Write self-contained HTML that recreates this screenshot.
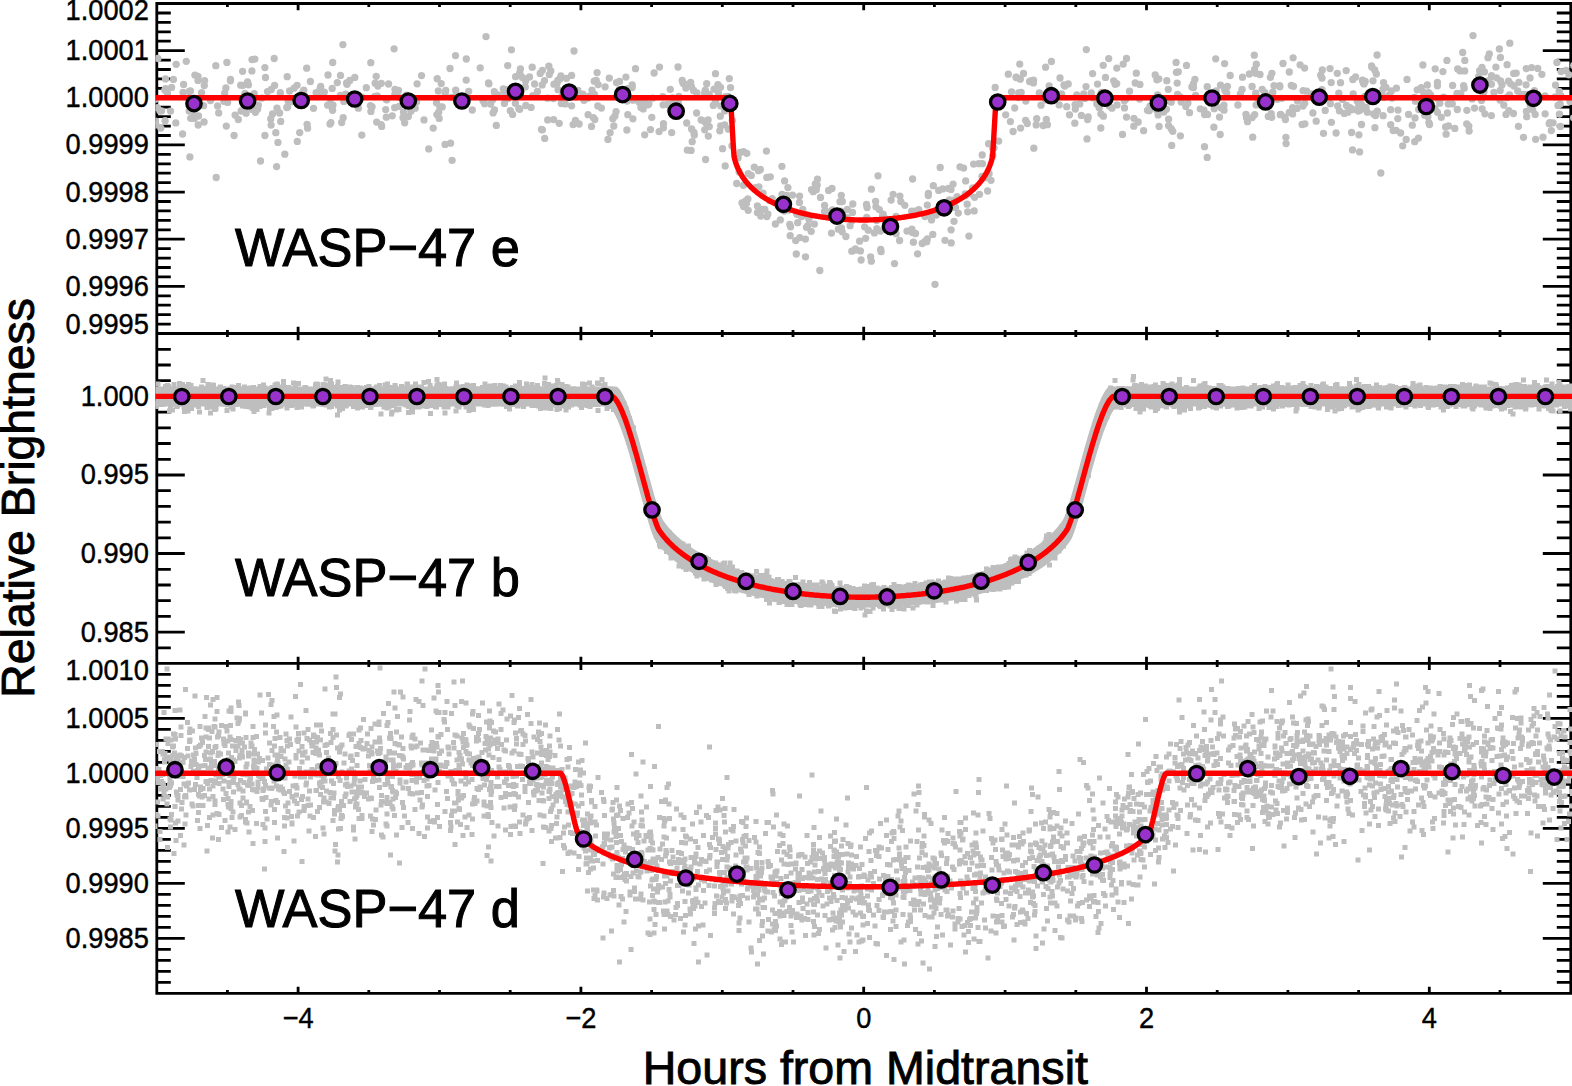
<!DOCTYPE html>
<html lang="en"><head><meta charset="utf-8"><title>WASP-47 transits</title>
<style>html,body{margin:0;padding:0;background:#fff}svg{display:block}</style></head>
<body>
<svg width="1572" height="1086" viewBox="0 0 1572 1086">
<rect width="1572" height="1086" fill="#fff"/>
<defs>
<clipPath id="c1"><rect x="155.4" y="2.2" width="1417.8" height="331.3"/></clipPath>
<clipPath id="c2"><rect x="155.4" y="333.5" width="1417.8" height="329.9"/></clipPath>
<clipPath id="c3"><rect x="155.4" y="663.4" width="1417.8" height="331.4"/></clipPath>
</defs>
<path d="M156.8 3.5H1570.8V993.4H156.8ZM156.8 333.5H1570.8M156.8 663.4H1570.8M227.4 3.5v3.5M227.4 330.0v7.0M227.4 659.9v7.0M227.4 989.9v3.5M298.1 3.5v6.7M298.1 326.8v13.4M298.1 656.7v13.4M298.1 986.7v6.7M368.8 3.5v3.5M368.8 330.0v7.0M368.8 659.9v7.0M368.8 989.9v3.5M439.5 3.5v3.5M439.5 330.0v7.0M439.5 659.9v7.0M439.5 989.9v3.5M510.2 3.5v3.5M510.2 330.0v7.0M510.2 659.9v7.0M510.2 989.9v3.5M580.9 3.5v6.7M580.9 326.8v13.4M580.9 656.7v13.4M580.9 986.7v6.7M651.6 3.5v3.5M651.6 330.0v7.0M651.6 659.9v7.0M651.6 989.9v3.5M722.3 3.5v3.5M722.3 330.0v7.0M722.3 659.9v7.0M722.3 989.9v3.5M793.0 3.5v3.5M793.0 330.0v7.0M793.0 659.9v7.0M793.0 989.9v3.5M863.7 3.5v6.7M863.7 326.8v13.4M863.7 656.7v13.4M863.7 986.7v6.7M934.4 3.5v3.5M934.4 330.0v7.0M934.4 659.9v7.0M934.4 989.9v3.5M1005.1 3.5v3.5M1005.1 330.0v7.0M1005.1 659.9v7.0M1005.1 989.9v3.5M1075.8 3.5v3.5M1075.8 330.0v7.0M1075.8 659.9v7.0M1075.8 989.9v3.5M1146.5 3.5v6.7M1146.5 326.8v13.4M1146.5 656.7v13.4M1146.5 986.7v6.7M1217.2 3.5v3.5M1217.2 330.0v7.0M1217.2 659.9v7.0M1217.2 989.9v3.5M1287.9 3.5v3.5M1287.9 330.0v7.0M1287.9 659.9v7.0M1287.9 989.9v3.5M1358.6 3.5v3.5M1358.6 330.0v7.0M1358.6 659.9v7.0M1358.6 989.9v3.5M1429.3 3.5v6.7M1429.3 326.8v13.4M1429.3 656.7v13.4M1429.3 986.7v6.7M1500.0 3.5v3.5M1500.0 330.0v7.0M1500.0 659.9v7.0M1500.0 989.9v3.5M156.8 13.0h14.0M1570.8 13.0h-14.0M156.8 22.4h14.0M1570.8 22.4h-14.0M156.8 31.8h14.0M1570.8 31.8h-14.0M156.8 41.2h14.0M1570.8 41.2h-14.0M156.8 50.7h28.0M1570.8 50.7h-28.0M156.8 60.1h14.0M1570.8 60.1h-14.0M156.8 69.5h14.0M1570.8 69.5h-14.0M156.8 78.9h14.0M1570.8 78.9h-14.0M156.8 88.4h14.0M1570.8 88.4h-14.0M156.8 97.8h28.0M1570.8 97.8h-28.0M156.8 107.2h14.0M1570.8 107.2h-14.0M156.8 116.7h14.0M1570.8 116.7h-14.0M156.8 126.1h14.0M1570.8 126.1h-14.0M156.8 135.5h14.0M1570.8 135.5h-14.0M156.8 144.9h28.0M1570.8 144.9h-28.0M156.8 154.4h14.0M1570.8 154.4h-14.0M156.8 163.8h14.0M1570.8 163.8h-14.0M156.8 173.2h14.0M1570.8 173.2h-14.0M156.8 182.6h14.0M1570.8 182.6h-14.0M156.8 192.1h28.0M1570.8 192.1h-28.0M156.8 201.5h14.0M1570.8 201.5h-14.0M156.8 210.9h14.0M1570.8 210.9h-14.0M156.8 220.4h14.0M1570.8 220.4h-14.0M156.8 229.8h14.0M1570.8 229.8h-14.0M156.8 239.2h28.0M1570.8 239.2h-28.0M156.8 248.6h14.0M1570.8 248.6h-14.0M156.8 258.1h14.0M1570.8 258.1h-14.0M156.8 267.5h14.0M1570.8 267.5h-14.0M156.8 276.9h14.0M1570.8 276.9h-14.0M156.8 286.3h28.0M1570.8 286.3h-28.0M156.8 295.8h14.0M1570.8 295.8h-14.0M156.8 305.2h14.0M1570.8 305.2h-14.0M156.8 314.6h14.0M1570.8 314.6h-14.0M156.8 324.1h14.0M1570.8 324.1h-14.0M156.8 349.3h14.0M1570.8 349.3h-14.0M156.8 365.0h14.0M1570.8 365.0h-14.0M156.8 380.7h14.0M1570.8 380.7h-14.0M156.8 396.4h28.0M1570.8 396.4h-28.0M156.8 412.1h14.0M1570.8 412.1h-14.0M156.8 427.8h14.0M1570.8 427.8h-14.0M156.8 443.5h14.0M1570.8 443.5h-14.0M156.8 459.3h14.0M1570.8 459.3h-14.0M156.8 475.0h28.0M1570.8 475.0h-28.0M156.8 490.7h14.0M1570.8 490.7h-14.0M156.8 506.4h14.0M1570.8 506.4h-14.0M156.8 522.1h14.0M1570.8 522.1h-14.0M156.8 537.8h14.0M1570.8 537.8h-14.0M156.8 553.5h28.0M1570.8 553.5h-28.0M156.8 569.3h14.0M1570.8 569.3h-14.0M156.8 585.0h14.0M1570.8 585.0h-14.0M156.8 600.7h14.0M1570.8 600.7h-14.0M156.8 616.4h14.0M1570.8 616.4h-14.0M156.8 632.1h28.0M1570.8 632.1h-28.0M156.8 647.8h14.0M1570.8 647.8h-14.0M156.8 674.3h14.0M1570.8 674.3h-14.0M156.8 685.3h14.0M1570.8 685.3h-14.0M156.8 696.3h14.0M1570.8 696.3h-14.0M156.8 707.3h14.0M1570.8 707.3h-14.0M156.8 718.3h28.0M1570.8 718.3h-28.0M156.8 729.3h14.0M1570.8 729.3h-14.0M156.8 740.3h14.0M1570.8 740.3h-14.0M156.8 751.3h14.0M1570.8 751.3h-14.0M156.8 762.3h14.0M1570.8 762.3h-14.0M156.8 773.3h28.0M1570.8 773.3h-28.0M156.8 784.3h14.0M1570.8 784.3h-14.0M156.8 795.3h14.0M1570.8 795.3h-14.0M156.8 806.3h14.0M1570.8 806.3h-14.0M156.8 817.3h14.0M1570.8 817.3h-14.0M156.8 828.3h28.0M1570.8 828.3h-28.0M156.8 839.3h14.0M1570.8 839.3h-14.0M156.8 850.3h14.0M1570.8 850.3h-14.0M156.8 861.3h14.0M1570.8 861.3h-14.0M156.8 872.3h14.0M1570.8 872.3h-14.0M156.8 883.3h28.0M1570.8 883.3h-28.0M156.8 894.3h14.0M1570.8 894.3h-14.0M156.8 905.3h14.0M1570.8 905.3h-14.0M156.8 916.3h14.0M1570.8 916.3h-14.0M156.8 927.3h14.0M1570.8 927.3h-14.0M156.8 938.3h28.0M1570.8 938.3h-28.0M156.8 949.3h14.0M1570.8 949.3h-14.0M156.8 960.3h14.0M1570.8 960.3h-14.0M156.8 971.3h14.0M1570.8 971.3h-14.0M156.8 982.3h14.0M1570.8 982.3h-14.0" fill="none" stroke="#000" stroke-width="2.8" stroke-linecap="butt" stroke-linejoin="miter"/>
<g fill="#bebebe">
<g clip-path="url(#c1)">
<circle cx="1207.2" cy="157.4" r="3.65"/><circle cx="1224.0" cy="110.2" r="3.65"/><circle cx="814.4" cy="224.1" r="3.65"/><circle cx="301.1" cy="94.8" r="3.65"/><circle cx="1526.7" cy="116.7" r="3.65"/><circle cx="609.3" cy="78.1" r="3.65"/><circle cx="438.3" cy="90.9" r="3.65"/><circle cx="1371.8" cy="67.1" r="3.65"/><circle cx="882.5" cy="216.0" r="3.65"/><circle cx="408.3" cy="116.6" r="3.65"/><circle cx="1219.5" cy="117.1" r="3.65"/><circle cx="1279.8" cy="86.8" r="3.65"/><circle cx="940.2" cy="167.5" r="3.65"/><circle cx="1320.7" cy="75.2" r="3.65"/><circle cx="1021.2" cy="92.4" r="3.65"/><circle cx="769.6" cy="200.4" r="3.65"/><circle cx="594.5" cy="94.3" r="3.65"/><circle cx="1168.3" cy="89.3" r="3.65"/><circle cx="1434.9" cy="108.5" r="3.65"/><circle cx="428.7" cy="148.9" r="3.65"/><circle cx="1020.3" cy="79.2" r="3.65"/><circle cx="241.1" cy="111.0" r="3.65"/><circle cx="936.3" cy="215.0" r="3.65"/><circle cx="313.5" cy="108.3" r="3.65"/><circle cx="1226.7" cy="93.1" r="3.65"/><circle cx="1508.8" cy="110.6" r="3.65"/><circle cx="1495.9" cy="67.1" r="3.65"/><circle cx="1177.2" cy="83.1" r="3.65"/><circle cx="1191.9" cy="87.0" r="3.65"/><circle cx="1143.6" cy="130.7" r="3.65"/><circle cx="933.3" cy="185.7" r="3.65"/><circle cx="567.1" cy="96.0" r="3.65"/><circle cx="757.4" cy="205.9" r="3.65"/><circle cx="1435.2" cy="68.8" r="3.65"/><circle cx="1566.0" cy="70.5" r="3.65"/><circle cx="1362.5" cy="80.2" r="3.65"/><circle cx="1103.2" cy="65.3" r="3.65"/><circle cx="796.9" cy="214.3" r="3.65"/><circle cx="1074.8" cy="123.2" r="3.65"/><circle cx="1381.9" cy="92.8" r="3.65"/><circle cx="1491.4" cy="84.2" r="3.65"/><circle cx="1526.1" cy="84.8" r="3.65"/><circle cx="176.2" cy="64.3" r="3.65"/><circle cx="1048.5" cy="93.0" r="3.65"/><circle cx="488.9" cy="83.8" r="3.65"/><circle cx="190.4" cy="90.9" r="3.65"/><circle cx="225.9" cy="87.9" r="3.65"/><circle cx="1330.0" cy="68.6" r="3.65"/><circle cx="760.4" cy="169.4" r="3.65"/><circle cx="287.7" cy="106.8" r="3.65"/><circle cx="1496.6" cy="77.8" r="3.65"/><circle cx="842.2" cy="231.8" r="3.65"/><circle cx="1176.4" cy="72.3" r="3.65"/><circle cx="951.0" cy="189.4" r="3.65"/><circle cx="927.3" cy="205.1" r="3.65"/><circle cx="955.5" cy="207.4" r="3.65"/><circle cx="515.6" cy="76.7" r="3.65"/><circle cx="654.1" cy="73.0" r="3.65"/><circle cx="399.2" cy="97.4" r="3.65"/><circle cx="1225.4" cy="88.9" r="3.65"/><circle cx="841.4" cy="227.8" r="3.65"/><circle cx="861.1" cy="260.0" r="3.65"/><circle cx="659.1" cy="131.6" r="3.65"/><circle cx="1523.5" cy="137.3" r="3.65"/><circle cx="1500.4" cy="57.4" r="3.65"/><circle cx="775.4" cy="224.0" r="3.65"/><circle cx="246.0" cy="99.8" r="3.65"/><circle cx="1484.9" cy="113.8" r="3.65"/><circle cx="1139.9" cy="84.4" r="3.65"/><circle cx="718.5" cy="93.3" r="3.65"/><circle cx="1421.2" cy="87.6" r="3.65"/><circle cx="217.6" cy="105.9" r="3.65"/><circle cx="593.3" cy="117.6" r="3.65"/><circle cx="871.4" cy="189.2" r="3.65"/><circle cx="985.0" cy="177.8" r="3.65"/><circle cx="529.5" cy="77.0" r="3.65"/><circle cx="234.1" cy="135.5" r="3.65"/><circle cx="190.7" cy="118.3" r="3.65"/><circle cx="216.2" cy="177.5" r="3.65"/><circle cx="1283.0" cy="63.5" r="3.65"/><circle cx="984.3" cy="177.6" r="3.65"/><circle cx="1150.0" cy="106.2" r="3.65"/><circle cx="758.9" cy="186.8" r="3.65"/><circle cx="275.8" cy="132.7" r="3.65"/><circle cx="1377.1" cy="55.0" r="3.65"/><circle cx="784.7" cy="200.0" r="3.65"/><circle cx="1445.6" cy="127.0" r="3.65"/><circle cx="1103.4" cy="116.2" r="3.65"/><circle cx="1039.3" cy="92.9" r="3.65"/><circle cx="1247.5" cy="121.7" r="3.65"/><circle cx="817.2" cy="185.1" r="3.65"/><circle cx="573.1" cy="124.6" r="3.65"/><circle cx="307.1" cy="124.3" r="3.65"/><circle cx="376.7" cy="122.1" r="3.65"/><circle cx="403.5" cy="112.3" r="3.65"/><circle cx="1086.0" cy="86.6" r="3.65"/><circle cx="632.9" cy="118.8" r="3.65"/><circle cx="1068.2" cy="83.9" r="3.65"/><circle cx="1125.7" cy="99.2" r="3.65"/><circle cx="824.5" cy="211.4" r="3.65"/><circle cx="724.8" cy="124.9" r="3.65"/><circle cx="715.7" cy="99.7" r="3.65"/><circle cx="1518.9" cy="82.3" r="3.65"/><circle cx="790.2" cy="235.7" r="3.65"/><circle cx="1513.4" cy="113.5" r="3.65"/><circle cx="1396.1" cy="130.3" r="3.65"/><circle cx="904.8" cy="205.3" r="3.65"/><circle cx="1530.0" cy="78.0" r="3.65"/><circle cx="218.7" cy="112.9" r="3.65"/><circle cx="358.4" cy="108.2" r="3.65"/><circle cx="517.5" cy="91.7" r="3.65"/><circle cx="1156.9" cy="79.8" r="3.65"/><circle cx="1553.1" cy="122.8" r="3.65"/><circle cx="831.5" cy="233.1" r="3.65"/><circle cx="1284.9" cy="117.1" r="3.65"/><circle cx="1376.3" cy="74.0" r="3.65"/><circle cx="381.1" cy="124.6" r="3.65"/><circle cx="828.6" cy="190.4" r="3.65"/><circle cx="410.9" cy="111.3" r="3.65"/><circle cx="1429.5" cy="124.6" r="3.65"/><circle cx="1443.6" cy="97.1" r="3.65"/><circle cx="506.7" cy="97.5" r="3.65"/><circle cx="1507.1" cy="64.7" r="3.65"/><circle cx="1400.6" cy="133.0" r="3.65"/><circle cx="786.9" cy="195.3" r="3.65"/><circle cx="1086.3" cy="49.6" r="3.65"/><circle cx="896.1" cy="233.7" r="3.65"/><circle cx="1254.7" cy="114.6" r="3.65"/><circle cx="911.9" cy="229.2" r="3.65"/><circle cx="1509.5" cy="94.8" r="3.65"/><circle cx="540.2" cy="73.4" r="3.65"/><circle cx="332.7" cy="62.5" r="3.65"/><circle cx="332.2" cy="88.4" r="3.65"/><circle cx="1506.8" cy="97.7" r="3.65"/><circle cx="974.2" cy="210.9" r="3.65"/><circle cx="1157.7" cy="94.8" r="3.65"/><circle cx="1010.4" cy="121.6" r="3.65"/><circle cx="1025.8" cy="101.1" r="3.65"/><circle cx="1020.6" cy="128.1" r="3.65"/><circle cx="937.6" cy="209.3" r="3.65"/><circle cx="954.4" cy="200.2" r="3.65"/><circle cx="1367.3" cy="112.2" r="3.65"/><circle cx="740.0" cy="152.5" r="3.65"/><circle cx="875.6" cy="201.3" r="3.65"/><circle cx="1375.5" cy="115.5" r="3.65"/><circle cx="1446.1" cy="134.2" r="3.65"/><circle cx="1531.6" cy="67.6" r="3.65"/><circle cx="271.1" cy="125.1" r="3.65"/><circle cx="815.3" cy="184.0" r="3.65"/><circle cx="1092.6" cy="73.6" r="3.65"/><circle cx="1398.0" cy="110.1" r="3.65"/><circle cx="1352.5" cy="149.9" r="3.65"/><circle cx="496.3" cy="125.4" r="3.65"/><circle cx="1502.0" cy="84.7" r="3.65"/><circle cx="708.1" cy="120.0" r="3.65"/><circle cx="894.5" cy="263.6" r="3.65"/><circle cx="1047.4" cy="124.7" r="3.65"/><circle cx="875.9" cy="206.8" r="3.65"/><circle cx="1270.4" cy="77.3" r="3.65"/><circle cx="1101.1" cy="93.5" r="3.65"/><circle cx="1069.5" cy="114.8" r="3.65"/><circle cx="1242.5" cy="77.2" r="3.65"/><circle cx="445.2" cy="94.0" r="3.65"/><circle cx="576.1" cy="96.9" r="3.65"/><circle cx="588.0" cy="98.0" r="3.65"/><circle cx="806.5" cy="227.3" r="3.65"/><circle cx="165.5" cy="78.9" r="3.65"/><circle cx="979.5" cy="194.3" r="3.65"/><circle cx="415.2" cy="108.2" r="3.65"/><circle cx="331.9" cy="107.2" r="3.65"/><circle cx="1383.1" cy="88.8" r="3.65"/><circle cx="194.3" cy="118.5" r="3.65"/><circle cx="784.6" cy="180.9" r="3.65"/><circle cx="372.1" cy="106.8" r="3.65"/><circle cx="672.4" cy="98.0" r="3.65"/><circle cx="1014.8" cy="108.0" r="3.65"/><circle cx="729.3" cy="78.6" r="3.65"/><circle cx="299.7" cy="132.6" r="3.65"/><circle cx="547.7" cy="119.9" r="3.65"/><circle cx="324.3" cy="92.1" r="3.65"/><circle cx="280.7" cy="121.4" r="3.65"/><circle cx="227.6" cy="102.4" r="3.65"/><circle cx="251.9" cy="70.9" r="3.65"/><circle cx="242.9" cy="85.3" r="3.65"/><circle cx="330.3" cy="98.8" r="3.65"/><circle cx="1530.2" cy="105.2" r="3.65"/><circle cx="242.6" cy="71.3" r="3.65"/><circle cx="1157.6" cy="95.5" r="3.65"/><circle cx="953.1" cy="184.1" r="3.65"/><circle cx="439.9" cy="106.9" r="3.65"/><circle cx="676.9" cy="115.9" r="3.65"/><circle cx="1297.5" cy="101.1" r="3.65"/><circle cx="319.7" cy="93.4" r="3.65"/><circle cx="1418.7" cy="109.5" r="3.65"/><circle cx="915.5" cy="233.5" r="3.65"/><circle cx="399.2" cy="106.4" r="3.65"/><circle cx="644.1" cy="101.9" r="3.65"/><circle cx="542.4" cy="70.3" r="3.65"/><circle cx="743.6" cy="206.5" r="3.65"/><circle cx="738.1" cy="158.1" r="3.65"/><circle cx="1168.6" cy="125.6" r="3.65"/><circle cx="436.9" cy="114.6" r="3.65"/><circle cx="1136.3" cy="73.2" r="3.65"/><circle cx="518.8" cy="108.5" r="3.65"/><circle cx="157.4" cy="107.7" r="3.65"/><circle cx="807.8" cy="225.6" r="3.65"/><circle cx="394.8" cy="94.7" r="3.65"/><circle cx="566.5" cy="78.3" r="3.65"/><circle cx="663.1" cy="104.8" r="3.65"/><circle cx="1560.8" cy="95.6" r="3.65"/><circle cx="1214.2" cy="108.7" r="3.65"/><circle cx="1337.7" cy="106.0" r="3.65"/><circle cx="506.8" cy="90.0" r="3.65"/><circle cx="876.8" cy="228.7" r="3.65"/><circle cx="969.5" cy="193.9" r="3.65"/><circle cx="868.3" cy="230.2" r="3.65"/><circle cx="1237.9" cy="105.0" r="3.65"/><circle cx="766.8" cy="216.6" r="3.65"/><circle cx="306.7" cy="68.2" r="3.65"/><circle cx="1100.6" cy="96.7" r="3.65"/><circle cx="1302.9" cy="106.0" r="3.65"/><circle cx="167.5" cy="93.5" r="3.65"/><circle cx="276.6" cy="166.6" r="3.65"/><circle cx="1178.3" cy="71.8" r="3.65"/><circle cx="1289.3" cy="72.0" r="3.65"/><circle cx="691.1" cy="150.4" r="3.65"/><circle cx="601.4" cy="108.1" r="3.65"/><circle cx="951.5" cy="206.1" r="3.65"/><circle cx="557.8" cy="80.5" r="3.65"/><circle cx="450.6" cy="143.2" r="3.65"/><circle cx="879.3" cy="209.6" r="3.65"/><circle cx="1407.0" cy="79.4" r="3.65"/><circle cx="1165.1" cy="101.2" r="3.65"/><circle cx="392.2" cy="115.8" r="3.65"/><circle cx="648.9" cy="103.8" r="3.65"/><circle cx="1271.7" cy="117.3" r="3.65"/><circle cx="1427.3" cy="85.0" r="3.65"/><circle cx="244.9" cy="93.5" r="3.65"/><circle cx="507.7" cy="98.7" r="3.65"/><circle cx="1484.0" cy="91.4" r="3.65"/><circle cx="988.6" cy="143.7" r="3.65"/><circle cx="198.0" cy="80.4" r="3.65"/><circle cx="1177.6" cy="94.4" r="3.65"/><circle cx="310.4" cy="81.5" r="3.65"/><circle cx="1491.6" cy="75.7" r="3.65"/><circle cx="361.8" cy="135.1" r="3.65"/><circle cx="1221.0" cy="107.8" r="3.65"/><circle cx="349.8" cy="80.4" r="3.65"/><circle cx="684.1" cy="84.0" r="3.65"/><circle cx="189.9" cy="156.9" r="3.65"/><circle cx="1418.5" cy="138.1" r="3.65"/><circle cx="1224.9" cy="90.6" r="3.65"/><circle cx="667.5" cy="104.5" r="3.65"/><circle cx="256.4" cy="105.9" r="3.65"/><circle cx="161.6" cy="110.8" r="3.65"/><circle cx="343.2" cy="117.7" r="3.65"/><circle cx="1316.1" cy="96.3" r="3.65"/><circle cx="333.0" cy="105.1" r="3.65"/><circle cx="644.7" cy="134.8" r="3.65"/><circle cx="772.2" cy="198.6" r="3.65"/><circle cx="549.3" cy="74.6" r="3.65"/><circle cx="210.5" cy="100.6" r="3.65"/><circle cx="736.7" cy="183.5" r="3.65"/><circle cx="255.4" cy="112.3" r="3.65"/><circle cx="693.6" cy="90.5" r="3.65"/><circle cx="198.0" cy="76.3" r="3.65"/><circle cx="513.8" cy="87.5" r="3.65"/><circle cx="811.2" cy="231.3" r="3.65"/><circle cx="1180.2" cy="96.8" r="3.65"/><circle cx="880.7" cy="249.5" r="3.65"/><circle cx="337.3" cy="82.6" r="3.65"/><circle cx="1043.2" cy="125.5" r="3.65"/><circle cx="505.2" cy="98.8" r="3.65"/><circle cx="754.3" cy="167.2" r="3.65"/><circle cx="992.8" cy="155.6" r="3.65"/><circle cx="238.3" cy="119.5" r="3.65"/><circle cx="562.1" cy="96.8" r="3.65"/><circle cx="770.3" cy="176.8" r="3.65"/><circle cx="1031.1" cy="81.0" r="3.65"/><circle cx="1105.5" cy="77.4" r="3.65"/><circle cx="627.1" cy="101.0" r="3.65"/><circle cx="1358.9" cy="134.8" r="3.65"/><circle cx="1510.7" cy="83.8" r="3.65"/><circle cx="838.4" cy="229.2" r="3.65"/><circle cx="1350.0" cy="107.6" r="3.65"/><circle cx="1464.8" cy="60.4" r="3.65"/><circle cx="1545.1" cy="96.0" r="3.65"/><circle cx="1340.5" cy="82.7" r="3.65"/><circle cx="1293.1" cy="57.8" r="3.65"/><circle cx="1545.1" cy="113.8" r="3.65"/><circle cx="757.4" cy="212.6" r="3.65"/><circle cx="799.4" cy="202.4" r="3.65"/><circle cx="532.6" cy="95.8" r="3.65"/><circle cx="1264.9" cy="92.6" r="3.65"/><circle cx="763.1" cy="193.1" r="3.65"/><circle cx="297.1" cy="85.3" r="3.65"/><circle cx="1359.6" cy="151.9" r="3.65"/><circle cx="1246.0" cy="114.3" r="3.65"/><circle cx="1227.4" cy="86.3" r="3.65"/><circle cx="1292.6" cy="107.6" r="3.65"/><circle cx="874.4" cy="232.9" r="3.65"/><circle cx="859.6" cy="241.2" r="3.65"/><circle cx="1166.4" cy="109.3" r="3.65"/><circle cx="691.4" cy="86.6" r="3.65"/><circle cx="847.2" cy="217.7" r="3.65"/><circle cx="330.4" cy="104.3" r="3.65"/><circle cx="534.6" cy="84.0" r="3.65"/><circle cx="783.1" cy="199.2" r="3.65"/><circle cx="505.8" cy="97.6" r="3.65"/><circle cx="663.4" cy="127.8" r="3.65"/><circle cx="687.3" cy="150.1" r="3.65"/><circle cx="1558.0" cy="105.4" r="3.65"/><circle cx="416.5" cy="102.1" r="3.65"/><circle cx="486.0" cy="36.6" r="3.65"/><circle cx="1573.7" cy="65.5" r="3.65"/><circle cx="705.6" cy="159.5" r="3.65"/><circle cx="1532.7" cy="109.8" r="3.65"/><circle cx="1320.2" cy="93.6" r="3.65"/><circle cx="935.0" cy="284.3" r="3.65"/><circle cx="1330.4" cy="103.7" r="3.65"/><circle cx="1204.6" cy="114.6" r="3.65"/><circle cx="960.0" cy="166.8" r="3.65"/><circle cx="694.3" cy="135.0" r="3.65"/><circle cx="1437.4" cy="85.8" r="3.65"/><circle cx="1437.4" cy="82.3" r="3.65"/><circle cx="913.4" cy="242.2" r="3.65"/><circle cx="1122.5" cy="134.4" r="3.65"/><circle cx="1303.1" cy="90.7" r="3.65"/><circle cx="743.4" cy="185.3" r="3.65"/><circle cx="1252.1" cy="86.5" r="3.65"/><circle cx="224.7" cy="98.4" r="3.65"/><circle cx="651.8" cy="117.3" r="3.65"/><circle cx="226.3" cy="126.1" r="3.65"/><circle cx="173.4" cy="79.4" r="3.65"/><circle cx="1551.3" cy="130.6" r="3.65"/><circle cx="948.0" cy="209.1" r="3.65"/><circle cx="1428.9" cy="122.6" r="3.65"/><circle cx="1438.3" cy="98.9" r="3.65"/><circle cx="625.9" cy="77.1" r="3.65"/><circle cx="1138.2" cy="122.0" r="3.65"/><circle cx="1220.2" cy="134.5" r="3.65"/><circle cx="1185.8" cy="106.6" r="3.65"/><circle cx="480.2" cy="67.8" r="3.65"/><circle cx="1537.8" cy="68.4" r="3.65"/><circle cx="1216.2" cy="91.0" r="3.65"/><circle cx="745.5" cy="201.1" r="3.65"/><circle cx="1516.2" cy="73.1" r="3.65"/><circle cx="544.5" cy="80.6" r="3.65"/><circle cx="855.4" cy="249.0" r="3.65"/><circle cx="792.5" cy="195.1" r="3.65"/><circle cx="881.1" cy="251.7" r="3.65"/><circle cx="1555.2" cy="96.9" r="3.65"/><circle cx="878.0" cy="175.8" r="3.65"/><circle cx="215.8" cy="65.7" r="3.65"/><circle cx="724.7" cy="110.9" r="3.65"/><circle cx="932.8" cy="234.4" r="3.65"/><circle cx="344.1" cy="98.3" r="3.65"/><circle cx="575.4" cy="120.4" r="3.65"/><circle cx="1025.6" cy="120.3" r="3.65"/><circle cx="789.8" cy="224.3" r="3.65"/><circle cx="958.3" cy="213.1" r="3.65"/><circle cx="1100.9" cy="113.8" r="3.65"/><circle cx="931.5" cy="219.9" r="3.65"/><circle cx="633.1" cy="100.2" r="3.65"/><circle cx="764.8" cy="209.4" r="3.65"/><circle cx="548.8" cy="66.2" r="3.65"/><circle cx="492.6" cy="99.8" r="3.65"/><circle cx="612.8" cy="118.7" r="3.65"/><circle cx="743.5" cy="151.7" r="3.65"/><circle cx="264.9" cy="67.6" r="3.65"/><circle cx="982.4" cy="163.7" r="3.65"/><circle cx="1207.2" cy="86.7" r="3.65"/><circle cx="850.1" cy="225.7" r="3.65"/><circle cx="1527.5" cy="94.3" r="3.65"/><circle cx="203.6" cy="105.7" r="3.65"/><circle cx="332.6" cy="110.3" r="3.65"/><circle cx="260.5" cy="161.0" r="3.65"/><circle cx="1171.7" cy="145.4" r="3.65"/><circle cx="346.6" cy="82.9" r="3.65"/><circle cx="388.6" cy="84.0" r="3.65"/><circle cx="610.1" cy="132.7" r="3.65"/><circle cx="627.8" cy="114.7" r="3.65"/><circle cx="247.6" cy="82.0" r="3.65"/><circle cx="995.2" cy="87.5" r="3.65"/><circle cx="1331.2" cy="82.6" r="3.65"/><circle cx="1100.8" cy="128.0" r="3.65"/><circle cx="240.7" cy="85.2" r="3.65"/><circle cx="852.8" cy="204.0" r="3.65"/><circle cx="1200.3" cy="108.8" r="3.65"/><circle cx="682.2" cy="80.4" r="3.65"/><circle cx="766.4" cy="151.1" r="3.65"/><circle cx="867.2" cy="218.8" r="3.65"/><circle cx="704.0" cy="121.1" r="3.65"/><circle cx="994.1" cy="147.8" r="3.65"/><circle cx="852.5" cy="212.4" r="3.65"/><circle cx="982.0" cy="176.3" r="3.65"/><circle cx="1362.5" cy="107.2" r="3.65"/><circle cx="1312.9" cy="113.0" r="3.65"/><circle cx="643.2" cy="108.9" r="3.65"/><circle cx="1408.6" cy="114.4" r="3.65"/><circle cx="751.3" cy="175.4" r="3.65"/><circle cx="1457.3" cy="109.5" r="3.65"/><circle cx="525.6" cy="80.9" r="3.65"/><circle cx="1101.7" cy="92.3" r="3.65"/><circle cx="663.5" cy="123.7" r="3.65"/><circle cx="498.1" cy="94.8" r="3.65"/><circle cx="413.9" cy="100.1" r="3.65"/><circle cx="899.9" cy="196.1" r="3.65"/><circle cx="1203.9" cy="110.1" r="3.65"/><circle cx="616.1" cy="111.6" r="3.65"/><circle cx="842.3" cy="201.5" r="3.65"/><circle cx="155.4" cy="121.1" r="3.65"/><circle cx="510.3" cy="110.7" r="3.65"/><circle cx="1206.8" cy="98.4" r="3.65"/><circle cx="1293.5" cy="86.3" r="3.65"/><circle cx="436.5" cy="102.8" r="3.65"/><circle cx="437.2" cy="78.7" r="3.65"/><circle cx="1088.2" cy="117.0" r="3.65"/><circle cx="356.1" cy="100.0" r="3.65"/><circle cx="826.3" cy="211.4" r="3.65"/><circle cx="1555.5" cy="85.1" r="3.65"/><circle cx="252.0" cy="59.6" r="3.65"/><circle cx="1046.3" cy="119.4" r="3.65"/><circle cx="1417.2" cy="89.8" r="3.65"/><circle cx="340.4" cy="95.3" r="3.65"/><circle cx="1454.8" cy="128.4" r="3.65"/><circle cx="719.8" cy="130.8" r="3.65"/><circle cx="507.7" cy="65.6" r="3.65"/><circle cx="896.1" cy="216.4" r="3.65"/><circle cx="802.8" cy="209.5" r="3.65"/><circle cx="914.2" cy="214.5" r="3.65"/><circle cx="1147.5" cy="110.3" r="3.65"/><circle cx="670.4" cy="110.5" r="3.65"/><circle cx="320.2" cy="88.3" r="3.65"/><circle cx="265.5" cy="77.5" r="3.65"/><circle cx="512.6" cy="114.4" r="3.65"/><circle cx="1280.3" cy="114.7" r="3.65"/><circle cx="1536.1" cy="98.2" r="3.65"/><circle cx="287.2" cy="76.7" r="3.65"/><circle cx="1060.0" cy="78.0" r="3.65"/><circle cx="1322.0" cy="89.7" r="3.65"/><circle cx="1255.7" cy="73.3" r="3.65"/><circle cx="1075.1" cy="104.6" r="3.65"/><circle cx="709.2" cy="94.4" r="3.65"/><circle cx="1242.1" cy="89.4" r="3.65"/><circle cx="1560.2" cy="104.0" r="3.65"/><circle cx="559.8" cy="78.9" r="3.65"/><circle cx="784.2" cy="211.1" r="3.65"/><circle cx="1351.6" cy="132.5" r="3.65"/><circle cx="404.7" cy="122.8" r="3.65"/><circle cx="350.1" cy="99.5" r="3.65"/><circle cx="965.4" cy="195.8" r="3.65"/><circle cx="808.9" cy="219.2" r="3.65"/><circle cx="1193.4" cy="83.6" r="3.65"/><circle cx="1076.0" cy="105.1" r="3.65"/><circle cx="594.2" cy="81.2" r="3.65"/><circle cx="945.0" cy="240.3" r="3.65"/><circle cx="722.6" cy="148.7" r="3.65"/><circle cx="451.6" cy="97.4" r="3.65"/><circle cx="1452.6" cy="85.5" r="3.65"/><circle cx="254.8" cy="59.1" r="3.65"/><circle cx="1322.3" cy="69.9" r="3.65"/><circle cx="1277.3" cy="99.3" r="3.65"/><circle cx="841.0" cy="211.1" r="3.65"/><circle cx="597.8" cy="105.9" r="3.65"/><circle cx="1402.7" cy="145.8" r="3.65"/><circle cx="1439.8" cy="103.2" r="3.65"/><circle cx="341.7" cy="122.5" r="3.65"/><circle cx="553.6" cy="119.6" r="3.65"/><circle cx="438.7" cy="112.2" r="3.65"/><circle cx="1448.5" cy="125.9" r="3.65"/><circle cx="616.5" cy="82.6" r="3.65"/><circle cx="947.7" cy="201.8" r="3.65"/><circle cx="562.1" cy="97.5" r="3.65"/><circle cx="1506.0" cy="114.4" r="3.65"/><circle cx="968.9" cy="236.1" r="3.65"/><circle cx="1428.6" cy="92.6" r="3.65"/><circle cx="1059.2" cy="104.9" r="3.65"/><circle cx="1274.0" cy="85.6" r="3.65"/><circle cx="1352.8" cy="79.5" r="3.65"/><circle cx="1230.2" cy="75.5" r="3.65"/><circle cx="1097.5" cy="84.1" r="3.65"/><circle cx="639.2" cy="102.2" r="3.65"/><circle cx="1133.9" cy="118.3" r="3.65"/><circle cx="852.1" cy="220.6" r="3.65"/><circle cx="201.6" cy="92.6" r="3.65"/><circle cx="670.3" cy="89.3" r="3.65"/><circle cx="1423.6" cy="92.5" r="3.65"/><circle cx="1215.7" cy="58.8" r="3.65"/><circle cx="851.8" cy="251.2" r="3.65"/><circle cx="731.9" cy="145.8" r="3.65"/><circle cx="635.5" cy="68.7" r="3.65"/><circle cx="1129.5" cy="91.2" r="3.65"/><circle cx="746.8" cy="153.3" r="3.65"/><circle cx="1181.2" cy="102.1" r="3.65"/><circle cx="1265.9" cy="104.0" r="3.65"/><circle cx="860.4" cy="250.9" r="3.65"/><circle cx="1385.9" cy="87.3" r="3.65"/><circle cx="847.4" cy="209.5" r="3.65"/><circle cx="1172.8" cy="131.3" r="3.65"/><circle cx="1460.7" cy="93.3" r="3.65"/><circle cx="1559.2" cy="91.3" r="3.65"/><circle cx="928.4" cy="193.3" r="3.65"/><circle cx="929.2" cy="214.1" r="3.65"/><circle cx="157.9" cy="58.5" r="3.65"/><circle cx="1484.4" cy="71.9" r="3.65"/><circle cx="1156.9" cy="110.1" r="3.65"/><circle cx="1508.5" cy="81.2" r="3.65"/><circle cx="1447.4" cy="113.0" r="3.65"/><circle cx="704.7" cy="129.8" r="3.65"/><circle cx="1361.5" cy="124.5" r="3.65"/><circle cx="1285.4" cy="119.6" r="3.65"/><circle cx="1215.5" cy="106.0" r="3.65"/><circle cx="1393.2" cy="130.5" r="3.65"/><circle cx="596.2" cy="80.3" r="3.65"/><circle cx="900.8" cy="201.6" r="3.65"/><circle cx="1491.4" cy="115.6" r="3.65"/><circle cx="801.6" cy="216.7" r="3.65"/><circle cx="1126.5" cy="117.1" r="3.65"/><circle cx="588.1" cy="114.7" r="3.65"/><circle cx="424.0" cy="119.9" r="3.65"/><circle cx="683.0" cy="82.9" r="3.65"/><circle cx="345.8" cy="95.1" r="3.65"/><circle cx="1537.7" cy="94.7" r="3.65"/><circle cx="484.6" cy="103.8" r="3.65"/><circle cx="998.7" cy="141.1" r="3.65"/><circle cx="884.2" cy="219.0" r="3.65"/><circle cx="1302.1" cy="124.5" r="3.65"/><circle cx="204.1" cy="122.0" r="3.65"/><circle cx="171.6" cy="87.4" r="3.65"/><circle cx="866.7" cy="217.4" r="3.65"/><circle cx="864.6" cy="226.8" r="3.65"/><circle cx="1392.0" cy="98.1" r="3.65"/><circle cx="973.6" cy="164.1" r="3.65"/><circle cx="504.4" cy="103.4" r="3.65"/><circle cx="254.2" cy="93.7" r="3.65"/><circle cx="519.8" cy="72.7" r="3.65"/><circle cx="532.2" cy="67.2" r="3.65"/><circle cx="632.2" cy="87.5" r="3.65"/><circle cx="1466.9" cy="110.3" r="3.65"/><circle cx="1297.1" cy="108.4" r="3.65"/><circle cx="918.7" cy="209.6" r="3.65"/><circle cx="1560.4" cy="126.4" r="3.65"/><circle cx="224.7" cy="93.1" r="3.65"/><circle cx="1135.2" cy="83.0" r="3.65"/><circle cx="547.6" cy="98.2" r="3.65"/><circle cx="442.2" cy="106.9" r="3.65"/><circle cx="915.2" cy="211.1" r="3.65"/><circle cx="705.3" cy="90.2" r="3.65"/><circle cx="303.8" cy="90.2" r="3.65"/><circle cx="1474.5" cy="108.1" r="3.65"/><circle cx="626.9" cy="130.0" r="3.65"/><circle cx="619.2" cy="89.6" r="3.65"/><circle cx="267.5" cy="91.6" r="3.65"/><circle cx="289.6" cy="91.0" r="3.65"/><circle cx="805.4" cy="239.1" r="3.65"/><circle cx="374.8" cy="96.5" r="3.65"/><circle cx="1109.3" cy="106.1" r="3.65"/><circle cx="1262.2" cy="89.3" r="3.65"/><circle cx="887.0" cy="224.4" r="3.65"/><circle cx="725.6" cy="96.6" r="3.65"/><circle cx="550.8" cy="70.9" r="3.65"/><circle cx="1325.2" cy="110.4" r="3.65"/><circle cx="1346.5" cy="105.5" r="3.65"/><circle cx="246.1" cy="113.2" r="3.65"/><circle cx="565.3" cy="103.9" r="3.65"/><circle cx="788.7" cy="210.1" r="3.65"/><circle cx="1412.3" cy="125.2" r="3.65"/><circle cx="1204.5" cy="146.7" r="3.65"/><circle cx="230.5" cy="79.5" r="3.65"/><circle cx="1029.6" cy="81.5" r="3.65"/><circle cx="155.9" cy="124.9" r="3.65"/><circle cx="870.6" cy="256.8" r="3.65"/><circle cx="1187.9" cy="102.9" r="3.65"/><circle cx="1033.5" cy="80.2" r="3.65"/><circle cx="1523.3" cy="94.3" r="3.65"/><circle cx="370.8" cy="62.7" r="3.65"/><circle cx="1189.5" cy="112.7" r="3.65"/><circle cx="223.9" cy="101.3" r="3.65"/><circle cx="1076.8" cy="94.8" r="3.65"/><circle cx="715.5" cy="73.7" r="3.65"/><circle cx="1323.5" cy="133.3" r="3.65"/><circle cx="277.0" cy="108.2" r="3.65"/><circle cx="1220.5" cy="85.2" r="3.65"/><circle cx="678.4" cy="103.0" r="3.65"/><circle cx="574.0" cy="51.0" r="3.65"/><circle cx="1195.6" cy="95.3" r="3.65"/><circle cx="1149.4" cy="110.3" r="3.65"/><circle cx="1268.3" cy="116.4" r="3.65"/><circle cx="948.5" cy="188.4" r="3.65"/><circle cx="1049.2" cy="85.9" r="3.65"/><circle cx="370.4" cy="105.6" r="3.65"/><circle cx="1075.3" cy="109.1" r="3.65"/><circle cx="452.1" cy="160.3" r="3.65"/><circle cx="886.6" cy="219.2" r="3.65"/><circle cx="304.1" cy="95.1" r="3.65"/><circle cx="1481.5" cy="100.4" r="3.65"/><circle cx="632.2" cy="84.9" r="3.65"/><circle cx="1479.7" cy="70.7" r="3.65"/><circle cx="279.6" cy="113.0" r="3.65"/><circle cx="1083.8" cy="93.9" r="3.65"/><circle cx="883.1" cy="214.2" r="3.65"/><circle cx="876.7" cy="220.5" r="3.65"/><circle cx="584.0" cy="100.3" r="3.65"/><circle cx="690.6" cy="82.4" r="3.65"/><circle cx="1518.4" cy="126.3" r="3.65"/><circle cx="493.1" cy="112.9" r="3.65"/><circle cx="1573.6" cy="117.8" r="3.65"/><circle cx="1280.7" cy="114.3" r="3.65"/><circle cx="542.4" cy="129.8" r="3.65"/><circle cx="619.5" cy="81.4" r="3.65"/><circle cx="1391.3" cy="91.0" r="3.65"/><circle cx="652.9" cy="98.1" r="3.65"/><circle cx="1041.0" cy="105.2" r="3.65"/><circle cx="361.8" cy="97.2" r="3.65"/><circle cx="350.1" cy="101.3" r="3.65"/><circle cx="720.7" cy="125.8" r="3.65"/><circle cx="328.0" cy="75.0" r="3.65"/><circle cx="706.3" cy="123.4" r="3.65"/><circle cx="582.9" cy="94.2" r="3.65"/><circle cx="541.5" cy="129.5" r="3.65"/><circle cx="1311.5" cy="93.8" r="3.65"/><circle cx="198.2" cy="125.0" r="3.65"/><circle cx="1116.8" cy="68.1" r="3.65"/><circle cx="1517.7" cy="91.0" r="3.65"/><circle cx="708.3" cy="136.1" r="3.65"/><circle cx="1036.7" cy="118.7" r="3.65"/><circle cx="1115.2" cy="84.3" r="3.65"/><circle cx="456.4" cy="95.3" r="3.65"/><circle cx="1091.3" cy="92.9" r="3.65"/><circle cx="1457.7" cy="69.0" r="3.65"/><circle cx="252.2" cy="109.4" r="3.65"/><circle cx="286.8" cy="107.5" r="3.65"/><circle cx="1271.2" cy="113.7" r="3.65"/><circle cx="1342.5" cy="99.4" r="3.65"/><circle cx="441.2" cy="83.6" r="3.65"/><circle cx="519.7" cy="109.3" r="3.65"/><circle cx="1117.0" cy="104.9" r="3.65"/><circle cx="330.0" cy="124.1" r="3.65"/><circle cx="1383.1" cy="115.7" r="3.65"/><circle cx="1526.4" cy="111.3" r="3.65"/><circle cx="766.8" cy="177.4" r="3.65"/><circle cx="706.7" cy="83.7" r="3.65"/><circle cx="1561.0" cy="71.6" r="3.65"/><circle cx="554.0" cy="84.2" r="3.65"/><circle cx="288.3" cy="101.4" r="3.65"/><circle cx="511.4" cy="49.8" r="3.65"/><circle cx="1415.0" cy="118.0" r="3.65"/><circle cx="226.9" cy="62.4" r="3.65"/><circle cx="720.5" cy="87.3" r="3.65"/><circle cx="949.4" cy="199.9" r="3.65"/><circle cx="204.3" cy="85.5" r="3.65"/><circle cx="1304.6" cy="68.1" r="3.65"/><circle cx="346.3" cy="98.9" r="3.65"/><circle cx="274.2" cy="58.5" r="3.65"/><circle cx="780.3" cy="219.9" r="3.65"/><circle cx="262.0" cy="98.1" r="3.65"/><circle cx="1338.8" cy="93.2" r="3.65"/><circle cx="1240.4" cy="93.9" r="3.65"/><circle cx="1468.8" cy="126.1" r="3.65"/><circle cx="386.4" cy="99.5" r="3.65"/><circle cx="720.3" cy="116.2" r="3.65"/><circle cx="942.7" cy="188.9" r="3.65"/><circle cx="504.4" cy="91.5" r="3.65"/><circle cx="867.1" cy="207.5" r="3.65"/><circle cx="542.2" cy="84.9" r="3.65"/><circle cx="1005.7" cy="114.8" r="3.65"/><circle cx="1096.8" cy="103.9" r="3.65"/><circle cx="832.4" cy="209.8" r="3.65"/><circle cx="605.1" cy="86.8" r="3.65"/><circle cx="1271.9" cy="73.3" r="3.65"/><circle cx="1374.7" cy="70.0" r="3.65"/><circle cx="1390.7" cy="124.7" r="3.65"/><circle cx="598.1" cy="84.6" r="3.65"/><circle cx="1478.7" cy="76.3" r="3.65"/><circle cx="170.5" cy="111.1" r="3.65"/><circle cx="1442.9" cy="71.6" r="3.65"/><circle cx="951.1" cy="229.8" r="3.65"/><circle cx="386.7" cy="99.8" r="3.65"/><circle cx="544.7" cy="138.4" r="3.65"/><circle cx="732.3" cy="120.5" r="3.65"/><circle cx="398.5" cy="90.4" r="3.65"/><circle cx="370.9" cy="111.4" r="3.65"/><circle cx="1415.5" cy="101.2" r="3.65"/><circle cx="1500.2" cy="90.4" r="3.65"/><circle cx="520.4" cy="68.8" r="3.65"/><circle cx="194.9" cy="75.1" r="3.65"/><circle cx="320.7" cy="86.5" r="3.65"/><circle cx="742.0" cy="202.9" r="3.65"/><circle cx="1045.6" cy="67.2" r="3.65"/><circle cx="1359.8" cy="110.2" r="3.65"/><circle cx="989.1" cy="173.7" r="3.65"/><circle cx="1359.8" cy="101.4" r="3.65"/><circle cx="1424.7" cy="115.2" r="3.65"/><circle cx="1473.0" cy="35.6" r="3.65"/><circle cx="515.4" cy="103.3" r="3.65"/><circle cx="1534.4" cy="90.6" r="3.65"/><circle cx="748.2" cy="210.3" r="3.65"/><circle cx="746.4" cy="203.6" r="3.65"/><circle cx="531.1" cy="107.4" r="3.65"/><circle cx="1390.7" cy="109.7" r="3.65"/><circle cx="662.8" cy="96.7" r="3.65"/><circle cx="790.6" cy="226.8" r="3.65"/><circle cx="292.1" cy="101.6" r="3.65"/><circle cx="866.5" cy="204.4" r="3.65"/><circle cx="1460.2" cy="70.9" r="3.65"/><circle cx="1358.7" cy="105.7" r="3.65"/><circle cx="1364.0" cy="83.9" r="3.65"/><circle cx="1541.9" cy="74.3" r="3.65"/><circle cx="1414.5" cy="97.3" r="3.65"/><circle cx="248.5" cy="84.8" r="3.65"/><circle cx="686.7" cy="123.0" r="3.65"/><circle cx="1422.9" cy="65.0" r="3.65"/><circle cx="494.3" cy="91.7" r="3.65"/><circle cx="1535.2" cy="114.4" r="3.65"/><circle cx="1159.1" cy="126.4" r="3.65"/><circle cx="1446.9" cy="60.4" r="3.65"/><circle cx="1254.6" cy="69.5" r="3.65"/><circle cx="1193.5" cy="87.6" r="3.65"/><circle cx="648.0" cy="104.8" r="3.65"/><circle cx="758.4" cy="170.7" r="3.65"/><circle cx="1171.2" cy="102.2" r="3.65"/><circle cx="1535.6" cy="139.3" r="3.65"/><circle cx="704.6" cy="93.1" r="3.65"/><circle cx="1374.9" cy="127.7" r="3.65"/><circle cx="525.3" cy="86.9" r="3.65"/><circle cx="934.0" cy="212.9" r="3.65"/><circle cx="1364.7" cy="96.4" r="3.65"/><circle cx="472.3" cy="110.0" r="3.65"/><circle cx="1171.2" cy="128.7" r="3.65"/><circle cx="650.5" cy="129.6" r="3.65"/><circle cx="1373.7" cy="113.9" r="3.65"/><circle cx="1176.1" cy="62.4" r="3.65"/><circle cx="927.3" cy="239.0" r="3.65"/><circle cx="194.3" cy="115.0" r="3.65"/><circle cx="1207.5" cy="114.4" r="3.65"/><circle cx="257.7" cy="109.1" r="3.65"/><circle cx="1568.9" cy="74.8" r="3.65"/><circle cx="159.9" cy="110.8" r="3.65"/><circle cx="1272.8" cy="92.2" r="3.65"/><circle cx="164.8" cy="90.1" r="3.65"/><circle cx="813.3" cy="191.7" r="3.65"/><circle cx="917.6" cy="253.8" r="3.65"/><circle cx="1493.9" cy="92.4" r="3.65"/><circle cx="175.8" cy="122.9" r="3.65"/><circle cx="572.3" cy="89.0" r="3.65"/><circle cx="1526.3" cy="68.6" r="3.65"/><circle cx="439.2" cy="118.4" r="3.65"/><circle cx="1427.9" cy="116.8" r="3.65"/><circle cx="1149.1" cy="110.7" r="3.65"/><circle cx="385.7" cy="109.6" r="3.65"/><circle cx="1430.5" cy="95.0" r="3.65"/><circle cx="725.2" cy="165.9" r="3.65"/><circle cx="982.2" cy="154.9" r="3.65"/><circle cx="1158.8" cy="78.8" r="3.65"/><circle cx="1111.9" cy="108.2" r="3.65"/><circle cx="817.5" cy="179.1" r="3.65"/><circle cx="1257.4" cy="97.9" r="3.65"/><circle cx="739.1" cy="171.9" r="3.65"/><circle cx="1355.6" cy="76.9" r="3.65"/><circle cx="1336.1" cy="133.0" r="3.65"/><circle cx="725.1" cy="97.8" r="3.65"/><circle cx="1469.1" cy="131.0" r="3.65"/><circle cx="591.5" cy="126.4" r="3.65"/><circle cx="759.4" cy="209.4" r="3.65"/><circle cx="1279.7" cy="85.7" r="3.65"/><circle cx="1346.2" cy="70.6" r="3.65"/><circle cx="840.0" cy="201.7" r="3.65"/><circle cx="445.8" cy="90.5" r="3.65"/><circle cx="1008.3" cy="74.2" r="3.65"/><circle cx="714.1" cy="89.2" r="3.65"/><circle cx="1084.9" cy="98.4" r="3.65"/><circle cx="713.3" cy="105.4" r="3.65"/><circle cx="556.9" cy="83.4" r="3.65"/><circle cx="880.5" cy="231.0" r="3.65"/><circle cx="347.0" cy="84.3" r="3.65"/><circle cx="1186.5" cy="65.4" r="3.65"/><circle cx="376.2" cy="76.3" r="3.65"/><circle cx="505.4" cy="89.6" r="3.65"/><circle cx="204.6" cy="80.6" r="3.65"/><circle cx="1108.7" cy="58.6" r="3.65"/><circle cx="1194.9" cy="79.5" r="3.65"/><circle cx="783.4" cy="195.2" r="3.65"/><circle cx="395.0" cy="89.3" r="3.65"/><circle cx="330.9" cy="122.6" r="3.65"/><circle cx="490.6" cy="104.0" r="3.65"/><circle cx="1087.0" cy="138.9" r="3.65"/><circle cx="640.9" cy="107.4" r="3.65"/><circle cx="1389.4" cy="94.9" r="3.65"/><circle cx="926.7" cy="241.7" r="3.65"/><circle cx="1286.1" cy="143.6" r="3.65"/><circle cx="1489.3" cy="53.9" r="3.65"/><circle cx="1300.1" cy="64.8" r="3.65"/><circle cx="1365.5" cy="108.7" r="3.65"/><circle cx="782.0" cy="194.4" r="3.65"/><circle cx="1023.5" cy="73.5" r="3.65"/><circle cx="525.8" cy="105.5" r="3.65"/><circle cx="1113.7" cy="80.8" r="3.65"/><circle cx="692.2" cy="141.7" r="3.65"/><circle cx="1322.0" cy="78.1" r="3.65"/><circle cx="1306.6" cy="91.2" r="3.65"/><circle cx="1339.4" cy="110.8" r="3.65"/><circle cx="894.0" cy="219.9" r="3.65"/><circle cx="1226.3" cy="87.7" r="3.65"/><circle cx="1317.4" cy="96.5" r="3.65"/><circle cx="747.9" cy="198.9" r="3.65"/><circle cx="1106.8" cy="100.5" r="3.65"/><circle cx="1291.3" cy="85.5" r="3.65"/><circle cx="1224.6" cy="87.7" r="3.65"/><circle cx="1503.8" cy="105.1" r="3.65"/><circle cx="1383.5" cy="82.6" r="3.65"/><circle cx="1396.4" cy="88.2" r="3.65"/><circle cx="1092.8" cy="97.8" r="3.65"/><circle cx="987.6" cy="191.0" r="3.65"/><circle cx="1466.7" cy="123.8" r="3.65"/><circle cx="343.8" cy="101.4" r="3.65"/><circle cx="406.3" cy="95.1" r="3.65"/><circle cx="701.2" cy="119.9" r="3.65"/><circle cx="264.9" cy="135.5" r="3.65"/><circle cx="938.7" cy="190.4" r="3.65"/><circle cx="366.3" cy="87.7" r="3.65"/><circle cx="1292.6" cy="113.9" r="3.65"/><circle cx="302.2" cy="92.8" r="3.65"/><circle cx="455.5" cy="55.6" r="3.65"/><circle cx="421.5" cy="75.6" r="3.65"/><circle cx="1223.9" cy="105.2" r="3.65"/><circle cx="709.3" cy="126.6" r="3.65"/><circle cx="1464.2" cy="88.2" r="3.65"/><circle cx="678.0" cy="67.0" r="3.65"/><circle cx="824.6" cy="205.4" r="3.65"/><circle cx="1570.0" cy="101.5" r="3.65"/><circle cx="1064.8" cy="86.1" r="3.65"/><circle cx="294.1" cy="88.2" r="3.65"/><circle cx="1066.7" cy="106.7" r="3.65"/><circle cx="1081.4" cy="115.4" r="3.65"/><circle cx="455.7" cy="90.2" r="3.65"/><circle cx="1500.0" cy="100.1" r="3.65"/><circle cx="571.6" cy="105.8" r="3.65"/><circle cx="1397.8" cy="118.6" r="3.65"/><circle cx="1124.3" cy="100.8" r="3.65"/><circle cx="907.0" cy="231.1" r="3.65"/><circle cx="954.0" cy="221.3" r="3.65"/><circle cx="1331.4" cy="122.3" r="3.65"/><circle cx="468.7" cy="91.3" r="3.65"/><circle cx="1543.0" cy="137.2" r="3.65"/><circle cx="1448.3" cy="104.0" r="3.65"/><circle cx="951.2" cy="242.9" r="3.65"/><circle cx="659.5" cy="67.1" r="3.65"/><circle cx="1036.2" cy="124.9" r="3.65"/><circle cx="488.5" cy="83.0" r="3.65"/><circle cx="672.3" cy="103.9" r="3.65"/><circle cx="1018.5" cy="97.5" r="3.65"/><circle cx="577.9" cy="90.4" r="3.65"/><circle cx="284.8" cy="154.2" r="3.65"/><circle cx="967.7" cy="211.8" r="3.65"/><circle cx="1255.7" cy="93.2" r="3.65"/><circle cx="277.9" cy="142.4" r="3.65"/><circle cx="1549.8" cy="122.6" r="3.65"/><circle cx="571.6" cy="75.4" r="3.65"/><circle cx="912.6" cy="179.0" r="3.65"/><circle cx="594.8" cy="119.5" r="3.65"/><circle cx="183.6" cy="84.4" r="3.65"/><circle cx="967.2" cy="204.2" r="3.65"/><circle cx="1304.9" cy="123.8" r="3.65"/><circle cx="1163.8" cy="112.1" r="3.65"/><circle cx="672.4" cy="105.7" r="3.65"/><circle cx="728.4" cy="129.2" r="3.65"/><circle cx="816.3" cy="189.7" r="3.65"/><circle cx="796.3" cy="254.0" r="3.65"/><circle cx="1358.2" cy="111.1" r="3.65"/><circle cx="597.1" cy="72.6" r="3.65"/><circle cx="433.2" cy="128.1" r="3.65"/><circle cx="1087.6" cy="119.5" r="3.65"/><circle cx="522.4" cy="77.4" r="3.65"/><circle cx="1482.1" cy="108.8" r="3.65"/><circle cx="957.1" cy="196.7" r="3.65"/><circle cx="797.7" cy="222.7" r="3.65"/><circle cx="1482.7" cy="82.4" r="3.65"/><circle cx="1488.0" cy="57.7" r="3.65"/><circle cx="678.9" cy="96.4" r="3.65"/><circle cx="1353.2" cy="93.9" r="3.65"/><circle cx="450.0" cy="68.5" r="3.65"/><circle cx="1099.2" cy="107.8" r="3.65"/><circle cx="561.3" cy="103.5" r="3.65"/><circle cx="160.8" cy="128.1" r="3.65"/><circle cx="307.6" cy="128.2" r="3.65"/><circle cx="483.0" cy="100.8" r="3.65"/><circle cx="381.3" cy="83.3" r="3.65"/><circle cx="503.3" cy="88.8" r="3.65"/><circle cx="781.9" cy="166.3" r="3.65"/><circle cx="1168.6" cy="119.2" r="3.65"/><circle cx="340.5" cy="75.4" r="3.65"/><circle cx="767.9" cy="214.1" r="3.65"/><circle cx="377.3" cy="95.9" r="3.65"/><circle cx="912.4" cy="232.5" r="3.65"/><circle cx="922.2" cy="243.5" r="3.65"/><circle cx="1337.3" cy="73.3" r="3.65"/><circle cx="1430.8" cy="101.9" r="3.65"/><circle cx="1477.7" cy="86.8" r="3.65"/><circle cx="1016.6" cy="77.5" r="3.65"/><circle cx="671.7" cy="132.6" r="3.65"/><circle cx="589.3" cy="96.2" r="3.65"/><circle cx="1045.6" cy="99.9" r="3.65"/><circle cx="394.7" cy="107.7" r="3.65"/><circle cx="1256.3" cy="64.2" r="3.65"/><circle cx="1380.8" cy="173.0" r="3.65"/><circle cx="1513.7" cy="73.4" r="3.65"/><circle cx="377.9" cy="86.1" r="3.65"/><circle cx="1019.7" cy="64.1" r="3.65"/><circle cx="613.8" cy="126.0" r="3.65"/><circle cx="1126.5" cy="58.5" r="3.65"/><circle cx="520.7" cy="92.8" r="3.65"/><circle cx="811.5" cy="189.6" r="3.65"/><circle cx="1482.0" cy="67.4" r="3.65"/><circle cx="1013.1" cy="131.5" r="3.65"/><circle cx="1488.8" cy="80.7" r="3.65"/><circle cx="685.9" cy="88.1" r="3.65"/><circle cx="1158.1" cy="114.9" r="3.65"/><circle cx="1361.6" cy="104.6" r="3.65"/><circle cx="1316.2" cy="121.2" r="3.65"/><circle cx="537.5" cy="91.5" r="3.65"/><circle cx="974.6" cy="197.3" r="3.65"/><circle cx="978.7" cy="163.7" r="3.65"/><circle cx="696.9" cy="92.9" r="3.65"/><circle cx="1224.6" cy="63.6" r="3.65"/><circle cx="553.4" cy="98.5" r="3.65"/><circle cx="1371.1" cy="97.6" r="3.65"/><circle cx="403.0" cy="117.7" r="3.65"/><circle cx="327.7" cy="105.2" r="3.65"/><circle cx="316.1" cy="92.7" r="3.65"/><circle cx="155.3" cy="99.3" r="3.65"/><circle cx="354.8" cy="77.4" r="3.65"/><circle cx="1464.7" cy="70.9" r="3.65"/><circle cx="1166.8" cy="80.7" r="3.65"/><circle cx="1033.4" cy="82.9" r="3.65"/><circle cx="1254.3" cy="55.2" r="3.65"/><circle cx="1180.4" cy="135.8" r="3.65"/><circle cx="795.7" cy="240.6" r="3.65"/><circle cx="1285.9" cy="137.3" r="3.65"/><circle cx="1108.4" cy="96.4" r="3.65"/><circle cx="559.2" cy="123.3" r="3.65"/><circle cx="1249.4" cy="74.0" r="3.65"/><circle cx="417.1" cy="83.8" r="3.65"/><circle cx="1371.6" cy="65.8" r="3.65"/><circle cx="928.3" cy="195.5" r="3.65"/><circle cx="1256.1" cy="104.9" r="3.65"/><circle cx="1051.4" cy="61.5" r="3.65"/><circle cx="579.1" cy="124.0" r="3.65"/><circle cx="466.2" cy="80.1" r="3.65"/><circle cx="193.3" cy="111.0" r="3.65"/><circle cx="1437.5" cy="112.3" r="3.65"/><circle cx="924.7" cy="241.7" r="3.65"/><circle cx="845.9" cy="236.5" r="3.65"/><circle cx="1509.8" cy="43.2" r="3.65"/><circle cx="1304.7" cy="103.2" r="3.65"/><circle cx="483.9" cy="99.6" r="3.65"/><circle cx="342.9" cy="44.6" r="3.65"/><circle cx="1139.6" cy="99.0" r="3.65"/><circle cx="911.7" cy="211.2" r="3.65"/><circle cx="627.6" cy="88.7" r="3.65"/><circle cx="1483.1" cy="93.9" r="3.65"/><circle cx="963.6" cy="168.1" r="3.65"/><circle cx="1162.9" cy="100.0" r="3.65"/><circle cx="235.1" cy="115.1" r="3.65"/><circle cx="717.9" cy="84.6" r="3.65"/><circle cx="1373.0" cy="80.8" r="3.65"/><circle cx="1252.7" cy="137.2" r="3.65"/><circle cx="1016.0" cy="77.2" r="3.65"/><circle cx="1500.6" cy="81.0" r="3.65"/><circle cx="165.6" cy="88.6" r="3.65"/><circle cx="1061.6" cy="93.8" r="3.65"/><circle cx="1366.1" cy="107.3" r="3.65"/><circle cx="198.5" cy="116.0" r="3.65"/><circle cx="466.3" cy="59.0" r="3.65"/><circle cx="381.7" cy="126.4" r="3.65"/><circle cx="1123.2" cy="64.1" r="3.65"/><circle cx="1155.2" cy="75.0" r="3.65"/><circle cx="186.3" cy="61.3" r="3.65"/><circle cx="558.1" cy="89.7" r="3.65"/><circle cx="394.1" cy="48.8" r="3.65"/><circle cx="272.5" cy="113.9" r="3.65"/><circle cx="1556.9" cy="62.4" r="3.65"/><circle cx="1246.5" cy="117.8" r="3.65"/><circle cx="1079.7" cy="103.9" r="3.65"/><circle cx="280.3" cy="92.7" r="3.65"/><circle cx="1352.6" cy="109.5" r="3.65"/><circle cx="375.2" cy="83.2" r="3.65"/><circle cx="445.1" cy="144.4" r="3.65"/><circle cx="592.0" cy="90.1" r="3.65"/><circle cx="1357.2" cy="100.9" r="3.65"/><circle cx="1252.2" cy="117.6" r="3.65"/><circle cx="297.3" cy="141.4" r="3.65"/><circle cx="1033.8" cy="148.2" r="3.65"/><circle cx="1324.1" cy="95.7" r="3.65"/><circle cx="533.6" cy="95.6" r="3.65"/><circle cx="991.0" cy="180.3" r="3.65"/><circle cx="992.7" cy="148.1" r="3.65"/><circle cx="972.7" cy="188.0" r="3.65"/><circle cx="787.9" cy="187.6" r="3.65"/><circle cx="715.2" cy="102.5" r="3.65"/><circle cx="1289.3" cy="112.3" r="3.65"/><circle cx="893.1" cy="194.3" r="3.65"/><circle cx="1347.9" cy="112.2" r="3.65"/><circle cx="258.3" cy="105.2" r="3.65"/><circle cx="1463.6" cy="85.6" r="3.65"/><circle cx="230.4" cy="80.8" r="3.65"/><circle cx="1027.3" cy="123.5" r="3.65"/><circle cx="799.6" cy="196.1" r="3.65"/><circle cx="1213.9" cy="127.2" r="3.65"/><circle cx="891.1" cy="200.1" r="3.65"/><circle cx="1514.0" cy="85.9" r="3.65"/><circle cx="1045.9" cy="94.9" r="3.65"/><circle cx="607.9" cy="139.4" r="3.65"/><circle cx="274.6" cy="85.4" r="3.65"/><circle cx="225.9" cy="100.4" r="3.65"/><circle cx="730.5" cy="87.6" r="3.65"/><circle cx="1491.5" cy="76.6" r="3.65"/><circle cx="1344.3" cy="113.4" r="3.65"/><circle cx="1499.4" cy="49.0" r="3.65"/><circle cx="1414.7" cy="141.7" r="3.65"/><circle cx="806.9" cy="215.3" r="3.65"/><circle cx="1018.7" cy="92.9" r="3.65"/><circle cx="386.3" cy="117.2" r="3.65"/><circle cx="165.1" cy="120.7" r="3.65"/><circle cx="1549.2" cy="123.7" r="3.65"/><circle cx="560.9" cy="75.9" r="3.65"/><circle cx="820.5" cy="197.4" r="3.65"/><circle cx="728.1" cy="96.3" r="3.65"/><circle cx="1011.5" cy="91.8" r="3.65"/><circle cx="615.0" cy="116.0" r="3.65"/><circle cx="748.3" cy="173.6" r="3.65"/><circle cx="1124.5" cy="107.9" r="3.65"/><circle cx="183.0" cy="92.5" r="3.65"/><circle cx="494.5" cy="109.9" r="3.65"/><circle cx="1104.2" cy="93.7" r="3.65"/><circle cx="189.1" cy="111.1" r="3.65"/><circle cx="1133.8" cy="126.2" r="3.65"/><circle cx="1384.0" cy="97.5" r="3.65"/><circle cx="1281.7" cy="98.3" r="3.65"/><circle cx="1406.2" cy="139.5" r="3.65"/><circle cx="1462.7" cy="52.5" r="3.65"/><circle cx="871.3" cy="261.2" r="3.65"/><circle cx="760.8" cy="216.1" r="3.65"/><circle cx="899.6" cy="240.5" r="3.65"/><circle cx="855.0" cy="250.2" r="3.65"/><circle cx="965.7" cy="180.9" r="3.65"/><circle cx="1521.2" cy="96.6" r="3.65"/><circle cx="805.5" cy="256.8" r="3.65"/><circle cx="696.6" cy="113.0" r="3.65"/><circle cx="1363.2" cy="82.8" r="3.65"/><circle cx="562.1" cy="96.1" r="3.65"/><circle cx="1472.1" cy="98.9" r="3.65"/><circle cx="1064.0" cy="84.9" r="3.65"/><circle cx="1441.3" cy="117.3" r="3.65"/><circle cx="885.7" cy="223.1" r="3.65"/><circle cx="1559.4" cy="114.1" r="3.65"/><circle cx="865.6" cy="238.3" r="3.65"/><circle cx="1116.7" cy="83.6" r="3.65"/><circle cx="1365.2" cy="81.4" r="3.65"/><circle cx="271.3" cy="89.5" r="3.65"/><circle cx="819.8" cy="270.5" r="3.65"/><circle cx="755.5" cy="187.7" r="3.65"/><circle cx="693.9" cy="132.5" r="3.65"/><circle cx="720.6" cy="105.8" r="3.65"/><circle cx="799.8" cy="237.6" r="3.65"/><circle cx="925.0" cy="216.6" r="3.65"/><circle cx="1479.6" cy="87.1" r="3.65"/><circle cx="1377.3" cy="111.2" r="3.65"/><circle cx="965.2" cy="193.9" r="3.65"/><circle cx="1260.0" cy="74.5" r="3.65"/><circle cx="691.6" cy="128.9" r="3.65"/><circle cx="270.7" cy="119.0" r="3.65"/><circle cx="345.6" cy="94.2" r="3.65"/><circle cx="189.3" cy="91.5" r="3.65"/><circle cx="1452.3" cy="103.8" r="3.65"/><circle cx="182.6" cy="134.0" r="3.65"/><circle cx="763.1" cy="209.4" r="3.65"/><circle cx="832.0" cy="188.5" r="3.65"/><circle cx="1457.0" cy="93.3" r="3.65"/><circle cx="841.3" cy="195.3" r="3.65"/>
</g>
<g clip-path="url(#c2)"><path d="M153.8 386.4L154.8 386.4L155.8 386.4L156.8 386.4L157.8 386.4L158.8 386.4L159.8 386.4L160.8 386.4L161.8 386.4L162.8 386.4L163.8 386.4L164.8 386.4L165.8 386.4L166.8 386.4L167.8 386.4L168.8 386.4L169.8 386.4L170.8 386.4L171.8 386.4L172.8 386.4L173.8 386.4L174.8 386.4L175.8 386.4L176.8 386.4L177.8 386.4L178.8 386.4L179.8 386.4L180.8 386.4L181.8 386.4L182.8 386.4L183.8 386.4L184.8 386.4L185.8 386.4L186.8 386.4L187.8 386.4L188.8 386.4L189.8 386.4L190.8 386.4L191.8 386.4L192.8 386.4L193.8 386.4L194.8 386.4L195.8 386.4L196.8 386.4L197.8 386.4L198.8 386.4L199.8 386.4L200.8 386.4L201.8 386.4L202.8 386.4L203.8 386.4L204.8 386.4L205.8 386.4L206.8 386.4L207.8 386.4L208.8 386.4L209.8 386.4L210.8 386.4L211.8 386.4L212.8 386.4L213.8 386.4L214.8 386.4L215.8 386.4L216.8 386.4L217.8 386.4L218.8 386.4L219.8 386.4L220.8 386.4L221.8 386.4L222.8 386.4L223.8 386.4L224.8 386.4L225.8 386.4L226.8 386.4L227.8 386.4L228.8 386.4L229.8 386.4L230.8 386.4L231.8 386.4L232.8 386.4L233.8 386.4L234.8 386.4L235.8 386.4L236.8 386.4L237.8 386.4L238.8 386.4L239.8 386.4L240.8 386.4L241.8 386.4L242.8 386.4L243.8 386.4L244.8 386.4L245.8 386.4L246.8 386.4L247.8 386.4L248.8 386.4L249.8 386.4L250.8 386.4L251.8 386.4L252.8 386.4L253.8 386.4L254.8 386.4L255.8 386.4L256.8 386.4L257.8 386.4L258.8 386.4L259.8 386.4L260.8 386.4L261.8 386.4L262.8 386.4L263.8 386.4L264.8 386.4L265.8 386.4L266.8 386.4L267.8 386.4L268.8 386.4L269.8 386.4L270.8 386.4L271.8 386.4L272.8 386.4L273.8 386.4L274.8 386.4L275.8 386.4L276.8 386.4L277.8 386.4L278.8 386.4L279.8 386.4L280.8 386.4L281.8 386.4L282.8 386.4L283.8 386.4L284.8 386.4L285.8 386.4L286.8 386.4L287.8 386.4L288.8 386.4L289.8 386.4L290.8 386.4L291.8 386.4L292.8 386.4L293.8 386.4L294.8 386.4L295.8 386.4L296.8 386.4L297.8 386.4L298.8 386.4L299.8 386.4L300.8 386.4L301.8 386.4L302.8 386.4L303.8 386.4L304.8 386.4L305.8 386.4L306.8 386.4L307.8 386.4L308.8 386.4L309.8 386.4L310.8 386.4L311.8 386.4L312.8 386.4L313.8 386.4L314.8 386.4L315.8 386.4L316.8 386.4L317.8 386.4L318.8 386.4L319.8 386.4L320.8 386.4L321.8 386.4L322.8 386.4L323.8 386.4L324.8 386.4L325.8 386.4L326.8 386.4L327.8 386.4L328.8 386.4L329.8 386.4L330.8 386.4L331.8 386.4L332.8 386.4L333.8 386.4L334.8 386.4L335.8 386.4L336.8 386.4L337.8 386.4L338.8 386.4L339.8 386.4L340.8 386.4L341.8 386.4L342.8 386.4L343.8 386.4L344.8 386.4L345.8 386.4L346.8 386.4L347.8 386.4L348.8 386.4L349.8 386.4L350.8 386.4L351.8 386.4L352.8 386.4L353.8 386.4L354.8 386.4L355.8 386.4L356.8 386.4L357.8 386.4L358.8 386.4L359.8 386.4L360.8 386.4L361.8 386.4L362.8 386.4L363.8 386.4L364.8 386.4L365.8 386.4L366.8 386.4L367.8 386.4L368.8 386.4L369.8 386.4L370.8 386.4L371.8 386.4L372.8 386.4L373.8 386.4L374.8 386.4L375.8 386.4L376.8 386.4L377.8 386.4L378.8 386.4L379.8 386.4L380.8 386.4L381.8 386.4L382.8 386.4L383.8 386.4L384.8 386.4L385.8 386.4L386.8 386.4L387.8 386.4L388.8 386.4L389.8 386.4L390.8 386.4L391.8 386.4L392.8 386.4L393.8 386.4L394.8 386.4L395.8 386.4L396.8 386.4L397.8 386.4L398.8 386.4L399.8 386.4L400.8 386.4L401.8 386.4L402.8 386.4L403.8 386.4L404.8 386.4L405.8 386.4L406.8 386.4L407.8 386.4L408.8 386.4L409.8 386.4L410.8 386.4L411.8 386.4L412.8 386.4L413.8 386.4L414.8 386.4L415.8 386.4L416.8 386.4L417.8 386.4L418.8 386.4L419.8 386.4L420.8 386.4L421.8 386.4L422.8 386.4L423.8 386.4L424.8 386.4L425.8 386.4L426.8 386.4L427.8 386.4L428.8 386.4L429.8 386.4L430.8 386.4L431.8 386.4L432.8 386.4L433.8 386.4L434.8 386.4L435.8 386.4L436.8 386.4L437.8 386.4L438.8 386.4L439.8 386.4L440.8 386.4L441.8 386.4L442.8 386.4L443.8 386.4L444.8 386.4L445.8 386.4L446.8 386.4L447.8 386.4L448.8 386.4L449.8 386.4L450.8 386.4L451.8 386.4L452.8 386.4L453.8 386.4L454.8 386.4L455.8 386.4L456.8 386.4L457.8 386.4L458.8 386.4L459.8 386.4L460.8 386.4L461.8 386.4L462.8 386.4L463.8 386.4L464.8 386.4L465.8 386.4L466.8 386.4L467.8 386.4L468.8 386.4L469.8 386.4L470.8 386.4L471.8 386.4L472.8 386.4L473.8 386.4L474.8 386.4L475.8 386.4L476.8 386.4L477.8 386.4L478.8 386.4L479.8 386.4L480.8 386.4L481.8 386.4L482.8 386.4L483.8 386.4L484.8 386.4L485.8 386.4L486.8 386.4L487.8 386.4L488.8 386.4L489.8 386.4L490.8 386.4L491.8 386.4L492.8 386.4L493.8 386.4L494.8 386.4L495.8 386.4L496.8 386.4L497.8 386.4L498.8 386.4L499.8 386.4L500.8 386.4L501.8 386.4L502.8 386.4L503.8 386.4L504.8 386.4L505.8 386.4L506.8 386.4L507.8 386.4L508.8 386.4L509.8 386.4L510.8 386.4L511.8 386.4L512.8 386.4L513.8 386.4L514.8 386.4L515.8 386.4L516.8 386.4L517.8 386.4L518.8 386.4L519.8 386.4L520.8 386.4L521.8 386.4L522.8 386.4L523.8 386.4L524.8 386.4L525.8 386.4L526.8 386.4L527.8 386.4L528.8 386.4L529.8 386.4L530.8 386.4L531.8 386.4L532.8 386.4L533.8 386.4L534.8 386.4L535.8 386.4L536.8 386.4L537.8 386.4L538.8 386.4L539.8 386.4L540.8 386.4L541.8 386.4L542.8 386.4L543.8 386.4L544.8 386.4L545.8 386.4L546.8 386.4L547.8 386.4L548.8 386.4L549.8 386.4L550.8 386.4L551.8 386.4L552.8 386.4L553.8 386.4L554.8 386.4L555.8 386.4L556.8 386.4L557.8 386.4L558.8 386.4L559.8 386.4L560.8 386.4L561.8 386.4L562.8 386.4L563.8 386.4L564.8 386.4L565.8 386.4L566.8 386.4L567.8 386.4L568.8 386.4L569.8 386.4L570.8 386.4L571.8 386.4L572.8 386.4L573.8 386.4L574.8 386.4L575.8 386.4L576.8 386.4L577.8 386.4L578.8 386.4L579.8 386.4L580.8 386.4L581.8 386.4L582.8 386.4L583.8 386.4L584.8 386.4L585.8 386.4L586.8 386.4L587.8 386.4L588.8 386.4L589.8 386.4L590.8 386.4L591.8 386.4L592.8 386.4L593.8 386.4L594.8 386.4L595.8 386.4L596.8 386.4L597.8 386.4L598.8 386.4L599.8 386.4L600.8 386.4L601.8 386.4L602.8 386.4L603.8 386.4L604.8 386.4L605.8 386.4L606.8 386.4L607.8 386.4L608.8 386.4L609.8 386.4L610.8 386.4L611.8 386.4L612.8 386.4L613.8 386.4L614.8 386.4L615.8 386.4L616.8 386.7L617.8 387.5L618.8 388.3L619.8 389.7L620.8 391.1L621.8 392.7L622.8 394.5L623.8 396.5L624.8 398.7L625.8 400.7L626.8 403.2L627.8 405.8L628.8 408.2L629.8 411.0L630.8 413.9L631.8 416.8L632.8 419.7L633.8 422.9L634.8 426.1L635.8 429.2L636.8 432.6L637.8 436.0L638.8 439.5L639.8 442.8L640.8 446.4L641.8 450.0L642.8 453.4L643.8 457.1L644.8 460.9L645.8 464.4L646.8 468.1L647.8 471.9L648.8 475.5L649.8 479.1L650.8 482.8L651.8 486.5L652.8 489.8L653.8 493.4L654.8 497.0L655.8 500.3L656.8 503.5L657.8 506.7L658.8 509.8L659.8 512.5L660.8 515.3L661.8 517.8L662.8 519.7L663.8 521.2L664.8 522.6L665.8 524.0L666.8 525.3L667.8 526.5L668.8 527.7L669.8 528.8L670.8 530.0L671.8 531.0L672.8 532.1L673.8 533.1L674.8 534.1L675.8 535.0L676.8 536.0L677.8 536.9L678.8 537.8L679.8 538.6L680.8 539.5L681.8 540.3L682.8 541.1L683.8 541.9L684.8 542.7L685.8 543.5L686.8 544.2L687.8 544.9L688.8 545.7L689.8 546.4L690.8 547.0L691.8 547.7L692.8 548.4L693.8 549.0L694.8 549.7L695.8 550.3L696.8 550.9L697.8 551.5L698.8 552.1L699.8 552.7L700.8 553.3L701.8 553.9L702.8 554.4L703.8 555.0L704.8 555.5L705.8 556.0L706.8 556.5L707.8 557.1L708.8 557.6L709.8 558.1L710.8 558.6L711.8 559.0L712.8 559.5L713.8 560.0L714.8 560.4L715.8 560.9L716.8 561.3L717.8 561.8L718.8 562.2L719.8 562.6L720.8 563.1L721.8 563.5L722.8 563.9L723.8 564.3L724.8 564.7L725.8 565.1L726.8 565.5L727.8 565.8L728.8 566.2L729.8 566.6L730.8 567.0L731.8 567.3L732.8 567.7L733.8 568.0L734.8 568.4L735.8 568.7L736.8 569.0L737.8 569.4L738.8 569.7L739.8 570.0L740.8 570.3L741.8 570.7L742.8 571.0L743.8 571.3L744.8 571.6L745.8 571.9L746.8 572.2L747.8 572.4L748.8 572.7L749.8 573.0L750.8 573.3L751.8 573.6L752.8 573.8L753.8 574.1L754.8 574.4L755.8 574.6L756.8 574.9L757.8 575.1L758.8 575.4L759.8 575.6L760.8 575.9L761.8 576.1L762.8 576.3L763.8 576.6L764.8 576.8L765.8 577.0L766.8 577.2L767.8 577.4L768.8 577.7L769.8 577.9L770.8 578.1L771.8 578.3L772.8 578.5L773.8 578.7L774.8 578.9L775.8 579.1L776.8 579.3L777.8 579.5L778.8 579.7L779.8 579.8L780.8 580.0L781.8 580.2L782.8 580.4L783.8 580.5L784.8 580.7L785.8 580.9L786.8 581.0L787.8 581.2L788.8 581.4L789.8 581.5L790.8 581.7L791.8 581.8L792.8 582.0L793.8 582.1L794.8 582.3L795.8 582.4L796.8 582.6L797.8 582.7L798.8 582.8L799.8 583.0L800.8 583.1L801.8 583.2L802.8 583.3L803.8 583.5L804.8 583.6L805.8 583.7L806.8 583.8L807.8 583.9L808.8 584.1L809.8 584.2L810.8 584.3L811.8 584.4L812.8 584.5L813.8 584.6L814.8 584.7L815.8 584.8L816.8 584.9L817.8 585.0L818.8 585.1L819.8 585.2L820.8 585.2L821.8 585.3L822.8 585.4L823.8 585.5L824.8 585.6L825.8 585.7L826.8 585.7L827.8 585.8L828.8 585.9L829.8 585.9L830.8 586.0L831.8 586.1L832.8 586.1L833.8 586.2L834.8 586.3L835.8 586.3L836.8 586.4L837.8 586.4L838.8 586.5L839.8 586.5L840.8 586.6L841.8 586.6L842.8 586.7L843.8 586.7L844.8 586.8L845.8 586.8L846.8 586.8L847.8 586.9L848.8 586.9L849.8 586.9L850.8 587.0L851.8 587.0L852.8 587.0L853.8 587.0L854.8 587.1L855.8 587.1L856.8 587.1L857.8 587.1L858.8 587.1L859.8 587.2L860.8 587.2L861.8 587.2L862.8 587.2L863.8 587.2L864.8 587.2L865.8 587.2L866.8 587.1L867.8 587.1L868.8 587.1L869.8 587.1L870.8 587.1L871.8 587.0L872.8 587.0L873.8 587.0L874.8 587.0L875.8 586.9L876.8 586.9L877.8 586.9L878.8 586.8L879.8 586.8L880.8 586.8L881.8 586.7L882.8 586.7L883.8 586.6L884.8 586.6L885.8 586.5L886.8 586.5L887.8 586.4L888.8 586.4L889.8 586.3L890.8 586.3L891.8 586.2L892.8 586.2L893.8 586.1L894.8 586.0L895.8 586.0L896.8 585.9L897.8 585.8L898.8 585.7L899.8 585.7L900.8 585.6L901.8 585.5L902.8 585.4L903.8 585.3L904.8 585.3L905.8 585.2L906.8 585.1L907.8 585.0L908.8 584.9L909.8 584.8L910.8 584.7L911.8 584.6L912.8 584.5L913.8 584.4L914.8 584.3L915.8 584.2L916.8 584.1L917.8 584.0L918.8 583.8L919.8 583.7L920.8 583.6L921.8 583.5L922.8 583.4L923.8 583.2L924.8 583.1L925.8 583.0L926.8 582.9L927.8 582.7L928.8 582.6L929.8 582.4L930.8 582.3L931.8 582.2L932.8 582.0L933.8 581.9L934.8 581.7L935.8 581.6L936.8 581.4L937.8 581.2L938.8 581.1L939.8 580.9L940.8 580.7L941.8 580.6L942.8 580.4L943.8 580.2L944.8 580.1L945.8 579.9L946.8 579.7L947.8 579.5L948.8 579.3L949.8 579.1L950.8 578.9L951.8 578.7L952.8 578.5L953.8 578.3L954.8 578.1L955.8 577.9L956.8 577.7L957.8 577.5L958.8 577.3L959.8 577.1L960.8 576.8L961.8 576.6L962.8 576.4L963.8 576.1L964.8 575.9L965.8 575.7L966.8 575.4L967.8 575.2L968.8 574.9L969.8 574.7L970.8 574.4L971.8 574.1L972.8 573.9L973.8 573.6L974.8 573.3L975.8 573.1L976.8 572.8L977.8 572.5L978.8 572.2L979.8 571.9L980.8 571.6L981.8 571.3L982.8 571.0L983.8 570.7L984.8 570.4L985.8 570.1L986.8 569.8L987.8 569.4L988.8 569.1L989.8 568.8L990.8 568.4L991.8 568.1L992.8 567.7L993.8 567.4L994.8 567.0L995.8 566.7L996.8 566.3L997.8 565.9L998.8 565.5L999.8 565.2L1000.8 564.8L1001.8 564.4L1002.8 564.0L1003.8 563.6L1004.8 563.1L1005.8 562.7L1006.8 562.3L1007.8 561.9L1008.8 561.4L1009.8 561.0L1010.8 560.5L1011.8 560.1L1012.8 559.6L1013.8 559.1L1014.8 558.7L1015.8 558.2L1016.8 557.7L1017.8 557.2L1018.8 556.7L1019.8 556.1L1020.8 555.6L1021.8 555.1L1022.8 554.5L1023.8 554.0L1024.8 553.4L1025.8 552.8L1026.8 552.2L1027.8 551.6L1028.8 551.0L1029.8 550.4L1030.8 549.8L1031.8 549.2L1032.8 548.5L1033.8 547.9L1034.8 547.2L1035.8 546.5L1036.8 545.8L1037.8 545.1L1038.8 544.4L1039.8 543.6L1040.8 542.9L1041.8 542.1L1042.8 541.3L1043.8 540.5L1044.8 539.7L1045.8 538.8L1046.8 537.9L1047.8 537.1L1048.8 536.2L1049.8 535.2L1050.8 534.3L1051.8 533.3L1052.8 532.3L1053.8 531.2L1054.8 530.2L1055.8 529.1L1056.8 527.9L1057.8 526.7L1058.8 525.5L1059.8 524.3L1060.8 522.9L1061.8 521.5L1062.8 520.0L1063.8 518.2L1064.8 515.7L1065.8 513.2L1066.8 510.4L1067.8 507.3L1068.8 504.2L1069.8 501.0L1070.8 497.5L1071.8 494.0L1072.8 490.7L1073.8 487.1L1074.8 483.4L1075.8 479.9L1076.8 476.3L1077.8 472.5L1078.8 468.9L1079.8 465.3L1080.8 461.5L1081.8 457.8L1082.8 454.3L1083.8 450.7L1084.8 447.0L1085.8 443.6L1086.8 440.2L1087.8 436.6L1088.8 433.2L1089.8 430.0L1090.8 426.7L1091.8 423.4L1092.8 420.5L1093.8 417.4L1094.8 414.4L1095.8 411.6L1096.8 408.9L1097.8 406.2L1098.8 403.5L1099.8 401.4L1100.8 399.0L1101.8 396.8L1102.8 394.9L1103.8 393.1L1104.8 391.4L1105.8 389.8L1106.8 388.7L1107.8 387.6L1108.8 386.7L1109.8 386.4L1110.8 386.4L1111.8 386.4L1112.8 386.4L1113.8 386.4L1114.8 386.4L1115.8 386.4L1116.8 386.4L1117.8 386.4L1118.8 386.4L1119.8 386.4L1120.8 386.4L1121.8 386.4L1122.8 386.4L1123.8 386.4L1124.8 386.4L1125.8 386.4L1126.8 386.4L1127.8 386.4L1128.8 386.4L1129.8 386.4L1130.8 386.4L1131.8 386.4L1132.8 386.4L1133.8 386.4L1134.8 386.4L1135.8 386.4L1136.8 386.4L1137.8 386.4L1138.8 386.4L1139.8 386.4L1140.8 386.4L1141.8 386.4L1142.8 386.4L1143.8 386.4L1144.8 386.4L1145.8 386.4L1146.8 386.4L1147.8 386.4L1148.8 386.4L1149.8 386.4L1150.8 386.4L1151.8 386.4L1152.8 386.4L1153.8 386.4L1154.8 386.4L1155.8 386.4L1156.8 386.4L1157.8 386.4L1158.8 386.4L1159.8 386.4L1160.8 386.4L1161.8 386.4L1162.8 386.4L1163.8 386.4L1164.8 386.4L1165.8 386.4L1166.8 386.4L1167.8 386.4L1168.8 386.4L1169.8 386.4L1170.8 386.4L1171.8 386.4L1172.8 386.4L1173.8 386.4L1174.8 386.4L1175.8 386.4L1176.8 386.4L1177.8 386.4L1178.8 386.4L1179.8 386.4L1180.8 386.4L1181.8 386.4L1182.8 386.4L1183.8 386.4L1184.8 386.4L1185.8 386.4L1186.8 386.4L1187.8 386.4L1188.8 386.4L1189.8 386.4L1190.8 386.4L1191.8 386.4L1192.8 386.4L1193.8 386.4L1194.8 386.4L1195.8 386.4L1196.8 386.4L1197.8 386.4L1198.8 386.4L1199.8 386.4L1200.8 386.4L1201.8 386.4L1202.8 386.4L1203.8 386.4L1204.8 386.4L1205.8 386.4L1206.8 386.4L1207.8 386.4L1208.8 386.4L1209.8 386.4L1210.8 386.4L1211.8 386.4L1212.8 386.4L1213.8 386.4L1214.8 386.4L1215.8 386.4L1216.8 386.4L1217.8 386.4L1218.8 386.4L1219.8 386.4L1220.8 386.4L1221.8 386.4L1222.8 386.4L1223.8 386.4L1224.8 386.4L1225.8 386.4L1226.8 386.4L1227.8 386.4L1228.8 386.4L1229.8 386.4L1230.8 386.4L1231.8 386.4L1232.8 386.4L1233.8 386.4L1234.8 386.4L1235.8 386.4L1236.8 386.4L1237.8 386.4L1238.8 386.4L1239.8 386.4L1240.8 386.4L1241.8 386.4L1242.8 386.4L1243.8 386.4L1244.8 386.4L1245.8 386.4L1246.8 386.4L1247.8 386.4L1248.8 386.4L1249.8 386.4L1250.8 386.4L1251.8 386.4L1252.8 386.4L1253.8 386.4L1254.8 386.4L1255.8 386.4L1256.8 386.4L1257.8 386.4L1258.8 386.4L1259.8 386.4L1260.8 386.4L1261.8 386.4L1262.8 386.4L1263.8 386.4L1264.8 386.4L1265.8 386.4L1266.8 386.4L1267.8 386.4L1268.8 386.4L1269.8 386.4L1270.8 386.4L1271.8 386.4L1272.8 386.4L1273.8 386.4L1274.8 386.4L1275.8 386.4L1276.8 386.4L1277.8 386.4L1278.8 386.4L1279.8 386.4L1280.8 386.4L1281.8 386.4L1282.8 386.4L1283.8 386.4L1284.8 386.4L1285.8 386.4L1286.8 386.4L1287.8 386.4L1288.8 386.4L1289.8 386.4L1290.8 386.4L1291.8 386.4L1292.8 386.4L1293.8 386.4L1294.8 386.4L1295.8 386.4L1296.8 386.4L1297.8 386.4L1298.8 386.4L1299.8 386.4L1300.8 386.4L1301.8 386.4L1302.8 386.4L1303.8 386.4L1304.8 386.4L1305.8 386.4L1306.8 386.4L1307.8 386.4L1308.8 386.4L1309.8 386.4L1310.8 386.4L1311.8 386.4L1312.8 386.4L1313.8 386.4L1314.8 386.4L1315.8 386.4L1316.8 386.4L1317.8 386.4L1318.8 386.4L1319.8 386.4L1320.8 386.4L1321.8 386.4L1322.8 386.4L1323.8 386.4L1324.8 386.4L1325.8 386.4L1326.8 386.4L1327.8 386.4L1328.8 386.4L1329.8 386.4L1330.8 386.4L1331.8 386.4L1332.8 386.4L1333.8 386.4L1334.8 386.4L1335.8 386.4L1336.8 386.4L1337.8 386.4L1338.8 386.4L1339.8 386.4L1340.8 386.4L1341.8 386.4L1342.8 386.4L1343.8 386.4L1344.8 386.4L1345.8 386.4L1346.8 386.4L1347.8 386.4L1348.8 386.4L1349.8 386.4L1350.8 386.4L1351.8 386.4L1352.8 386.4L1353.8 386.4L1354.8 386.4L1355.8 386.4L1356.8 386.4L1357.8 386.4L1358.8 386.4L1359.8 386.4L1360.8 386.4L1361.8 386.4L1362.8 386.4L1363.8 386.4L1364.8 386.4L1365.8 386.4L1366.8 386.4L1367.8 386.4L1368.8 386.4L1369.8 386.4L1370.8 386.4L1371.8 386.4L1372.8 386.4L1373.8 386.4L1374.8 386.4L1375.8 386.4L1376.8 386.4L1377.8 386.4L1378.8 386.4L1379.8 386.4L1380.8 386.4L1381.8 386.4L1382.8 386.4L1383.8 386.4L1384.8 386.4L1385.8 386.4L1386.8 386.4L1387.8 386.4L1388.8 386.4L1389.8 386.4L1390.8 386.4L1391.8 386.4L1392.8 386.4L1393.8 386.4L1394.8 386.4L1395.8 386.4L1396.8 386.4L1397.8 386.4L1398.8 386.4L1399.8 386.4L1400.8 386.4L1401.8 386.4L1402.8 386.4L1403.8 386.4L1404.8 386.4L1405.8 386.4L1406.8 386.4L1407.8 386.4L1408.8 386.4L1409.8 386.4L1410.8 386.4L1411.8 386.4L1412.8 386.4L1413.8 386.4L1414.8 386.4L1415.8 386.4L1416.8 386.4L1417.8 386.4L1418.8 386.4L1419.8 386.4L1420.8 386.4L1421.8 386.4L1422.8 386.4L1423.8 386.4L1424.8 386.4L1425.8 386.4L1426.8 386.4L1427.8 386.4L1428.8 386.4L1429.8 386.4L1430.8 386.4L1431.8 386.4L1432.8 386.4L1433.8 386.4L1434.8 386.4L1435.8 386.4L1436.8 386.4L1437.8 386.4L1438.8 386.4L1439.8 386.4L1440.8 386.4L1441.8 386.4L1442.8 386.4L1443.8 386.4L1444.8 386.4L1445.8 386.4L1446.8 386.4L1447.8 386.4L1448.8 386.4L1449.8 386.4L1450.8 386.4L1451.8 386.4L1452.8 386.4L1453.8 386.4L1454.8 386.4L1455.8 386.4L1456.8 386.4L1457.8 386.4L1458.8 386.4L1459.8 386.4L1460.8 386.4L1461.8 386.4L1462.8 386.4L1463.8 386.4L1464.8 386.4L1465.8 386.4L1466.8 386.4L1467.8 386.4L1468.8 386.4L1469.8 386.4L1470.8 386.4L1471.8 386.4L1472.8 386.4L1473.8 386.4L1474.8 386.4L1475.8 386.4L1476.8 386.4L1477.8 386.4L1478.8 386.4L1479.8 386.4L1480.8 386.4L1481.8 386.4L1482.8 386.4L1483.8 386.4L1484.8 386.4L1485.8 386.4L1486.8 386.4L1487.8 386.4L1488.8 386.4L1489.8 386.4L1490.8 386.4L1491.8 386.4L1492.8 386.4L1493.8 386.4L1494.8 386.4L1495.8 386.4L1496.8 386.4L1497.8 386.4L1498.8 386.4L1499.8 386.4L1500.8 386.4L1501.8 386.4L1502.8 386.4L1503.8 386.4L1504.8 386.4L1505.8 386.4L1506.8 386.4L1507.8 386.4L1508.8 386.4L1509.8 386.4L1510.8 386.4L1511.8 386.4L1512.8 386.4L1513.8 386.4L1514.8 386.4L1515.8 386.4L1516.8 386.4L1517.8 386.4L1518.8 386.4L1519.8 386.4L1520.8 386.4L1521.8 386.4L1522.8 386.4L1523.8 386.4L1524.8 386.4L1525.8 386.4L1526.8 386.4L1527.8 386.4L1528.8 386.4L1529.8 386.4L1530.8 386.4L1531.8 386.4L1532.8 386.4L1533.8 386.4L1534.8 386.4L1535.8 386.4L1536.8 386.4L1537.8 386.4L1538.8 386.4L1539.8 386.4L1540.8 386.4L1541.8 386.4L1542.8 386.4L1543.8 386.4L1544.8 386.4L1545.8 386.4L1546.8 386.4L1547.8 386.4L1548.8 386.4L1549.8 386.4L1550.8 386.4L1551.8 386.4L1552.8 386.4L1553.8 386.4L1554.8 386.4L1555.8 386.4L1556.8 386.4L1557.8 386.4L1558.8 386.4L1559.8 386.4L1560.8 386.4L1561.8 386.4L1562.8 386.4L1563.8 386.4L1564.8 386.4L1565.8 386.4L1566.8 386.4L1567.8 386.4L1568.8 386.4L1569.8 386.4L1570.8 386.4L1571.8 386.4L1572.8 386.4L1573.8 386.4L1573.8 406.4L1572.8 406.4L1571.8 406.4L1570.8 406.4L1569.8 406.4L1568.8 406.4L1567.8 406.4L1566.8 406.4L1565.8 406.4L1564.8 406.4L1563.8 406.4L1562.8 406.4L1561.8 406.4L1560.8 406.4L1559.8 406.4L1558.8 406.4L1557.8 406.4L1556.8 406.4L1555.8 406.4L1554.8 406.4L1553.8 406.4L1552.8 406.4L1551.8 406.4L1550.8 406.4L1549.8 406.4L1548.8 406.4L1547.8 406.4L1546.8 406.4L1545.8 406.4L1544.8 406.4L1543.8 406.4L1542.8 406.4L1541.8 406.4L1540.8 406.4L1539.8 406.4L1538.8 406.4L1537.8 406.4L1536.8 406.4L1535.8 406.4L1534.8 406.4L1533.8 406.4L1532.8 406.4L1531.8 406.4L1530.8 406.4L1529.8 406.4L1528.8 406.4L1527.8 406.4L1526.8 406.4L1525.8 406.4L1524.8 406.4L1523.8 406.4L1522.8 406.4L1521.8 406.4L1520.8 406.4L1519.8 406.4L1518.8 406.4L1517.8 406.4L1516.8 406.4L1515.8 406.4L1514.8 406.4L1513.8 406.4L1512.8 406.4L1511.8 406.4L1510.8 406.4L1509.8 406.4L1508.8 406.4L1507.8 406.4L1506.8 406.4L1505.8 406.4L1504.8 406.4L1503.8 406.4L1502.8 406.4L1501.8 406.4L1500.8 406.4L1499.8 406.4L1498.8 406.4L1497.8 406.4L1496.8 406.4L1495.8 406.4L1494.8 406.4L1493.8 406.4L1492.8 406.4L1491.8 406.4L1490.8 406.4L1489.8 406.4L1488.8 406.4L1487.8 406.4L1486.8 406.4L1485.8 406.4L1484.8 406.4L1483.8 406.4L1482.8 406.4L1481.8 406.4L1480.8 406.4L1479.8 406.4L1478.8 406.4L1477.8 406.4L1476.8 406.4L1475.8 406.4L1474.8 406.4L1473.8 406.4L1472.8 406.4L1471.8 406.4L1470.8 406.4L1469.8 406.4L1468.8 406.4L1467.8 406.4L1466.8 406.4L1465.8 406.4L1464.8 406.4L1463.8 406.4L1462.8 406.4L1461.8 406.4L1460.8 406.4L1459.8 406.4L1458.8 406.4L1457.8 406.4L1456.8 406.4L1455.8 406.4L1454.8 406.4L1453.8 406.4L1452.8 406.4L1451.8 406.4L1450.8 406.4L1449.8 406.4L1448.8 406.4L1447.8 406.4L1446.8 406.4L1445.8 406.4L1444.8 406.4L1443.8 406.4L1442.8 406.4L1441.8 406.4L1440.8 406.4L1439.8 406.4L1438.8 406.4L1437.8 406.4L1436.8 406.4L1435.8 406.4L1434.8 406.4L1433.8 406.4L1432.8 406.4L1431.8 406.4L1430.8 406.4L1429.8 406.4L1428.8 406.4L1427.8 406.4L1426.8 406.4L1425.8 406.4L1424.8 406.4L1423.8 406.4L1422.8 406.4L1421.8 406.4L1420.8 406.4L1419.8 406.4L1418.8 406.4L1417.8 406.4L1416.8 406.4L1415.8 406.4L1414.8 406.4L1413.8 406.4L1412.8 406.4L1411.8 406.4L1410.8 406.4L1409.8 406.4L1408.8 406.4L1407.8 406.4L1406.8 406.4L1405.8 406.4L1404.8 406.4L1403.8 406.4L1402.8 406.4L1401.8 406.4L1400.8 406.4L1399.8 406.4L1398.8 406.4L1397.8 406.4L1396.8 406.4L1395.8 406.4L1394.8 406.4L1393.8 406.4L1392.8 406.4L1391.8 406.4L1390.8 406.4L1389.8 406.4L1388.8 406.4L1387.8 406.4L1386.8 406.4L1385.8 406.4L1384.8 406.4L1383.8 406.4L1382.8 406.4L1381.8 406.4L1380.8 406.4L1379.8 406.4L1378.8 406.4L1377.8 406.4L1376.8 406.4L1375.8 406.4L1374.8 406.4L1373.8 406.4L1372.8 406.4L1371.8 406.4L1370.8 406.4L1369.8 406.4L1368.8 406.4L1367.8 406.4L1366.8 406.4L1365.8 406.4L1364.8 406.4L1363.8 406.4L1362.8 406.4L1361.8 406.4L1360.8 406.4L1359.8 406.4L1358.8 406.4L1357.8 406.4L1356.8 406.4L1355.8 406.4L1354.8 406.4L1353.8 406.4L1352.8 406.4L1351.8 406.4L1350.8 406.4L1349.8 406.4L1348.8 406.4L1347.8 406.4L1346.8 406.4L1345.8 406.4L1344.8 406.4L1343.8 406.4L1342.8 406.4L1341.8 406.4L1340.8 406.4L1339.8 406.4L1338.8 406.4L1337.8 406.4L1336.8 406.4L1335.8 406.4L1334.8 406.4L1333.8 406.4L1332.8 406.4L1331.8 406.4L1330.8 406.4L1329.8 406.4L1328.8 406.4L1327.8 406.4L1326.8 406.4L1325.8 406.4L1324.8 406.4L1323.8 406.4L1322.8 406.4L1321.8 406.4L1320.8 406.4L1319.8 406.4L1318.8 406.4L1317.8 406.4L1316.8 406.4L1315.8 406.4L1314.8 406.4L1313.8 406.4L1312.8 406.4L1311.8 406.4L1310.8 406.4L1309.8 406.4L1308.8 406.4L1307.8 406.4L1306.8 406.4L1305.8 406.4L1304.8 406.4L1303.8 406.4L1302.8 406.4L1301.8 406.4L1300.8 406.4L1299.8 406.4L1298.8 406.4L1297.8 406.4L1296.8 406.4L1295.8 406.4L1294.8 406.4L1293.8 406.4L1292.8 406.4L1291.8 406.4L1290.8 406.4L1289.8 406.4L1288.8 406.4L1287.8 406.4L1286.8 406.4L1285.8 406.4L1284.8 406.4L1283.8 406.4L1282.8 406.4L1281.8 406.4L1280.8 406.4L1279.8 406.4L1278.8 406.4L1277.8 406.4L1276.8 406.4L1275.8 406.4L1274.8 406.4L1273.8 406.4L1272.8 406.4L1271.8 406.4L1270.8 406.4L1269.8 406.4L1268.8 406.4L1267.8 406.4L1266.8 406.4L1265.8 406.4L1264.8 406.4L1263.8 406.4L1262.8 406.4L1261.8 406.4L1260.8 406.4L1259.8 406.4L1258.8 406.4L1257.8 406.4L1256.8 406.4L1255.8 406.4L1254.8 406.4L1253.8 406.4L1252.8 406.4L1251.8 406.4L1250.8 406.4L1249.8 406.4L1248.8 406.4L1247.8 406.4L1246.8 406.4L1245.8 406.4L1244.8 406.4L1243.8 406.4L1242.8 406.4L1241.8 406.4L1240.8 406.4L1239.8 406.4L1238.8 406.4L1237.8 406.4L1236.8 406.4L1235.8 406.4L1234.8 406.4L1233.8 406.4L1232.8 406.4L1231.8 406.4L1230.8 406.4L1229.8 406.4L1228.8 406.4L1227.8 406.4L1226.8 406.4L1225.8 406.4L1224.8 406.4L1223.8 406.4L1222.8 406.4L1221.8 406.4L1220.8 406.4L1219.8 406.4L1218.8 406.4L1217.8 406.4L1216.8 406.4L1215.8 406.4L1214.8 406.4L1213.8 406.4L1212.8 406.4L1211.8 406.4L1210.8 406.4L1209.8 406.4L1208.8 406.4L1207.8 406.4L1206.8 406.4L1205.8 406.4L1204.8 406.4L1203.8 406.4L1202.8 406.4L1201.8 406.4L1200.8 406.4L1199.8 406.4L1198.8 406.4L1197.8 406.4L1196.8 406.4L1195.8 406.4L1194.8 406.4L1193.8 406.4L1192.8 406.4L1191.8 406.4L1190.8 406.4L1189.8 406.4L1188.8 406.4L1187.8 406.4L1186.8 406.4L1185.8 406.4L1184.8 406.4L1183.8 406.4L1182.8 406.4L1181.8 406.4L1180.8 406.4L1179.8 406.4L1178.8 406.4L1177.8 406.4L1176.8 406.4L1175.8 406.4L1174.8 406.4L1173.8 406.4L1172.8 406.4L1171.8 406.4L1170.8 406.4L1169.8 406.4L1168.8 406.4L1167.8 406.4L1166.8 406.4L1165.8 406.4L1164.8 406.4L1163.8 406.4L1162.8 406.4L1161.8 406.4L1160.8 406.4L1159.8 406.4L1158.8 406.4L1157.8 406.4L1156.8 406.4L1155.8 406.4L1154.8 406.4L1153.8 406.4L1152.8 406.4L1151.8 406.4L1150.8 406.4L1149.8 406.4L1148.8 406.4L1147.8 406.4L1146.8 406.4L1145.8 406.4L1144.8 406.4L1143.8 406.4L1142.8 406.4L1141.8 406.4L1140.8 406.4L1139.8 406.4L1138.8 406.4L1137.8 406.4L1136.8 406.4L1135.8 406.4L1134.8 406.4L1133.8 406.4L1132.8 406.4L1131.8 406.4L1130.8 406.4L1129.8 406.4L1128.8 406.4L1127.8 406.4L1126.8 406.4L1125.8 406.4L1124.8 406.4L1123.8 406.4L1122.8 406.4L1121.8 406.4L1120.8 406.4L1119.8 406.4L1118.8 406.4L1117.8 406.4L1116.8 406.7L1115.8 407.6L1114.8 408.7L1113.8 409.8L1112.8 411.4L1111.8 413.1L1110.8 414.9L1109.8 416.8L1108.8 419.0L1107.8 421.4L1106.8 423.5L1105.8 426.2L1104.8 428.9L1103.8 431.6L1102.8 434.4L1101.8 437.4L1100.8 440.5L1099.8 443.4L1098.8 446.7L1097.8 450.0L1096.8 453.2L1095.8 456.6L1094.8 460.2L1093.8 463.6L1092.8 467.0L1091.8 470.7L1090.8 474.3L1089.8 477.8L1088.8 481.5L1087.8 485.3L1086.8 488.9L1085.8 492.5L1084.8 496.3L1083.8 499.9L1082.8 503.4L1081.8 507.1L1080.8 510.7L1079.8 514.0L1078.8 517.5L1077.8 521.0L1076.8 524.2L1075.8 527.3L1074.8 530.4L1073.8 533.2L1072.8 535.7L1071.8 538.2L1070.8 540.0L1069.8 541.5L1068.8 542.9L1067.8 544.3L1066.8 545.5L1065.8 546.7L1064.8 547.9L1063.8 549.1L1062.8 550.2L1061.8 551.2L1060.8 552.3L1059.8 553.3L1058.8 554.3L1057.8 555.2L1056.8 556.2L1055.8 557.1L1054.8 557.9L1053.8 558.8L1052.8 559.7L1051.8 560.5L1050.8 561.3L1049.8 562.1L1048.8 562.9L1047.8 563.6L1046.8 564.4L1045.8 565.1L1044.8 565.8L1043.8 566.5L1042.8 567.2L1041.8 567.9L1040.8 568.5L1039.8 569.2L1038.8 569.8L1037.8 570.4L1036.8 571.0L1035.8 571.6L1034.8 572.2L1033.8 572.8L1032.8 573.4L1031.8 574.0L1030.8 574.5L1029.8 575.1L1028.8 575.6L1027.8 576.1L1026.8 576.7L1025.8 577.2L1024.8 577.7L1023.8 578.2L1022.8 578.7L1021.8 579.1L1020.8 579.6L1019.8 580.1L1018.8 580.5L1017.8 581.0L1016.8 581.4L1015.8 581.9L1014.8 582.3L1013.8 582.7L1012.8 583.1L1011.8 583.6L1010.8 584.0L1009.8 584.4L1008.8 584.8L1007.8 585.2L1006.8 585.5L1005.8 585.9L1004.8 586.3L1003.8 586.7L1002.8 587.0L1001.8 587.4L1000.8 587.7L999.8 588.1L998.8 588.4L997.8 588.8L996.8 589.1L995.8 589.4L994.8 589.8L993.8 590.1L992.8 590.4L991.8 590.7L990.8 591.0L989.8 591.3L988.8 591.6L987.8 591.9L986.8 592.2L985.8 592.5L984.8 592.8L983.8 593.1L982.8 593.3L981.8 593.6L980.8 593.9L979.8 594.1L978.8 594.4L977.8 594.7L976.8 594.9L975.8 595.2L974.8 595.4L973.8 595.7L972.8 595.9L971.8 596.1L970.8 596.4L969.8 596.6L968.8 596.8L967.8 597.1L966.8 597.3L965.8 597.5L964.8 597.7L963.8 597.9L962.8 598.1L961.8 598.3L960.8 598.5L959.8 598.7L958.8 598.9L957.8 599.1L956.8 599.3L955.8 599.5L954.8 599.7L953.8 599.9L952.8 600.1L951.8 600.2L950.8 600.4L949.8 600.6L948.8 600.7L947.8 600.9L946.8 601.1L945.8 601.2L944.8 601.4L943.8 601.6L942.8 601.7L941.8 601.9L940.8 602.0L939.8 602.2L938.8 602.3L937.8 602.4L936.8 602.6L935.8 602.7L934.8 602.9L933.8 603.0L932.8 603.1L931.8 603.2L930.8 603.4L929.8 603.5L928.8 603.6L927.8 603.7L926.8 603.8L925.8 604.0L924.8 604.1L923.8 604.2L922.8 604.3L921.8 604.4L920.8 604.5L919.8 604.6L918.8 604.7L917.8 604.8L916.8 604.9L915.8 605.0L914.8 605.1L913.8 605.2L912.8 605.3L911.8 605.3L910.8 605.4L909.8 605.5L908.8 605.6L907.8 605.7L906.8 605.7L905.8 605.8L904.8 605.9L903.8 606.0L902.8 606.0L901.8 606.1L900.8 606.2L899.8 606.2L898.8 606.3L897.8 606.3L896.8 606.4L895.8 606.4L894.8 606.5L893.8 606.5L892.8 606.6L891.8 606.6L890.8 606.7L889.8 606.7L888.8 606.8L887.8 606.8L886.8 606.8L885.8 606.9L884.8 606.9L883.8 606.9L882.8 607.0L881.8 607.0L880.8 607.0L879.8 607.0L878.8 607.1L877.8 607.1L876.8 607.1L875.8 607.1L874.8 607.1L873.8 607.2L872.8 607.2L871.8 607.2L870.8 607.2L869.8 607.2L868.8 607.2L867.8 607.2L866.8 607.2L865.8 607.2L864.8 607.2L863.8 607.2L862.8 607.2L861.8 607.2L860.8 607.2L859.8 607.2L858.8 607.2L857.8 607.2L856.8 607.2L855.8 607.2L854.8 607.2L853.8 607.2L852.8 607.2L851.8 607.2L850.8 607.1L849.8 607.1L848.8 607.1L847.8 607.1L846.8 607.1L845.8 607.0L844.8 607.0L843.8 607.0L842.8 607.0L841.8 606.9L840.8 606.9L839.8 606.9L838.8 606.8L837.8 606.8L836.8 606.8L835.8 606.7L834.8 606.7L833.8 606.6L832.8 606.6L831.8 606.5L830.8 606.5L829.8 606.4L828.8 606.4L827.8 606.3L826.8 606.3L825.8 606.2L824.8 606.1L823.8 606.1L822.8 606.0L821.8 605.9L820.8 605.9L819.8 605.8L818.8 605.7L817.8 605.7L816.8 605.6L815.8 605.5L814.8 605.4L813.8 605.3L812.8 605.2L811.8 605.2L810.8 605.1L809.8 605.0L808.8 604.9L807.8 604.8L806.8 604.7L805.8 604.6L804.8 604.5L803.8 604.4L802.8 604.3L801.8 604.2L800.8 604.1L799.8 603.9L798.8 603.8L797.8 603.7L796.8 603.6L795.8 603.5L794.8 603.3L793.8 603.2L792.8 603.1L791.8 603.0L790.8 602.8L789.8 602.7L788.8 602.6L787.8 602.4L786.8 602.3L785.8 602.1L784.8 602.0L783.8 601.8L782.8 601.7L781.8 601.5L780.8 601.4L779.8 601.2L778.8 601.0L777.8 600.9L776.8 600.7L775.8 600.5L774.8 600.4L773.8 600.2L772.8 600.0L771.8 599.8L770.8 599.7L769.8 599.5L768.8 599.3L767.8 599.1L766.8 598.9L765.8 598.7L764.8 598.5L763.8 598.3L762.8 598.1L761.8 597.9L760.8 597.7L759.8 597.4L758.8 597.2L757.8 597.0L756.8 596.8L755.8 596.6L754.8 596.3L753.8 596.1L752.8 595.9L751.8 595.6L750.8 595.4L749.8 595.1L748.8 594.9L747.8 594.6L746.8 594.4L745.8 594.1L744.8 593.8L743.8 593.6L742.8 593.3L741.8 593.0L740.8 592.7L739.8 592.4L738.8 592.2L737.8 591.9L736.8 591.6L735.8 591.3L734.8 591.0L733.8 590.7L732.8 590.3L731.8 590.0L730.8 589.7L729.8 589.4L728.8 589.0L727.8 588.7L726.8 588.4L725.8 588.0L724.8 587.7L723.8 587.3L722.8 587.0L721.8 586.6L720.8 586.2L719.8 585.8L718.8 585.5L717.8 585.1L716.8 584.7L715.8 584.3L714.8 583.9L713.8 583.5L712.8 583.1L711.8 582.6L710.8 582.2L709.8 581.8L708.8 581.3L707.8 580.9L706.8 580.4L705.8 580.0L704.8 579.5L703.8 579.0L702.8 578.6L701.8 578.1L700.8 577.6L699.8 577.1L698.8 576.5L697.8 576.0L696.8 575.5L695.8 575.0L694.8 574.4L693.8 573.9L692.8 573.3L691.8 572.7L690.8 572.1L689.8 571.5L688.8 570.9L687.8 570.3L686.8 569.7L685.8 569.0L684.8 568.4L683.8 567.7L682.8 567.0L681.8 566.4L680.8 565.7L679.8 564.9L678.8 564.2L677.8 563.5L676.8 562.7L675.8 561.9L674.8 561.1L673.8 560.3L672.8 559.5L671.8 558.6L670.8 557.8L669.8 556.9L668.8 556.0L667.8 555.0L666.8 554.1L665.8 553.1L664.8 552.1L663.8 551.0L662.8 550.0L661.8 548.8L660.8 547.7L659.8 546.5L658.8 545.3L657.8 544.0L656.8 542.6L655.8 541.2L654.8 539.7L653.8 537.8L652.8 535.3L651.8 532.5L650.8 529.8L649.8 526.7L648.8 523.5L647.8 520.3L646.8 517.0L645.8 513.4L644.8 509.8L643.8 506.5L642.8 502.8L641.8 499.1L640.8 495.5L639.8 491.9L638.8 488.1L637.8 484.4L636.8 480.9L635.8 477.1L634.8 473.4L633.8 470.0L632.8 466.4L631.8 462.8L630.8 459.5L629.8 456.0L628.8 452.6L627.8 449.2L626.8 446.1L625.8 442.9L624.8 439.7L623.8 436.8L622.8 433.9L621.8 431.0L620.8 428.2L619.8 425.8L618.8 423.2L617.8 420.7L616.8 418.7L615.8 416.5L614.8 414.5L613.8 412.7L612.8 411.1L611.8 409.7L610.8 408.3L609.8 407.5L608.8 406.7L607.8 406.4L606.8 406.4L605.8 406.4L604.8 406.4L603.8 406.4L602.8 406.4L601.8 406.4L600.8 406.4L599.8 406.4L598.8 406.4L597.8 406.4L596.8 406.4L595.8 406.4L594.8 406.4L593.8 406.4L592.8 406.4L591.8 406.4L590.8 406.4L589.8 406.4L588.8 406.4L587.8 406.4L586.8 406.4L585.8 406.4L584.8 406.4L583.8 406.4L582.8 406.4L581.8 406.4L580.8 406.4L579.8 406.4L578.8 406.4L577.8 406.4L576.8 406.4L575.8 406.4L574.8 406.4L573.8 406.4L572.8 406.4L571.8 406.4L570.8 406.4L569.8 406.4L568.8 406.4L567.8 406.4L566.8 406.4L565.8 406.4L564.8 406.4L563.8 406.4L562.8 406.4L561.8 406.4L560.8 406.4L559.8 406.4L558.8 406.4L557.8 406.4L556.8 406.4L555.8 406.4L554.8 406.4L553.8 406.4L552.8 406.4L551.8 406.4L550.8 406.4L549.8 406.4L548.8 406.4L547.8 406.4L546.8 406.4L545.8 406.4L544.8 406.4L543.8 406.4L542.8 406.4L541.8 406.4L540.8 406.4L539.8 406.4L538.8 406.4L537.8 406.4L536.8 406.4L535.8 406.4L534.8 406.4L533.8 406.4L532.8 406.4L531.8 406.4L530.8 406.4L529.8 406.4L528.8 406.4L527.8 406.4L526.8 406.4L525.8 406.4L524.8 406.4L523.8 406.4L522.8 406.4L521.8 406.4L520.8 406.4L519.8 406.4L518.8 406.4L517.8 406.4L516.8 406.4L515.8 406.4L514.8 406.4L513.8 406.4L512.8 406.4L511.8 406.4L510.8 406.4L509.8 406.4L508.8 406.4L507.8 406.4L506.8 406.4L505.8 406.4L504.8 406.4L503.8 406.4L502.8 406.4L501.8 406.4L500.8 406.4L499.8 406.4L498.8 406.4L497.8 406.4L496.8 406.4L495.8 406.4L494.8 406.4L493.8 406.4L492.8 406.4L491.8 406.4L490.8 406.4L489.8 406.4L488.8 406.4L487.8 406.4L486.8 406.4L485.8 406.4L484.8 406.4L483.8 406.4L482.8 406.4L481.8 406.4L480.8 406.4L479.8 406.4L478.8 406.4L477.8 406.4L476.8 406.4L475.8 406.4L474.8 406.4L473.8 406.4L472.8 406.4L471.8 406.4L470.8 406.4L469.8 406.4L468.8 406.4L467.8 406.4L466.8 406.4L465.8 406.4L464.8 406.4L463.8 406.4L462.8 406.4L461.8 406.4L460.8 406.4L459.8 406.4L458.8 406.4L457.8 406.4L456.8 406.4L455.8 406.4L454.8 406.4L453.8 406.4L452.8 406.4L451.8 406.4L450.8 406.4L449.8 406.4L448.8 406.4L447.8 406.4L446.8 406.4L445.8 406.4L444.8 406.4L443.8 406.4L442.8 406.4L441.8 406.4L440.8 406.4L439.8 406.4L438.8 406.4L437.8 406.4L436.8 406.4L435.8 406.4L434.8 406.4L433.8 406.4L432.8 406.4L431.8 406.4L430.8 406.4L429.8 406.4L428.8 406.4L427.8 406.4L426.8 406.4L425.8 406.4L424.8 406.4L423.8 406.4L422.8 406.4L421.8 406.4L420.8 406.4L419.8 406.4L418.8 406.4L417.8 406.4L416.8 406.4L415.8 406.4L414.8 406.4L413.8 406.4L412.8 406.4L411.8 406.4L410.8 406.4L409.8 406.4L408.8 406.4L407.8 406.4L406.8 406.4L405.8 406.4L404.8 406.4L403.8 406.4L402.8 406.4L401.8 406.4L400.8 406.4L399.8 406.4L398.8 406.4L397.8 406.4L396.8 406.4L395.8 406.4L394.8 406.4L393.8 406.4L392.8 406.4L391.8 406.4L390.8 406.4L389.8 406.4L388.8 406.4L387.8 406.4L386.8 406.4L385.8 406.4L384.8 406.4L383.8 406.4L382.8 406.4L381.8 406.4L380.8 406.4L379.8 406.4L378.8 406.4L377.8 406.4L376.8 406.4L375.8 406.4L374.8 406.4L373.8 406.4L372.8 406.4L371.8 406.4L370.8 406.4L369.8 406.4L368.8 406.4L367.8 406.4L366.8 406.4L365.8 406.4L364.8 406.4L363.8 406.4L362.8 406.4L361.8 406.4L360.8 406.4L359.8 406.4L358.8 406.4L357.8 406.4L356.8 406.4L355.8 406.4L354.8 406.4L353.8 406.4L352.8 406.4L351.8 406.4L350.8 406.4L349.8 406.4L348.8 406.4L347.8 406.4L346.8 406.4L345.8 406.4L344.8 406.4L343.8 406.4L342.8 406.4L341.8 406.4L340.8 406.4L339.8 406.4L338.8 406.4L337.8 406.4L336.8 406.4L335.8 406.4L334.8 406.4L333.8 406.4L332.8 406.4L331.8 406.4L330.8 406.4L329.8 406.4L328.8 406.4L327.8 406.4L326.8 406.4L325.8 406.4L324.8 406.4L323.8 406.4L322.8 406.4L321.8 406.4L320.8 406.4L319.8 406.4L318.8 406.4L317.8 406.4L316.8 406.4L315.8 406.4L314.8 406.4L313.8 406.4L312.8 406.4L311.8 406.4L310.8 406.4L309.8 406.4L308.8 406.4L307.8 406.4L306.8 406.4L305.8 406.4L304.8 406.4L303.8 406.4L302.8 406.4L301.8 406.4L300.8 406.4L299.8 406.4L298.8 406.4L297.8 406.4L296.8 406.4L295.8 406.4L294.8 406.4L293.8 406.4L292.8 406.4L291.8 406.4L290.8 406.4L289.8 406.4L288.8 406.4L287.8 406.4L286.8 406.4L285.8 406.4L284.8 406.4L283.8 406.4L282.8 406.4L281.8 406.4L280.8 406.4L279.8 406.4L278.8 406.4L277.8 406.4L276.8 406.4L275.8 406.4L274.8 406.4L273.8 406.4L272.8 406.4L271.8 406.4L270.8 406.4L269.8 406.4L268.8 406.4L267.8 406.4L266.8 406.4L265.8 406.4L264.8 406.4L263.8 406.4L262.8 406.4L261.8 406.4L260.8 406.4L259.8 406.4L258.8 406.4L257.8 406.4L256.8 406.4L255.8 406.4L254.8 406.4L253.8 406.4L252.8 406.4L251.8 406.4L250.8 406.4L249.8 406.4L248.8 406.4L247.8 406.4L246.8 406.4L245.8 406.4L244.8 406.4L243.8 406.4L242.8 406.4L241.8 406.4L240.8 406.4L239.8 406.4L238.8 406.4L237.8 406.4L236.8 406.4L235.8 406.4L234.8 406.4L233.8 406.4L232.8 406.4L231.8 406.4L230.8 406.4L229.8 406.4L228.8 406.4L227.8 406.4L226.8 406.4L225.8 406.4L224.8 406.4L223.8 406.4L222.8 406.4L221.8 406.4L220.8 406.4L219.8 406.4L218.8 406.4L217.8 406.4L216.8 406.4L215.8 406.4L214.8 406.4L213.8 406.4L212.8 406.4L211.8 406.4L210.8 406.4L209.8 406.4L208.8 406.4L207.8 406.4L206.8 406.4L205.8 406.4L204.8 406.4L203.8 406.4L202.8 406.4L201.8 406.4L200.8 406.4L199.8 406.4L198.8 406.4L197.8 406.4L196.8 406.4L195.8 406.4L194.8 406.4L193.8 406.4L192.8 406.4L191.8 406.4L190.8 406.4L189.8 406.4L188.8 406.4L187.8 406.4L186.8 406.4L185.8 406.4L184.8 406.4L183.8 406.4L182.8 406.4L181.8 406.4L180.8 406.4L179.8 406.4L178.8 406.4L177.8 406.4L176.8 406.4L175.8 406.4L174.8 406.4L173.8 406.4L172.8 406.4L171.8 406.4L170.8 406.4L169.8 406.4L168.8 406.4L167.8 406.4L166.8 406.4L165.8 406.4L164.8 406.4L163.8 406.4L162.8 406.4L161.8 406.4L160.8 406.4L159.8 406.4L158.8 406.4L157.8 406.4L156.8 406.4L155.8 406.4L154.8 406.4L153.8 406.4Z"/><path d="M1218.5 383h5v5h-5zM922 598h5v5h-5zM972.5 592h5v5h-5zM555.5 380.5h5v5h-5zM695 570h5v5h-5zM837 587h5v5h-5zM1371.5 387h5v5h-5zM959.5 596.5h5v5h-5zM1450 384.5h5v5h-5zM877 602h5v5h-5zM246.5 386.5h5v5h-5zM1359.5 401h5v5h-5zM929 598h5v5h-5zM327 404.5h5v5h-5zM1053 549h5v5h-5zM389 402.5h5v5h-5zM864 587h5v5h-5zM1156.5 403h5v5h-5zM1410 385.5h5v5h-5zM901.5 606.5h5v5h-5zM254.5 401.5h5v5h-5zM1046 539.5h5v5h-5zM178 401h5v5h-5zM1002 585h5v5h-5zM1002 564.5h5v5h-5zM1323.5 384.5h5v5h-5zM228.5 387h5v5h-5zM916 585h5v5h-5zM277.5 384.5h5v5h-5zM764 576.5h5v5h-5zM793 575h5v5h-5zM176 387h5v5h-5zM212 407h5v5h-5zM1499.5 404h5v5h-5zM580 381.5h5v5h-5zM658 544h5v5h-5zM1470.5 406.5h5v5h-5zM515.5 403.5h5v5h-5zM717.5 565h5v5h-5zM507 401h5v5h-5zM646.5 490.5h5v5h-5zM1100.5 421.5h5v5h-5zM677 541h5v5h-5zM1216.5 383h5v5h-5zM1345.5 401.5h5v5h-5zM549 401h5v5h-5zM302.5 385h5v5h-5zM807 602.5h5v5h-5zM320 401h5v5h-5zM1487.5 406h5v5h-5zM1292.5 385h5v5h-5zM1397 386h5v5h-5zM1330 404h5v5h-5zM767 600h5v5h-5zM1113 404.5h5v5h-5zM904 585.5h5v5h-5zM1256.5 406h5v5h-5zM923.5 580.5h5v5h-5zM1470.5 386.5h5v5h-5zM637 454h5v5h-5zM385 381.5h5v5h-5zM1157 387h5v5h-5zM658 536.5h5v5h-5zM820.5 581h5v5h-5zM946 575.5h5v5h-5zM1376.5 402.5h5v5h-5zM844 602h5v5h-5zM1139 382h5v5h-5zM623.5 406h5v5h-5zM257.5 404h5v5h-5zM722 580.5h5v5h-5zM540 387h5v5h-5zM1550 386h5v5h-5zM1240.5 401.5h5v5h-5zM1225.5 387h5v5h-5zM777 596h5v5h-5zM1498.5 402.5h5v5h-5zM797.5 598.5h5v5h-5zM710.5 577.5h5v5h-5zM633 456.5h5v5h-5zM1451.5 384h5v5h-5zM1290 402h5v5h-5zM1026.5 551h5v5h-5zM236 383h5v5h-5zM1387.5 383.5h5v5h-5zM787 602h5v5h-5zM1107 407h5v5h-5zM1546 406h5v5h-5zM555 378h5v5h-5zM1385.5 387h5v5h-5zM909 584.5h5v5h-5zM422.5 403h5v5h-5zM687.5 549.5h5v5h-5zM1406 402h5v5h-5zM1199.5 401h5v5h-5zM1096.5 430h5v5h-5zM711 561.5h5v5h-5zM844.5 585.5h5v5h-5zM1129 402h5v5h-5zM680 544h5v5h-5zM1326.5 402h5v5h-5zM335.5 379.5h5v5h-5zM337 407.5h5v5h-5zM1410 402h5v5h-5zM725.5 567.5h5v5h-5zM777 580h5v5h-5zM951.5 576.5h5v5h-5zM406 404h5v5h-5zM471 383h5v5h-5zM803 602h5v5h-5zM1164 404.5h5v5h-5zM408 385.5h5v5h-5zM1009.5 560h5v5h-5zM1132 383.5h5v5h-5zM1493.5 401.5h5v5h-5zM229.5 384.5h5v5h-5zM1518.5 404.5h5v5h-5zM764.5 568.5h5v5h-5zM988 567.5h5v5h-5zM311 403h5v5h-5zM1286.5 402.5h5v5h-5zM728 585.5h5v5h-5zM1059.5 524h5v5h-5zM893.5 603h5v5h-5zM458.5 384.5h5v5h-5zM185 385.5h5v5h-5zM186.5 404h5v5h-5zM571 386.5h5v5h-5zM1184 385h5v5h-5zM1504.5 387h5v5h-5zM767 600.5h5v5h-5zM684 547.5h5v5h-5zM928 598.5h5v5h-5zM1499 386.5h5v5h-5zM1547.5 403.5h5v5h-5zM1311 386.5h5v5h-5zM786.5 598h5v5h-5zM1363 401.5h5v5h-5zM250.5 387h5v5h-5zM274.5 381.5h5v5h-5zM819.5 579.5h5v5h-5zM673 538h5v5h-5zM296 381h5v5h-5zM1110 402h5v5h-5zM1467 382.5h5v5h-5zM1143.5 387h5v5h-5zM997 567.5h5v5h-5zM413 381.5h5v5h-5zM1221.5 401.5h5v5h-5zM396 400.5h5v5h-5zM403.5 402.5h5v5h-5zM536 403.5h5v5h-5zM788.5 599h5v5h-5zM251.5 409h5v5h-5zM672 538h5v5h-5zM784.5 597h5v5h-5zM544 384.5h5v5h-5zM891.5 604h5v5h-5zM1257.5 385h5v5h-5zM407.5 402.5h5v5h-5zM1439 386h5v5h-5zM1140.5 386.5h5v5h-5zM1212 401.5h5v5h-5zM488 383.5h5v5h-5zM1140 387h5v5h-5zM1500 402.5h5v5h-5zM498 383h5v5h-5zM1073 510.5h5v5h-5zM1201 382.5h5v5h-5zM641 466h5v5h-5zM1489.5 381.5h5v5h-5zM1374 386.5h5v5h-5zM1517 401h5v5h-5zM1261.5 385h5v5h-5zM1090 432h5v5h-5zM1029 549h5v5h-5zM284.5 405.5h5v5h-5zM1497.5 386h5v5h-5zM1425 385.5h5v5h-5zM1346 386.5h5v5h-5zM434 404.5h5v5h-5zM863 587.5h5v5h-5zM154.5 401.5h5v5h-5zM1064 519.5h5v5h-5zM757.5 591.5h5v5h-5zM896.5 606h5v5h-5zM847.5 605h5v5h-5zM1004 564h5v5h-5zM849.5 587.5h5v5h-5zM1357 387h5v5h-5zM772 580h5v5h-5zM845 587h5v5h-5zM1519 384h5v5h-5zM1106 409.5h5v5h-5zM1568 385.5h5v5h-5zM716 579h5v5h-5zM1061 543.5h5v5h-5zM434.5 382.5h5v5h-5zM410 409.5h5v5h-5zM304 387h5v5h-5zM486.5 386.5h5v5h-5zM180 382h5v5h-5zM536.5 401h5v5h-5zM989 586.5h5v5h-5zM1197.5 383.5h5v5h-5zM1400.5 402.5h5v5h-5zM1066 531h5v5h-5zM639.5 465.5h5v5h-5zM1473 385.5h5v5h-5zM1094 437h5v5h-5zM773 597h5v5h-5zM1177 409.5h5v5h-5zM1025.5 569h5v5h-5zM1470.5 403.5h5v5h-5zM1514.5 386h5v5h-5zM1204 385h5v5h-5zM185 384h5v5h-5zM240 401.5h5v5h-5zM878 602.5h5v5h-5zM177 381h5v5h-5zM556.5 403.5h5v5h-5zM789 596.5h5v5h-5zM1321.5 401h5v5h-5zM969 591h5v5h-5zM1530 386.5h5v5h-5zM1507 386.5h5v5h-5zM686.5 564.5h5v5h-5zM1524.5 401h5v5h-5zM1160 400.5h5v5h-5zM864.5 587h5v5h-5zM343.5 403.5h5v5h-5zM1139.5 384.5h5v5h-5zM1561.5 384.5h5v5h-5zM632 439h5v5h-5zM918 582.5h5v5h-5zM846 585h5v5h-5zM234 402h5v5h-5zM819.5 604h5v5h-5zM1026 553h5v5h-5zM421.5 380h5v5h-5zM1249 387h5v5h-5zM233 385h5v5h-5zM942.5 579.5h5v5h-5zM1423.5 385h5v5h-5zM828 581h5v5h-5zM234 401h5v5h-5zM758 573h5v5h-5zM328 386h5v5h-5zM1542.5 386.5h5v5h-5zM631.5 452.5h5v5h-5zM1150 400.5h5v5h-5zM482.5 385h5v5h-5zM1143 383.5h5v5h-5zM1515 401.5h5v5h-5zM543.5 405.5h5v5h-5zM413 384.5h5v5h-5zM899.5 584.5h5v5h-5zM513 383.5h5v5h-5zM1131 374h5v5h-5zM1524.5 402h5v5h-5zM1549 404h5v5h-5zM203 386.5h5v5h-5zM714.5 563.5h5v5h-5zM937 582.5h5v5h-5zM531 385h5v5h-5zM178 401h5v5h-5zM1157 403h5v5h-5zM897 584.5h5v5h-5zM1493.5 382h5v5h-5zM1040 559.5h5v5h-5zM1561.5 401h5v5h-5zM367.5 387h5v5h-5zM1116.5 386h5v5h-5zM688.5 550.5h5v5h-5zM171.5 382h5v5h-5zM314 385.5h5v5h-5zM1159 386h5v5h-5zM1136.5 386.5h5v5h-5zM652 508.5h5v5h-5zM176.5 387h5v5h-5zM289 403h5v5h-5zM1456 385.5h5v5h-5zM1327.5 386h5v5h-5zM1297 386.5h5v5h-5zM1163 401.5h5v5h-5zM1549.5 381.5h5v5h-5zM1543.5 403.5h5v5h-5zM1214.5 401h5v5h-5zM1510.5 411.5h5v5h-5zM314 381.5h5v5h-5zM349 385h5v5h-5zM1046.5 532h5v5h-5zM239.5 387h5v5h-5zM436.5 382h5v5h-5zM1005 580h5v5h-5zM173 401h5v5h-5zM1139 385.5h5v5h-5zM1423 387h5v5h-5zM363 403h5v5h-5zM548.5 384.5h5v5h-5zM1022 571h5v5h-5zM1557.5 401h5v5h-5zM862.5 586.5h5v5h-5zM247.5 404.5h5v5h-5zM979 572h5v5h-5zM1342 403h5v5h-5zM925 584h5v5h-5zM431.5 387h5v5h-5zM614 390.5h5v5h-5zM1466.5 387h5v5h-5zM516.5 401h5v5h-5zM709 577.5h5v5h-5zM416.5 404.5h5v5h-5zM791.5 582.5h5v5h-5zM523 386.5h5v5h-5zM1022.5 570h5v5h-5zM946 595h5v5h-5zM908.5 599.5h5v5h-5zM364 401h5v5h-5zM630.5 433.5h5v5h-5zM1348.5 386h5v5h-5zM592 402h5v5h-5zM1261.5 386.5h5v5h-5zM1071.5 499h5v5h-5zM755 591h5v5h-5zM592.5 387h5v5h-5zM1291.5 385.5h5v5h-5zM991.5 585h5v5h-5zM895 584.5h5v5h-5zM943.5 599.5h5v5h-5zM389.5 385h5v5h-5zM1532 380h5v5h-5zM186 382h5v5h-5zM1340 402h5v5h-5zM1048 554.5h5v5h-5zM1053.5 532.5h5v5h-5zM823.5 600.5h5v5h-5zM404.5 385h5v5h-5zM1517.5 404h5v5h-5zM325 383.5h5v5h-5zM639 478.5h5v5h-5zM475 386.5h5v5h-5zM859 587h5v5h-5zM1166 383h5v5h-5zM177 386h5v5h-5zM1108 404.5h5v5h-5zM384 401.5h5v5h-5zM1535 383h5v5h-5zM660 525.5h5v5h-5zM973.5 593.5h5v5h-5zM241 403.5h5v5h-5zM1126 404h5v5h-5zM286.5 386h5v5h-5zM1219.5 385.5h5v5h-5zM595.5 408h5v5h-5zM801.5 598h5v5h-5zM828.5 602h5v5h-5zM351 404h5v5h-5zM1153 382.5h5v5h-5zM984 566.5h5v5h-5zM841 601.5h5v5h-5zM1006 584.5h5v5h-5zM483.5 386.5h5v5h-5zM1375.5 403.5h5v5h-5zM586 400.5h5v5h-5zM583.5 400.5h5v5h-5zM556.5 402h5v5h-5zM913 599.5h5v5h-5zM1153.5 387h5v5h-5zM782 596h5v5h-5zM361.5 386.5h5v5h-5zM1316 385.5h5v5h-5zM1255 401h5v5h-5zM1089.5 449.5h5v5h-5zM404.5 382h5v5h-5zM727 568.5h5v5h-5zM693.5 571h5v5h-5zM437.5 402h5v5h-5zM311 401.5h5v5h-5zM276 404h5v5h-5zM181.5 387h5v5h-5zM182.5 405h5v5h-5zM987.5 568.5h5v5h-5zM269.5 403h5v5h-5zM538 386.5h5v5h-5zM1222 401h5v5h-5zM233.5 401h5v5h-5zM323.5 376.5h5v5h-5zM912.5 581h5v5h-5zM800.5 579.5h5v5h-5zM1015 578.5h5v5h-5zM850.5 586h5v5h-5zM1334.5 386h5v5h-5zM1294 403.5h5v5h-5zM1097 412h5v5h-5zM840.5 603.5h5v5h-5zM285 400.5h5v5h-5zM229 404.5h5v5h-5zM1460 382h5v5h-5zM1514.5 401.5h5v5h-5zM1220.5 401.5h5v5h-5zM411 385.5h5v5h-5zM1233.5 401.5h5v5h-5zM1023.5 555h5v5h-5zM927 583h5v5h-5zM446 401.5h5v5h-5zM405.5 384h5v5h-5zM1410.5 381h5v5h-5zM1320.5 385.5h5v5h-5zM1345 386.5h5v5h-5zM1390 384h5v5h-5zM624.5 413h5v5h-5zM344 402.5h5v5h-5zM412.5 401h5v5h-5zM1316.5 405.5h5v5h-5zM1542 403.5h5v5h-5zM1175 386.5h5v5h-5zM645.5 502h5v5h-5zM858 602h5v5h-5zM1534.5 384h5v5h-5zM386.5 404h5v5h-5zM1487.5 380.5h5v5h-5zM368.5 386.5h5v5h-5zM1049 538h5v5h-5zM364 385h5v5h-5zM701.5 576.5h5v5h-5zM492 401.5h5v5h-5zM747 589h5v5h-5zM343 403h5v5h-5zM725 566h5v5h-5zM1527.5 384.5h5v5h-5zM577.5 402.5h5v5h-5zM995 565.5h5v5h-5zM1161.5 382.5h5v5h-5zM703.5 576h5v5h-5zM1368 386.5h5v5h-5zM253.5 402.5h5v5h-5zM271.5 404h5v5h-5zM1426 405h5v5h-5zM153 402h5v5h-5zM624.5 431.5h5v5h-5zM166 384h5v5h-5zM1413.5 401.5h5v5h-5zM1531 384.5h5v5h-5zM797 598.5h5v5h-5zM641.5 466.5h5v5h-5zM602 384h5v5h-5zM1441 387h5v5h-5zM1176 403h5v5h-5zM1191 378h5v5h-5zM1445 404h5v5h-5zM441.5 404h5v5h-5zM1550.5 408.5h5v5h-5zM618 414.5h5v5h-5zM255.5 400.5h5v5h-5zM569 402.5h5v5h-5zM235 387h5v5h-5zM1532 402h5v5h-5zM1360.5 385.5h5v5h-5zM910.5 605.5h5v5h-5zM1197.5 384h5v5h-5zM769.5 594h5v5h-5zM877 603h5v5h-5zM939.5 596h5v5h-5zM1332.5 400.5h5v5h-5zM1325 407h5v5h-5zM1388.5 405.5h5v5h-5zM1228 401.5h5v5h-5zM209.5 386h5v5h-5zM686 543.5h5v5h-5zM450.5 401h5v5h-5zM517 380h5v5h-5zM1164 403h5v5h-5zM449.5 386.5h5v5h-5zM411 384.5h5v5h-5zM672 538h5v5h-5zM1452 401.5h5v5h-5zM1005.5 563h5v5h-5zM852.5 606h5v5h-5zM163 385h5v5h-5zM504.5 401.5h5v5h-5zM1329 404.5h5v5h-5zM510.5 402h5v5h-5zM504 404h5v5h-5zM579 405h5v5h-5zM1013.5 557h5v5h-5zM772 596.5h5v5h-5zM1361 385h5v5h-5zM1418 386h5v5h-5zM262.5 385.5h5v5h-5zM1440 387h5v5h-5zM549.5 401.5h5v5h-5zM262 385.5h5v5h-5zM354.5 385h5v5h-5zM724 566.5h5v5h-5zM1332.5 403h5v5h-5zM408 402.5h5v5h-5zM1562.5 385.5h5v5h-5zM944.5 595h5v5h-5zM314.5 385h5v5h-5zM625 416.5h5v5h-5zM902 586h5v5h-5zM361.5 387h5v5h-5zM782 596.5h5v5h-5zM211.5 401h5v5h-5zM990.5 584h5v5h-5zM1121.5 387h5v5h-5zM644.5 498.5h5v5h-5zM305.5 387h5v5h-5zM406 410h5v5h-5zM1337 387h5v5h-5zM272.5 404h5v5h-5zM1170 402.5h5v5h-5zM1393 385h5v5h-5zM1218 403.5h5v5h-5zM677 558h5v5h-5zM666.5 546.5h5v5h-5zM319.5 401h5v5h-5zM1002.5 579.5h5v5h-5zM501.5 401.5h5v5h-5zM185.5 408.5h5v5h-5zM433.5 404.5h5v5h-5zM1441 407.5h5v5h-5zM1341 403.5h5v5h-5zM1084 472.5h5v5h-5zM1455.5 386.5h5v5h-5zM660.5 544.5h5v5h-5zM1045 555h5v5h-5zM355 385h5v5h-5zM864 608.5h5v5h-5zM969 575h5v5h-5zM813 584h5v5h-5zM490.5 401h5v5h-5zM962.5 576.5h5v5h-5zM1139.5 403.5h5v5h-5zM247.5 385.5h5v5h-5zM691 566h5v5h-5zM776.5 600h5v5h-5zM383.5 401.5h5v5h-5zM221 401.5h5v5h-5zM766 577h5v5h-5zM990.5 565h5v5h-5zM385 401h5v5h-5zM1148.5 404.5h5v5h-5zM169 387.5h5v5h-5zM665.5 546h5v5h-5zM1301.5 384h5v5h-5zM1505 385.5h5v5h-5zM330.5 385h5v5h-5zM217.5 385.5h5v5h-5zM715 563h5v5h-5zM1152.5 386h5v5h-5zM1351.5 401h5v5h-5zM339 406h5v5h-5zM831 587.5h5v5h-5zM1044 556.5h5v5h-5zM914.5 602.5h5v5h-5zM1355.5 407.5h5v5h-5zM863.5 586.5h5v5h-5zM288 386.5h5v5h-5zM1011 579h5v5h-5zM1364.5 384.5h5v5h-5zM956.5 596h5v5h-5zM1012.5 554.5h5v5h-5zM713.5 582h5v5h-5zM630 448h5v5h-5zM1377.5 386h5v5h-5zM355.5 401h5v5h-5zM1447 402.5h5v5h-5zM761 573h5v5h-5zM482 402.5h5v5h-5zM639 463.5h5v5h-5zM900.5 585.5h5v5h-5zM557 386.5h5v5h-5zM844 584h5v5h-5zM1109.5 387.5h5v5h-5zM764 572.5h5v5h-5zM453.5 408.5h5v5h-5zM1509 384h5v5h-5zM1240.5 385.5h5v5h-5zM1153.5 402h5v5h-5zM257.5 384h5v5h-5zM882 601.5h5v5h-5zM515 403.5h5v5h-5zM189 406h5v5h-5zM634 442h5v5h-5zM403 385.5h5v5h-5zM273.5 405h5v5h-5zM1225 403h5v5h-5zM1267.5 386.5h5v5h-5zM340 406h5v5h-5zM322.5 386h5v5h-5zM780.5 599h5v5h-5zM632 438.5h5v5h-5zM827.5 602.5h5v5h-5zM389.5 386h5v5h-5zM842.5 586.5h5v5h-5zM795.5 582h5v5h-5zM1381.5 401h5v5h-5zM1442.5 384.5h5v5h-5zM475.5 401h5v5h-5zM1508 409h5v5h-5zM1112.5 403h5v5h-5zM1308.5 404h5v5h-5zM485.5 403h5v5h-5zM484 401h5v5h-5zM1393 387h5v5h-5zM1384 404.5h5v5h-5zM590.5 386h5v5h-5zM966 576.5h5v5h-5zM472.5 387h5v5h-5zM777 599.5h5v5h-5zM943 581h5v5h-5zM463.5 404.5h5v5h-5zM187.5 385.5h5v5h-5zM1418 401.5h5v5h-5zM931 597h5v5h-5zM339 385h5v5h-5zM1080.5 483h5v5h-5zM1274 382.5h5v5h-5zM787.5 582h5v5h-5zM1154.5 401.5h5v5h-5zM966 592h5v5h-5zM1208.5 403h5v5h-5zM650.5 523h5v5h-5zM1305.5 387h5v5h-5zM1227 387h5v5h-5zM972.5 590.5h5v5h-5zM1484 405h5v5h-5zM299 404.5h5v5h-5zM214 400.5h5v5h-5zM1498 404h5v5h-5zM683.5 567h5v5h-5zM447 387.5h5v5h-5zM795.5 599h5v5h-5zM646.5 492h5v5h-5zM867.5 609h5v5h-5zM1508 385h5v5h-5zM861.5 601.5h5v5h-5zM513 387h5v5h-5zM677 556h5v5h-5zM1356.5 382h5v5h-5zM1462.5 403.5h5v5h-5zM483.5 385.5h5v5h-5zM1367.5 387h5v5h-5zM500.5 386h5v5h-5zM1178 402.5h5v5h-5zM1143.5 402.5h5v5h-5zM517 385h5v5h-5zM836.5 586h5v5h-5zM647.5 508h5v5h-5zM734.5 568.5h5v5h-5zM806 584.5h5v5h-5zM1383.5 386.5h5v5h-5zM536.5 387h5v5h-5zM729.5 584.5h5v5h-5zM870.5 605.5h5v5h-5zM853.5 603h5v5h-5zM735.5 571h5v5h-5zM1083 474.5h5v5h-5zM457 386.5h5v5h-5zM1244 401h5v5h-5zM433 404h5v5h-5zM1463.5 401h5v5h-5zM842.5 605.5h5v5h-5zM1105 408h5v5h-5zM1000.5 565.5h5v5h-5zM566 404.5h5v5h-5zM1147 403h5v5h-5zM995 582h5v5h-5zM809.5 583.5h5v5h-5zM1466.5 402h5v5h-5zM1225 404h5v5h-5zM1137 404.5h5v5h-5zM541.5 386.5h5v5h-5zM616 393.5h5v5h-5zM595.5 402h5v5h-5zM1569.5 384.5h5v5h-5zM1527 385.5h5v5h-5zM1117 401h5v5h-5zM484 384h5v5h-5zM908.5 585.5h5v5h-5zM1016 579h5v5h-5zM1444.5 385.5h5v5h-5zM611 407h5v5h-5zM745 589h5v5h-5zM1136 403.5h5v5h-5zM789.5 602h5v5h-5zM1568 406.5h5v5h-5zM529.5 385h5v5h-5zM485.5 403h5v5h-5zM1292.5 386h5v5h-5zM249.5 386h5v5h-5zM532.5 403h5v5h-5zM753 590h5v5h-5zM1436.5 401h5v5h-5zM948 576h5v5h-5zM188.5 383h5v5h-5zM1146.5 384.5h5v5h-5zM1493.5 402.5h5v5h-5zM824.5 583.5h5v5h-5zM1568 404h5v5h-5zM1096 430h5v5h-5zM608 386.5h5v5h-5zM1287 385.5h5v5h-5zM482.5 402h5v5h-5zM429 403h5v5h-5zM782.5 582h5v5h-5zM1027 548h5v5h-5zM665.5 549h5v5h-5zM1328.5 401.5h5v5h-5zM502 384.5h5v5h-5zM445.5 404.5h5v5h-5zM520 386.5h5v5h-5zM953.5 579h5v5h-5zM585.5 401h5v5h-5zM559.5 401h5v5h-5zM1160.5 381h5v5h-5zM604.5 401h5v5h-5zM787.5 579h5v5h-5zM663 529.5h5v5h-5zM677 556h5v5h-5zM587.5 404h5v5h-5zM466.5 403.5h5v5h-5zM1072.5 497.5h5v5h-5zM293 383h5v5h-5zM235 385.5h5v5h-5zM1569 386h5v5h-5zM1457.5 401.5h5v5h-5zM1443.5 400.5h5v5h-5zM749.5 573.5h5v5h-5zM1205 386.5h5v5h-5zM1508 386h5v5h-5zM199.5 401h5v5h-5zM332.5 386.5h5v5h-5zM545 386.5h5v5h-5zM1063.5 537h5v5h-5zM408 403.5h5v5h-5zM789 601.5h5v5h-5zM192 400.5h5v5h-5zM182 409h5v5h-5zM754.5 593.5h5v5h-5zM185.5 385.5h5v5h-5zM869.5 587h5v5h-5zM317 386.5h5v5h-5zM1456.5 402h5v5h-5zM1084 455.5h5v5h-5zM374 384.5h5v5h-5zM1047 562.5h5v5h-5zM1484 402h5v5h-5zM1385.5 404h5v5h-5zM671 552.5h5v5h-5zM1557.5 383h5v5h-5zM839.5 586.5h5v5h-5zM776.5 580.5h5v5h-5zM269.5 403h5v5h-5zM932.5 580.5h5v5h-5zM497 387h5v5h-5zM304.5 387h5v5h-5zM870 585h5v5h-5zM1536.5 406.5h5v5h-5zM870 587h5v5h-5zM323.5 402.5h5v5h-5zM510 385h5v5h-5zM424 387h5v5h-5zM445.5 402.5h5v5h-5zM347 384.5h5v5h-5zM1305 402h5v5h-5zM616 410h5v5h-5zM858.5 605.5h5v5h-5zM1307 401h5v5h-5zM550.5 402h5v5h-5zM984 588h5v5h-5zM990.5 570h5v5h-5zM1431 402.5h5v5h-5zM755 576h5v5h-5zM1151 387h5v5h-5zM462 385.5h5v5h-5zM277 387h5v5h-5zM1279.5 385h5v5h-5zM327.5 384.5h5v5h-5zM281 383h5v5h-5zM1453.5 404h5v5h-5zM854.5 601.5h5v5h-5zM1149.5 402h5v5h-5zM1202 404h5v5h-5zM1089 454h5v5h-5zM559.5 384h5v5h-5zM1040 544h5v5h-5zM244.5 402.5h5v5h-5zM495.5 386h5v5h-5zM538 404.5h5v5h-5zM559.5 382h5v5h-5zM735 569.5h5v5h-5zM210.5 382.5h5v5h-5zM690 565h5v5h-5zM1328 403h5v5h-5zM1325 402h5v5h-5zM807.5 600h5v5h-5zM1366.5 401h5v5h-5zM1158 401h5v5h-5zM1202.5 381h5v5h-5zM170 407.5h5v5h-5zM392 402.5h5v5h-5zM948.5 595.5h5v5h-5zM242 401.5h5v5h-5zM1254.5 387h5v5h-5zM776.5 594.5h5v5h-5zM565.5 403h5v5h-5zM726.5 567.5h5v5h-5zM455 385.5h5v5h-5zM1095 414h5v5h-5zM275 382.5h5v5h-5zM713 560.5h5v5h-5zM1285.5 382.5h5v5h-5zM441 401.5h5v5h-5zM893.5 586h5v5h-5zM1333 383h5v5h-5zM1249.5 385h5v5h-5zM1534.5 402h5v5h-5zM1334.5 402h5v5h-5zM468.5 386.5h5v5h-5zM832 608.5h5v5h-5zM829 601.5h5v5h-5zM439.5 401.5h5v5h-5zM461 384h5v5h-5zM764 597h5v5h-5zM1155.5 404.5h5v5h-5zM610 401.5h5v5h-5zM1204 402.5h5v5h-5zM415 387h5v5h-5zM966.5 593h5v5h-5zM1479.5 401.5h5v5h-5zM358 385.5h5v5h-5zM1523.5 405.5h5v5h-5zM428 401h5v5h-5zM1413.5 383.5h5v5h-5zM1161 383.5h5v5h-5zM889.5 607h5v5h-5zM291.5 402h5v5h-5zM339.5 385.5h5v5h-5zM1050.5 535.5h5v5h-5zM531 385.5h5v5h-5zM1220.5 384.5h5v5h-5zM1512.5 404.5h5v5h-5zM1482 384.5h5v5h-5zM563.5 384h5v5h-5zM812.5 600h5v5h-5zM1369.5 386.5h5v5h-5zM516 385h5v5h-5zM1133.5 406h5v5h-5zM1403.5 404.5h5v5h-5zM1302.5 400.5h5v5h-5zM1415.5 384h5v5h-5zM348 386h5v5h-5zM1036.5 545.5h5v5h-5zM1105.5 393h5v5h-5zM730.5 584.5h5v5h-5zM975 574.5h5v5h-5zM550 387h5v5h-5zM1494 384h5v5h-5zM513 387h5v5h-5zM779.5 579h5v5h-5zM389.5 409.5h5v5h-5zM1566.5 384h5v5h-5zM723 584h5v5h-5zM154 404h5v5h-5zM335 384h5v5h-5zM1375 386.5h5v5h-5zM1536.5 385h5v5h-5zM646 504h5v5h-5zM286 385h5v5h-5zM581 383h5v5h-5zM1147.5 385.5h5v5h-5zM1177 405h5v5h-5zM401 386.5h5v5h-5zM918.5 584h5v5h-5zM891.5 603.5h5v5h-5zM1308 386.5h5v5h-5zM903.5 602.5h5v5h-5zM755 574.5h5v5h-5zM1407 401.5h5v5h-5zM1339 387h5v5h-5zM294.5 401.5h5v5h-5zM763.5 577.5h5v5h-5zM945 580h5v5h-5zM654 534h5v5h-5zM1497 386.5h5v5h-5zM702.5 555h5v5h-5zM179.5 385h5v5h-5zM1079 487.5h5v5h-5zM919.5 598.5h5v5h-5zM961.5 575.5h5v5h-5zM526 386.5h5v5h-5zM1234.5 405.5h5v5h-5zM213.5 406.5h5v5h-5zM539 405h5v5h-5zM1274.5 383h5v5h-5zM199 384.5h5v5h-5zM1277.5 400.5h5v5h-5zM1012.5 559h5v5h-5zM1354 377h5v5h-5zM692 552h5v5h-5zM1052.5 555.5h5v5h-5zM582.5 386.5h5v5h-5zM814.5 582.5h5v5h-5zM1248 401.5h5v5h-5zM746.5 592h5v5h-5zM1568.5 404.5h5v5h-5zM1545 401h5v5h-5zM820 600h5v5h-5zM459.5 386.5h5v5h-5zM1127 402.5h5v5h-5zM945 580h5v5h-5zM485.5 403h5v5h-5zM680.5 541.5h5v5h-5zM356.5 402.5h5v5h-5zM862 583.5h5v5h-5zM601.5 385h5v5h-5zM864.5 588h5v5h-5zM606 404h5v5h-5zM1096 414.5h5v5h-5zM484.5 386h5v5h-5zM243.5 404h5v5h-5zM1305 401h5v5h-5zM598 387h5v5h-5zM847 587.5h5v5h-5zM212.5 401h5v5h-5zM631 425.5h5v5h-5zM1108 385.5h5v5h-5zM1038.5 546h5v5h-5zM880 587h5v5h-5zM1345 387h5v5h-5zM1332 400.5h5v5h-5zM242 384.5h5v5h-5zM922.5 584h5v5h-5zM313.5 386h5v5h-5zM932 582h5v5h-5zM297.5 402.5h5v5h-5zM1540.5 401h5v5h-5zM639.5 461.5h5v5h-5zM183.5 384h5v5h-5zM951 579.5h5v5h-5zM1117.5 387h5v5h-5zM412 402.5h5v5h-5zM759.5 573.5h5v5h-5zM211 383h5v5h-5zM294.5 405h5v5h-5zM1260 385h5v5h-5zM456.5 404.5h5v5h-5zM393 385h5v5h-5zM1162 403.5h5v5h-5zM1275.5 401.5h5v5h-5zM601 383h5v5h-5zM638.5 478.5h5v5h-5zM588 401.5h5v5h-5zM905.5 585h5v5h-5zM1092 423.5h5v5h-5zM1006.5 561h5v5h-5zM1519 384h5v5h-5zM844.5 603.5h5v5h-5zM1260 404.5h5v5h-5zM209.5 385.5h5v5h-5zM1135 401h5v5h-5zM434 385.5h5v5h-5zM954 598.5h5v5h-5zM1523 406.5h5v5h-5zM211 401h5v5h-5zM434.5 377h5v5h-5zM561 401.5h5v5h-5zM502.5 385h5v5h-5zM1272.5 384h5v5h-5zM1443 386.5h5v5h-5zM811 582.5h5v5h-5zM587 380.5h5v5h-5zM866.5 584h5v5h-5zM539 401h5v5h-5zM1043.5 537.5h5v5h-5zM1090.5 448h5v5h-5zM358 403h5v5h-5zM1145 385h5v5h-5zM1509.5 385.5h5v5h-5zM1347 381h5v5h-5zM310 402h5v5h-5zM582 387h5v5h-5zM1552.5 387h5v5h-5zM1104.5 412.5h5v5h-5zM867.5 587h5v5h-5zM925 599.5h5v5h-5zM585 403h5v5h-5zM1464 383h5v5h-5zM1168 385h5v5h-5zM329 381.5h5v5h-5zM1351 401h5v5h-5zM888 587h5v5h-5zM776 577h5v5h-5zM507.5 401h5v5h-5zM342.5 384h5v5h-5zM254.5 407h5v5h-5zM1421.5 386.5h5v5h-5zM506.5 401h5v5h-5zM932 581.5h5v5h-5zM1312.5 404.5h5v5h-5zM1334 385.5h5v5h-5zM303.5 385.5h5v5h-5zM876.5 586.5h5v5h-5zM488 401.5h5v5h-5zM1444.5 403h5v5h-5zM409 406.5h5v5h-5zM1339.5 402.5h5v5h-5zM1114.5 403.5h5v5h-5zM1300.5 381h5v5h-5zM694.5 573.5h5v5h-5zM434 386.5h5v5h-5zM286.5 386.5h5v5h-5zM237 386.5h5v5h-5zM816.5 604h5v5h-5zM269.5 385h5v5h-5zM321 385h5v5h-5zM681 564.5h5v5h-5zM1346.5 387h5v5h-5zM930 598h5v5h-5zM1315 384.5h5v5h-5zM1182 407.5h5v5h-5zM990.5 587h5v5h-5zM1563.5 401.5h5v5h-5zM685 562h5v5h-5zM873 587h5v5h-5zM1035 562h5v5h-5zM1402.5 386.5h5v5h-5zM1008 577.5h5v5h-5zM794 597h5v5h-5zM595 380.5h5v5h-5zM976 588.5h5v5h-5zM1265.5 385.5h5v5h-5zM1562 404h5v5h-5zM378.5 411.5h5v5h-5zM1294.5 405.5h5v5h-5zM1225.5 401h5v5h-5zM261.5 403h5v5h-5zM807.5 599h5v5h-5zM342 402h5v5h-5zM1518.5 401.5h5v5h-5zM716 578h5v5h-5zM1042.5 540.5h5v5h-5zM1183 402.5h5v5h-5zM674.5 554.5h5v5h-5zM1332.5 408.5h5v5h-5zM343.5 401h5v5h-5zM961.5 576.5h5v5h-5zM439.5 385h5v5h-5zM1101 418h5v5h-5zM679 563h5v5h-5zM747.5 589h5v5h-5zM1172.5 383.5h5v5h-5zM163 384h5v5h-5zM208 404.5h5v5h-5zM1481.5 385.5h5v5h-5zM1312 401h5v5h-5zM889 585h5v5h-5zM221 386h5v5h-5zM516.5 385.5h5v5h-5zM1338.5 387h5v5h-5zM740.5 573h5v5h-5zM1000 564.5h5v5h-5zM656 538h5v5h-5zM1242.5 404.5h5v5h-5zM731 569.5h5v5h-5zM1502 386.5h5v5h-5zM898 601.5h5v5h-5zM534 386h5v5h-5zM905.5 603h5v5h-5zM609 401.5h5v5h-5zM329 404h5v5h-5zM807 584h5v5h-5zM828 600.5h5v5h-5zM894.5 602.5h5v5h-5zM1302 402h5v5h-5zM507 406.5h5v5h-5zM1507 386h5v5h-5zM1260.5 400.5h5v5h-5zM464.5 387h5v5h-5zM1153 408h5v5h-5zM1501 402.5h5v5h-5zM1150.5 401h5v5h-5zM1396 402h5v5h-5zM405 381.5h5v5h-5zM1499.5 403.5h5v5h-5zM950.5 579.5h5v5h-5zM642 491h5v5h-5zM173 401.5h5v5h-5zM1179 403.5h5v5h-5zM542 381h5v5h-5zM888.5 603h5v5h-5zM1462 401h5v5h-5zM1078.5 490h5v5h-5zM726.5 588.5h5v5h-5zM955 594h5v5h-5zM1270 386h5v5h-5zM1399 386.5h5v5h-5zM1360 405h5v5h-5zM1077.5 498.5h5v5h-5zM426 379h5v5h-5zM1429 400.5h5v5h-5zM377 383h5v5h-5zM905.5 583.5h5v5h-5zM1513.5 404h5v5h-5zM1384.5 401.5h5v5h-5zM1252 387h5v5h-5zM627 416h5v5h-5zM986 571h5v5h-5zM396.5 407h5v5h-5zM1025.5 568.5h5v5h-5zM617 412.5h5v5h-5zM1131 386h5v5h-5zM1435.5 402h5v5h-5zM727.5 568h5v5h-5zM503.5 384.5h5v5h-5zM640 465h5v5h-5zM1204 402.5h5v5h-5zM1375 401.5h5v5h-5zM958 597h5v5h-5zM196 404h5v5h-5zM891.5 582h5v5h-5zM686 545h5v5h-5zM896.5 584h5v5h-5zM267 405.5h5v5h-5zM1461 385h5v5h-5zM1061 525h5v5h-5zM1529.5 386h5v5h-5zM1025.5 554.5h5v5h-5zM907 586h5v5h-5zM1138 403h5v5h-5zM942.5 596h5v5h-5zM758 577.5h5v5h-5zM1369.5 402.5h5v5h-5zM958.5 593.5h5v5h-5zM504 386h5v5h-5zM1236 386h5v5h-5zM1478.5 384.5h5v5h-5zM531 386h5v5h-5zM1258 401h5v5h-5zM1472 403.5h5v5h-5zM1014 555.5h5v5h-5zM974 574.5h5v5h-5zM966.5 591h5v5h-5zM192 402.5h5v5h-5zM958.5 592.5h5v5h-5zM777.5 595h5v5h-5zM247.5 402h5v5h-5zM1098 410.5h5v5h-5zM202.5 386h5v5h-5zM979 587h5v5h-5zM390.5 386.5h5v5h-5zM417.5 384.5h5v5h-5zM739 570h5v5h-5zM563.5 407.5h5v5h-5zM1544.5 384h5v5h-5zM797.5 602h5v5h-5zM208.5 400.5h5v5h-5zM489 385h5v5h-5zM910.5 584h5v5h-5zM976.5 588h5v5h-5zM466.5 383.5h5v5h-5zM576 387h5v5h-5zM852 605.5h5v5h-5zM727 565h5v5h-5zM1501.5 401.5h5v5h-5zM725 567h5v5h-5zM490 386.5h5v5h-5zM470 402h5v5h-5zM1425.5 404h5v5h-5zM1362 384h5v5h-5zM939 597.5h5v5h-5zM1268 385h5v5h-5zM808.5 602.5h5v5h-5zM1151 386.5h5v5h-5zM849 587.5h5v5h-5zM1171.5 404h5v5h-5zM1516.5 382.5h5v5h-5zM1252 383h5v5h-5zM1118.5 405h5v5h-5zM213.5 402.5h5v5h-5zM860.5 604h5v5h-5zM1455 387h5v5h-5zM1553 402.5h5v5h-5zM387 385h5v5h-5zM317.5 401h5v5h-5zM1239.5 405h5v5h-5zM442.5 410.5h5v5h-5zM880 601.5h5v5h-5zM1314 384h5v5h-5zM1393.5 386.5h5v5h-5zM553.5 385h5v5h-5zM208 410.5h5v5h-5zM1029.5 567h5v5h-5zM1367.5 386.5h5v5h-5zM582 382h5v5h-5zM1151.5 384h5v5h-5zM428 401h5v5h-5zM958 576.5h5v5h-5zM538 406h5v5h-5zM755.5 590.5h5v5h-5zM1083 459.5h5v5h-5zM1169.5 386h5v5h-5zM1302.5 386.5h5v5h-5zM807 580h5v5h-5zM1356.5 386.5h5v5h-5zM168.5 401h5v5h-5zM1393.5 387h5v5h-5zM154 401.5h5v5h-5zM1385.5 385h5v5h-5zM1522 384h5v5h-5zM320.5 402h5v5h-5zM549.5 402h5v5h-5zM1376 405.5h5v5h-5zM1564.5 403.5h5v5h-5zM366.5 384h5v5h-5zM668.5 555.5h5v5h-5zM1006 563.5h5v5h-5zM880 587h5v5h-5zM1270 403h5v5h-5zM272.5 382.5h5v5h-5zM1079.5 487h5v5h-5zM1101.5 420h5v5h-5zM1374 382.5h5v5h-5zM906 582.5h5v5h-5zM1022 570.5h5v5h-5zM453.5 384.5h5v5h-5zM1074 489.5h5v5h-5zM1538 401.5h5v5h-5zM1027.5 568h5v5h-5zM427 403h5v5h-5zM386 386.5h5v5h-5zM546 382h5v5h-5zM816 601.5h5v5h-5zM205.5 382h5v5h-5zM239 401.5h5v5h-5zM428 385.5h5v5h-5zM230.5 406.5h5v5h-5zM648 492h5v5h-5zM1114.5 402h5v5h-5zM695.5 569h5v5h-5zM1112.5 378h5v5h-5zM179 386h5v5h-5zM167 408.5h5v5h-5zM1542.5 384.5h5v5h-5zM966 592h5v5h-5zM278.5 403.5h5v5h-5zM1437.5 384h5v5h-5zM953.5 576.5h5v5h-5zM549 383.5h5v5h-5zM1015 577h5v5h-5zM1204.5 387h5v5h-5zM291 380.5h5v5h-5zM464.5 382.5h5v5h-5zM165 386.5h5v5h-5zM1538.5 403h5v5h-5zM1290 385.5h5v5h-5zM1028 553.5h5v5h-5zM1199 383.5h5v5h-5zM269 404h5v5h-5zM217.5 385.5h5v5h-5zM259 402h5v5h-5zM416 384.5h5v5h-5zM1340 387h5v5h-5zM528.5 384.5h5v5h-5zM929.5 581h5v5h-5zM604.5 406h5v5h-5zM871.5 587.5h5v5h-5zM405.5 387h5v5h-5zM1083.5 471.5h5v5h-5zM621.5 401h5v5h-5zM1526 401.5h5v5h-5zM962.5 597h5v5h-5zM614.5 407h5v5h-5zM916 598.5h5v5h-5zM256.5 402.5h5v5h-5zM1294.5 386.5h5v5h-5zM372.5 402h5v5h-5zM865.5 602.5h5v5h-5zM732 570.5h5v5h-5zM1155 406h5v5h-5zM1502 405.5h5v5h-5zM1156 385h5v5h-5zM240 403.5h5v5h-5zM589.5 384.5h5v5h-5zM1367.5 402.5h5v5h-5zM909.5 585.5h5v5h-5zM950.5 594.5h5v5h-5zM184.5 402.5h5v5h-5zM1086 462h5v5h-5zM1494 403h5v5h-5zM323 401h5v5h-5zM676.5 563.5h5v5h-5zM1060 540.5h5v5h-5zM1292 386h5v5h-5zM666.5 530h5v5h-5zM492.5 383h5v5h-5zM680 544h5v5h-5zM1514 382h5v5h-5zM562 403.5h5v5h-5zM1428.5 387h5v5h-5zM896 604h5v5h-5zM933.5 598h5v5h-5zM1195 400.5h5v5h-5zM485.5 401h5v5h-5zM1317 403.5h5v5h-5zM633 460h5v5h-5zM1367.5 385.5h5v5h-5zM1136.5 383.5h5v5h-5zM1346.5 387h5v5h-5zM1546 402h5v5h-5zM996 564.5h5v5h-5zM501 384.5h5v5h-5zM1544 377.5h5v5h-5zM784.5 600.5h5v5h-5zM1412.5 403.5h5v5h-5zM1150.5 402h5v5h-5zM327 402.5h5v5h-5zM881.5 585h5v5h-5zM1141.5 402h5v5h-5zM1339 386.5h5v5h-5zM966 575h5v5h-5zM1009 556.5h5v5h-5zM904 584h5v5h-5zM868 602.5h5v5h-5zM741.5 586.5h5v5h-5zM339.5 386.5h5v5h-5zM894 584h5v5h-5zM177.5 401.5h5v5h-5zM1363 402.5h5v5h-5zM712 561h5v5h-5zM1084.5 469.5h5v5h-5zM1405 402h5v5h-5zM881.5 587.5h5v5h-5zM1129.5 401.5h5v5h-5zM1447.5 400.5h5v5h-5zM756.5 591.5h5v5h-5zM1191 387h5v5h-5zM790.5 597h5v5h-5zM1334.5 382.5h5v5h-5zM646 487h5v5h-5zM565.5 384.5h5v5h-5zM997.5 586.5h5v5h-5zM1185 403.5h5v5h-5zM253 403.5h5v5h-5zM943 597.5h5v5h-5zM379 400.5h5v5h-5zM1432.5 386h5v5h-5zM1267 402.5h5v5h-5zM667 550h5v5h-5zM1125 386.5h5v5h-5zM1383.5 387h5v5h-5zM846.5 586.5h5v5h-5zM524 385h5v5h-5zM1440 402.5h5v5h-5zM658.5 539h5v5h-5zM745.5 572.5h5v5h-5zM1478.5 402.5h5v5h-5zM685.5 563.5h5v5h-5zM879.5 587.5h5v5h-5zM1078.5 491h5v5h-5zM1108 404.5h5v5h-5zM858.5 586.5h5v5h-5zM1291 387.5h5v5h-5zM1545 400.5h5v5h-5zM1377.5 385h5v5h-5zM733.5 588.5h5v5h-5zM1272 387h5v5h-5zM604.5 402h5v5h-5zM1320 382.5h5v5h-5zM289.5 386.5h5v5h-5zM1168 387h5v5h-5zM997 586h5v5h-5zM1132.5 383h5v5h-5zM1094 437h5v5h-5zM1128.5 401h5v5h-5zM922.5 584.5h5v5h-5zM1193 401h5v5h-5zM192 386.5h5v5h-5zM281 379h5v5h-5zM706 558.5h5v5h-5zM308.5 400.5h5v5h-5zM1267 386.5h5v5h-5zM560 403.5h5v5h-5zM869.5 602.5h5v5h-5zM1263 401.5h5v5h-5zM1086 473h5v5h-5zM676.5 556h5v5h-5zM830 600.5h5v5h-5zM503.5 400.5h5v5h-5zM638 459.5h5v5h-5zM862.5 612.5h5v5h-5zM418.5 402.5h5v5h-5zM916 598.5h5v5h-5zM1023.5 572.5h5v5h-5zM633.5 437.5h5v5h-5zM774 596h5v5h-5zM784.5 602h5v5h-5zM1402.5 385.5h5v5h-5zM1024.5 550.5h5v5h-5zM591 387h5v5h-5zM321 382h5v5h-5zM881.5 602.5h5v5h-5zM1206.5 385.5h5v5h-5zM218 384.5h5v5h-5zM887.5 603.5h5v5h-5zM847 585.5h5v5h-5zM1104.5 414h5v5h-5zM1248.5 403.5h5v5h-5zM1511.5 382.5h5v5h-5zM428 411h5v5h-5zM765.5 595h5v5h-5zM1364 404h5v5h-5zM1002.5 580h5v5h-5zM596 381h5v5h-5zM910 584h5v5h-5zM841.5 587.5h5v5h-5zM1146.5 385.5h5v5h-5zM286.5 402.5h5v5h-5zM1266.5 402.5h5v5h-5zM730 564.5h5v5h-5zM766.5 574.5h5v5h-5zM1490 403.5h5v5h-5zM657 542.5h5v5h-5zM994 586.5h5v5h-5zM890.5 601.5h5v5h-5zM1169.5 381.5h5v5h-5zM323 401h5v5h-5zM722.5 582h5v5h-5zM1161 400.5h5v5h-5zM1373 386h5v5h-5zM1497.5 402.5h5v5h-5zM1354 383.5h5v5h-5zM1315 403h5v5h-5zM502.5 385h5v5h-5zM909.5 600h5v5h-5zM1281 401h5v5h-5zM1096.5 411.5h5v5h-5zM382 402.5h5v5h-5zM719.5 579.5h5v5h-5zM1040 561h5v5h-5zM498 387h5v5h-5zM347.5 387h5v5h-5zM815 600h5v5h-5zM271 386.5h5v5h-5zM993.5 566h5v5h-5zM1038 562h5v5h-5zM278 401h5v5h-5zM625.5 436h5v5h-5zM443 386h5v5h-5zM521.5 386h5v5h-5zM1271 406.5h5v5h-5zM482 400.5h5v5h-5zM1171 386.5h5v5h-5zM1529 402.5h5v5h-5zM1230 402.5h5v5h-5zM556 387h5v5h-5zM805.5 584.5h5v5h-5zM726.5 567.5h5v5h-5zM360 404.5h5v5h-5zM904.5 601h5v5h-5zM1417.5 401h5v5h-5zM1483.5 405.5h5v5h-5zM626.5 440h5v5h-5zM471 407h5v5h-5zM250 406h5v5h-5zM1266.5 386.5h5v5h-5zM1145.5 402h5v5h-5zM660 542h5v5h-5zM889.5 606.5h5v5h-5zM1012 576.5h5v5h-5zM506 403h5v5h-5zM874.5 585.5h5v5h-5zM1175.5 382.5h5v5h-5zM241.5 387h5v5h-5zM209 401.5h5v5h-5zM1252.5 387h5v5h-5zM878 604h5v5h-5zM706 557h5v5h-5zM1293.5 408.5h5v5h-5zM225 402.5h5v5h-5zM581.5 402.5h5v5h-5zM204.5 405h5v5h-5zM419 385h5v5h-5zM1203.5 386h5v5h-5zM419.5 403.5h5v5h-5zM1219 387h5v5h-5zM269 386.5h5v5h-5zM389 411.5h5v5h-5zM1275 381h5v5h-5zM895.5 601h5v5h-5zM751 576h5v5h-5zM829.5 583h5v5h-5zM1266.5 405h5v5h-5zM181.5 404.5h5v5h-5zM527.5 384.5h5v5h-5zM642.5 492h5v5h-5zM796.5 599.5h5v5h-5zM305 401.5h5v5h-5zM310.5 403.5h5v5h-5zM542.5 375.5h5v5h-5zM586.5 402h5v5h-5zM969.5 591h5v5h-5zM1177 377h5v5h-5zM261 382.5h5v5h-5zM942.5 596.5h5v5h-5zM1455 386h5v5h-5zM1257.5 403h5v5h-5zM1321 381.5h5v5h-5zM1177 382h5v5h-5zM324 401h5v5h-5zM1542 386h5v5h-5zM1098 408h5v5h-5zM1060 543.5h5v5h-5zM1187 387h5v5h-5zM916 600h5v5h-5zM588 402.5h5v5h-5zM1570 386.5h5v5h-5zM1012.5 575.5h5v5h-5zM774.5 594.5h5v5h-5zM1230 401.5h5v5h-5zM743 573.5h5v5h-5zM869.5 586.5h5v5h-5zM1417.5 382.5h5v5h-5zM238.5 387h5v5h-5zM927 579.5h5v5h-5zM798.5 603h5v5h-5zM189 402h5v5h-5zM652 508.5h5v5h-5zM645 501.5h5v5h-5zM975.5 572h5v5h-5zM1434.5 385.5h5v5h-5zM693 570h5v5h-5zM1408 402h5v5h-5zM946 579.5h5v5h-5zM595.5 400.5h5v5h-5zM1002 579.5h5v5h-5zM699 570h5v5h-5zM1305 385.5h5v5h-5zM1124 402.5h5v5h-5zM881 606.5h5v5h-5zM585.5 401.5h5v5h-5zM769 593.5h5v5h-5zM269.5 406h5v5h-5zM313 382.5h5v5h-5zM362.5 387h5v5h-5zM158.5 402h5v5h-5zM624.5 411h5v5h-5zM842 603h5v5h-5zM1557.5 408.5h5v5h-5zM295.5 401h5v5h-5zM1137.5 409.5h5v5h-5zM627 421.5h5v5h-5zM1282 400.5h5v5h-5zM958 578h5v5h-5zM1196.5 385.5h5v5h-5zM1141 406.5h5v5h-5zM313.5 384h5v5h-5zM940 596h5v5h-5zM1510 401h5v5h-5zM560 384.5h5v5h-5zM766 594h5v5h-5zM781.5 595.5h5v5h-5zM635 450h5v5h-5zM343 387h5v5h-5zM605 386.5h5v5h-5zM1137 386h5v5h-5zM948 595h5v5h-5zM1103.5 415.5h5v5h-5zM328 378h5v5h-5zM1387 385.5h5v5h-5zM428.5 402h5v5h-5zM409.5 405.5h5v5h-5zM970.5 589.5h5v5h-5zM875.5 601.5h5v5h-5zM1112.5 387h5v5h-5zM1044 533.5h5v5h-5zM1447.5 385h5v5h-5zM1006.5 582h5v5h-5zM1499 406.5h5v5h-5zM521 404h5v5h-5zM920 582h5v5h-5zM928 598h5v5h-5zM786.5 579h5v5h-5zM1383 385.5h5v5h-5zM935 582.5h5v5h-5zM1320.5 386.5h5v5h-5zM1402 385h5v5h-5zM1284.5 402h5v5h-5zM174.5 404h5v5h-5zM1115.5 401.5h5v5h-5zM1432.5 386h5v5h-5zM466.5 408h5v5h-5zM381.5 404.5h5v5h-5zM1308.5 383h5v5h-5zM599.5 377h5v5h-5zM924.5 599.5h5v5h-5zM686 564.5h5v5h-5zM1408 401h5v5h-5zM853.5 601.5h5v5h-5zM1282.5 386h5v5h-5zM1226.5 403.5h5v5h-5zM1026.5 571h5v5h-5zM618.5 398h5v5h-5zM727.5 569h5v5h-5zM929 597h5v5h-5zM360 387h5v5h-5zM835 602.5h5v5h-5zM1073.5 493.5h5v5h-5zM1127 403h5v5h-5zM1396 403h5v5h-5zM392.5 383h5v5h-5zM842.5 587h5v5h-5zM255.5 403h5v5h-5zM1184.5 386.5h5v5h-5zM1412.5 401h5v5h-5zM1337 401.5h5v5h-5zM554.5 407h5v5h-5zM869 582.5h5v5h-5zM1056.5 548.5h5v5h-5zM1162 401h5v5h-5zM871 582h5v5h-5zM1347.5 385h5v5h-5zM315.5 382h5v5h-5zM394 407.5h5v5h-5zM698.5 556.5h5v5h-5zM653.5 511.5h5v5h-5zM1056 546h5v5h-5zM1451 385h5v5h-5zM1061 538.5h5v5h-5zM1280 403.5h5v5h-5zM1407 401h5v5h-5zM249 403h5v5h-5zM626.5 418h5v5h-5zM513.5 386.5h5v5h-5zM1070.5 503.5h5v5h-5zM981.5 587.5h5v5h-5zM224.5 408h5v5h-5zM793 599h5v5h-5zM1512.5 386.5h5v5h-5zM1225.5 401h5v5h-5zM155.5 381.5h5v5h-5zM839 585.5h5v5h-5zM1264 386.5h5v5h-5zM1232 401.5h5v5h-5zM553.5 383h5v5h-5zM1438.5 404.5h5v5h-5zM1555 384h5v5h-5zM1168.5 386.5h5v5h-5zM161 401.5h5v5h-5zM423.5 401h5v5h-5zM704 556h5v5h-5zM1080 485h5v5h-5zM622 408.5h5v5h-5zM904 600.5h5v5h-5zM850.5 586.5h5v5h-5zM1231 387h5v5h-5zM1065.5 532.5h5v5h-5zM1125 387h5v5h-5zM390.5 403h5v5h-5zM1510 401.5h5v5h-5zM454 380.5h5v5h-5zM701.5 576h5v5h-5zM502 401h5v5h-5zM347.5 386h5v5h-5zM454.5 403h5v5h-5zM1152.5 403h5v5h-5zM1366 384h5v5h-5zM1071 498h5v5h-5zM501 383.5h5v5h-5zM1473.5 383.5h5v5h-5zM730.5 568.5h5v5h-5zM337.5 406h5v5h-5zM555 402h5v5h-5zM618 397h5v5h-5zM1061 523.5h5v5h-5zM368.5 404.5h5v5h-5zM548 400.5h5v5h-5zM586 401.5h5v5h-5zM1205.5 401.5h5v5h-5zM295.5 402.5h5v5h-5zM1460.5 403.5h5v5h-5zM384.5 405.5h5v5h-5zM1148 386.5h5v5h-5zM829.5 602h5v5h-5zM1509 383h5v5h-5zM552 402.5h5v5h-5zM213.5 404h5v5h-5zM482.5 381.5h5v5h-5zM1245.5 387h5v5h-5zM1428 385.5h5v5h-5zM826 603.5h5v5h-5zM1429 386.5h5v5h-5zM1220.5 387h5v5h-5zM784 582h5v5h-5zM644.5 483.5h5v5h-5zM1267.5 401h5v5h-5zM1086.5 445h5v5h-5zM1164 385h5v5h-5zM837.5 580.5h5v5h-5zM1389 386h5v5h-5zM750.5 590h5v5h-5zM1262 386.5h5v5h-5zM678.5 543.5h5v5h-5zM1400 401h5v5h-5zM1347.5 386h5v5h-5zM389 401.5h5v5h-5zM652 526.5h5v5h-5zM548 403h5v5h-5zM190 401h5v5h-5zM1064.5 536h5v5h-5zM1297.5 383h5v5h-5zM163 386.5h5v5h-5zM557 406h5v5h-5zM1197 385.5h5v5h-5zM1303 385h5v5h-5zM437.5 386.5h5v5h-5zM804 583h5v5h-5zM1339 406h5v5h-5zM424.5 404h5v5h-5zM936 578.5h5v5h-5zM723 583.5h5v5h-5zM1443.5 402.5h5v5h-5zM362.5 403h5v5h-5zM165 383h5v5h-5zM1225.5 386h5v5h-5zM602.5 382h5v5h-5zM634.5 447.5h5v5h-5zM973 589.5h5v5h-5zM1274.5 404h5v5h-5zM468 385.5h5v5h-5zM382.5 403.5h5v5h-5zM165 385h5v5h-5zM722 560.5h5v5h-5zM1182.5 386.5h5v5h-5zM1100.5 422h5v5h-5zM192.5 386.5h5v5h-5zM204.5 387h5v5h-5zM1455.5 384.5h5v5h-5zM732 588h5v5h-5zM589 400.5h5v5h-5zM324 382.5h5v5h-5zM1357.5 401.5h5v5h-5zM1448 384h5v5h-5zM175 403h5v5h-5zM1483 403h5v5h-5zM245.5 401h5v5h-5zM838 606.5h5v5h-5zM772.5 594h5v5h-5zM1091.5 446h5v5h-5zM1245.5 403h5v5h-5zM1195 387h5v5h-5zM443 402.5h5v5h-5zM1533.5 400.5h5v5h-5zM1198.5 386h5v5h-5zM352 402.5h5v5h-5zM548.5 406h5v5h-5zM650 517h5v5h-5zM846 585.5h5v5h-5zM1450 385.5h5v5h-5zM530.5 386.5h5v5h-5zM1146 401.5h5v5h-5zM1059.5 525.5h5v5h-5zM1188 406h5v5h-5zM833 609h5v5h-5zM732 584h5v5h-5zM361 402h5v5h-5zM1210.5 386h5v5h-5zM955.5 578h5v5h-5zM910 583h5v5h-5zM657.5 521h5v5h-5zM1408 387h5v5h-5zM1271 383.5h5v5h-5zM516.5 402h5v5h-5zM1210.5 404.5h5v5h-5zM727.5 560.5h5v5h-5zM529.5 403h5v5h-5zM529.5 382h5v5h-5zM368 405h5v5h-5zM878 603h5v5h-5zM1338 402h5v5h-5zM1539.5 386.5h5v5h-5zM1370.5 402.5h5v5h-5zM1349.5 404.5h5v5h-5zM355 405.5h5v5h-5zM1350.5 401.5h5v5h-5zM1125.5 401h5v5h-5zM427.5 383h5v5h-5zM1554 387.5h5v5h-5zM251 385h5v5h-5zM754 569h5v5h-5zM266.5 410.5h5v5h-5zM618 395.5h5v5h-5zM509.5 401h5v5h-5zM665 531h5v5h-5zM608 403.5h5v5h-5zM628.5 442h5v5h-5zM1348.5 384.5h5v5h-5zM1532 401h5v5h-5zM335 403.5h5v5h-5zM1418 403h5v5h-5zM1262.5 384h5v5h-5zM850 601.5h5v5h-5zM827 580h5v5h-5zM1376.5 385.5h5v5h-5zM434 387h5v5h-5zM678.5 559.5h5v5h-5zM820.5 586h5v5h-5zM822.5 600.5h5v5h-5zM1134.5 385h5v5h-5zM1497.5 403.5h5v5h-5zM1549.5 400.5h5v5h-5zM1197 405h5v5h-5zM311.5 400.5h5v5h-5zM1334.5 382h5v5h-5zM1049 538h5v5h-5zM930.5 603h5v5h-5zM784.5 596.5h5v5h-5zM1007 561.5h5v5h-5zM302 387.5h5v5h-5zM1130.5 377.5h5v5h-5zM1162 386.5h5v5h-5zM480 385h5v5h-5zM1300.5 402h5v5h-5zM1032 549h5v5h-5zM1548.5 408h5v5h-5zM818.5 599.5h5v5h-5zM1294.5 401.5h5v5h-5zM1332.5 402h5v5h-5zM749 574.5h5v5h-5zM1288 401h5v5h-5zM1009.5 580.5h5v5h-5zM1367.5 403h5v5h-5zM923.5 598h5v5h-5zM368 401.5h5v5h-5zM208 404.5h5v5h-5zM725 586h5v5h-5zM1492.5 403h5v5h-5zM874 588h5v5h-5zM1180.5 402.5h5v5h-5zM581.5 384h5v5h-5zM250 405h5v5h-5zM259.5 387h5v5h-5zM712.5 577.5h5v5h-5zM382.5 382.5h5v5h-5zM346 400.5h5v5h-5zM963.5 592h5v5h-5zM215.5 401h5v5h-5zM248 386h5v5h-5zM890.5 601h5v5h-5zM210 386h5v5h-5zM1469.5 405h5v5h-5zM377.5 401.5h5v5h-5zM399 384h5v5h-5zM168 404h5v5h-5zM726.5 584h5v5h-5zM535 383h5v5h-5zM775 577h5v5h-5zM1361.5 402h5v5h-5zM768 578h5v5h-5zM382.5 402h5v5h-5zM1420.5 401h5v5h-5zM1174.5 386.5h5v5h-5zM166 385h5v5h-5zM1434.5 387h5v5h-5zM1124.5 401h5v5h-5zM524 381.5h5v5h-5zM1354 404h5v5h-5zM1294 404h5v5h-5zM720.5 561.5h5v5h-5zM1046 539h5v5h-5zM438.5 383h5v5h-5zM335 412.5h5v5h-5zM1204.5 401h5v5h-5zM1130.5 401h5v5h-5zM764 594.5h5v5h-5zM442 381.5h5v5h-5zM1366.5 404h5v5h-5zM1176 403.5h5v5h-5zM388 403h5v5h-5zM270 401.5h5v5h-5zM542 401.5h5v5h-5zM236.5 401.5h5v5h-5zM1017.5 558.5h5v5h-5zM661 526.5h5v5h-5zM1256 386.5h5v5h-5zM1297 387h5v5h-5zM722.5 583h5v5h-5zM974 597.5h5v5h-5zM991 586h5v5h-5zM783.5 581h5v5h-5zM313 386.5h5v5h-5zM577.5 387h5v5h-5zM310 401.5h5v5h-5zM949.5 577h5v5h-5zM1196 405.5h5v5h-5zM200.5 378h5v5h-5zM197 409.5h5v5h-5zM865 602.5h5v5h-5zM798 600.5h5v5h-5zM412.5 404.5h5v5h-5zM521.5 401.5h5v5h-5zM1150.5 385h5v5h-5zM1505.5 403h5v5h-5zM1554 402.5h5v5h-5zM1358 386h5v5h-5zM1569 383.5h5v5h-5zM442 404.5h5v5h-5zM1141.5 402.5h5v5h-5zM1008 557.5h5v5h-5zM929.5 579.5h5v5h-5zM1249.5 400.5h5v5h-5zM536 401h5v5h-5zM1521 377.5h5v5h-5zM294.5 387h5v5h-5zM1335.5 406.5h5v5h-5zM1556.5 380h5v5h-5zM975.5 588h5v5h-5zM1133.5 402h5v5h-5zM1466.5 384h5v5h-5zM1357 406h5v5h-5zM664 549h5v5h-5zM962 577h5v5h-5zM714.5 581h5v5h-5zM1510.5 402.5h5v5h-5zM1214 405.5h5v5h-5zM671.5 537.5h5v5h-5zM1195.5 401.5h5v5h-5zM1569 402h5v5h-5zM403.5 386.5h5v5h-5zM1120 386h5v5h-5z"/></g>
<g clip-path="url(#c3)"><path d="M613.5 875h5v5h-5zM1254 778h5v5h-5zM228.5 799h5v5h-5zM1482 733.5h5v5h-5zM588.5 820.5h5v5h-5zM1535 727.5h5v5h-5zM322.5 778.5h5v5h-5zM1095.5 930h5v5h-5zM550.5 765.5h5v5h-5zM716 836.5h5v5h-5zM1560.5 794h5v5h-5zM1143 717h5v5h-5zM1238 729h5v5h-5zM1124 843.5h5v5h-5zM992.5 837.5h5v5h-5zM990.5 840.5h5v5h-5zM475 735.5h5v5h-5zM729 881.5h5v5h-5zM903.5 844.5h5v5h-5zM1479 746h5v5h-5zM839 843.5h5v5h-5zM973.5 842h5v5h-5zM1298 761h5v5h-5zM1452 797h5v5h-5zM1052.5 928h5v5h-5zM410.5 762.5h5v5h-5zM1283.5 741h5v5h-5zM342.5 751.5h5v5h-5zM959.5 924h5v5h-5zM600.5 935.5h5v5h-5zM693 926.5h5v5h-5zM1319.5 703.5h5v5h-5zM912 907.5h5v5h-5zM1158 764.5h5v5h-5zM566 822.5h5v5h-5zM745.5 884h5v5h-5zM1298 693.5h5v5h-5zM676 857h5v5h-5zM1485 704h5v5h-5zM1187 777h5v5h-5zM397 753h5v5h-5zM246.5 783h5v5h-5zM1150.5 801.5h5v5h-5zM724.5 864.5h5v5h-5zM1540.5 764.5h5v5h-5zM722 819.5h5v5h-5zM1425.5 740.5h5v5h-5zM720.5 886h5v5h-5zM1245.5 719h5v5h-5zM1177.5 746h5v5h-5zM955.5 919.5h5v5h-5zM650.5 876.5h5v5h-5zM282 823.5h5v5h-5zM907.5 912.5h5v5h-5zM1122 864.5h5v5h-5zM851.5 888.5h5v5h-5zM385.5 781h5v5h-5zM1012.5 904h5v5h-5zM1320 738.5h5v5h-5zM341.5 760.5h5v5h-5zM313.5 788h5v5h-5zM317 805h5v5h-5zM1451 715h5v5h-5zM1084 855.5h5v5h-5zM166 767h5v5h-5zM409.5 734.5h5v5h-5zM825 889h5v5h-5zM312 772h5v5h-5zM492.5 737.5h5v5h-5zM1371 736.5h5v5h-5zM1311.5 794.5h5v5h-5zM1553.5 788.5h5v5h-5zM601.5 799h5v5h-5zM496.5 701.5h5v5h-5zM1058 935h5v5h-5zM1189.5 781h5v5h-5zM1078.5 856h5v5h-5zM1391.5 793h5v5h-5zM1353 732h5v5h-5zM1006.5 903.5h5v5h-5zM1258.5 734.5h5v5h-5zM278.5 746h5v5h-5zM1208.5 738h5v5h-5zM1272.5 769h5v5h-5zM664 835.5h5v5h-5zM193 782h5v5h-5zM720 796h5v5h-5zM1525 811h5v5h-5zM588 784h5v5h-5zM237.5 753h5v5h-5zM1420.5 762h5v5h-5zM239 803h5v5h-5zM822 855h5v5h-5zM1264.5 803.5h5v5h-5zM318 722.5h5v5h-5zM787 889h5v5h-5zM1150.5 789.5h5v5h-5zM1421 832h5v5h-5zM968 923h5v5h-5zM980 863h5v5h-5zM918.5 891.5h5v5h-5zM1483.5 822h5v5h-5zM399.5 825h5v5h-5zM546.5 796h5v5h-5zM1204 744h5v5h-5zM1014.5 922h5v5h-5zM413.5 697h5v5h-5zM1461.5 822h5v5h-5zM1122 796.5h5v5h-5zM377 735.5h5v5h-5zM905 923h5v5h-5zM1153 812.5h5v5h-5zM511.5 823.5h5v5h-5zM1359.5 828h5v5h-5zM1550.5 806h5v5h-5zM359.5 816h5v5h-5zM479.5 750h5v5h-5zM315 764h5v5h-5zM784 894.5h5v5h-5zM964.5 874.5h5v5h-5zM918.5 877.5h5v5h-5zM1050 893.5h5v5h-5zM1250 846h5v5h-5zM1258 789.5h5v5h-5zM1416 802.5h5v5h-5zM158 773h5v5h-5zM1275.5 731h5v5h-5zM524.5 816.5h5v5h-5zM254 734h5v5h-5zM304 780.5h5v5h-5zM310.5 741h5v5h-5zM488.5 780h5v5h-5zM640 823.5h5v5h-5zM629 752h5v5h-5zM338 826h5v5h-5zM1303 772h5v5h-5zM769 929.5h5v5h-5zM547.5 787h5v5h-5zM474 755.5h5v5h-5zM694 810h5v5h-5zM781.5 913h5v5h-5zM366.5 748h5v5h-5zM1118 816h5v5h-5zM354.5 801.5h5v5h-5zM871 912.5h5v5h-5zM841.5 879.5h5v5h-5zM1304 733h5v5h-5zM1560 750.5h5v5h-5zM320.5 825.5h5v5h-5zM155.5 780h5v5h-5zM587 788h5v5h-5zM1291 743h5v5h-5zM316.5 763h5v5h-5zM1030 889.5h5v5h-5zM1130.5 809h5v5h-5zM1393 741h5v5h-5zM239.5 748h5v5h-5zM1528 741.5h5v5h-5zM1021 839h5v5h-5zM1114 846h5v5h-5zM1200 764h5v5h-5zM230.5 778.5h5v5h-5zM669.5 871h5v5h-5zM290.5 783.5h5v5h-5zM1071.5 865.5h5v5h-5zM1567 773.5h5v5h-5zM781.5 898.5h5v5h-5zM755.5 900.5h5v5h-5zM293 694h5v5h-5zM324 750h5v5h-5zM263 722.5h5v5h-5zM195 818h5v5h-5zM587.5 839h5v5h-5zM1420 704.5h5v5h-5zM857 900h5v5h-5zM1046.5 807h5v5h-5zM388.5 757.5h5v5h-5zM891 829h5v5h-5zM837 860h5v5h-5zM739 849.5h5v5h-5zM701 888h5v5h-5zM1245 747h5v5h-5zM557 809h5v5h-5zM796 880.5h5v5h-5zM1431.5 711.5h5v5h-5zM588.5 858.5h5v5h-5zM1327.5 823.5h5v5h-5zM723 897h5v5h-5zM1216.5 731.5h5v5h-5zM392.5 741h5v5h-5zM293.5 755.5h5v5h-5zM1114.5 851h5v5h-5zM1328.5 816.5h5v5h-5zM192 756.5h5v5h-5zM1303.5 777.5h5v5h-5zM867 935h5v5h-5zM765 889.5h5v5h-5zM717 870h5v5h-5zM880 893h5v5h-5zM934 861h5v5h-5zM920 841h5v5h-5zM445.5 773.5h5v5h-5zM796.5 900h5v5h-5zM1181 751.5h5v5h-5zM755 961.5h5v5h-5zM557 711.5h5v5h-5zM256 773h5v5h-5zM1186.5 756.5h5v5h-5zM1255.5 772h5v5h-5zM152.5 824h5v5h-5zM1096.5 925.5h5v5h-5zM1386 808.5h5v5h-5zM1529.5 778.5h5v5h-5zM1159.5 806h5v5h-5zM1081.5 879h5v5h-5zM973.5 830.5h5v5h-5zM723 882.5h5v5h-5zM1040.5 862h5v5h-5zM832.5 925h5v5h-5zM1490.5 745.5h5v5h-5zM1425 764h5v5h-5zM1150.5 832.5h5v5h-5zM1403 789h5v5h-5zM347.5 731.5h5v5h-5zM924 864.5h5v5h-5zM595 897.5h5v5h-5zM634 835.5h5v5h-5zM682.5 864h5v5h-5zM1224.5 824h5v5h-5zM1545.5 765h5v5h-5zM1072.5 858.5h5v5h-5zM591.5 896h5v5h-5zM752 891.5h5v5h-5zM204 757h5v5h-5zM1524 757h5v5h-5zM1173.5 773.5h5v5h-5zM1142 844.5h5v5h-5zM644 804.5h5v5h-5zM426.5 783h5v5h-5zM1294.5 795.5h5v5h-5zM656 900h5v5h-5zM681.5 815h5v5h-5zM1485.5 742h5v5h-5zM1303.5 717.5h5v5h-5zM1147.5 834.5h5v5h-5zM988.5 928.5h5v5h-5zM200 740h5v5h-5zM937.5 896h5v5h-5zM193.5 751h5v5h-5zM507 764.5h5v5h-5zM1215.5 847h5v5h-5zM361 717h5v5h-5zM1153 837.5h5v5h-5zM364.5 741h5v5h-5zM836.5 864.5h5v5h-5zM499.5 770h5v5h-5zM431.5 748.5h5v5h-5zM1462.5 748h5v5h-5zM1302 755h5v5h-5zM183 687h5v5h-5zM555 727h5v5h-5zM229 755h5v5h-5zM719.5 894.5h5v5h-5zM393.5 769h5v5h-5zM1500 740.5h5v5h-5zM1246 817h5v5h-5zM1362.5 785.5h5v5h-5zM932.5 861.5h5v5h-5zM1088 840.5h5v5h-5zM811 901.5h5v5h-5zM1094.5 857h5v5h-5zM686 890.5h5v5h-5zM1451 744.5h5v5h-5zM614 854h5v5h-5zM435 802h5v5h-5zM1388 769.5h5v5h-5zM1562 764.5h5v5h-5zM1134 833.5h5v5h-5zM1090.5 807.5h5v5h-5zM648 883.5h5v5h-5zM331.5 790.5h5v5h-5zM1417 708h5v5h-5zM268.5 802.5h5v5h-5zM168 824.5h5v5h-5zM664 850.5h5v5h-5zM593 833.5h5v5h-5zM831 892h5v5h-5zM994 919.5h5v5h-5zM669.5 848h5v5h-5zM1098.5 921h5v5h-5zM655.5 886h5v5h-5zM1015 857.5h5v5h-5zM203.5 749.5h5v5h-5zM1360.5 723.5h5v5h-5zM972 872.5h5v5h-5zM1456 804h5v5h-5zM1293 752.5h5v5h-5zM1428 793h5v5h-5zM581 770.5h5v5h-5zM938.5 912h5v5h-5zM285 743.5h5v5h-5zM1334 740h5v5h-5zM1260 796.5h5v5h-5zM1561 758.5h5v5h-5zM190 758.5h5v5h-5zM932.5 944h5v5h-5zM1368 799h5v5h-5zM1300 768h5v5h-5zM846 905.5h5v5h-5zM779 942h5v5h-5zM1307.5 757h5v5h-5zM1482 767.5h5v5h-5zM1191 723h5v5h-5zM1526.5 741.5h5v5h-5zM1068.5 873h5v5h-5zM957 829h5v5h-5zM649 868h5v5h-5zM814 851.5h5v5h-5zM1208 787.5h5v5h-5zM928.5 821h5v5h-5zM1154.5 768h5v5h-5zM1156.5 808h5v5h-5zM1543 761.5h5v5h-5zM1561 767.5h5v5h-5zM456.5 763h5v5h-5zM1399 854.5h5v5h-5zM419.5 678.5h5v5h-5zM1319.5 723h5v5h-5zM1374.5 789.5h5v5h-5zM810.5 885h5v5h-5zM691 906h5v5h-5zM318 737.5h5v5h-5zM1386 784h5v5h-5zM178 787h5v5h-5zM567 745h5v5h-5zM1417.5 759.5h5v5h-5zM1541 782.5h5v5h-5zM1078 835.5h5v5h-5zM1224.5 787h5v5h-5zM1174 742h5v5h-5zM583 848.5h5v5h-5zM649 847h5v5h-5zM1401.5 773.5h5v5h-5zM1480.5 786.5h5v5h-5zM1260 797h5v5h-5zM449.5 777.5h5v5h-5zM555 791h5v5h-5zM1206 791.5h5v5h-5zM1274.5 755h5v5h-5zM1011 858.5h5v5h-5zM539 760.5h5v5h-5zM202.5 763h5v5h-5zM930.5 855.5h5v5h-5zM1370 746.5h5v5h-5zM1517 727.5h5v5h-5zM1483.5 749.5h5v5h-5zM390 788h5v5h-5zM216.5 774.5h5v5h-5zM719 850h5v5h-5zM996.5 867.5h5v5h-5zM922 814.5h5v5h-5zM162 757h5v5h-5zM1239 792.5h5v5h-5zM683 913h5v5h-5zM1280 788.5h5v5h-5zM853 949h5v5h-5zM653.5 877h5v5h-5zM883 877.5h5v5h-5zM1432.5 794.5h5v5h-5zM614 813h5v5h-5zM261 786.5h5v5h-5zM831.5 862h5v5h-5zM684.5 867h5v5h-5zM1482 739.5h5v5h-5zM1527.5 758.5h5v5h-5zM549.5 781h5v5h-5zM538.5 775h5v5h-5zM1043.5 872.5h5v5h-5zM220.5 764.5h5v5h-5zM260.5 796.5h5v5h-5zM353 804.5h5v5h-5zM938 885h5v5h-5zM1065 917.5h5v5h-5zM837.5 955.5h5v5h-5zM260 758h5v5h-5zM1331 787h5v5h-5zM671.5 917.5h5v5h-5zM370 779h5v5h-5zM1503.5 777h5v5h-5zM1394 771.5h5v5h-5zM631.5 819.5h5v5h-5zM1496 810.5h5v5h-5zM1260 810h5v5h-5zM1118 821h5v5h-5zM1229.5 773h5v5h-5zM463 781.5h5v5h-5zM1187.5 771h5v5h-5zM570 831h5v5h-5zM333.5 761h5v5h-5zM1148.5 805h5v5h-5zM1011.5 858h5v5h-5zM609.5 807.5h5v5h-5zM154 742h5v5h-5zM691.5 941h5v5h-5zM585 824h5v5h-5zM1189 797h5v5h-5zM503 791h5v5h-5zM1158.5 776.5h5v5h-5zM369 750h5v5h-5zM1261.5 793.5h5v5h-5zM607.5 845h5v5h-5zM1556.5 784.5h5v5h-5zM1168 826.5h5v5h-5zM514 741.5h5v5h-5zM1302 817h5v5h-5zM260.5 822h5v5h-5zM1056 864.5h5v5h-5zM487.5 742.5h5v5h-5zM1370 804h5v5h-5zM1048 852.5h5v5h-5zM259.5 776h5v5h-5zM1552 734.5h5v5h-5zM661 908.5h5v5h-5zM760 933.5h5v5h-5zM821 880.5h5v5h-5zM811.5 932.5h5v5h-5zM556.5 737.5h5v5h-5zM547.5 733.5h5v5h-5zM1138 790.5h5v5h-5zM682 866h5v5h-5zM285 767h5v5h-5zM269.5 785.5h5v5h-5zM662.5 817.5h5v5h-5zM1501 743.5h5v5h-5zM228.5 802h5v5h-5zM772 893.5h5v5h-5zM1405 790h5v5h-5zM1131 823.5h5v5h-5zM1235.5 762.5h5v5h-5zM840 919.5h5v5h-5zM297 766h5v5h-5zM539 752h5v5h-5zM165 794.5h5v5h-5zM1101 878h5v5h-5zM300 752.5h5v5h-5zM454.5 757.5h5v5h-5zM890.5 918.5h5v5h-5zM624 845.5h5v5h-5zM1287.5 737h5v5h-5zM780.5 995h5v5h-5zM1059.5 833.5h5v5h-5zM1292.5 835h5v5h-5zM611.5 829.5h5v5h-5zM788 888.5h5v5h-5zM717.5 874.5h5v5h-5zM663 853.5h5v5h-5zM1018 909.5h5v5h-5zM1300.5 748.5h5v5h-5zM478 761h5v5h-5zM618 867h5v5h-5zM884 817.5h5v5h-5zM428.5 744h5v5h-5zM884 953h5v5h-5zM1153 848h5v5h-5zM1472.5 803.5h5v5h-5zM820.5 903.5h5v5h-5zM778.5 876h5v5h-5zM294 792.5h5v5h-5zM173.5 838h5v5h-5zM175 763.5h5v5h-5zM1395.5 769.5h5v5h-5zM526 800h5v5h-5zM1063 854h5v5h-5zM979.5 857.5h5v5h-5zM545.5 757h5v5h-5zM1037.5 853.5h5v5h-5zM311 732.5h5v5h-5zM1401 728h5v5h-5zM1252 791h5v5h-5zM1277.5 785h5v5h-5zM657 900h5v5h-5zM465 751h5v5h-5zM722.5 849h5v5h-5zM1168 741.5h5v5h-5zM1555.5 721h5v5h-5zM444 760h5v5h-5zM1163.5 812.5h5v5h-5zM853 912.5h5v5h-5zM221.5 741h5v5h-5zM678 916h5v5h-5zM1031 901h5v5h-5zM1339.5 771.5h5v5h-5zM1159 800h5v5h-5zM255.5 784.5h5v5h-5zM1420.5 759.5h5v5h-5zM846 860.5h5v5h-5zM999 836.5h5v5h-5zM1357.5 767h5v5h-5zM1264 708.5h5v5h-5zM282 815h5v5h-5zM1305 723h5v5h-5zM401 805h5v5h-5zM227.5 773h5v5h-5zM437 824h5v5h-5zM287 736.5h5v5h-5zM1210.5 785h5v5h-5zM1416.5 758h5v5h-5zM375.5 750h5v5h-5zM1052 859h5v5h-5zM1560 756h5v5h-5zM518 763.5h5v5h-5zM715 859.5h5v5h-5zM812.5 862.5h5v5h-5zM1195.5 818h5v5h-5zM540.5 861h5v5h-5zM610.5 800h5v5h-5zM425 825.5h5v5h-5zM960.5 836.5h5v5h-5zM157.5 837h5v5h-5zM692 855h5v5h-5zM876.5 854h5v5h-5zM989 836h5v5h-5zM1110 860h5v5h-5zM945 839h5v5h-5zM274 772.5h5v5h-5zM192.5 693.5h5v5h-5zM1487.5 777.5h5v5h-5zM1435.5 752.5h5v5h-5zM691 875.5h5v5h-5zM1352 751h5v5h-5zM627 846h5v5h-5zM366 796.5h5v5h-5zM1336.5 741h5v5h-5zM1566 819h5v5h-5zM812 869.5h5v5h-5zM474 735h5v5h-5zM1127.5 809h5v5h-5zM463 743h5v5h-5zM544 753h5v5h-5zM1071 886h5v5h-5zM579 792.5h5v5h-5zM1522 793.5h5v5h-5zM1480.5 686.5h5v5h-5zM730.5 828.5h5v5h-5zM1348 720h5v5h-5zM1320 763.5h5v5h-5zM1274.5 801h5v5h-5zM1208 820.5h5v5h-5zM926.5 867.5h5v5h-5zM1257.5 719.5h5v5h-5zM576 759.5h5v5h-5zM1212.5 697h5v5h-5zM731 911.5h5v5h-5zM214.5 811h5v5h-5zM762 886.5h5v5h-5zM1115.5 899.5h5v5h-5zM965 920h5v5h-5zM625.5 801.5h5v5h-5zM1039.5 838.5h5v5h-5zM1228.5 763h5v5h-5zM203.5 779h5v5h-5zM840.5 837h5v5h-5zM1041 862.5h5v5h-5zM1395.5 730h5v5h-5zM221 797h5v5h-5zM281 748.5h5v5h-5zM1359 742h5v5h-5zM665.5 898.5h5v5h-5zM865.5 877.5h5v5h-5zM838 924.5h5v5h-5zM766 861.5h5v5h-5zM637 862h5v5h-5zM1389.5 766h5v5h-5zM168.5 761h5v5h-5zM400 800h5v5h-5zM1210 744.5h5v5h-5zM382.5 782h5v5h-5zM284 769h5v5h-5zM662.5 799h5v5h-5zM607 845.5h5v5h-5zM1273.5 807.5h5v5h-5zM581 831.5h5v5h-5zM782.5 883.5h5v5h-5zM550.5 802.5h5v5h-5zM1016 844.5h5v5h-5zM1452.5 751.5h5v5h-5zM756.5 887.5h5v5h-5zM845 795.5h5v5h-5zM985 889.5h5v5h-5zM1542 807h5v5h-5zM1055 884.5h5v5h-5zM1430 819.5h5v5h-5zM1144 792h5v5h-5zM547.5 749.5h5v5h-5zM680 888.5h5v5h-5zM335 859.5h5v5h-5zM549 806.5h5v5h-5zM963 949.5h5v5h-5zM481.5 799.5h5v5h-5zM1332.5 763h5v5h-5zM1289.5 773.5h5v5h-5zM470 816.5h5v5h-5zM448.5 769h5v5h-5zM1348 747h5v5h-5zM891.5 957h5v5h-5zM590.5 847h5v5h-5zM470 801.5h5v5h-5zM714 893.5h5v5h-5zM1296 805.5h5v5h-5zM302 804.5h5v5h-5zM630 806h5v5h-5zM623 858.5h5v5h-5zM668 914h5v5h-5zM1136.5 817h5v5h-5zM1383.5 740.5h5v5h-5zM1405 788.5h5v5h-5zM576 803.5h5v5h-5zM935.5 900h5v5h-5zM198 763.5h5v5h-5zM1225 800h5v5h-5zM588.5 839.5h5v5h-5zM1535 833.5h5v5h-5zM1029 849.5h5v5h-5zM828 844h5v5h-5zM1403.5 734.5h5v5h-5zM582 817.5h5v5h-5zM1119.5 813.5h5v5h-5zM876.5 844.5h5v5h-5zM901.5 857.5h5v5h-5zM474.5 798.5h5v5h-5zM1145.5 780h5v5h-5zM933.5 906h5v5h-5zM235.5 782h5v5h-5zM1107.5 875h5v5h-5zM614 874.5h5v5h-5zM215.5 753h5v5h-5zM457.5 753h5v5h-5zM1426 757.5h5v5h-5zM184 783h5v5h-5zM1312 760h5v5h-5zM916 827.5h5v5h-5zM1372 795h5v5h-5zM514 773.5h5v5h-5zM301.5 730.5h5v5h-5zM212.5 716.5h5v5h-5zM212.5 724.5h5v5h-5zM388.5 736h5v5h-5zM1081.5 840.5h5v5h-5zM1098 850.5h5v5h-5zM1552.5 724h5v5h-5zM1394 726.5h5v5h-5zM1245.5 756.5h5v5h-5zM958.5 830.5h5v5h-5zM1244 758h5v5h-5zM168 780.5h5v5h-5zM445 727h5v5h-5zM1100 872h5v5h-5zM1349 775.5h5v5h-5zM638.5 823h5v5h-5zM822.5 913h5v5h-5zM1244 748.5h5v5h-5zM584.5 825.5h5v5h-5zM471.5 757h5v5h-5zM731.5 894.5h5v5h-5zM1230.5 743h5v5h-5zM446.5 751.5h5v5h-5zM257.5 774h5v5h-5zM1282 770.5h5v5h-5zM919 938.5h5v5h-5zM784.5 852h5v5h-5zM1164 814h5v5h-5zM232.5 759h5v5h-5zM1558.5 781.5h5v5h-5zM244 799.5h5v5h-5zM1013 869h5v5h-5zM600.5 861.5h5v5h-5zM926 874.5h5v5h-5zM1415.5 739.5h5v5h-5zM352 796.5h5v5h-5zM435.5 780h5v5h-5zM1525 788h5v5h-5zM1311 750h5v5h-5zM985.5 955.5h5v5h-5zM915.5 802h5v5h-5zM737.5 893.5h5v5h-5zM957.5 916.5h5v5h-5zM168.5 817.5h5v5h-5zM972.5 909.5h5v5h-5zM1265 763.5h5v5h-5zM736 897h5v5h-5zM541 784.5h5v5h-5zM673 912h5v5h-5zM898.5 818.5h5v5h-5zM813 856.5h5v5h-5zM298 682h5v5h-5zM1009 885.5h5v5h-5zM707 842h5v5h-5zM583 740.5h5v5h-5zM416.5 699h5v5h-5zM354.5 763h5v5h-5zM1386.5 796h5v5h-5zM319.5 773h5v5h-5zM989 855h5v5h-5zM463.5 749h5v5h-5zM1471 787.5h5v5h-5zM1451.5 767h5v5h-5zM849.5 895.5h5v5h-5zM1033.5 866.5h5v5h-5zM461 745h5v5h-5zM173 736.5h5v5h-5zM563 799h5v5h-5zM244.5 820.5h5v5h-5zM1279 745.5h5v5h-5zM1481.5 763.5h5v5h-5zM207 786.5h5v5h-5zM825.5 862.5h5v5h-5zM1127 784.5h5v5h-5zM1040 879.5h5v5h-5zM1365 742h5v5h-5zM1322.5 815.5h5v5h-5zM1262 738h5v5h-5zM1486.5 795h5v5h-5zM922.5 913h5v5h-5zM1047.5 814.5h5v5h-5zM1520 738h5v5h-5zM518 728.5h5v5h-5zM401 756.5h5v5h-5zM1189 778.5h5v5h-5zM1292 815h5v5h-5zM632 885.5h5v5h-5zM895.5 813.5h5v5h-5zM633 896.5h5v5h-5zM220 771.5h5v5h-5zM214.5 695h5v5h-5zM189.5 801.5h5v5h-5zM1518.5 720.5h5v5h-5zM1050 851.5h5v5h-5zM1510.5 773.5h5v5h-5zM196 803h5v5h-5zM1113.5 890.5h5v5h-5zM329 778.5h5v5h-5zM1067.5 871.5h5v5h-5zM839 873h5v5h-5zM1287 781.5h5v5h-5zM926.5 817.5h5v5h-5zM1196.5 778h5v5h-5zM915.5 941.5h5v5h-5zM1510 715h5v5h-5zM1239 780h5v5h-5zM1038.5 846.5h5v5h-5zM453.5 768h5v5h-5zM354.5 752h5v5h-5zM636.5 833h5v5h-5zM204 695h5v5h-5zM393 795h5v5h-5zM1170 800h5v5h-5zM679 840h5v5h-5zM1307 742h5v5h-5zM160.5 781h5v5h-5zM775 849h5v5h-5zM823.5 945.5h5v5h-5zM356.5 741h5v5h-5zM744.5 855.5h5v5h-5zM1265.5 811h5v5h-5zM757 844.5h5v5h-5zM1425.5 756h5v5h-5zM461 731h5v5h-5zM753.5 839.5h5v5h-5zM1430.5 826h5v5h-5zM1299.5 758h5v5h-5zM1048 844h5v5h-5zM1395 762.5h5v5h-5zM1481.5 762h5v5h-5zM579.5 843h5v5h-5zM257.5 692.5h5v5h-5zM821.5 867.5h5v5h-5zM712 911h5v5h-5zM1057.5 831h5v5h-5zM203.5 734.5h5v5h-5zM481.5 802.5h5v5h-5zM222.5 818h5v5h-5zM1275.5 784h5v5h-5zM395 714h5v5h-5zM430 742.5h5v5h-5zM772.5 911h5v5h-5zM181.5 842.5h5v5h-5zM618 808h5v5h-5zM260.5 788h5v5h-5zM739 819h5v5h-5zM197.5 724h5v5h-5zM338.5 816h5v5h-5zM611 816.5h5v5h-5zM558 772.5h5v5h-5zM1477 726h5v5h-5zM1137.5 874.5h5v5h-5zM869 828.5h5v5h-5zM993.5 930.5h5v5h-5zM1368 776.5h5v5h-5zM589 798h5v5h-5zM1074 872.5h5v5h-5zM480 700.5h5v5h-5zM789.5 929.5h5v5h-5zM1218 756h5v5h-5zM224.5 728.5h5v5h-5zM817 848.5h5v5h-5zM1465 738h5v5h-5zM1257 764h5v5h-5zM1033 821.5h5v5h-5zM1055 839h5v5h-5zM307 769.5h5v5h-5zM962.5 854h5v5h-5zM1012 905.5h5v5h-5zM1106 818h5v5h-5zM890 895.5h5v5h-5zM397 763h5v5h-5zM733.5 838.5h5v5h-5zM1463 741.5h5v5h-5zM596 846.5h5v5h-5zM906 919.5h5v5h-5zM522.5 733h5v5h-5zM1384.5 708h5v5h-5zM1255.5 790h5v5h-5zM666.5 801.5h5v5h-5zM488.5 792h5v5h-5zM330.5 711.5h5v5h-5zM1164 835h5v5h-5zM893.5 857h5v5h-5zM999 901h5v5h-5zM178.5 724.5h5v5h-5zM1422 785h5v5h-5zM1527 780h5v5h-5zM275 835.5h5v5h-5zM1346.5 811h5v5h-5zM657.5 846.5h5v5h-5zM610.5 853.5h5v5h-5zM359.5 813h5v5h-5zM228.5 705.5h5v5h-5zM568.5 800.5h5v5h-5zM1045 876h5v5h-5zM544 748h5v5h-5zM956.5 906h5v5h-5zM1172.5 760.5h5v5h-5zM457 756h5v5h-5zM320 785h5v5h-5zM328 731h5v5h-5zM903 885h5v5h-5zM1065 888.5h5v5h-5zM1330.5 684.5h5v5h-5zM377.5 739.5h5v5h-5zM611.5 854h5v5h-5zM1120 825.5h5v5h-5zM897 855.5h5v5h-5zM549.5 794h5v5h-5zM359 790.5h5v5h-5zM408.5 763.5h5v5h-5zM1375 745.5h5v5h-5zM945 874h5v5h-5zM523 821.5h5v5h-5zM236 699.5h5v5h-5zM1211.5 763h5v5h-5zM959.5 859.5h5v5h-5zM500.5 707.5h5v5h-5zM1235 820h5v5h-5zM1254.5 778h5v5h-5zM1541.5 705h5v5h-5zM1125.5 794.5h5v5h-5zM932 865.5h5v5h-5zM219 723h5v5h-5zM433.5 708.5h5v5h-5zM1290 757.5h5v5h-5zM1052.5 900.5h5v5h-5zM433 744h5v5h-5zM1044 906h5v5h-5zM1536 804h5v5h-5zM758 873.5h5v5h-5zM167.5 756.5h5v5h-5zM414.5 743.5h5v5h-5zM157 771h5v5h-5zM1031 877.5h5v5h-5zM1059 858h5v5h-5zM1068 898.5h5v5h-5zM179 753.5h5v5h-5zM1100 877.5h5v5h-5zM1331.5 758.5h5v5h-5zM1392.5 810.5h5v5h-5zM297 769.5h5v5h-5zM572.5 801.5h5v5h-5zM456.5 806h5v5h-5zM903.5 855h5v5h-5zM695 869h5v5h-5zM1512.5 689.5h5v5h-5zM1364.5 775h5v5h-5zM423 747.5h5v5h-5zM1437 764.5h5v5h-5zM1124.5 805h5v5h-5zM274.5 712.5h5v5h-5zM1545.5 731.5h5v5h-5zM260.5 776h5v5h-5zM1045 863.5h5v5h-5zM504.5 716.5h5v5h-5zM899.5 866h5v5h-5zM300 794h5v5h-5zM508 713.5h5v5h-5zM1126 921h5v5h-5zM746.5 919.5h5v5h-5zM1078 859.5h5v5h-5zM409.5 778h5v5h-5zM839.5 895h5v5h-5zM1366 739h5v5h-5zM1024 911h5v5h-5zM386 701h5v5h-5zM1092 899h5v5h-5zM869 874.5h5v5h-5zM1529.5 740h5v5h-5zM1090 871.5h5v5h-5zM1324 781h5v5h-5zM178.5 733h5v5h-5zM1192 773h5v5h-5zM630.5 870.5h5v5h-5zM1561.5 728h5v5h-5zM476 737.5h5v5h-5zM1360.5 729h5v5h-5zM967 867h5v5h-5zM444 789h5v5h-5zM908.5 901h5v5h-5zM221.5 778.5h5v5h-5zM1153.5 793h5v5h-5zM237.5 786.5h5v5h-5zM496.5 784h5v5h-5zM400.5 785.5h5v5h-5zM272 762.5h5v5h-5zM309 740h5v5h-5zM264.5 816.5h5v5h-5zM337 695h5v5h-5zM729.5 894h5v5h-5zM1341.5 839h5v5h-5zM1183 757.5h5v5h-5zM1503.5 790.5h5v5h-5zM574 784h5v5h-5zM1410.5 760h5v5h-5zM929.5 914.5h5v5h-5zM345 784h5v5h-5zM451 781h5v5h-5zM511 784h5v5h-5zM1547 692.5h5v5h-5zM417 775h5v5h-5zM1330.5 789.5h5v5h-5zM1101 891h5v5h-5zM565.5 851h5v5h-5zM995.5 882.5h5v5h-5zM1361 769h5v5h-5zM236.5 786.5h5v5h-5zM631 831.5h5v5h-5zM562.5 775.5h5v5h-5zM252.5 769.5h5v5h-5zM1130 789h5v5h-5zM968 916h5v5h-5zM723 906h5v5h-5zM240.5 795.5h5v5h-5zM1373 756h5v5h-5zM1309 756.5h5v5h-5zM262.5 825.5h5v5h-5zM250.5 724h5v5h-5zM780.5 841h5v5h-5zM1281 733.5h5v5h-5zM241.5 771.5h5v5h-5zM676 850h5v5h-5zM456.5 750h5v5h-5zM216.5 781h5v5h-5zM733.5 879h5v5h-5zM1331.5 707h5v5h-5zM1399.5 802h5v5h-5zM826.5 917.5h5v5h-5zM732 895h5v5h-5zM520 764h5v5h-5zM511 782h5v5h-5zM1088.5 860.5h5v5h-5zM1088.5 896h5v5h-5zM1263.5 736.5h5v5h-5zM1464 752h5v5h-5zM1452.5 746.5h5v5h-5zM1203.5 781.5h5v5h-5zM713 826h5v5h-5zM169.5 760h5v5h-5zM537.5 739h5v5h-5zM376.5 722h5v5h-5zM252.5 765h5v5h-5zM466 779.5h5v5h-5zM722 870h5v5h-5zM641.5 863.5h5v5h-5zM188.5 764h5v5h-5zM1134 882.5h5v5h-5zM572 813h5v5h-5zM213 780h5v5h-5zM1310.5 829.5h5v5h-5zM906.5 868h5v5h-5zM410 791.5h5v5h-5zM953.5 789h5v5h-5zM1128 808h5v5h-5zM196.5 744h5v5h-5zM859 938.5h5v5h-5zM1520 779h5v5h-5zM1039.5 877.5h5v5h-5zM1293.5 773h5v5h-5zM473.5 769h5v5h-5zM764.5 820h5v5h-5zM1050 870h5v5h-5zM1077.5 757h5v5h-5zM426.5 748h5v5h-5zM464.5 825h5v5h-5zM231.5 774.5h5v5h-5zM728.5 881.5h5v5h-5zM1160 836.5h5v5h-5zM931.5 880h5v5h-5zM618.5 894h5v5h-5zM515 764h5v5h-5zM888 895h5v5h-5zM163.5 786.5h5v5h-5zM539.5 748.5h5v5h-5zM1060 859h5v5h-5zM939.5 871.5h5v5h-5zM1369.5 775h5v5h-5zM686.5 882.5h5v5h-5zM655.5 855h5v5h-5zM696 923.5h5v5h-5zM591 887.5h5v5h-5zM527.5 781h5v5h-5zM911.5 791.5h5v5h-5zM1512.5 796h5v5h-5zM359.5 790h5v5h-5zM352.5 836.5h5v5h-5zM1020 871h5v5h-5zM945.5 831h5v5h-5zM170.5 753h5v5h-5zM660 841.5h5v5h-5zM962.5 923h5v5h-5zM781.5 861.5h5v5h-5zM1107.5 871.5h5v5h-5zM1129.5 850.5h5v5h-5zM386.5 749.5h5v5h-5zM1031.5 864h5v5h-5zM155 776h5v5h-5zM324.5 742h5v5h-5zM960.5 885.5h5v5h-5zM251.5 760.5h5v5h-5zM1363 794.5h5v5h-5zM535 737h5v5h-5zM1566 778.5h5v5h-5zM860 896h5v5h-5zM272 807h5v5h-5zM608.5 854.5h5v5h-5zM777.5 899.5h5v5h-5zM206 744h5v5h-5zM319 779.5h5v5h-5zM307.5 813.5h5v5h-5zM588 866.5h5v5h-5zM1511 793.5h5v5h-5zM346.5 768.5h5v5h-5zM446 745.5h5v5h-5zM640 864h5v5h-5zM1300.5 791h5v5h-5zM171 743.5h5v5h-5zM918 907.5h5v5h-5zM858 910.5h5v5h-5zM772.5 869.5h5v5h-5zM1135.5 882.5h5v5h-5zM895 877.5h5v5h-5zM1447.5 735.5h5v5h-5zM168 754.5h5v5h-5zM1039 820.5h5v5h-5zM766 917h5v5h-5zM1038.5 866h5v5h-5zM237.5 814.5h5v5h-5zM1502 752.5h5v5h-5zM483.5 760h5v5h-5zM328.5 795.5h5v5h-5zM1366 744h5v5h-5zM1365 753h5v5h-5zM1372.5 761h5v5h-5zM266.5 785.5h5v5h-5zM770 907.5h5v5h-5zM1142 804.5h5v5h-5zM1345 791.5h5v5h-5zM654.5 863.5h5v5h-5zM759 870h5v5h-5zM627.5 859.5h5v5h-5zM451.5 679.5h5v5h-5zM1071 871h5v5h-5zM388.5 750.5h5v5h-5zM1094.5 862.5h5v5h-5zM1416 746h5v5h-5zM666.5 887h5v5h-5zM1494 774.5h5v5h-5zM1472.5 785.5h5v5h-5zM1387 801h5v5h-5zM868.5 858h5v5h-5zM368.5 726h5v5h-5zM1018.5 872.5h5v5h-5zM1328.5 666.5h5v5h-5zM1108 869.5h5v5h-5zM486 738.5h5v5h-5zM827 895.5h5v5h-5zM486 844.5h5v5h-5zM222.5 759.5h5v5h-5zM926.5 861.5h5v5h-5zM217 771.5h5v5h-5zM1235 726h5v5h-5zM216.5 812h5v5h-5zM1226 824h5v5h-5zM720.5 882.5h5v5h-5zM460.5 739.5h5v5h-5zM1038 852.5h5v5h-5zM1416 759h5v5h-5zM296.5 748.5h5v5h-5zM488.5 805h5v5h-5zM233.5 738h5v5h-5zM309.5 767h5v5h-5zM1547 746.5h5v5h-5zM785.5 862h5v5h-5zM442.5 710h5v5h-5zM1557.5 772h5v5h-5zM1354.5 741.5h5v5h-5zM994 896.5h5v5h-5zM157 770h5v5h-5zM876.5 908h5v5h-5zM246 809.5h5v5h-5zM1096 823h5v5h-5zM1030 792h5v5h-5zM1361 792.5h5v5h-5zM407 717.5h5v5h-5zM1288 751h5v5h-5zM163.5 755h5v5h-5zM1091 827h5v5h-5zM544.5 780h5v5h-5zM174 753.5h5v5h-5zM335.5 805.5h5v5h-5zM1403 772.5h5v5h-5zM1048.5 879.5h5v5h-5zM778.5 884.5h5v5h-5zM210.5 794h5v5h-5zM1139.5 802h5v5h-5zM1278 820.5h5v5h-5zM1337.5 749h5v5h-5zM920 875.5h5v5h-5zM1138.5 850.5h5v5h-5zM508 832h5v5h-5zM456 797.5h5v5h-5zM1428.5 723.5h5v5h-5zM1322 707h5v5h-5zM744.5 867.5h5v5h-5zM970.5 848.5h5v5h-5zM947.5 878.5h5v5h-5zM1332 694h5v5h-5zM627 858h5v5h-5zM226 750.5h5v5h-5zM916.5 790h5v5h-5zM1541 753.5h5v5h-5zM390.5 757.5h5v5h-5zM1326.5 749h5v5h-5zM1164 815h5v5h-5zM179 806.5h5v5h-5zM1152 881.5h5v5h-5zM255.5 779.5h5v5h-5zM629 800h5v5h-5zM513.5 783h5v5h-5zM873 848h5v5h-5zM162.5 751h5v5h-5zM448 820h5v5h-5zM1212 771h5v5h-5zM526 759h5v5h-5zM740 893h5v5h-5zM866.5 849h5v5h-5zM809.5 855h5v5h-5zM153 812h5v5h-5zM160.5 751.5h5v5h-5zM1405 797h5v5h-5zM753.5 819h5v5h-5zM723 898h5v5h-5zM344.5 781.5h5v5h-5zM1515 716h5v5h-5zM226.5 784h5v5h-5zM860 913.5h5v5h-5zM801 887h5v5h-5zM448.5 824.5h5v5h-5zM833 838.5h5v5h-5zM183.5 794.5h5v5h-5zM180.5 774h5v5h-5zM1187.5 814.5h5v5h-5zM918 886.5h5v5h-5zM1327.5 818h5v5h-5zM849 852.5h5v5h-5zM1320 777h5v5h-5zM1117.5 866.5h5v5h-5zM565 792h5v5h-5zM1295 730h5v5h-5zM1102.5 826.5h5v5h-5zM545.5 765h5v5h-5zM1499 786h5v5h-5zM532.5 774h5v5h-5zM876.5 897h5v5h-5zM429 756.5h5v5h-5zM332 811.5h5v5h-5zM1310.5 741.5h5v5h-5zM1285 772h5v5h-5zM1363 793h5v5h-5zM275 752.5h5v5h-5zM891 900.5h5v5h-5zM686 877.5h5v5h-5zM1321 773h5v5h-5zM1148 778.5h5v5h-5zM1443 781.5h5v5h-5zM609 892h5v5h-5zM509.5 750.5h5v5h-5zM1293.5 769h5v5h-5zM262 779h5v5h-5zM200.5 786h5v5h-5zM1475.5 770h5v5h-5zM626.5 810.5h5v5h-5zM466.5 722.5h5v5h-5zM614.5 867h5v5h-5zM754.5 906.5h5v5h-5zM459.5 794h5v5h-5zM1441 820.5h5v5h-5zM1301.5 690.5h5v5h-5zM1464 788.5h5v5h-5zM592.5 893h5v5h-5zM715.5 804.5h5v5h-5zM1059.5 935.5h5v5h-5zM1372.5 743.5h5v5h-5zM1175.5 825h5v5h-5zM1529.5 723.5h5v5h-5zM677.5 860h5v5h-5zM1259 742.5h5v5h-5zM974 871.5h5v5h-5zM1256.5 744h5v5h-5zM1412.5 756h5v5h-5zM339.5 769.5h5v5h-5zM697 804.5h5v5h-5zM1249.5 712h5v5h-5zM356.5 816h5v5h-5zM1091.5 839h5v5h-5zM1466.5 759.5h5v5h-5zM1445.5 750h5v5h-5zM431 818h5v5h-5zM1487 783h5v5h-5zM993.5 859h5v5h-5zM1138 851h5v5h-5zM1148 852h5v5h-5zM220 772h5v5h-5zM254.5 789h5v5h-5zM1481.5 785h5v5h-5zM1126.5 785h5v5h-5zM919.5 844.5h5v5h-5zM1144.5 769h5v5h-5zM1484 787.5h5v5h-5zM581.5 830.5h5v5h-5zM841.5 949h5v5h-5zM226.5 780h5v5h-5zM1117 860.5h5v5h-5zM547 789h5v5h-5zM1279.5 748.5h5v5h-5zM755 882h5v5h-5zM512.5 803.5h5v5h-5zM517 706h5v5h-5zM639.5 851h5v5h-5zM362 794h5v5h-5zM731.5 874.5h5v5h-5zM1142 830.5h5v5h-5zM376.5 777.5h5v5h-5zM822 857.5h5v5h-5zM1181 775h5v5h-5zM1251 764h5v5h-5zM585 811.5h5v5h-5zM1304.5 776.5h5v5h-5zM1113 819.5h5v5h-5zM1077.5 849h5v5h-5zM780 910.5h5v5h-5zM272.5 736h5v5h-5zM1250.5 790h5v5h-5zM1298.5 807h5v5h-5zM787.5 887h5v5h-5zM1234.5 772.5h5v5h-5zM1226 760.5h5v5h-5zM1121.5 821.5h5v5h-5zM1384 807.5h5v5h-5zM1029 785.5h5v5h-5zM1305.5 738h5v5h-5zM793.5 860.5h5v5h-5zM1338.5 774.5h5v5h-5zM407.5 709h5v5h-5zM1223.5 787.5h5v5h-5zM845.5 869.5h5v5h-5zM760 919h5v5h-5zM1389 788.5h5v5h-5zM520.5 742h5v5h-5zM1421.5 764.5h5v5h-5zM905.5 855h5v5h-5zM594 887.5h5v5h-5zM461 793h5v5h-5zM1403 734.5h5v5h-5zM610 856.5h5v5h-5zM707 744.5h5v5h-5zM1282.5 788h5v5h-5zM384.5 823.5h5v5h-5zM901.5 895h5v5h-5zM1468.5 721h5v5h-5zM1329.5 731h5v5h-5zM616.5 902.5h5v5h-5zM1187 740h5v5h-5zM487 708.5h5v5h-5zM1547 817.5h5v5h-5zM203 757h5v5h-5zM795.5 871h5v5h-5zM1158.5 812.5h5v5h-5zM330.5 818h5v5h-5zM999.5 879h5v5h-5zM1499 722.5h5v5h-5zM1028 890.5h5v5h-5zM1373 739.5h5v5h-5zM1190.5 775h5v5h-5zM1370 775.5h5v5h-5zM1436.5 691h5v5h-5zM724.5 875h5v5h-5zM1426.5 764.5h5v5h-5zM438 762.5h5v5h-5zM1541 776.5h5v5h-5zM692.5 860.5h5v5h-5zM815 912.5h5v5h-5zM1131.5 857.5h5v5h-5zM1424 758.5h5v5h-5zM602 813h5v5h-5zM695.5 900h5v5h-5zM614.5 785h5v5h-5zM212 778.5h5v5h-5zM923 890h5v5h-5zM1060 869h5v5h-5zM195 768h5v5h-5zM369.5 751.5h5v5h-5zM1001 924h5v5h-5zM1449 797.5h5v5h-5zM284.5 738h5v5h-5zM1274 750.5h5v5h-5zM958.5 858h5v5h-5zM1555.5 729h5v5h-5zM688.5 855h5v5h-5zM958 878.5h5v5h-5zM1088.5 853.5h5v5h-5zM193.5 762h5v5h-5zM793.5 861h5v5h-5zM670 871h5v5h-5zM1490.5 827h5v5h-5zM335.5 852.5h5v5h-5zM1289.5 750h5v5h-5zM1377 713h5v5h-5zM237.5 738.5h5v5h-5zM477 727h5v5h-5zM845 900h5v5h-5zM1079 846h5v5h-5zM608.5 837.5h5v5h-5zM1080.5 873h5v5h-5zM172.5 763.5h5v5h-5zM1057 872.5h5v5h-5zM533 788h5v5h-5zM1551 790h5v5h-5zM1275.5 735.5h5v5h-5zM1515.5 735.5h5v5h-5zM484.5 853h5v5h-5zM706 815h5v5h-5zM1455 774.5h5v5h-5zM1328.5 763.5h5v5h-5zM531.5 734.5h5v5h-5zM1273 798.5h5v5h-5zM525.5 816h5v5h-5zM1488.5 737.5h5v5h-5zM202.5 714h5v5h-5zM611 888h5v5h-5zM346.5 733h5v5h-5zM894 880h5v5h-5zM942 877h5v5h-5zM171.5 851h5v5h-5zM1244 733.5h5v5h-5zM1304 783h5v5h-5zM1171.5 805h5v5h-5zM303.5 769.5h5v5h-5zM720.5 844h5v5h-5zM1054.5 823.5h5v5h-5zM1504.5 769h5v5h-5zM908 919h5v5h-5zM839 912.5h5v5h-5zM1402.5 786h5v5h-5zM1458 788.5h5v5h-5zM773.5 873.5h5v5h-5zM357.5 778.5h5v5h-5zM663 881h5v5h-5zM310.5 750h5v5h-5zM900.5 894.5h5v5h-5zM839 860.5h5v5h-5zM326.5 801h5v5h-5zM1220 811.5h5v5h-5zM571.5 785h5v5h-5zM802.5 875h5v5h-5zM537 732h5v5h-5zM891.5 830h5v5h-5zM1030 855h5v5h-5zM1007 852h5v5h-5zM273.5 798h5v5h-5zM296 736.5h5v5h-5zM822.5 862.5h5v5h-5zM952.5 921.5h5v5h-5zM674.5 866h5v5h-5zM320.5 764h5v5h-5zM949 885.5h5v5h-5zM1048 844h5v5h-5zM793 866.5h5v5h-5zM1363.5 810.5h5v5h-5zM969.5 842.5h5v5h-5zM1336 739h5v5h-5zM921 901.5h5v5h-5zM634 868.5h5v5h-5zM1025.5 916h5v5h-5zM884 833h5v5h-5zM507.5 783h5v5h-5zM516 715h5v5h-5zM1534 772.5h5v5h-5zM272 743.5h5v5h-5zM932 856.5h5v5h-5zM617 959.5h5v5h-5zM1513.5 811h5v5h-5zM1310.5 741.5h5v5h-5zM1040 873h5v5h-5zM1519.5 742h5v5h-5zM818.5 808.5h5v5h-5zM1294.5 733h5v5h-5zM452 781.5h5v5h-5zM243.5 764.5h5v5h-5zM228.5 737h5v5h-5zM782.5 897.5h5v5h-5zM925 868h5v5h-5zM973 915.5h5v5h-5zM819 876.5h5v5h-5zM1379.5 754h5v5h-5zM629 855.5h5v5h-5zM420.5 703h5v5h-5zM897.5 824.5h5v5h-5zM461.5 737h5v5h-5zM274 729.5h5v5h-5zM391.5 689.5h5v5h-5zM562 845.5h5v5h-5zM1522 656h5v5h-5zM425 794h5v5h-5zM1358.5 789h5v5h-5zM1321.5 776.5h5v5h-5zM338.5 771h5v5h-5zM1205 758.5h5v5h-5zM823 884h5v5h-5zM754.5 875h5v5h-5zM1391 728.5h5v5h-5zM398 689.5h5v5h-5zM1191.5 781h5v5h-5zM321.5 831.5h5v5h-5zM1533 752h5v5h-5zM470.5 709h5v5h-5zM1047.5 824.5h5v5h-5zM1005 868.5h5v5h-5zM486 746.5h5v5h-5zM368 813.5h5v5h-5zM1272.5 743.5h5v5h-5zM1344.5 744.5h5v5h-5zM267 740.5h5v5h-5zM682.5 899h5v5h-5zM173 820.5h5v5h-5zM975.5 925h5v5h-5zM1281 775.5h5v5h-5zM1350 812.5h5v5h-5zM384.5 723h5v5h-5zM677 871h5v5h-5zM198 784.5h5v5h-5zM1362 801h5v5h-5zM1043.5 884h5v5h-5zM460 761.5h5v5h-5zM755.5 850h5v5h-5zM725.5 845.5h5v5h-5zM1323.5 736h5v5h-5zM662 818.5h5v5h-5zM197.5 724h5v5h-5zM225.5 829.5h5v5h-5zM1527 790.5h5v5h-5zM639.5 856h5v5h-5zM1079.5 867h5v5h-5zM835.5 942.5h5v5h-5zM736.5 920.5h5v5h-5zM1288.5 774h5v5h-5zM262 866.5h5v5h-5zM221.5 739.5h5v5h-5zM889.5 830.5h5v5h-5zM1558.5 733.5h5v5h-5zM916.5 899h5v5h-5zM471.5 798h5v5h-5zM768 863h5v5h-5zM712.5 901h5v5h-5zM566.5 802.5h5v5h-5zM339 799h5v5h-5zM433.5 756.5h5v5h-5zM651.5 930.5h5v5h-5zM1429 738.5h5v5h-5zM1205 779.5h5v5h-5zM652.5 922h5v5h-5zM1257 793h5v5h-5zM1043 819.5h5v5h-5zM1315.5 757.5h5v5h-5zM538.5 783h5v5h-5zM816 869h5v5h-5zM1156.5 827.5h5v5h-5zM944.5 889h5v5h-5zM321.5 795.5h5v5h-5zM923 852.5h5v5h-5zM993 847h5v5h-5zM240 740.5h5v5h-5zM332.5 769h5v5h-5zM262.5 839h5v5h-5zM1256.5 738.5h5v5h-5zM538.5 744.5h5v5h-5zM740.5 820h5v5h-5zM1514.5 798.5h5v5h-5zM618 833h5v5h-5zM1462.5 736.5h5v5h-5zM289.5 794h5v5h-5zM1185 802.5h5v5h-5zM882 909.5h5v5h-5zM965.5 878h5v5h-5zM1263 783.5h5v5h-5zM250.5 735h5v5h-5zM163.5 736.5h5v5h-5zM843 895.5h5v5h-5zM442 719.5h5v5h-5zM1337.5 775.5h5v5h-5zM642 859h5v5h-5zM167 782h5v5h-5zM190.5 803.5h5v5h-5zM1305.5 784h5v5h-5zM1066.5 874.5h5v5h-5zM330.5 727h5v5h-5zM943.5 907.5h5v5h-5zM1002.5 821.5h5v5h-5zM1427 791h5v5h-5zM1526 727.5h5v5h-5zM1540.5 820.5h5v5h-5zM921.5 843h5v5h-5zM175.5 756h5v5h-5zM1120.5 803h5v5h-5zM474.5 736h5v5h-5zM226 757h5v5h-5zM205 823h5v5h-5zM671.5 826.5h5v5h-5zM1500 767h5v5h-5zM1297 752h5v5h-5zM822.5 881.5h5v5h-5zM1319 766.5h5v5h-5zM257 756h5v5h-5zM308 769.5h5v5h-5zM1549.5 768h5v5h-5zM1215 736h5v5h-5zM1526.5 760h5v5h-5zM476 731h5v5h-5zM1099 864h5v5h-5zM397 762.5h5v5h-5zM660 884.5h5v5h-5zM616 855h5v5h-5zM177 759.5h5v5h-5zM840 903h5v5h-5zM1337.5 766.5h5v5h-5zM394.5 763.5h5v5h-5zM1486.5 770h5v5h-5zM1526.5 785.5h5v5h-5zM468.5 760.5h5v5h-5zM478 785h5v5h-5zM799.5 867h5v5h-5zM387.5 800h5v5h-5zM1231.5 788h5v5h-5zM247 778.5h5v5h-5zM1372.5 814h5v5h-5zM980.5 828.5h5v5h-5zM907.5 888h5v5h-5zM1562.5 778.5h5v5h-5zM171 731.5h5v5h-5zM1065 874.5h5v5h-5zM1458.5 805h5v5h-5zM1058 878h5v5h-5zM931.5 897.5h5v5h-5zM1317 734.5h5v5h-5zM471 726h5v5h-5zM1073 917.5h5v5h-5zM564.5 757h5v5h-5zM684 834.5h5v5h-5zM1504 813.5h5v5h-5zM462.5 737h5v5h-5zM1489.5 758h5v5h-5zM541 798.5h5v5h-5zM358 725.5h5v5h-5zM414 775.5h5v5h-5zM983 874.5h5v5h-5zM701.5 858.5h5v5h-5zM1073.5 874.5h5v5h-5zM1048 900.5h5v5h-5zM543 722.5h5v5h-5zM932.5 887.5h5v5h-5zM1013.5 842.5h5v5h-5zM656 724h5v5h-5zM1051.5 854.5h5v5h-5zM504 776.5h5v5h-5zM980.5 890.5h5v5h-5zM681.5 875h5v5h-5zM1259.5 771.5h5v5h-5zM893.5 907.5h5v5h-5zM1307.5 733.5h5v5h-5zM1032 879h5v5h-5zM874.5 848.5h5v5h-5zM1387.5 821h5v5h-5zM1357.5 768.5h5v5h-5zM667 816h5v5h-5zM716 899.5h5v5h-5zM287 789h5v5h-5zM1069.5 865h5v5h-5zM859.5 862h5v5h-5zM1082 834h5v5h-5zM1117 831.5h5v5h-5zM1018 920h5v5h-5zM836 852h5v5h-5zM1160 787.5h5v5h-5zM539.5 790.5h5v5h-5zM740.5 840.5h5v5h-5zM488 800h5v5h-5zM760 897.5h5v5h-5zM179.5 800h5v5h-5zM1527 777h5v5h-5zM1113 799.5h5v5h-5zM506 763h5v5h-5zM292.5 773.5h5v5h-5zM828 880.5h5v5h-5zM879 845.5h5v5h-5zM512 807h5v5h-5zM1352 770.5h5v5h-5zM379 793h5v5h-5zM1314 851.5h5v5h-5zM525 712h5v5h-5zM1366 775.5h5v5h-5zM249.5 743.5h5v5h-5zM1218.5 777h5v5h-5zM1147 832.5h5v5h-5zM1491.5 781h5v5h-5zM410 760h5v5h-5zM1326.5 732.5h5v5h-5zM372.5 721.5h5v5h-5zM251.5 768h5v5h-5zM759.5 923h5v5h-5zM623 849.5h5v5h-5zM750.5 883.5h5v5h-5zM1548.5 772.5h5v5h-5zM210.5 697h5v5h-5zM1148.5 792h5v5h-5zM1114.5 818h5v5h-5zM973 889h5v5h-5zM437 769h5v5h-5zM628.5 874h5v5h-5zM1394 681.5h5v5h-5zM243 819.5h5v5h-5zM1000 847.5h5v5h-5zM1297 756.5h5v5h-5zM1080.5 843h5v5h-5zM238 737h5v5h-5zM1022.5 921.5h5v5h-5zM332.5 848.5h5v5h-5zM976 790h5v5h-5zM768.5 874.5h5v5h-5zM198 742.5h5v5h-5zM583.5 861.5h5v5h-5zM925.5 886h5v5h-5zM1001 877h5v5h-5zM1188 812h5v5h-5zM308 802.5h5v5h-5zM471.5 761.5h5v5h-5zM549 839h5v5h-5zM884 909.5h5v5h-5zM1181.5 787.5h5v5h-5zM482 782.5h5v5h-5zM1159.5 781h5v5h-5zM537.5 739h5v5h-5zM731 875h5v5h-5zM275 800h5v5h-5zM1493 777.5h5v5h-5zM800.5 906h5v5h-5zM1076.5 855h5v5h-5zM623.5 872h5v5h-5zM872 869h5v5h-5zM724.5 857.5h5v5h-5zM713.5 847h5v5h-5zM159 779h5v5h-5zM568 784.5h5v5h-5zM873.5 941h5v5h-5zM972.5 840.5h5v5h-5zM763.5 889.5h5v5h-5zM819 856h5v5h-5zM424.5 783.5h5v5h-5zM1534.5 793.5h5v5h-5zM457 767.5h5v5h-5zM439 748.5h5v5h-5zM1176.5 697.5h5v5h-5zM1465.5 722h5v5h-5zM1420.5 800h5v5h-5zM490.5 755h5v5h-5zM246 750.5h5v5h-5zM1308 742h5v5h-5zM1227.5 833h5v5h-5zM493 729.5h5v5h-5zM1564.5 766.5h5v5h-5zM816.5 890h5v5h-5zM581 823h5v5h-5zM157.5 829h5v5h-5zM1135 819.5h5v5h-5zM1382 773.5h5v5h-5zM721 890.5h5v5h-5zM586 870h5v5h-5zM1166.5 751.5h5v5h-5zM1378 762h5v5h-5zM1353.5 772h5v5h-5zM1269 688h5v5h-5zM1251.5 758.5h5v5h-5zM1441 780.5h5v5h-5zM586.5 785h5v5h-5zM1256.5 746.5h5v5h-5zM1454.5 711.5h5v5h-5zM269.5 748h5v5h-5zM1138.5 842h5v5h-5zM978.5 863h5v5h-5zM1034 872.5h5v5h-5zM589 799.5h5v5h-5zM376.5 654.5h5v5h-5zM1294.5 742h5v5h-5zM1537 740.5h5v5h-5zM197 793.5h5v5h-5zM1378 781.5h5v5h-5zM247.5 804h5v5h-5zM613.5 829.5h5v5h-5zM535 775.5h5v5h-5zM1234.5 754h5v5h-5zM994.5 898h5v5h-5zM1198 783.5h5v5h-5zM704 869h5v5h-5zM648.5 833.5h5v5h-5zM537 720.5h5v5h-5zM804.5 833h5v5h-5zM1380 738h5v5h-5zM1568 769h5v5h-5zM472.5 801h5v5h-5zM817 835h5v5h-5zM1437 740.5h5v5h-5zM1165.5 769.5h5v5h-5zM1413.5 777.5h5v5h-5zM1076.5 901h5v5h-5zM872.5 923.5h5v5h-5zM218.5 769h5v5h-5zM781.5 849.5h5v5h-5zM845.5 885.5h5v5h-5zM1447.5 799.5h5v5h-5zM1020.5 909h5v5h-5zM702 878.5h5v5h-5zM153.5 766h5v5h-5zM713.5 877.5h5v5h-5zM1031 893.5h5v5h-5zM1302 758h5v5h-5zM520.5 812.5h5v5h-5zM1348 798h5v5h-5zM1471.5 772h5v5h-5zM1160 771.5h5v5h-5zM999 880.5h5v5h-5zM1232.5 783.5h5v5h-5zM724.5 879h5v5h-5zM885.5 847h5v5h-5zM881 873h5v5h-5zM1045 918.5h5v5h-5zM491.5 741h5v5h-5zM1479.5 759h5v5h-5zM911 897.5h5v5h-5zM1457.5 751h5v5h-5zM1030 894.5h5v5h-5zM1314 784h5v5h-5zM1042 850.5h5v5h-5zM600.5 844.5h5v5h-5zM1481 746.5h5v5h-5zM395.5 742h5v5h-5zM1113.5 886.5h5v5h-5zM581.5 820h5v5h-5zM558 775.5h5v5h-5zM170 744h5v5h-5zM1238 756.5h5v5h-5zM593 848h5v5h-5zM1091.5 893h5v5h-5zM893.5 924h5v5h-5zM1216.5 787.5h5v5h-5zM1127.5 843h5v5h-5zM609 928.5h5v5h-5zM601 797h5v5h-5zM972.5 884h5v5h-5zM651 886.5h5v5h-5zM1100.5 800.5h5v5h-5zM541 766.5h5v5h-5zM172 750.5h5v5h-5zM620.5 816h5v5h-5zM394 729.5h5v5h-5zM1069.5 821h5v5h-5zM1004.5 832.5h5v5h-5zM269.5 698h5v5h-5zM486.5 752.5h5v5h-5zM1201 766.5h5v5h-5zM487 787h5v5h-5zM656 868h5v5h-5zM1148.5 829h5v5h-5zM1008 891h5v5h-5zM1175 764h5v5h-5zM1564.5 837h5v5h-5zM460.5 833h5v5h-5zM338 691.5h5v5h-5zM1440 792h5v5h-5zM226.5 708.5h5v5h-5zM236.5 718.5h5v5h-5zM1137 848.5h5v5h-5zM567.5 849.5h5v5h-5zM1377.5 768h5v5h-5zM771.5 927.5h5v5h-5zM663.5 848h5v5h-5zM654 874h5v5h-5zM945 877h5v5h-5zM917 931h5v5h-5zM837 916h5v5h-5zM580 817.5h5v5h-5zM693.5 851.5h5v5h-5zM696 959.5h5v5h-5zM231 789.5h5v5h-5zM1196.5 762.5h5v5h-5zM1437 749h5v5h-5zM510.5 774h5v5h-5zM1258 773h5v5h-5zM230.5 809.5h5v5h-5zM184.5 782.5h5v5h-5zM910 879.5h5v5h-5zM436 734.5h5v5h-5zM1419 795.5h5v5h-5zM1028 848.5h5v5h-5zM639 850h5v5h-5zM486.5 738h5v5h-5zM1348.5 769.5h5v5h-5zM1273 750.5h5v5h-5zM1002 923.5h5v5h-5zM1112.5 846.5h5v5h-5zM1168.5 769h5v5h-5zM1554.5 837h5v5h-5zM939.5 827.5h5v5h-5zM1117.5 865h5v5h-5zM167.5 816.5h5v5h-5zM950.5 908.5h5v5h-5zM1198 833h5v5h-5zM1115.5 794.5h5v5h-5zM780.5 939.5h5v5h-5zM652.5 899.5h5v5h-5zM248.5 740.5h5v5h-5zM381 711h5v5h-5zM533.5 788.5h5v5h-5zM1048.5 843h5v5h-5zM1456.5 804h5v5h-5zM457 807h5v5h-5zM1562.5 793.5h5v5h-5zM1125 826.5h5v5h-5zM566.5 790h5v5h-5zM545.5 766h5v5h-5zM1371.5 724h5v5h-5zM1469 779h5v5h-5zM186 780.5h5v5h-5zM476 767h5v5h-5zM1144 839h5v5h-5zM438.5 732h5v5h-5zM1108.5 819.5h5v5h-5zM208.5 750.5h5v5h-5zM868 871h5v5h-5zM495 746h5v5h-5zM681 929.5h5v5h-5zM241.5 780h5v5h-5zM1158.5 784.5h5v5h-5zM891 857.5h5v5h-5zM1298.5 739h5v5h-5zM1274 767h5v5h-5zM291.5 838.5h5v5h-5zM1293 810.5h5v5h-5zM1063 818.5h5v5h-5zM1011.5 937.5h5v5h-5zM349 766.5h5v5h-5zM662 873.5h5v5h-5zM960 837.5h5v5h-5zM364 790.5h5v5h-5zM1190.5 847.5h5v5h-5zM1331.5 773.5h5v5h-5zM1343.5 793h5v5h-5zM1452.5 782h5v5h-5zM1285 760.5h5v5h-5zM1562.5 734.5h5v5h-5zM431.5 695.5h5v5h-5zM1316 814.5h5v5h-5zM1091 899.5h5v5h-5zM370 816.5h5v5h-5zM322.5 743h5v5h-5zM700.5 922.5h5v5h-5zM1448 778h5v5h-5zM915.5 902h5v5h-5zM1040 940.5h5v5h-5zM295.5 739h5v5h-5zM303.5 782.5h5v5h-5zM607.5 892.5h5v5h-5zM757 896.5h5v5h-5zM489.5 820h5v5h-5zM815.5 886.5h5v5h-5zM560 869h5v5h-5zM1561 782.5h5v5h-5zM1197 748h5v5h-5zM219 825h5v5h-5zM412.5 736.5h5v5h-5zM1395 784.5h5v5h-5zM714.5 859.5h5v5h-5zM1362 804h5v5h-5zM516 794.5h5v5h-5zM1316.5 733h5v5h-5zM1365 755h5v5h-5zM167 772h5v5h-5zM1567 811.5h5v5h-5zM350 758h5v5h-5zM193 745.5h5v5h-5zM1533.5 780h5v5h-5zM712 883.5h5v5h-5zM588.5 813.5h5v5h-5zM1006 856h5v5h-5zM327.5 790h5v5h-5zM1533.5 733.5h5v5h-5zM815 877h5v5h-5zM754 860h5v5h-5zM617.5 875h5v5h-5zM554.5 793.5h5v5h-5zM1187 638.5h5v5h-5zM1360.5 768.5h5v5h-5zM986.5 811h5v5h-5zM1035 874.5h5v5h-5zM1028 842.5h5v5h-5zM487 724.5h5v5h-5zM237.5 800.5h5v5h-5zM1401.5 749.5h5v5h-5zM1459.5 731.5h5v5h-5zM1392.5 819h5v5h-5zM397 860.5h5v5h-5zM1354.5 766h5v5h-5zM1071 913.5h5v5h-5zM799.5 917.5h5v5h-5zM1397.5 814h5v5h-5zM1131 827.5h5v5h-5zM493.5 784h5v5h-5zM534 782h5v5h-5zM961.5 932.5h5v5h-5zM670 869h5v5h-5zM527.5 775.5h5v5h-5zM576.5 854h5v5h-5zM1506.5 788.5h5v5h-5zM861.5 872.5h5v5h-5zM1107 786h5v5h-5zM1269.5 763.5h5v5h-5zM1125 863.5h5v5h-5zM766 864h5v5h-5zM1290 749h5v5h-5zM334 685h5v5h-5zM1415 743h5v5h-5zM1193 817.5h5v5h-5zM1045.5 886h5v5h-5zM805 861h5v5h-5zM466.5 812.5h5v5h-5zM1081 760h5v5h-5zM1313.5 793h5v5h-5zM688.5 864.5h5v5h-5zM653 858.5h5v5h-5zM963 860.5h5v5h-5zM975.5 851h5v5h-5zM1200 781.5h5v5h-5zM377 785h5v5h-5zM282.5 756.5h5v5h-5zM299.5 859h5v5h-5zM529.5 749.5h5v5h-5zM708 845h5v5h-5zM1306.5 754h5v5h-5zM1075 903.5h5v5h-5zM1279.5 779h5v5h-5zM279 772h5v5h-5zM667.5 894.5h5v5h-5zM1262.5 819h5v5h-5zM543 749.5h5v5h-5zM1131 830.5h5v5h-5zM1343 773h5v5h-5zM1290 758h5v5h-5zM1265.5 754.5h5v5h-5zM318.5 767h5v5h-5zM1533.5 751h5v5h-5zM963 815.5h5v5h-5zM212.5 802h5v5h-5zM1218.5 819.5h5v5h-5zM312 734h5v5h-5zM165.5 741h5v5h-5zM1107.5 865h5v5h-5zM880.5 891.5h5v5h-5zM1080 900h5v5h-5zM798.5 913.5h5v5h-5zM1490 737h5v5h-5zM183.5 812.5h5v5h-5zM794.5 911.5h5v5h-5zM877 876.5h5v5h-5zM233.5 748h5v5h-5zM651.5 898.5h5v5h-5zM342.5 794h5v5h-5zM1321 704.5h5v5h-5zM1277 725.5h5v5h-5zM170.5 758.5h5v5h-5zM369 796h5v5h-5zM275 756.5h5v5h-5zM486 814h5v5h-5zM192 760.5h5v5h-5zM529.5 828h5v5h-5zM701 833h5v5h-5zM1126 790.5h5v5h-5zM1016 882.5h5v5h-5zM561 830.5h5v5h-5zM603.5 832.5h5v5h-5zM369.5 829h5v5h-5zM433 757.5h5v5h-5zM915 864.5h5v5h-5zM240 754.5h5v5h-5zM307 788.5h5v5h-5zM687.5 906.5h5v5h-5zM1328.5 732.5h5v5h-5zM564.5 802h5v5h-5zM326 755.5h5v5h-5zM467.5 724.5h5v5h-5zM1272 756.5h5v5h-5zM1087 839h5v5h-5zM1058.5 825.5h5v5h-5zM1536 759.5h5v5h-5zM1064 840.5h5v5h-5zM568 830h5v5h-5zM973.5 896.5h5v5h-5zM587 783.5h5v5h-5zM577.5 829h5v5h-5zM565.5 797.5h5v5h-5zM1376 823h5v5h-5zM1277.5 752h5v5h-5zM1250.5 803h5v5h-5zM1294 721h5v5h-5zM175.5 797.5h5v5h-5zM1367 821.5h5v5h-5zM806.5 870.5h5v5h-5zM999.5 913h5v5h-5zM942 815h5v5h-5zM182 755h5v5h-5zM843.5 822.5h5v5h-5zM1275 811h5v5h-5zM472 795h5v5h-5zM903 870h5v5h-5zM542.5 772.5h5v5h-5zM486 766.5h5v5h-5zM1156 845.5h5v5h-5zM230 743.5h5v5h-5zM253.5 758.5h5v5h-5zM811 909.5h5v5h-5zM602 831.5h5v5h-5zM1269 804.5h5v5h-5zM1231.5 735.5h5v5h-5zM1303 777.5h5v5h-5zM1418 769.5h5v5h-5zM841.5 883h5v5h-5zM1157.5 788h5v5h-5zM174 789.5h5v5h-5zM621.5 919.5h5v5h-5zM1421.5 804h5v5h-5zM788.5 913.5h5v5h-5zM333.5 674.5h5v5h-5zM1388.5 757h5v5h-5zM1423 783.5h5v5h-5zM757 938h5v5h-5zM495 774.5h5v5h-5zM284.5 815.5h5v5h-5zM503 794h5v5h-5zM995.5 914h5v5h-5zM174 765h5v5h-5zM307 737.5h5v5h-5zM1006 853h5v5h-5zM609.5 844.5h5v5h-5zM690 821.5h5v5h-5zM498.5 711h5v5h-5zM336 804h5v5h-5zM1232.5 783h5v5h-5zM974 845h5v5h-5zM1559.5 772.5h5v5h-5zM828 833.5h5v5h-5zM451.5 745.5h5v5h-5zM1023 890.5h5v5h-5zM1333.5 734.5h5v5h-5zM937 900.5h5v5h-5zM1312 750.5h5v5h-5zM1238.5 745.5h5v5h-5zM292 798.5h5v5h-5zM1222 795.5h5v5h-5zM1098 874.5h5v5h-5zM1138.5 823.5h5v5h-5zM554.5 768h5v5h-5zM449 813h5v5h-5zM1175.5 814h5v5h-5zM743.5 858.5h5v5h-5zM1418.5 738.5h5v5h-5zM727 865.5h5v5h-5zM168.5 737.5h5v5h-5zM252 747h5v5h-5zM1389 757h5v5h-5zM1415 779h5v5h-5zM1561.5 770h5v5h-5zM557 780h5v5h-5zM1221 733.5h5v5h-5zM683 840.5h5v5h-5zM944 861h5v5h-5zM848 898h5v5h-5zM795.5 876h5v5h-5zM429.5 740h5v5h-5zM751 894.5h5v5h-5zM160.5 772h5v5h-5zM579.5 758h5v5h-5zM1291.5 756h5v5h-5zM535 750.5h5v5h-5zM604.5 896h5v5h-5zM1240.5 792.5h5v5h-5zM1200 739h5v5h-5zM1339.5 788.5h5v5h-5zM1156.5 764.5h5v5h-5zM1288 763.5h5v5h-5zM213.5 772.5h5v5h-5zM680.5 827h5v5h-5zM676.5 883h5v5h-5zM397 742.5h5v5h-5zM847.5 874.5h5v5h-5zM358 745h5v5h-5zM263 730.5h5v5h-5zM585 827h5v5h-5zM693 839h5v5h-5zM1483 753.5h5v5h-5zM994 862h5v5h-5zM1284 816.5h5v5h-5zM1226 747.5h5v5h-5zM541 824.5h5v5h-5zM216 837h5v5h-5zM459 795.5h5v5h-5zM978.5 857.5h5v5h-5zM1368.5 707.5h5v5h-5zM1374 767h5v5h-5zM419 760.5h5v5h-5zM502.5 780h5v5h-5zM305.5 803h5v5h-5zM546.5 828.5h5v5h-5zM1138 842h5v5h-5zM235.5 721h5v5h-5zM765.5 859h5v5h-5zM435.5 734h5v5h-5zM983 925.5h5v5h-5zM1404 765h5v5h-5zM1517.5 780.5h5v5h-5zM229.5 815h5v5h-5zM1090 832.5h5v5h-5zM1070.5 870h5v5h-5zM538 764h5v5h-5zM351 731.5h5v5h-5zM1256.5 770h5v5h-5zM888.5 909h5v5h-5zM1472 698h5v5h-5zM1197 805.5h5v5h-5zM1161 813h5v5h-5zM1280.5 761.5h5v5h-5zM1324 720h5v5h-5zM989.5 867.5h5v5h-5zM523.5 819h5v5h-5zM1247 731.5h5v5h-5zM926 865.5h5v5h-5zM892 913h5v5h-5zM867.5 874h5v5h-5zM1193 751h5v5h-5zM371 776h5v5h-5zM1503 770.5h5v5h-5zM243 710.5h5v5h-5zM1467.5 786.5h5v5h-5zM1441 731h5v5h-5zM1049.5 889h5v5h-5zM945 913.5h5v5h-5zM1380 734h5v5h-5zM1526 796h5v5h-5zM1048 811h5v5h-5zM177.5 752.5h5v5h-5zM755.5 871h5v5h-5zM869 887.5h5v5h-5zM1300.5 737.5h5v5h-5zM427.5 819h5v5h-5zM210.5 783.5h5v5h-5zM1232 812h5v5h-5zM1418 756.5h5v5h-5zM433 765h5v5h-5zM1545.5 715.5h5v5h-5zM620.5 847h5v5h-5zM191 769h5v5h-5zM777 909h5v5h-5zM574.5 813h5v5h-5zM1252 749.5h5v5h-5zM831 916h5v5h-5zM1051 834.5h5v5h-5zM1140 841.5h5v5h-5zM1161.5 783h5v5h-5zM1471 725.5h5v5h-5zM1534.5 710h5v5h-5zM547.5 770.5h5v5h-5zM576 867h5v5h-5zM155 799.5h5v5h-5zM743 843.5h5v5h-5zM1309.5 769h5v5h-5zM1371.5 790.5h5v5h-5zM281.5 849h5v5h-5zM1407.5 744.5h5v5h-5zM1548 737.5h5v5h-5zM1246.5 767h5v5h-5zM323.5 799.5h5v5h-5zM1260 770.5h5v5h-5zM1248.5 752.5h5v5h-5zM1511 741h5v5h-5zM1313 649h5v5h-5zM977.5 874.5h5v5h-5zM1184 750h5v5h-5zM1355.5 857.5h5v5h-5zM638 896.5h5v5h-5zM269 786h5v5h-5zM957 861.5h5v5h-5zM592.5 804h5v5h-5zM475.5 737.5h5v5h-5zM770 788h5v5h-5zM1500.5 735.5h5v5h-5zM957.5 820h5v5h-5zM349 737h5v5h-5zM1034 842h5v5h-5zM296 731h5v5h-5zM238 778h5v5h-5zM271.5 778.5h5v5h-5zM1253.5 789h5v5h-5zM416.5 831h5v5h-5zM356.5 788.5h5v5h-5zM1557 799h5v5h-5zM1170 824h5v5h-5zM185 720h5v5h-5zM649.5 860.5h5v5h-5zM278.5 748.5h5v5h-5zM935 893h5v5h-5zM731.5 807h5v5h-5zM605 831.5h5v5h-5zM1328.5 784h5v5h-5zM530.5 777.5h5v5h-5zM849 925.5h5v5h-5zM308 774.5h5v5h-5zM250.5 841h5v5h-5zM1384 799h5v5h-5zM929 881h5v5h-5zM362.5 746h5v5h-5zM1382.5 786h5v5h-5zM865 921h5v5h-5zM639 809.5h5v5h-5zM376.5 719.5h5v5h-5zM424 772h5v5h-5zM600 844.5h5v5h-5zM770 921.5h5v5h-5zM615.5 868.5h5v5h-5zM1156 811h5v5h-5zM1496 689h5v5h-5zM204.5 848.5h5v5h-5zM1389 766h5v5h-5zM820 850.5h5v5h-5zM1387 744.5h5v5h-5zM1097 775.5h5v5h-5zM562 824.5h5v5h-5zM259.5 796h5v5h-5zM1457.5 736h5v5h-5zM167.5 776.5h5v5h-5zM496.5 764.5h5v5h-5zM476 787h5v5h-5zM1105.5 852h5v5h-5zM927 890.5h5v5h-5zM356 807h5v5h-5zM1554.5 736.5h5v5h-5zM511.5 791h5v5h-5zM1492 769h5v5h-5zM1023 860h5v5h-5zM1489.5 806h5v5h-5zM1011 835h5v5h-5zM278 787.5h5v5h-5zM1072 868.5h5v5h-5zM693.5 887h5v5h-5zM1498.5 762.5h5v5h-5zM662.5 899.5h5v5h-5zM537.5 812.5h5v5h-5zM799.5 852h5v5h-5zM648 829.5h5v5h-5zM1468.5 754.5h5v5h-5zM964 890.5h5v5h-5zM1471.5 763h5v5h-5zM712 905.5h5v5h-5zM1326.5 835.5h5v5h-5zM1352.5 699h5v5h-5zM1203 793h5v5h-5zM661.5 816h5v5h-5zM554 821h5v5h-5zM1258.5 751h5v5h-5zM1485.5 740.5h5v5h-5zM543.5 781h5v5h-5zM503 827.5h5v5h-5zM504 737.5h5v5h-5zM647.5 846h5v5h-5zM513 824h5v5h-5zM219 765.5h5v5h-5zM1119.5 807.5h5v5h-5zM1063 857h5v5h-5zM332.5 711.5h5v5h-5zM181.5 781.5h5v5h-5zM1110.5 878h5v5h-5zM856.5 939.5h5v5h-5zM627.5 892.5h5v5h-5zM1302.5 762.5h5v5h-5zM400.5 694.5h5v5h-5zM613.5 834h5v5h-5zM1095.5 900h5v5h-5zM644.5 868.5h5v5h-5zM721.5 813h5v5h-5zM383.5 754.5h5v5h-5zM1192 751.5h5v5h-5zM938.5 850.5h5v5h-5zM388 731h5v5h-5zM161.5 710h5v5h-5zM928 897.5h5v5h-5zM306.5 828.5h5v5h-5zM614.5 863h5v5h-5zM293.5 724.5h5v5h-5zM714.5 864h5v5h-5zM1518.5 715.5h5v5h-5zM213.5 744h5v5h-5zM507.5 804.5h5v5h-5zM1185.5 742.5h5v5h-5zM661.5 912h5v5h-5zM271 724h5v5h-5zM1377 773h5v5h-5zM1565.5 770h5v5h-5zM1272 772h5v5h-5zM584.5 840.5h5v5h-5zM1232 721.5h5v5h-5zM409 745.5h5v5h-5zM1259.5 768h5v5h-5zM693.5 885.5h5v5h-5zM977.5 939h5v5h-5zM753 906.5h5v5h-5zM553.5 798.5h5v5h-5zM1478.5 760.5h5v5h-5zM569 783.5h5v5h-5zM1151 761h5v5h-5zM1492 771.5h5v5h-5zM772 881h5v5h-5zM1411.5 809h5v5h-5zM664.5 785h5v5h-5zM935 924.5h5v5h-5zM1410 732.5h5v5h-5zM519 728h5v5h-5zM1040.5 846.5h5v5h-5zM276.5 769.5h5v5h-5zM197.5 826h5v5h-5zM482.5 741h5v5h-5zM1303.5 801.5h5v5h-5zM738 901h5v5h-5zM1166.5 807.5h5v5h-5zM1267 814.5h5v5h-5zM206 727h5v5h-5zM531 789.5h5v5h-5zM1192 802.5h5v5h-5zM743.5 824h5v5h-5zM1238 817h5v5h-5zM553 835.5h5v5h-5zM815 898.5h5v5h-5zM187.5 726.5h5v5h-5zM1381.5 772.5h5v5h-5zM375 748.5h5v5h-5zM295 813.5h5v5h-5zM883.5 887h5v5h-5zM294.5 801h5v5h-5zM800 899h5v5h-5zM405 763h5v5h-5zM599 790h5v5h-5zM1174.5 812.5h5v5h-5zM421 760.5h5v5h-5zM1253 761.5h5v5h-5zM912.5 875.5h5v5h-5zM168 783h5v5h-5zM352.5 774.5h5v5h-5zM1512 764.5h5v5h-5zM817 927h5v5h-5zM1277 824.5h5v5h-5zM1504 757h5v5h-5zM270 774.5h5v5h-5zM1367 782.5h5v5h-5zM1425.5 689h5v5h-5zM659 857h5v5h-5zM1520 736h5v5h-5zM736.5 928h5v5h-5zM371.5 772h5v5h-5zM1291 720.5h5v5h-5zM506 783h5v5h-5zM511.5 720h5v5h-5zM645.5 847.5h5v5h-5zM1388.5 778h5v5h-5zM1042.5 842.5h5v5h-5zM546.5 789h5v5h-5zM1557.5 721.5h5v5h-5zM967 917h5v5h-5zM498.5 795h5v5h-5zM1041 892h5v5h-5zM187 738.5h5v5h-5zM1466.5 757.5h5v5h-5zM485 772.5h5v5h-5zM1342 755.5h5v5h-5zM1130 845.5h5v5h-5zM858.5 892.5h5v5h-5zM481 776h5v5h-5zM1337 740.5h5v5h-5zM1065 840.5h5v5h-5zM1497 711h5v5h-5zM648.5 838h5v5h-5zM1216 811h5v5h-5zM1020.5 830.5h5v5h-5zM1044.5 873h5v5h-5zM1344 794h5v5h-5zM1104.5 849.5h5v5h-5zM1564.5 758h5v5h-5zM290 794.5h5v5h-5zM982 889.5h5v5h-5zM1469.5 798.5h5v5h-5zM1313.5 766.5h5v5h-5zM1535 751.5h5v5h-5zM210.5 812.5h5v5h-5zM1406.5 727h5v5h-5zM385 776.5h5v5h-5zM535 787.5h5v5h-5zM1467 683h5v5h-5zM786 883h5v5h-5zM1510.5 756h5v5h-5zM1368.5 807.5h5v5h-5zM1022 919.5h5v5h-5zM996 863.5h5v5h-5zM741 859.5h5v5h-5zM846.5 931.5h5v5h-5zM1453 745h5v5h-5zM386 772h5v5h-5zM1535 749h5v5h-5zM1137 809.5h5v5h-5zM554 798h5v5h-5zM869 887h5v5h-5zM899 862h5v5h-5zM902.5 889.5h5v5h-5zM629.5 823.5h5v5h-5zM240.5 788.5h5v5h-5zM957.5 847.5h5v5h-5zM1442.5 791h5v5h-5zM372.5 778h5v5h-5zM244.5 761.5h5v5h-5zM1162 833.5h5v5h-5zM1284.5 751h5v5h-5zM682.5 870h5v5h-5zM1436.5 790.5h5v5h-5zM1557.5 808.5h5v5h-5zM1517 800h5v5h-5zM796 853.5h5v5h-5zM708 845h5v5h-5zM1109.5 892.5h5v5h-5zM842.5 880h5v5h-5zM439 763.5h5v5h-5zM267 762h5v5h-5zM859 874h5v5h-5zM874 853h5v5h-5zM343 782.5h5v5h-5zM451 740h5v5h-5zM1531 741h5v5h-5zM932 901.5h5v5h-5zM1541 804h5v5h-5zM1215.5 781.5h5v5h-5zM1117.5 859.5h5v5h-5zM1442.5 749.5h5v5h-5zM445 796h5v5h-5zM572.5 779.5h5v5h-5zM1251 823.5h5v5h-5zM1035.5 794.5h5v5h-5zM655 889.5h5v5h-5zM1265.5 821.5h5v5h-5zM1383 806.5h5v5h-5zM1114 845h5v5h-5zM489 768h5v5h-5zM584.5 861h5v5h-5zM1399 762.5h5v5h-5zM1398.5 792h5v5h-5zM739 881.5h5v5h-5zM494 739h5v5h-5zM160 749h5v5h-5zM1398.5 708.5h5v5h-5zM1046.5 877.5h5v5h-5zM661.5 834.5h5v5h-5zM289.5 820.5h5v5h-5zM212 759h5v5h-5zM379 799h5v5h-5zM1483 753.5h5v5h-5zM733 863.5h5v5h-5zM1079.5 874.5h5v5h-5zM509.5 693h5v5h-5zM1140.5 857.5h5v5h-5zM602 842h5v5h-5zM452 808.5h5v5h-5zM407.5 791h5v5h-5zM1316.5 738.5h5v5h-5zM1282.5 730h5v5h-5zM1567.5 740h5v5h-5zM1011 912h5v5h-5zM799 915.5h5v5h-5zM289 814h5v5h-5zM1023 869.5h5v5h-5zM1012.5 887.5h5v5h-5zM1026.5 827.5h5v5h-5zM169 780.5h5v5h-5zM1507 830h5v5h-5zM432 819.5h5v5h-5zM662 926.5h5v5h-5zM594.5 888.5h5v5h-5zM1347.5 781.5h5v5h-5zM450 808.5h5v5h-5zM911.5 897.5h5v5h-5zM774.5 868.5h5v5h-5zM743.5 833h5v5h-5zM787 905h5v5h-5zM897.5 857.5h5v5h-5zM405.5 820h5v5h-5zM602 850h5v5h-5zM1517 782.5h5v5h-5zM1407.5 828.5h5v5h-5zM1293.5 744h5v5h-5zM312 769h5v5h-5zM1020.5 884.5h5v5h-5zM1226 780.5h5v5h-5zM935 886h5v5h-5zM1020 863h5v5h-5zM1296 769h5v5h-5zM523 738.5h5v5h-5zM1324 742.5h5v5h-5zM1236.5 812.5h5v5h-5zM163 794h5v5h-5zM1285 764h5v5h-5zM390.5 796.5h5v5h-5zM539 774h5v5h-5zM920 881h5v5h-5zM474 738.5h5v5h-5zM250 787h5v5h-5zM1510.5 851.5h5v5h-5zM728.5 827h5v5h-5zM539 731h5v5h-5zM1069.5 891h5v5h-5zM1402.5 746h5v5h-5zM896.5 808.5h5v5h-5zM1204 748h5v5h-5zM362 791.5h5v5h-5zM1409 788.5h5v5h-5zM1245.5 789.5h5v5h-5zM508.5 769.5h5v5h-5zM1202 727h5v5h-5zM324 788.5h5v5h-5zM1061 845.5h5v5h-5zM811 842h5v5h-5zM1020 907.5h5v5h-5zM420.5 770h5v5h-5zM399 734.5h5v5h-5zM584 855.5h5v5h-5zM643.5 833h5v5h-5zM1197 847h5v5h-5zM555 782h5v5h-5zM571 813.5h5v5h-5zM272.5 752.5h5v5h-5zM293.5 783h5v5h-5zM1447 740h5v5h-5zM1341 733.5h5v5h-5zM1432 816h5v5h-5zM1034.5 858h5v5h-5zM1448 809h5v5h-5zM1432.5 775.5h5v5h-5zM384.5 811.5h5v5h-5zM1039.5 859h5v5h-5zM1501.5 753h5v5h-5zM198 787h5v5h-5zM587.5 819.5h5v5h-5zM543 825h5v5h-5zM408.5 743.5h5v5h-5zM794 915h5v5h-5zM736 903h5v5h-5zM902 875h5v5h-5zM1361 770.5h5v5h-5zM942.5 887.5h5v5h-5zM245 772.5h5v5h-5zM503 769.5h5v5h-5zM791 939.5h5v5h-5zM724 900.5h5v5h-5zM549.5 769h5v5h-5zM651.5 856.5h5v5h-5zM441.5 717h5v5h-5zM1470.5 777.5h5v5h-5zM860.5 922.5h5v5h-5zM965 851h5v5h-5zM1557 770h5v5h-5zM1158.5 773.5h5v5h-5zM929 863.5h5v5h-5zM178 767h5v5h-5zM919.5 850h5v5h-5zM420 802.5h5v5h-5zM850.5 863.5h5v5h-5zM165.5 736.5h5v5h-5zM548 809h5v5h-5zM1544.5 745.5h5v5h-5zM928 891h5v5h-5zM606 851.5h5v5h-5zM897 851.5h5v5h-5zM785 823.5h5v5h-5zM434 741h5v5h-5zM162 759.5h5v5h-5zM902.5 887h5v5h-5zM1342.5 767h5v5h-5zM930.5 879.5h5v5h-5zM999.5 827h5v5h-5zM639.5 817.5h5v5h-5zM773 928h5v5h-5zM690.5 903h5v5h-5zM175.5 818.5h5v5h-5zM275.5 760.5h5v5h-5zM410.5 732.5h5v5h-5zM1200.5 745.5h5v5h-5zM805.5 910h5v5h-5zM1505 754.5h5v5h-5zM212.5 798.5h5v5h-5zM1554 772h5v5h-5zM950.5 835.5h5v5h-5zM175 767h5v5h-5zM330.5 735h5v5h-5zM1472 793h5v5h-5zM1159.5 817h5v5h-5zM1110 841h5v5h-5zM305.5 727h5v5h-5zM1113.5 824h5v5h-5zM459.5 735.5h5v5h-5zM974.5 908.5h5v5h-5zM1387.5 767.5h5v5h-5zM436 689.5h5v5h-5zM205 781h5v5h-5zM676.5 850h5v5h-5zM1240.5 802.5h5v5h-5zM957.5 891h5v5h-5zM917 875h5v5h-5zM337 749.5h5v5h-5zM313 834h5v5h-5zM1297.5 772.5h5v5h-5zM691 898h5v5h-5zM231 757.5h5v5h-5zM819.5 893h5v5h-5zM1165 786h5v5h-5zM718 900h5v5h-5zM1419.5 828h5v5h-5zM1040 877.5h5v5h-5zM720 857h5v5h-5zM1368.5 759.5h5v5h-5zM943.5 838h5v5h-5zM280 786.5h5v5h-5zM760.5 883h5v5h-5zM1175.5 816h5v5h-5zM1230.5 772.5h5v5h-5zM755 892.5h5v5h-5zM1333 770h5v5h-5zM1088.5 880.5h5v5h-5zM1545 711.5h5v5h-5zM585.5 836.5h5v5h-5zM495.5 740.5h5v5h-5zM874.5 903h5v5h-5zM1336 763h5v5h-5zM822.5 871h5v5h-5zM900.5 879h5v5h-5zM710 835h5v5h-5zM216 750.5h5v5h-5zM517 819.5h5v5h-5zM456.5 795h5v5h-5zM815 856h5v5h-5zM1428 754h5v5h-5zM183 793h5v5h-5zM1302 755.5h5v5h-5zM1015 870h5v5h-5zM282 791h5v5h-5zM857.5 894.5h5v5h-5zM358.5 738h5v5h-5zM1224 795.5h5v5h-5zM1350.5 745h5v5h-5zM771 824.5h5v5h-5zM1441.5 736.5h5v5h-5zM640.5 897.5h5v5h-5zM1209 687h5v5h-5zM1530.5 766.5h5v5h-5zM1219 678.5h5v5h-5zM1147.5 808.5h5v5h-5zM659 799h5v5h-5zM599.5 846.5h5v5h-5zM798.5 852h5v5h-5zM1559.5 777.5h5v5h-5zM513 730.5h5v5h-5zM353.5 795h5v5h-5zM373 817h5v5h-5zM688 869.5h5v5h-5zM1014.5 889h5v5h-5zM1390 779h5v5h-5zM780.5 833h5v5h-5zM1459.5 719h5v5h-5zM1103.5 864.5h5v5h-5zM647.5 932h5v5h-5zM1198.5 744.5h5v5h-5zM696 882.5h5v5h-5zM1468 784h5v5h-5zM1378.5 787h5v5h-5zM1201.5 709.5h5v5h-5zM583 836h5v5h-5zM1304 684h5v5h-5zM1178 808h5v5h-5zM1549 758h5v5h-5zM1334.5 803.5h5v5h-5zM577 780.5h5v5h-5zM463 770h5v5h-5zM1541.5 757.5h5v5h-5zM373.5 807.5h5v5h-5zM1251.5 730h5v5h-5zM541.5 813.5h5v5h-5zM356 784.5h5v5h-5zM802.5 854.5h5v5h-5zM389.5 804h5v5h-5zM359 784.5h5v5h-5zM854.5 932.5h5v5h-5zM725.5 888.5h5v5h-5zM212.5 745h5v5h-5zM319 728.5h5v5h-5zM555.5 793.5h5v5h-5zM1264.5 804h5v5h-5zM1369.5 706.5h5v5h-5zM885.5 874h5v5h-5zM950 864.5h5v5h-5zM762 895.5h5v5h-5zM1243 744.5h5v5h-5zM888.5 884.5h5v5h-5zM425 760.5h5v5h-5zM1270.5 708.5h5v5h-5zM963 827h5v5h-5zM857 874h5v5h-5zM172 771.5h5v5h-5zM1284.5 786h5v5h-5zM911.5 902h5v5h-5zM604 836.5h5v5h-5zM584 832.5h5v5h-5zM201 770h5v5h-5zM1529 766.5h5v5h-5zM656 883h5v5h-5zM482 774.5h5v5h-5zM1003.5 856.5h5v5h-5zM1546 771.5h5v5h-5zM222.5 743h5v5h-5zM934 934h5v5h-5zM1465.5 786.5h5v5h-5zM1287 700h5v5h-5zM419 790h5v5h-5zM1567.5 749h5v5h-5zM1390 802.5h5v5h-5zM953 844.5h5v5h-5zM367 771h5v5h-5zM1027 878.5h5v5h-5zM602 835.5h5v5h-5zM585 888.5h5v5h-5zM1164.5 784.5h5v5h-5zM628.5 947h5v5h-5zM500 770.5h5v5h-5zM1308.5 776h5v5h-5zM1127 822h5v5h-5zM912.5 901h5v5h-5zM609 844.5h5v5h-5zM1114 792h5v5h-5zM678.5 858h5v5h-5zM199 735.5h5v5h-5zM1138.5 802h5v5h-5zM520.5 731.5h5v5h-5zM1355 762.5h5v5h-5zM1344 789.5h5v5h-5zM542 771h5v5h-5zM455.5 789h5v5h-5zM207 735.5h5v5h-5zM555.5 790h5v5h-5zM560.5 787h5v5h-5zM421.5 778h5v5h-5zM501.5 805.5h5v5h-5zM1383.5 803h5v5h-5zM837 869.5h5v5h-5zM780 902.5h5v5h-5zM742.5 855.5h5v5h-5zM376 751h5v5h-5zM1174.5 776h5v5h-5zM823 877h5v5h-5zM788.5 861.5h5v5h-5zM425 765.5h5v5h-5zM951.5 867h5v5h-5zM182.5 821.5h5v5h-5zM816 931h5v5h-5zM839.5 852h5v5h-5zM1293.5 784.5h5v5h-5zM259 710.5h5v5h-5zM788.5 923h5v5h-5zM293.5 753h5v5h-5zM274.5 760.5h5v5h-5zM336 774h5v5h-5zM902.5 879h5v5h-5zM531.5 792.5h5v5h-5zM692 860h5v5h-5zM622.5 877h5v5h-5zM698.5 819.5h5v5h-5zM1382 732h5v5h-5zM1003 852h5v5h-5zM1140.5 837h5v5h-5zM348 755h5v5h-5zM202 753h5v5h-5zM692.5 903.5h5v5h-5zM932.5 874.5h5v5h-5zM1258.5 761h5v5h-5zM1519 793.5h5v5h-5zM1090 791.5h5v5h-5zM1367 847.5h5v5h-5zM174.5 771h5v5h-5zM392 750.5h5v5h-5zM860.5 937.5h5v5h-5zM1499 747h5v5h-5zM1393.5 801h5v5h-5zM827.5 887.5h5v5h-5zM727.5 867h5v5h-5zM1125.5 752h5v5h-5zM667.5 892h5v5h-5zM851 866.5h5v5h-5zM1036.5 855.5h5v5h-5zM1180 780h5v5h-5zM385.5 720h5v5h-5zM408.5 791h5v5h-5zM1408 776.5h5v5h-5zM976.5 939h5v5h-5zM268.5 702h5v5h-5zM765.5 928.5h5v5h-5zM1518.5 762.5h5v5h-5zM1010 914.5h5v5h-5zM928 897h5v5h-5zM276 786.5h5v5h-5zM812 896h5v5h-5zM717 837.5h5v5h-5zM1487.5 746h5v5h-5zM1074.5 849h5v5h-5zM921.5 877h5v5h-5zM418 740.5h5v5h-5zM1399.5 764.5h5v5h-5zM448 828h5v5h-5zM666 781.5h5v5h-5zM591 852h5v5h-5zM524 772h5v5h-5zM1129 896.5h5v5h-5zM1073.5 915.5h5v5h-5zM1261 805h5v5h-5zM810.5 875.5h5v5h-5zM1421 783h5v5h-5zM378.5 802.5h5v5h-5zM380.5 834.5h5v5h-5zM1507 788h5v5h-5zM511.5 748.5h5v5h-5zM601.5 841h5v5h-5zM946 912.5h5v5h-5zM920.5 865h5v5h-5zM1208.5 717.5h5v5h-5zM1028 900h5v5h-5zM1103 850h5v5h-5zM314 739.5h5v5h-5zM1356 755.5h5v5h-5zM648 784h5v5h-5zM368 795.5h5v5h-5zM756 911.5h5v5h-5zM1064.5 830.5h5v5h-5zM503 748.5h5v5h-5zM392 813h5v5h-5zM834.5 859.5h5v5h-5zM1532.5 773h5v5h-5zM431 762.5h5v5h-5zM484.5 738.5h5v5h-5zM1163.5 816h5v5h-5zM1557 768.5h5v5h-5zM1026 887.5h5v5h-5zM1066.5 919.5h5v5h-5zM516.5 751.5h5v5h-5zM499 742h5v5h-5zM1503 742h5v5h-5zM753.5 879h5v5h-5zM745 895.5h5v5h-5zM1459.5 784h5v5h-5zM693.5 896.5h5v5h-5zM218 768h5v5h-5zM417.5 797.5h5v5h-5zM407 765.5h5v5h-5zM216 733h5v5h-5zM1376.5 689h5v5h-5zM227 768.5h5v5h-5zM901 889h5v5h-5zM180.5 760h5v5h-5zM502 779.5h5v5h-5zM1091.5 816.5h5v5h-5zM1037 845h5v5h-5zM1119 820h5v5h-5zM1382.5 742.5h5v5h-5zM351 824.5h5v5h-5zM1074.5 870h5v5h-5zM770.5 791.5h5v5h-5zM791.5 880.5h5v5h-5zM547 754h5v5h-5zM777 843h5v5h-5zM741 877h5v5h-5zM175.5 793h5v5h-5zM773 919h5v5h-5zM1247.5 773.5h5v5h-5zM1259 729.5h5v5h-5zM1413 786.5h5v5h-5zM1341.5 746.5h5v5h-5zM225.5 802h5v5h-5zM239 813h5v5h-5zM650 893h5v5h-5zM952.5 926.5h5v5h-5zM1076 811.5h5v5h-5zM740 837h5v5h-5zM214.5 709h5v5h-5zM1421 762h5v5h-5zM1285 805.5h5v5h-5zM1392 705.5h5v5h-5zM1467.5 795.5h5v5h-5zM582 838.5h5v5h-5zM1205.5 754h5v5h-5zM522.5 784h5v5h-5zM489 789h5v5h-5zM228.5 709h5v5h-5zM1240.5 790.5h5v5h-5zM1498.5 762.5h5v5h-5zM1121.5 861.5h5v5h-5zM847.5 939.5h5v5h-5zM218 751.5h5v5h-5zM971.5 852.5h5v5h-5zM444.5 699h5v5h-5zM1041 826h5v5h-5zM1344.5 799.5h5v5h-5zM1409 771.5h5v5h-5zM1244 779h5v5h-5zM832 839h5v5h-5zM613 853h5v5h-5zM331 795.5h5v5h-5zM1214.5 750.5h5v5h-5zM1179.5 715h5v5h-5zM1187 751h5v5h-5zM1272.5 744.5h5v5h-5zM1050 839.5h5v5h-5zM1345.5 806.5h5v5h-5zM757 871h5v5h-5zM760.5 905h5v5h-5zM1204.5 794h5v5h-5zM558.5 791.5h5v5h-5zM1417 769h5v5h-5zM830 927.5h5v5h-5zM402 813.5h5v5h-5zM489 720h5v5h-5zM1528.5 717h5v5h-5zM1032.5 909h5v5h-5zM614 797.5h5v5h-5zM1111 907h5v5h-5zM619 862h5v5h-5zM908 838.5h5v5h-5zM1428 733.5h5v5h-5zM757 867.5h5v5h-5zM1203 849.5h5v5h-5zM650 840.5h5v5h-5zM1150.5 798h5v5h-5zM1405.5 765h5v5h-5zM286.5 759.5h5v5h-5zM1266 815h5v5h-5zM866 907h5v5h-5zM1479 688h5v5h-5zM210 835.5h5v5h-5zM379 832.5h5v5h-5zM971 810.5h5v5h-5zM647.5 916.5h5v5h-5zM399.5 753.5h5v5h-5zM927 966.5h5v5h-5zM724.5 775h5v5h-5zM470 711.5h5v5h-5zM1051 810h5v5h-5zM695.5 845h5v5h-5zM313 771h5v5h-5zM753.5 874h5v5h-5zM187 739h5v5h-5zM974.5 905h5v5h-5zM299.5 744h5v5h-5zM302 774.5h5v5h-5zM311.5 750h5v5h-5zM671.5 860h5v5h-5zM1129.5 790h5v5h-5zM853.5 863h5v5h-5zM1518 746h5v5h-5zM434.5 744.5h5v5h-5zM896.5 845.5h5v5h-5zM1460 741.5h5v5h-5zM615.5 855h5v5h-5zM857.5 884.5h5v5h-5zM1195.5 755.5h5v5h-5zM1432.5 772h5v5h-5zM624 878.5h5v5h-5zM152.5 823.5h5v5h-5zM406 786h5v5h-5zM1394.5 777h5v5h-5zM1452 759h5v5h-5zM1384 722.5h5v5h-5zM668 878.5h5v5h-5zM527 815h5v5h-5zM1249 766h5v5h-5zM1488.5 745h5v5h-5zM567 756h5v5h-5zM169 812h5v5h-5zM1411.5 824.5h5v5h-5zM362.5 777h5v5h-5zM1177.5 785.5h5v5h-5zM1419 748.5h5v5h-5zM206.5 796.5h5v5h-5zM829.5 863.5h5v5h-5zM1556.5 772h5v5h-5zM1262 798h5v5h-5zM1244.5 808.5h5v5h-5zM833.5 918.5h5v5h-5zM621.5 842.5h5v5h-5zM1087 893.5h5v5h-5zM675 901h5v5h-5zM840 887.5h5v5h-5zM1213.5 759h5v5h-5zM1466.5 812.5h5v5h-5zM923.5 880h5v5h-5zM958.5 820h5v5h-5zM455 819.5h5v5h-5zM1467.5 755h5v5h-5zM334 732.5h5v5h-5zM622 871.5h5v5h-5zM452.5 842h5v5h-5zM315 809h5v5h-5zM1147.5 833h5v5h-5zM673.5 905h5v5h-5zM170 744.5h5v5h-5zM625 815h5v5h-5zM1569 789h5v5h-5zM797 793.5h5v5h-5zM843.5 903h5v5h-5zM475.5 768h5v5h-5zM184.5 783.5h5v5h-5zM885 862h5v5h-5zM458.5 778.5h5v5h-5zM1145 779.5h5v5h-5zM192 760h5v5h-5zM866 902.5h5v5h-5zM339.5 742.5h5v5h-5zM854 854h5v5h-5zM893.5 892.5h5v5h-5zM1027 856h5v5h-5zM297 768.5h5v5h-5zM522.5 789h5v5h-5zM1543 786h5v5h-5zM187 730h5v5h-5zM371 822.5h5v5h-5zM530.5 754.5h5v5h-5zM167 785h5v5h-5zM308 772.5h5v5h-5zM491 728.5h5v5h-5zM440.5 770.5h5v5h-5zM491.5 833.5h5v5h-5zM1502.5 834h5v5h-5zM1243.5 742.5h5v5h-5zM647 830.5h5v5h-5zM1119 881.5h5v5h-5zM496.5 757h5v5h-5zM1496 726h5v5h-5zM1047.5 894.5h5v5h-5zM366 753.5h5v5h-5zM1194 733.5h5v5h-5zM462.5 814.5h5v5h-5zM908 915h5v5h-5zM161.5 791h5v5h-5zM722.5 806h5v5h-5zM1206.5 751.5h5v5h-5zM543.5 764h5v5h-5zM1375.5 740h5v5h-5zM554.5 814.5h5v5h-5zM633.5 771.5h5v5h-5zM397.5 780.5h5v5h-5zM575 810.5h5v5h-5zM216 766.5h5v5h-5zM1500 836h5v5h-5zM1486 796h5v5h-5zM1105.5 834.5h5v5h-5zM485.5 812h5v5h-5zM251 764h5v5h-5zM484 777h5v5h-5zM1155.5 788h5v5h-5zM865 886.5h5v5h-5zM1176 762.5h5v5h-5zM1406.5 773.5h5v5h-5zM200 786h5v5h-5zM1096 909h5v5h-5zM707.5 853h5v5h-5zM931.5 910.5h5v5h-5zM774 812.5h5v5h-5zM1512 785.5h5v5h-5zM246 753.5h5v5h-5zM495.5 823.5h5v5h-5zM1516.5 732h5v5h-5zM435.5 683h5v5h-5zM1113 806h5v5h-5zM311 815h5v5h-5zM1310 799.5h5v5h-5zM351.5 789.5h5v5h-5zM360.5 746.5h5v5h-5zM1570 791h5v5h-5zM1569 803.5h5v5h-5zM202 793h5v5h-5zM1248 788h5v5h-5zM1003 889.5h5v5h-5zM527 780h5v5h-5zM1499.5 773h5v5h-5zM1164 754.5h5v5h-5zM1460 834.5h5v5h-5zM313.5 745.5h5v5h-5zM454.5 733.5h5v5h-5zM1202.5 753h5v5h-5zM1561.5 757.5h5v5h-5zM343.5 791.5h5v5h-5zM443 764h5v5h-5zM1448.5 761.5h5v5h-5zM391 765.5h5v5h-5zM476.5 754.5h5v5h-5zM682.5 856.5h5v5h-5zM1297 780.5h5v5h-5zM777.5 936.5h5v5h-5zM644 834h5v5h-5zM1567.5 707h5v5h-5zM1382.5 794h5v5h-5zM1102.5 893h5v5h-5zM187.5 737.5h5v5h-5zM836 854.5h5v5h-5zM1544.5 781.5h5v5h-5zM911.5 882h5v5h-5zM621 874h5v5h-5zM1135 852.5h5v5h-5zM1443 803h5v5h-5zM1017.5 894h5v5h-5zM1320.5 771h5v5h-5zM940 932.5h5v5h-5zM620 856h5v5h-5zM1285 810h5v5h-5zM301.5 804h5v5h-5zM759.5 865.5h5v5h-5zM282.5 774h5v5h-5zM999.5 919.5h5v5h-5zM1391 795h5v5h-5zM982 917.5h5v5h-5zM1451 746h5v5h-5zM387 749h5v5h-5zM1562 821h5v5h-5zM215 734.5h5v5h-5zM1013 883.5h5v5h-5zM1431 734.5h5v5h-5zM728.5 867.5h5v5h-5zM1305.5 716.5h5v5h-5zM552.5 753h5v5h-5zM995 890.5h5v5h-5zM1079.5 919h5v5h-5zM1259 787.5h5v5h-5zM1351.5 741h5v5h-5zM743 859h5v5h-5zM185.5 753.5h5v5h-5zM311.5 769h5v5h-5zM1411.5 767h5v5h-5zM1085.5 785.5h5v5h-5zM1203.5 750.5h5v5h-5zM347.5 799h5v5h-5zM1113 813.5h5v5h-5zM649 847h5v5h-5zM1378.5 735h5v5h-5zM1391 815.5h5v5h-5zM913.5 808.5h5v5h-5zM880.5 914.5h5v5h-5zM1254 737h5v5h-5zM920.5 960.5h5v5h-5zM1530 782h5v5h-5zM592.5 819.5h5v5h-5zM601.5 850.5h5v5h-5zM452.5 703h5v5h-5zM507.5 792h5v5h-5zM1345 767.5h5v5h-5zM302.5 749.5h5v5h-5zM979 900.5h5v5h-5zM394 791h5v5h-5zM273.5 773h5v5h-5zM335 745.5h5v5h-5zM1056.5 880.5h5v5h-5zM1126.5 880.5h5v5h-5zM1233 726.5h5v5h-5zM1036.5 845h5v5h-5zM1363 710.5h5v5h-5zM466.5 757.5h5v5h-5zM917 855.5h5v5h-5zM208.5 778h5v5h-5zM322 772.5h5v5h-5zM723 829.5h5v5h-5zM921.5 833.5h5v5h-5zM615.5 812.5h5v5h-5zM1067.5 913.5h5v5h-5zM697.5 861.5h5v5h-5zM1424 727.5h5v5h-5zM774 923.5h5v5h-5zM1171 769.5h5v5h-5zM713.5 808h5v5h-5zM436.5 710h5v5h-5zM714.5 861.5h5v5h-5zM861 914h5v5h-5zM1288.5 736h5v5h-5zM425 765h5v5h-5zM663 797.5h5v5h-5zM458 822h5v5h-5zM1022.5 877h5v5h-5zM536.5 798h5v5h-5zM1467 768h5v5h-5zM1263.5 808.5h5v5h-5zM1028.5 809h5v5h-5zM875 941.5h5v5h-5zM1470.5 742h5v5h-5zM922 812h5v5h-5zM1478.5 820h5v5h-5zM838.5 907.5h5v5h-5zM1559 800h5v5h-5zM1402.5 845h5v5h-5zM318 792h5v5h-5zM1279 784h5v5h-5zM1281.5 843.5h5v5h-5zM939 853h5v5h-5zM332 808h5v5h-5zM158.5 786.5h5v5h-5zM833.5 915.5h5v5h-5zM1027 827.5h5v5h-5zM235.5 743.5h5v5h-5zM1033 840.5h5v5h-5zM1095 872.5h5v5h-5zM311 768.5h5v5h-5zM846 865.5h5v5h-5zM887.5 862.5h5v5h-5zM834 816.5h5v5h-5zM1454 756h5v5h-5zM533.5 772.5h5v5h-5zM787.5 847.5h5v5h-5zM1156 859.5h5v5h-5zM812 924h5v5h-5zM1132.5 843.5h5v5h-5zM1259 763h5v5h-5zM978 854.5h5v5h-5zM1280 718.5h5v5h-5zM806.5 875.5h5v5h-5zM317.5 783.5h5v5h-5zM297.5 770.5h5v5h-5zM941 838h5v5h-5zM848.5 842.5h5v5h-5zM571.5 850.5h5v5h-5zM452.5 732.5h5v5h-5zM173.5 772h5v5h-5zM471 756h5v5h-5zM1303.5 754h5v5h-5zM1179.5 762h5v5h-5zM339 813h5v5h-5zM757 851h5v5h-5zM577 838.5h5v5h-5zM537.5 766.5h5v5h-5zM1072.5 868.5h5v5h-5zM517.5 831h5v5h-5zM1327 768.5h5v5h-5zM848 844h5v5h-5zM372.5 739.5h5v5h-5zM1178.5 763.5h5v5h-5zM243.5 735h5v5h-5zM1087 904h5v5h-5zM1445.5 797.5h5v5h-5zM178 833h5v5h-5zM1356.5 777.5h5v5h-5zM1462 809.5h5v5h-5zM1181 766h5v5h-5zM1471 792h5v5h-5zM340 814h5v5h-5zM263 809h5v5h-5zM569 808.5h5v5h-5zM1354.5 763h5v5h-5zM1154 809.5h5v5h-5zM223.5 791h5v5h-5zM717 841h5v5h-5zM950.5 841h5v5h-5zM1502 779h5v5h-5zM329.5 765h5v5h-5zM1329 791h5v5h-5zM1070.5 853.5h5v5h-5zM223.5 724h5v5h-5zM627.5 889.5h5v5h-5zM970.5 886h5v5h-5zM800 895.5h5v5h-5zM448 772.5h5v5h-5zM484 719.5h5v5h-5zM1318.5 760.5h5v5h-5zM889 839h5v5h-5zM285.5 800.5h5v5h-5zM914.5 839h5v5h-5zM831.5 854h5v5h-5zM397.5 777.5h5v5h-5zM190 728.5h5v5h-5zM624 871h5v5h-5zM250 751.5h5v5h-5zM950 914.5h5v5h-5zM1465.5 796.5h5v5h-5zM1194.5 765h5v5h-5zM839.5 874h5v5h-5zM567.5 792.5h5v5h-5zM1558 794h5v5h-5zM808.5 888.5h5v5h-5zM1218 717.5h5v5h-5zM644.5 861h5v5h-5zM1152 798.5h5v5h-5zM1093.5 914h5v5h-5zM196 792h5v5h-5zM226 804.5h5v5h-5zM1260 718.5h5v5h-5zM842.5 907.5h5v5h-5zM1215 762h5v5h-5zM679 851h5v5h-5zM958 895h5v5h-5zM948 942.5h5v5h-5zM1473 783h5v5h-5zM1239 795h5v5h-5zM498.5 727h5v5h-5zM208 756.5h5v5h-5zM1185 783h5v5h-5zM936.5 866.5h5v5h-5zM811 919h5v5h-5zM566 794h5v5h-5zM699 857h5v5h-5zM650.5 847.5h5v5h-5zM1494.5 754h5v5h-5zM1447 743h5v5h-5zM1548 785h5v5h-5zM476 713h5v5h-5zM167 771h5v5h-5zM620 896.5h5v5h-5zM706.5 883h5v5h-5zM1129 772h5v5h-5zM437 751h5v5h-5zM1205 824.5h5v5h-5zM550 774.5h5v5h-5zM849 861.5h5v5h-5zM611.5 893.5h5v5h-5zM309.5 743.5h5v5h-5zM1277 753h5v5h-5zM341 803h5v5h-5zM477.5 784.5h5v5h-5zM1505 740.5h5v5h-5zM1324 757.5h5v5h-5zM1262 786h5v5h-5zM221 736.5h5v5h-5zM321 774.5h5v5h-5zM1173.5 801.5h5v5h-5zM480.5 775.5h5v5h-5zM1479 749.5h5v5h-5zM1374 763.5h5v5h-5zM156.5 767h5v5h-5zM1429.5 750h5v5h-5zM469.5 832h5v5h-5zM554.5 791.5h5v5h-5zM529 764.5h5v5h-5zM1385.5 769h5v5h-5zM796.5 888h5v5h-5zM1537.5 714h5v5h-5zM761 951.5h5v5h-5zM231 780h5v5h-5zM1453 822.5h5v5h-5zM741 872.5h5v5h-5zM549 823h5v5h-5zM741.5 834h5v5h-5zM1092 854.5h5v5h-5zM1146.5 766h5v5h-5zM1343 732h5v5h-5zM1307 769h5v5h-5zM554.5 835.5h5v5h-5zM756.5 884h5v5h-5zM459 756.5h5v5h-5zM1142.5 817h5v5h-5zM737.5 915.5h5v5h-5zM332.5 762h5v5h-5zM758.5 880.5h5v5h-5zM1546.5 743.5h5v5h-5zM172.5 708h5v5h-5zM1057 914h5v5h-5zM1330.5 819h5v5h-5zM321 799.5h5v5h-5zM177.5 770.5h5v5h-5zM917.5 880.5h5v5h-5zM550 771.5h5v5h-5zM283.5 762.5h5v5h-5zM1503.5 782h5v5h-5zM1018 840h5v5h-5zM832 848.5h5v5h-5zM1531.5 706h5v5h-5zM1479.5 802h5v5h-5zM578.5 830h5v5h-5zM789.5 910.5h5v5h-5zM174.5 774h5v5h-5zM419.5 770h5v5h-5zM513 792h5v5h-5zM796.5 852.5h5v5h-5zM349.5 789.5h5v5h-5zM981 863h5v5h-5zM196 766.5h5v5h-5zM653.5 912h5v5h-5zM612 825.5h5v5h-5zM881 915h5v5h-5zM1543 790.5h5v5h-5zM256 759.5h5v5h-5zM1348 685h5v5h-5zM1077 836.5h5v5h-5zM971.5 936.5h5v5h-5zM1331 816h5v5h-5zM1474 740h5v5h-5zM1240 796h5v5h-5zM1293 769.5h5v5h-5zM435 815h5v5h-5zM475 763h5v5h-5zM699 904h5v5h-5zM263 783h5v5h-5zM1019.5 841.5h5v5h-5zM1532.5 798.5h5v5h-5zM377.5 750h5v5h-5zM316 747.5h5v5h-5zM797 871h5v5h-5zM337.5 778h5v5h-5zM260 797h5v5h-5zM213 778.5h5v5h-5zM1479 840.5h5v5h-5zM650.5 856.5h5v5h-5zM298 774.5h5v5h-5zM944.5 856h5v5h-5zM1441.5 752.5h5v5h-5zM211.5 724h5v5h-5zM410 826h5v5h-5zM344 775.5h5v5h-5zM579.5 839.5h5v5h-5zM1165.5 840h5v5h-5zM1225.5 794h5v5h-5zM1381.5 753.5h5v5h-5zM704 813h5v5h-5zM469.5 777h5v5h-5zM824.5 901.5h5v5h-5zM942 840.5h5v5h-5zM1461 774.5h5v5h-5zM623.5 909h5v5h-5zM1467 744.5h5v5h-5zM1389.5 776.5h5v5h-5zM888 927h5v5h-5zM352 776.5h5v5h-5zM837 910.5h5v5h-5zM1193.5 763h5v5h-5zM209.5 729h5v5h-5zM1221.5 772h5v5h-5zM544 778h5v5h-5zM903.5 803.5h5v5h-5zM1545.5 746.5h5v5h-5zM182 794.5h5v5h-5zM1172.5 755h5v5h-5zM800 876h5v5h-5zM569.5 791h5v5h-5zM520 777h5v5h-5zM1232 799h5v5h-5zM1238 760h5v5h-5zM251.5 757.5h5v5h-5zM189 759h5v5h-5zM790 908h5v5h-5zM1231.5 799h5v5h-5zM548.5 826h5v5h-5zM388 852.5h5v5h-5zM415 790.5h5v5h-5zM1421.5 763.5h5v5h-5zM383.5 821.5h5v5h-5zM978 870.5h5v5h-5zM1497.5 753.5h5v5h-5zM617 803.5h5v5h-5zM165 845h5v5h-5zM1335.5 793.5h5v5h-5zM1324.5 738h5v5h-5zM900.5 912h5v5h-5zM1266 811.5h5v5h-5zM725 854h5v5h-5zM467 751.5h5v5h-5zM702.5 900.5h5v5h-5zM664.5 873.5h5v5h-5zM1400 723h5v5h-5zM707 867.5h5v5h-5zM303.5 708h5v5h-5zM1310 760.5h5v5h-5zM929 904.5h5v5h-5zM1340 746.5h5v5h-5zM1263 780.5h5v5h-5zM772.5 923h5v5h-5zM1354 738h5v5h-5zM1391 740.5h5v5h-5zM1079.5 861.5h5v5h-5zM285.5 809h5v5h-5zM558 782h5v5h-5zM703.5 859h5v5h-5zM1227.5 779.5h5v5h-5zM1351 742.5h5v5h-5zM390 774h5v5h-5zM1241.5 759h5v5h-5zM1068.5 881h5v5h-5zM990.5 913.5h5v5h-5zM704.5 952.5h5v5h-5zM1261.5 743h5v5h-5zM611 871.5h5v5h-5zM463.5 700.5h5v5h-5zM1110 867h5v5h-5zM1364.5 764h5v5h-5zM390.5 806.5h5v5h-5zM614 840h5v5h-5zM1524.5 768h5v5h-5zM263.5 795h5v5h-5zM518.5 752h5v5h-5zM1330.5 834h5v5h-5zM1033.5 933.5h5v5h-5zM578 767.5h5v5h-5zM588 855.5h5v5h-5zM737 898.5h5v5h-5zM1159.5 822.5h5v5h-5zM595.5 775h5v5h-5zM611.5 820.5h5v5h-5zM779 857.5h5v5h-5zM1525.5 770h5v5h-5zM1032 912.5h5v5h-5zM587.5 816.5h5v5h-5zM1443 777h5v5h-5zM514 736h5v5h-5zM1423 766h5v5h-5zM419.5 804.5h5v5h-5zM1439 765h5v5h-5zM865 893.5h5v5h-5zM243 817h5v5h-5zM804.5 901.5h5v5h-5zM1302.5 775h5v5h-5zM1100 865.5h5v5h-5zM854 896.5h5v5h-5zM1143.5 830h5v5h-5zM585 821.5h5v5h-5zM640.5 759.5h5v5h-5zM1448.5 738h5v5h-5zM636.5 874.5h5v5h-5zM793.5 880h5v5h-5zM707 855.5h5v5h-5zM547 743.5h5v5h-5zM1079 916h5v5h-5zM1450 722h5v5h-5zM1100.5 877.5h5v5h-5zM1032.5 903h5v5h-5zM652 764h5v5h-5zM1009.5 842.5h5v5h-5zM1422 785.5h5v5h-5zM1403 775h5v5h-5zM565.5 764.5h5v5h-5zM1424.5 777.5h5v5h-5zM191 752.5h5v5h-5zM1434.5 749h5v5h-5zM1270.5 812h5v5h-5zM317 780.5h5v5h-5zM387 735.5h5v5h-5zM266 692h5v5h-5zM784 874h5v5h-5zM1500 641.5h5v5h-5zM1109 843.5h5v5h-5zM1017 880h5v5h-5zM237 716h5v5h-5zM807 886.5h5v5h-5zM959.5 879.5h5v5h-5zM299.5 759.5h5v5h-5zM442.5 809h5v5h-5zM313.5 751h5v5h-5zM1251 785.5h5v5h-5zM1224.5 793.5h5v5h-5zM1515 777h5v5h-5zM1162.5 845h5v5h-5zM187 787.5h5v5h-5zM688 911.5h5v5h-5zM463.5 737.5h5v5h-5zM586.5 841h5v5h-5zM1167 768.5h5v5h-5zM808 897.5h5v5h-5zM1496.5 791.5h5v5h-5zM1499 821.5h5v5h-5zM579.5 801h5v5h-5zM232.5 827h5v5h-5zM770.5 890h5v5h-5zM1495 725.5h5v5h-5zM1156.5 855h5v5h-5zM1252.5 787.5h5v5h-5zM1462 746h5v5h-5zM1041.5 926.5h5v5h-5zM1051.5 826h5v5h-5zM1055 859h5v5h-5zM1033.5 946h5v5h-5zM389 784h5v5h-5zM1290 714.5h5v5h-5zM630 847h5v5h-5zM779 891h5v5h-5zM1452 762.5h5v5h-5zM614.5 850h5v5h-5zM857 866h5v5h-5zM1087 798h5v5h-5zM528.5 721h5v5h-5zM449 711h5v5h-5zM748 866h5v5h-5zM1054.5 903.5h5v5h-5zM1240 794.5h5v5h-5zM1441.5 809h5v5h-5zM412.5 807h5v5h-5zM501.5 747.5h5v5h-5zM390.5 789.5h5v5h-5zM847 881h5v5h-5zM512 717.5h5v5h-5zM294.5 785.5h5v5h-5zM601 894.5h5v5h-5zM1211.5 752h5v5h-5zM708 933h5v5h-5zM1514 687h5v5h-5zM1080.5 840.5h5v5h-5zM1561 728.5h5v5h-5zM1269 783h5v5h-5zM834 849.5h5v5h-5zM883 891h5v5h-5zM1489 737.5h5v5h-5zM777.5 831.5h5v5h-5zM444.5 761h5v5h-5zM918 883.5h5v5h-5zM1394.5 803.5h5v5h-5zM1333 842h5v5h-5zM1546.5 734.5h5v5h-5zM683 833.5h5v5h-5zM638.5 793.5h5v5h-5zM1318 840.5h5v5h-5zM409 762h5v5h-5zM1325 785h5v5h-5zM802 916h5v5h-5zM1001.5 870.5h5v5h-5zM1403.5 809.5h5v5h-5zM1465 739h5v5h-5zM1097.5 834.5h5v5h-5zM1413 778h5v5h-5zM322.5 686.5h5v5h-5zM409.5 772h5v5h-5zM1500.5 802h5v5h-5zM377.5 665.5h5v5h-5zM693.5 854h5v5h-5zM634.5 830h5v5h-5zM1247.5 779h5v5h-5zM1121.5 900h5v5h-5zM1178.5 739h5v5h-5zM831.5 894.5h5v5h-5zM528.5 781h5v5h-5zM1127.5 802h5v5h-5zM558 743.5h5v5h-5zM1218 781h5v5h-5zM952 841.5h5v5h-5zM1173 842.5h5v5h-5zM1478 803.5h5v5h-5zM1483.5 794.5h5v5h-5zM403.5 779.5h5v5h-5zM784.5 909h5v5h-5zM445.5 744.5h5v5h-5zM525.5 756h5v5h-5zM832 830h5v5h-5zM456.5 765.5h5v5h-5zM1479 763.5h5v5h-5zM805.5 889h5v5h-5zM983 887h5v5h-5zM1035 883.5h5v5h-5zM661.5 823.5h5v5h-5zM1239 802h5v5h-5zM232.5 743.5h5v5h-5zM172.5 804h5v5h-5zM455.5 791.5h5v5h-5zM1136 741.5h5v5h-5zM1300 739h5v5h-5zM1464.5 772.5h5v5h-5zM227.5 734.5h5v5h-5zM1441.5 813h5v5h-5zM922.5 892h5v5h-5zM1441 790h5v5h-5zM464.5 742.5h5v5h-5zM1340 758h5v5h-5zM185 746h5v5h-5zM814 894h5v5h-5zM236 736h5v5h-5zM278.5 754h5v5h-5zM1499 705h5v5h-5zM1109 853.5h5v5h-5zM826 864.5h5v5h-5zM1458.5 719h5v5h-5zM930 876h5v5h-5zM1568 726.5h5v5h-5zM675 903h5v5h-5zM656.5 885h5v5h-5zM713 820.5h5v5h-5zM1557 751h5v5h-5zM969.5 860.5h5v5h-5zM192 787h5v5h-5zM1430 737h5v5h-5zM1216 780.5h5v5h-5zM382.5 799.5h5v5h-5zM1297.5 780.5h5v5h-5zM531 775.5h5v5h-5zM966 929h5v5h-5zM1268.5 714.5h5v5h-5zM425 814.5h5v5h-5zM228.5 806h5v5h-5zM351 769.5h5v5h-5zM1155 821h5v5h-5zM278 784.5h5v5h-5zM717.5 807.5h5v5h-5zM1046.5 873.5h5v5h-5zM1519 734.5h5v5h-5zM271.5 714h5v5h-5zM913 927h5v5h-5zM581.5 845.5h5v5h-5zM272 820h5v5h-5zM528.5 697h5v5h-5zM1437.5 727h5v5h-5zM1531.5 713.5h5v5h-5zM649.5 877.5h5v5h-5zM1373 780.5h5v5h-5zM1065.5 865h5v5h-5zM221 765h5v5h-5zM420.5 747.5h5v5h-5zM1119 880h5v5h-5zM1328 737.5h5v5h-5zM590 858.5h5v5h-5zM1535.5 771.5h5v5h-5zM1132.5 819.5h5v5h-5zM821 866h5v5h-5zM595 858h5v5h-5zM470 763h5v5h-5zM682.5 922.5h5v5h-5zM1241.5 723.5h5v5h-5zM975 863.5h5v5h-5zM861 900.5h5v5h-5zM1198 776h5v5h-5zM779 882h5v5h-5zM744.5 864.5h5v5h-5zM1171 868.5h5v5h-5zM1047.5 826.5h5v5h-5zM558 784.5h5v5h-5zM371.5 765h5v5h-5zM1218 721.5h5v5h-5zM460 678.5h5v5h-5zM1423 685h5v5h-5zM424.5 776.5h5v5h-5zM1341.5 778.5h5v5h-5zM916 783.5h5v5h-5zM403.5 765h5v5h-5zM1471 796h5v5h-5zM538 765.5h5v5h-5zM898.5 939.5h5v5h-5zM1445.5 849.5h5v5h-5zM777.5 913.5h5v5h-5zM1492.5 716h5v5h-5zM1003.5 897h5v5h-5zM435 710h5v5h-5zM573 767h5v5h-5zM462.5 738h5v5h-5zM155.5 813.5h5v5h-5zM249.5 781.5h5v5h-5zM1007 869.5h5v5h-5zM476.5 767h5v5h-5zM995 919h5v5h-5zM681 874h5v5h-5zM354.5 793h5v5h-5zM1057 787h5v5h-5zM283.5 731.5h5v5h-5zM808 859.5h5v5h-5zM314 788h5v5h-5zM225.5 796h5v5h-5zM1138.5 817.5h5v5h-5zM845.5 841h5v5h-5zM834 879h5v5h-5zM1431 746h5v5h-5zM1017 834h5v5h-5zM1164 822h5v5h-5zM277.5 769.5h5v5h-5zM1247.5 752h5v5h-5zM1281 808h5v5h-5zM157 749h5v5h-5zM1000.5 854h5v5h-5zM1103 903.5h5v5h-5zM1291 781h5v5h-5zM1557 790h5v5h-5zM333 842h5v5h-5zM242 744.5h5v5h-5zM412.5 744.5h5v5h-5zM1153.5 754h5v5h-5zM1445 777.5h5v5h-5zM616 826h5v5h-5zM1183.5 745h5v5h-5zM246.5 829.5h5v5h-5zM419.5 762.5h5v5h-5zM944.5 907.5h5v5h-5zM1370 783.5h5v5h-5zM1188.5 758h5v5h-5zM483 747.5h5v5h-5zM648 859.5h5v5h-5zM1044 853h5v5h-5zM388.5 784.5h5v5h-5zM1060.5 886.5h5v5h-5zM864 785h5v5h-5zM1306.5 766.5h5v5h-5zM957.5 833.5h5v5h-5zM1054.5 811h5v5h-5zM733.5 852.5h5v5h-5zM769.5 878h5v5h-5zM987.5 816h5v5h-5zM555.5 780.5h5v5h-5zM1428 738h5v5h-5zM1348.5 778h5v5h-5zM833.5 883.5h5v5h-5zM754 865h5v5h-5zM862 874h5v5h-5zM858 888h5v5h-5zM1479 774.5h5v5h-5zM896 885.5h5v5h-5zM834.5 898h5v5h-5zM1175 778h5v5h-5zM207 815h5v5h-5zM716 899h5v5h-5zM400.5 746h5v5h-5zM331 781h5v5h-5zM367 763h5v5h-5zM1289.5 771h5v5h-5zM966 940h5v5h-5zM749 949.5h5v5h-5zM438.5 763h5v5h-5zM675 860.5h5v5h-5zM587.5 847.5h5v5h-5zM199.5 794.5h5v5h-5zM417 774h5v5h-5zM787 844.5h5v5h-5zM699 877h5v5h-5zM1209.5 790h5v5h-5zM1108 859.5h5v5h-5zM902 866h5v5h-5zM1294.5 772.5h5v5h-5zM1502.5 739.5h5v5h-5zM237 755.5h5v5h-5zM177.5 707.5h5v5h-5zM638.5 869.5h5v5h-5zM664.5 908.5h5v5h-5zM1084 783h5v5h-5zM174.5 792.5h5v5h-5zM488 784.5h5v5h-5zM1050 873h5v5h-5zM393 789.5h5v5h-5zM828.5 861.5h5v5h-5zM922 876.5h5v5h-5zM1374.5 714.5h5v5h-5zM227.5 824.5h5v5h-5zM859 883.5h5v5h-5zM1552.5 668.5h5v5h-5zM1423.5 700.5h5v5h-5zM844.5 851.5h5v5h-5zM265.5 755.5h5v5h-5zM811 847.5h5v5h-5zM1279 720.5h5v5h-5zM1531 721h5v5h-5zM394 832.5h5v5h-5zM1274.5 719h5v5h-5zM901.5 937.5h5v5h-5zM1403.5 747.5h5v5h-5zM1317 770.5h5v5h-5zM218 773.5h5v5h-5zM1548.5 792.5h5v5h-5zM289.5 821.5h5v5h-5zM414 779.5h5v5h-5zM553.5 792h5v5h-5zM1207.5 776.5h5v5h-5zM592 852h5v5h-5zM726 842h5v5h-5zM745 886.5h5v5h-5zM429 727.5h5v5h-5zM1447 801h5v5h-5zM928.5 895.5h5v5h-5zM288 742h5v5h-5zM902 881h5v5h-5zM1220.5 714.5h5v5h-5zM356.5 727.5h5v5h-5zM1227.5 744.5h5v5h-5zM1235.5 771.5h5v5h-5zM934 898h5v5h-5zM1419.5 762.5h5v5h-5zM1134.5 828h5v5h-5zM483.5 734h5v5h-5zM836.5 875h5v5h-5zM203.5 725.5h5v5h-5zM1504.5 846h5v5h-5zM540 798h5v5h-5zM369.5 744.5h5v5h-5zM926.5 914.5h5v5h-5zM778.5 888h5v5h-5zM1376 806.5h5v5h-5zM1090.5 845.5h5v5h-5zM557.5 835h5v5h-5zM488.5 858.5h5v5h-5zM753.5 885.5h5v5h-5zM871 881h5v5h-5zM974 911h5v5h-5zM1026.5 828.5h5v5h-5zM675 883h5v5h-5zM239.5 750.5h5v5h-5zM1344.5 751h5v5h-5zM1386 789.5h5v5h-5zM353.5 802h5v5h-5zM535.5 782.5h5v5h-5zM210 749h5v5h-5zM160.5 796.5h5v5h-5zM305.5 796.5h5v5h-5zM1315.5 793h5v5h-5zM1475 823h5v5h-5zM565 793h5v5h-5zM1431 772.5h5v5h-5zM718 884h5v5h-5zM328.5 740h5v5h-5zM1113 844.5h5v5h-5zM487.5 718.5h5v5h-5zM1484.5 728h5v5h-5zM976.5 777h5v5h-5zM1016 872h5v5h-5zM969 909.5h5v5h-5zM855.5 895.5h5v5h-5zM314 722.5h5v5h-5zM406 764.5h5v5h-5zM1528.5 830.5h5v5h-5zM1410 819.5h5v5h-5zM508.5 824h5v5h-5zM641.5 838.5h5v5h-5zM838 867h5v5h-5zM674 806.5h5v5h-5zM1425.5 760h5v5h-5zM1294.5 738h5v5h-5zM645.5 930.5h5v5h-5zM463.5 775h5v5h-5zM955.5 916h5v5h-5zM392.5 705.5h5v5h-5zM748.5 945.5h5v5h-5zM665.5 912h5v5h-5zM1104.5 814h5v5h-5zM610 806.5h5v5h-5zM484.5 803.5h5v5h-5zM738 846.5h5v5h-5zM248.5 744h5v5h-5zM1200 747h5v5h-5zM1399.5 752h5v5h-5zM763 831h5v5h-5zM383 759h5v5h-5zM1236.5 784h5v5h-5zM1297.5 772.5h5v5h-5zM1504 799.5h5v5h-5zM274 783.5h5v5h-5zM1528 869h5v5h-5zM369 763h5v5h-5zM254.5 766h5v5h-5zM1142 864.5h5v5h-5zM867 830.5h5v5h-5zM1223 786.5h5v5h-5zM338 744.5h5v5h-5zM681.5 859.5h5v5h-5zM1558.5 825.5h5v5h-5zM1152.5 826.5h5v5h-5zM216.5 729.5h5v5h-5zM1016.5 881h5v5h-5zM305 755.5h5v5h-5zM1005 850.5h5v5h-5zM878 821h5v5h-5zM1237 734.5h5v5h-5zM638.5 891.5h5v5h-5zM1532 792.5h5v5h-5zM833 865.5h5v5h-5zM353.5 744h5v5h-5zM1244.5 815h5v5h-5zM283 803.5h5v5h-5zM594 822.5h5v5h-5zM759.5 860h5v5h-5zM752 835h5v5h-5zM1114 820.5h5v5h-5zM803 933h5v5h-5zM161 783.5h5v5h-5zM798 883h5v5h-5zM766 820h5v5h-5zM1184.5 831h5v5h-5zM294.5 737.5h5v5h-5zM635.5 874h5v5h-5zM1465 718h5v5h-5zM774 880h5v5h-5zM432.5 787.5h5v5h-5zM459 699h5v5h-5zM1429.5 758.5h5v5h-5zM179 773.5h5v5h-5zM634.5 851.5h5v5h-5zM1190 771.5h5v5h-5zM1392 697.5h5v5h-5zM1130.5 882h5v5h-5zM351 827.5h5v5h-5zM337 807.5h5v5h-5zM1058.5 844h5v5h-5zM1451 805.5h5v5h-5zM348.5 783.5h5v5h-5zM423 766.5h5v5h-5zM826.5 867h5v5h-5zM593.5 848.5h5v5h-5zM416.5 772.5h5v5h-5zM808 872h5v5h-5zM1516 778.5h5v5h-5zM975.5 812.5h5v5h-5zM536 729.5h5v5h-5zM971 900.5h5v5h-5zM968 855h5v5h-5zM601.5 890.5h5v5h-5zM264 766.5h5v5h-5zM391 762.5h5v5h-5zM1331.5 731.5h5v5h-5zM1538.5 777h5v5h-5zM1012 800.5h5v5h-5zM788.5 870.5h5v5h-5zM1490.5 797h5v5h-5zM805.5 917h5v5h-5zM1155 802.5h5v5h-5zM729.5 898.5h5v5h-5zM690 898.5h5v5h-5zM1244.5 785h5v5h-5zM1306 719h5v5h-5zM331 766h5v5h-5zM245 782.5h5v5h-5zM487 725.5h5v5h-5zM1468 794.5h5v5h-5zM678.5 812.5h5v5h-5zM1400.5 804h5v5h-5zM548.5 777.5h5v5h-5zM1441 782h5v5h-5zM862 900h5v5h-5zM578.5 783h5v5h-5zM809.5 772.5h5v5h-5zM1539.5 782h5v5h-5zM1134 825h5v5h-5zM1277 768h5v5h-5zM321.5 763.5h5v5h-5zM281 789.5h5v5h-5zM632 889h5v5h-5zM997.5 884h5v5h-5zM1313.5 744h5v5h-5zM1270 790.5h5v5h-5zM770 875h5v5h-5zM205.5 765.5h5v5h-5zM1250.5 724.5h5v5h-5zM781.5 821.5h5v5h-5zM1364.5 764.5h5v5h-5zM1217 814h5v5h-5zM1268 789.5h5v5h-5zM1481 753h5v5h-5zM889 877h5v5h-5zM787.5 854h5v5h-5zM830.5 910.5h5v5h-5zM1272.5 773h5v5h-5zM384.5 795h5v5h-5zM1050.5 878h5v5h-5zM1253.5 794h5v5h-5zM384.5 801h5v5h-5zM300.5 751h5v5h-5zM1348 696h5v5h-5zM1466.5 734.5h5v5h-5zM208 702.5h5v5h-5zM651.5 907h5v5h-5zM225 738.5h5v5h-5zM856 874.5h5v5h-5zM1498.5 726.5h5v5h-5zM667 859.5h5v5h-5zM836.5 919.5h5v5h-5zM481.5 813.5h5v5h-5zM236.5 703h5v5h-5zM1138.5 857h5v5h-5zM1141 772h5v5h-5zM296.5 809.5h5v5h-5zM1134 801.5h5v5h-5zM1439.5 788.5h5v5h-5zM973 840.5h5v5h-5zM1056.5 769h5v5h-5zM559.5 767h5v5h-5zM1299 817.5h5v5h-5zM1365 765.5h5v5h-5zM746.5 838h5v5h-5zM1451 811.5h5v5h-5zM1124 827.5h5v5h-5zM243 711.5h5v5h-5zM1493.5 777h5v5h-5zM858 844.5h5v5h-5zM1211.5 751h5v5h-5zM1348 734h5v5h-5zM351.5 781.5h5v5h-5zM1317 742h5v5h-5zM1340 742h5v5h-5zM1131.5 796h5v5h-5zM867 908h5v5h-5zM1513 725.5h5v5h-5zM894 868.5h5v5h-5zM400.5 755h5v5h-5zM783 939.5h5v5h-5zM317 752.5h5v5h-5zM206 725.5h5v5h-5zM1166.5 778.5h5v5h-5zM365 731.5h5v5h-5zM811.5 825h5v5h-5zM619 839h5v5h-5zM1325.5 771.5h5v5h-5zM1306 751.5h5v5h-5zM1321.5 748.5h5v5h-5zM172.5 732h5v5h-5zM433 759.5h5v5h-5zM647 899.5h5v5h-5zM902 859h5v5h-5zM299 797h5v5h-5zM200.5 803h5v5h-5zM1163.5 829h5v5h-5zM1237.5 752.5h5v5h-5zM999.5 837h5v5h-5zM902 961.5h5v5h-5zM277.5 735h5v5h-5zM245 772h5v5h-5zM644 833.5h5v5h-5zM1526 743.5h5v5h-5zM1516.5 785h5v5h-5zM1414.5 718h5v5h-5zM688 836.5h5v5h-5zM367.5 768.5h5v5h-5zM891.5 836h5v5h-5zM164.5 801.5h5v5h-5zM957 859h5v5h-5zM497.5 767h5v5h-5zM301.5 808h5v5h-5zM495.5 736.5h5v5h-5zM164.5 666.5h5v5h-5zM240.5 772h5v5h-5zM194.5 775h5v5h-5zM1472 766.5h5v5h-5zM1018 880.5h5v5h-5zM828.5 917h5v5h-5zM1276.5 778.5h5v5h-5zM1109 882.5h5v5h-5zM1135.5 792h5v5h-5zM422 834h5v5h-5zM488 735.5h5v5h-5zM208.5 765.5h5v5h-5zM1298.5 755h5v5h-5zM1482 814h5v5h-5zM686.5 872h5v5h-5zM743.5 865h5v5h-5zM832 873h5v5h-5zM378 746h5v5h-5zM1468 694h5v5h-5zM1484.5 801.5h5v5h-5zM409.5 735h5v5h-5zM288.5 714.5h5v5h-5zM251.5 787.5h5v5h-5zM1339.5 753h5v5h-5zM1413 760h5v5h-5zM1324 798h5v5h-5zM269 799h5v5h-5zM1526 788h5v5h-5zM1092.5 857.5h5v5h-5zM1320.5 767.5h5v5h-5zM1229.5 825.5h5v5h-5zM422.5 666.5h5v5h-5zM1560.5 784h5v5h-5zM828.5 899h5v5h-5zM255 751.5h5v5h-5zM787.5 881h5v5h-5zM1190 748.5h5v5h-5zM254 821h5v5h-5zM228 723h5v5h-5zM209 760.5h5v5h-5zM1250.5 756h5v5h-5zM1004 783.5h5v5h-5zM565 783.5h5v5h-5zM762 905h5v5h-5zM812 902h5v5h-5zM1084 897.5h5v5h-5zM165 756.5h5v5h-5zM731 824h5v5h-5zM1241.5 778h5v5h-5zM1450.5 835.5h5v5h-5zM1416.5 742.5h5v5h-5zM1340 739.5h5v5h-5zM1354 748h5v5h-5zM635.5 840h5v5h-5zM244 800.5h5v5h-5zM336 826.5h5v5h-5zM1015 879h5v5h-5zM1509.5 749h5v5h-5zM762.5 888h5v5h-5zM561 843h5v5h-5zM831.5 847.5h5v5h-5zM863 836h5v5h-5zM315 772.5h5v5h-5zM547.5 781.5h5v5h-5zM1504 776.5h5v5h-5zM811 851.5h5v5h-5zM657 815h5v5h-5zM1197 697h5v5h-5zM668 861h5v5h-5zM1304 766h5v5h-5zM577.5 772.5h5v5h-5zM1307 804h5v5h-5zM1117 915h5v5h-5zM591 865.5h5v5h-5zM713 831.5h5v5h-5zM1336 745.5h5v5h-5zM1535 752h5v5h-5zM1202.5 798h5v5h-5zM1212.5 710h5v5h-5zM535 766h5v5h-5zM1442 768.5h5v5h-5zM453.5 800.5h5v5h-5zM1243 744h5v5h-5zM854.5 887.5h5v5h-5zM560.5 794.5h5v5h-5zM728.5 840h5v5h-5zM248 776h5v5h-5zM452 800.5h5v5h-5zM670.5 854.5h5v5h-5zM900 828h5v5h-5zM304.5 736h5v5h-5zM472.5 799.5h5v5h-5zM565.5 809.5h5v5h-5zM889.5 909h5v5h-5zM234.5 715.5h5v5h-5zM220.5 786.5h5v5h-5zM744 815.5h5v5h-5zM1253 784.5h5v5h-5zM751 888h5v5h-5zM1326.5 780h5v5h-5zM1298 760.5h5v5h-5zM250 808h5v5h-5zM1542.5 767.5h5v5h-5zM1233 733h5v5h-5zM173 763h5v5h-5zM1261.5 763h5v5h-5zM1568.5 751h5v5h-5zM663.5 849h5v5h-5zM474.5 786h5v5h-5zM212 763h5v5h-5zM196 810h5v5h-5zM282.5 775.5h5v5h-5zM850.5 909.5h5v5h-5zM926.5 866.5h5v5h-5zM315 735h5v5h-5zM753.5 865.5h5v5h-5zM1302 729.5h5v5h-5zM348.5 753.5h5v5h-5zM174 755.5h5v5h-5z"/></g>
</g>
<g fill="none" stroke="#ff0000" stroke-width="5.4" stroke-linejoin="round">
<path clip-path="url(#c1)" d="M154.8 97.8L155.8 97.8L156.8 97.8L157.8 97.8L158.8 97.8L159.8 97.8L160.8 97.8L161.8 97.8L162.8 97.8L163.8 97.8L164.8 97.8L165.8 97.8L166.8 97.8L167.8 97.8L168.8 97.8L169.8 97.8L170.8 97.8L171.8 97.8L172.8 97.8L173.8 97.8L174.8 97.8L175.8 97.8L176.8 97.8L177.8 97.8L178.8 97.8L179.8 97.8L180.8 97.8L181.8 97.8L182.8 97.8L183.8 97.8L184.8 97.8L185.8 97.8L186.8 97.8L187.8 97.8L188.8 97.8L189.8 97.8L190.8 97.8L191.8 97.8L192.8 97.8L193.8 97.8L194.8 97.8L195.8 97.8L196.8 97.8L197.8 97.8L198.8 97.8L199.8 97.8L200.8 97.8L201.8 97.8L202.8 97.8L203.8 97.8L204.8 97.8L205.8 97.8L206.8 97.8L207.8 97.8L208.8 97.8L209.8 97.8L210.8 97.8L211.8 97.8L212.8 97.8L213.8 97.8L214.8 97.8L215.8 97.8L216.8 97.8L217.8 97.8L218.8 97.8L219.8 97.8L220.8 97.8L221.8 97.8L222.8 97.8L223.8 97.8L224.8 97.8L225.8 97.8L226.8 97.8L227.8 97.8L228.8 97.8L229.8 97.8L230.8 97.8L231.8 97.8L232.8 97.8L233.8 97.8L234.8 97.8L235.8 97.8L236.8 97.8L237.8 97.8L238.8 97.8L239.8 97.8L240.8 97.8L241.8 97.8L242.8 97.8L243.8 97.8L244.8 97.8L245.8 97.8L246.8 97.8L247.8 97.8L248.8 97.8L249.8 97.8L250.8 97.8L251.8 97.8L252.8 97.8L253.8 97.8L254.8 97.8L255.8 97.8L256.8 97.8L257.8 97.8L258.8 97.8L259.8 97.8L260.8 97.8L261.8 97.8L262.8 97.8L263.8 97.8L264.8 97.8L265.8 97.8L266.8 97.8L267.8 97.8L268.8 97.8L269.8 97.8L270.8 97.8L271.8 97.8L272.8 97.8L273.8 97.8L274.8 97.8L275.8 97.8L276.8 97.8L277.8 97.8L278.8 97.8L279.8 97.8L280.8 97.8L281.8 97.8L282.8 97.8L283.8 97.8L284.8 97.8L285.8 97.8L286.8 97.8L287.8 97.8L288.8 97.8L289.8 97.8L290.8 97.8L291.8 97.8L292.8 97.8L293.8 97.8L294.8 97.8L295.8 97.8L296.8 97.8L297.8 97.8L298.8 97.8L299.8 97.8L300.8 97.8L301.8 97.8L302.8 97.8L303.8 97.8L304.8 97.8L305.8 97.8L306.8 97.8L307.8 97.8L308.8 97.8L309.8 97.8L310.8 97.8L311.8 97.8L312.8 97.8L313.8 97.8L314.8 97.8L315.8 97.8L316.8 97.8L317.8 97.8L318.8 97.8L319.8 97.8L320.8 97.8L321.8 97.8L322.8 97.8L323.8 97.8L324.8 97.8L325.8 97.8L326.8 97.8L327.8 97.8L328.8 97.8L329.8 97.8L330.8 97.8L331.8 97.8L332.8 97.8L333.8 97.8L334.8 97.8L335.8 97.8L336.8 97.8L337.8 97.8L338.8 97.8L339.8 97.8L340.8 97.8L341.8 97.8L342.8 97.8L343.8 97.8L344.8 97.8L345.8 97.8L346.8 97.8L347.8 97.8L348.8 97.8L349.8 97.8L350.8 97.8L351.8 97.8L352.8 97.8L353.8 97.8L354.8 97.8L355.8 97.8L356.8 97.8L357.8 97.8L358.8 97.8L359.8 97.8L360.8 97.8L361.8 97.8L362.8 97.8L363.8 97.8L364.8 97.8L365.8 97.8L366.8 97.8L367.8 97.8L368.8 97.8L369.8 97.8L370.8 97.8L371.8 97.8L372.8 97.8L373.8 97.8L374.8 97.8L375.8 97.8L376.8 97.8L377.8 97.8L378.8 97.8L379.8 97.8L380.8 97.8L381.8 97.8L382.8 97.8L383.8 97.8L384.8 97.8L385.8 97.8L386.8 97.8L387.8 97.8L388.8 97.8L389.8 97.8L390.8 97.8L391.8 97.8L392.8 97.8L393.8 97.8L394.8 97.8L395.8 97.8L396.8 97.8L397.8 97.8L398.8 97.8L399.8 97.8L400.8 97.8L401.8 97.8L402.8 97.8L403.8 97.8L404.8 97.8L405.8 97.8L406.8 97.8L407.8 97.8L408.8 97.8L409.8 97.8L410.8 97.8L411.8 97.8L412.8 97.8L413.8 97.8L414.8 97.8L415.8 97.8L416.8 97.8L417.8 97.8L418.8 97.8L419.8 97.8L420.8 97.8L421.8 97.8L422.8 97.8L423.8 97.8L424.8 97.8L425.8 97.8L426.8 97.8L427.8 97.8L428.8 97.8L429.8 97.8L430.8 97.8L431.8 97.8L432.8 97.8L433.8 97.8L434.8 97.8L435.8 97.8L436.8 97.8L437.8 97.8L438.8 97.8L439.8 97.8L440.8 97.8L441.8 97.8L442.8 97.8L443.8 97.8L444.8 97.8L445.8 97.8L446.8 97.8L447.8 97.8L448.8 97.8L449.8 97.8L450.8 97.8L451.8 97.8L452.8 97.8L453.8 97.8L454.8 97.8L455.8 97.8L456.8 97.8L457.8 97.8L458.8 97.8L459.8 97.8L460.8 97.8L461.8 97.8L462.8 97.8L463.8 97.8L464.8 97.8L465.8 97.8L466.8 97.8L467.8 97.8L468.8 97.8L469.8 97.8L470.8 97.8L471.8 97.8L472.8 97.8L473.8 97.8L474.8 97.8L475.8 97.8L476.8 97.8L477.8 97.8L478.8 97.8L479.8 97.8L480.8 97.8L481.8 97.8L482.8 97.8L483.8 97.8L484.8 97.8L485.8 97.8L486.8 97.8L487.8 97.8L488.8 97.8L489.8 97.8L490.8 97.8L491.8 97.8L492.8 97.8L493.8 97.8L494.8 97.8L495.8 97.8L496.8 97.8L497.8 97.8L498.8 97.8L499.8 97.8L500.8 97.8L501.8 97.8L502.8 97.8L503.8 97.8L504.8 97.8L505.8 97.8L506.8 97.8L507.8 97.8L508.8 97.8L509.8 97.8L510.8 97.8L511.8 97.8L512.8 97.8L513.8 97.8L514.8 97.8L515.8 97.8L516.8 97.8L517.8 97.8L518.8 97.8L519.8 97.8L520.8 97.8L521.8 97.8L522.8 97.8L523.8 97.8L524.8 97.8L525.8 97.8L526.8 97.8L527.8 97.8L528.8 97.8L529.8 97.8L530.8 97.8L531.8 97.8L532.8 97.8L533.8 97.8L534.8 97.8L535.8 97.8L536.8 97.8L537.8 97.8L538.8 97.8L539.8 97.8L540.8 97.8L541.8 97.8L542.8 97.8L543.8 97.8L544.8 97.8L545.8 97.8L546.8 97.8L547.8 97.8L548.8 97.8L549.8 97.8L550.8 97.8L551.8 97.8L552.8 97.8L553.8 97.8L554.8 97.8L555.8 97.8L556.8 97.8L557.8 97.8L558.8 97.8L559.8 97.8L560.8 97.8L561.8 97.8L562.8 97.8L563.8 97.8L564.8 97.8L565.8 97.8L566.8 97.8L567.8 97.8L568.8 97.8L569.8 97.8L570.8 97.8L571.8 97.8L572.8 97.8L573.8 97.8L574.8 97.8L575.8 97.8L576.8 97.8L577.8 97.8L578.8 97.8L579.8 97.8L580.8 97.8L581.8 97.8L582.8 97.8L583.8 97.8L584.8 97.8L585.8 97.8L586.8 97.8L587.8 97.8L588.8 97.8L589.8 97.8L590.8 97.8L591.8 97.8L592.8 97.8L593.8 97.8L594.8 97.8L595.8 97.8L596.8 97.8L597.8 97.8L598.8 97.8L599.8 97.8L600.8 97.8L601.8 97.8L602.8 97.8L603.8 97.8L604.8 97.8L605.8 97.8L606.8 97.8L607.8 97.8L608.8 97.8L609.8 97.8L610.8 97.8L611.8 97.8L612.8 97.8L613.8 97.8L614.8 97.8L615.8 97.8L616.8 97.8L617.8 97.8L618.8 97.8L619.8 97.8L620.8 97.8L621.8 97.8L622.8 97.8L623.8 97.8L624.8 97.8L625.8 97.8L626.8 97.8L627.8 97.8L628.8 97.8L629.8 97.8L630.8 97.8L631.8 97.8L632.8 97.8L633.8 97.8L634.8 97.8L635.8 97.8L636.8 97.8L637.8 97.8L638.8 97.8L639.8 97.8L640.8 97.8L641.8 97.8L642.8 97.8L643.8 97.8L644.8 97.8L645.8 97.8L646.8 97.8L647.8 97.8L648.8 97.8L649.8 97.8L650.8 97.8L651.8 97.8L652.8 97.8L653.8 97.8L654.8 97.8L655.8 97.8L656.8 97.8L657.8 97.8L658.8 97.8L659.8 97.8L660.8 97.8L661.8 97.8L662.8 97.8L663.8 97.8L664.8 97.8L665.8 97.8L666.8 97.8L667.8 97.8L668.8 97.8L669.8 97.8L670.8 97.8L671.8 97.8L672.8 97.8L673.8 97.8L674.8 97.8L675.8 97.8L676.8 97.8L677.8 97.8L678.8 97.8L679.8 97.8L680.8 97.8L681.8 97.8L682.8 97.8L683.8 97.8L684.8 97.8L685.8 97.8L686.8 97.8L687.8 97.8L688.8 97.8L689.8 97.8L690.8 97.8L691.8 97.8L692.8 97.8L693.8 97.8L694.8 97.8L695.8 97.8L696.8 97.8L697.8 97.8L698.8 97.8L699.8 97.8L700.8 97.8L701.8 97.8L702.8 97.8L703.8 97.8L704.8 97.8L705.8 97.8L706.8 97.8L707.8 97.8L708.8 97.8L709.8 97.8L710.8 97.8L711.8 97.8L712.8 97.8L713.8 97.8L714.8 97.8L715.8 97.8L716.8 97.8L717.8 97.8L718.8 97.8L719.8 97.8L720.8 97.8L721.8 97.8L722.8 97.8L723.8 97.8L724.8 97.8L725.8 97.8L726.8 97.8L727.8 97.8L728.0 97.8L728.1 97.8L728.2 97.8L728.3 97.8L728.4 97.8L728.5 97.8L728.6 97.8L728.7 97.8L728.8 97.8L728.8 97.8L728.9 97.8L729.0 97.8L729.1 97.8L729.2 97.8L729.3 97.8L729.4 97.8L729.5 97.8L729.6 97.8L729.7 97.8L729.8 97.8L729.8 97.8L729.9 97.8L730.0 97.8L730.1 98.0L730.2 98.5L730.3 99.2L730.4 100.0L730.5 101.0L730.6 102.0L730.7 103.2L730.8 104.5L730.8 104.5L730.9 105.8L731.0 107.1L731.1 108.4L731.2 109.5L731.3 111.1L731.4 112.7L731.5 114.3L731.6 116.0L731.7 117.7L731.8 119.5L731.8 119.5L731.9 121.2L732.0 123.0L732.1 124.7L732.2 126.4L732.3 128.0L732.4 129.6L732.5 131.5L732.6 133.3L732.7 135.2L732.8 137.0L732.8 137.0L732.9 138.8L733.0 140.6L733.1 142.4L733.2 144.1L733.3 145.8L733.4 147.3L733.5 148.6L733.6 150.1L733.7 151.6L733.8 153.0L733.8 153.0L733.9 154.3L734.0 155.5L734.1 156.5L734.2 157.1L734.3 157.6L734.4 158.0L734.5 158.4L734.6 158.8L734.7 159.2L734.8 159.6L734.8 159.6L734.9 160.0L735.0 160.3L735.1 160.7L735.2 161.0L735.3 161.4L735.4 161.7L735.5 162.0L735.6 162.3L735.7 162.6L735.8 162.9L735.8 162.9L735.9 163.2L736.8 165.7L737.8 168.1L738.8 170.2L739.8 172.2L740.8 174.0L741.8 175.6L742.8 177.2L743.8 178.7L744.8 180.0L745.8 181.3L746.8 182.6L747.8 183.7L748.8 184.9L749.8 185.9L750.8 187.0L751.8 187.9L752.8 188.9L753.8 189.8L754.8 190.7L755.8 191.5L756.8 192.3L757.8 193.1L758.8 193.9L759.8 194.6L760.8 195.4L761.8 196.1L762.8 196.7L763.8 197.4L764.8 198.0L765.8 198.6L766.8 199.2L767.8 199.8L768.8 200.4L769.8 201.0L770.8 201.5L771.8 202.0L772.8 202.5L773.8 203.0L774.8 203.5L775.8 204.0L776.8 204.5L777.8 204.9L778.8 205.3L779.8 205.8L780.8 206.2L781.8 206.6L782.8 207.0L783.8 207.4L784.8 207.8L785.8 208.1L786.8 208.5L787.8 208.9L788.8 209.2L789.8 209.5L790.8 209.9L791.8 210.2L792.8 210.5L793.8 210.8L794.8 211.1L795.8 211.4L796.8 211.7L797.8 212.0L798.8 212.3L799.8 212.5L800.8 212.8L801.8 213.0L802.8 213.3L803.8 213.5L804.8 213.8L805.8 214.0L806.8 214.2L807.8 214.4L808.8 214.7L809.8 214.9L810.8 215.1L811.8 215.3L812.8 215.5L813.8 215.7L814.8 215.8L815.8 216.0L816.8 216.2L817.8 216.4L818.8 216.5L819.8 216.7L820.8 216.9L821.8 217.0L822.8 217.2L823.8 217.3L824.8 217.4L825.8 217.6L826.8 217.7L827.8 217.8L828.8 218.0L829.8 218.1L830.8 218.2L831.8 218.3L832.8 218.4L833.8 218.5L834.8 218.6L835.8 218.7L836.8 218.8L837.8 218.9L838.8 219.0L839.8 219.1L840.8 219.2L841.8 219.2L842.8 219.3L843.8 219.4L844.8 219.4L845.8 219.5L846.8 219.5L847.8 219.6L848.8 219.6L849.8 219.7L850.8 219.7L851.8 219.8L852.8 219.8L853.8 219.9L854.8 219.9L855.8 219.9L856.8 219.9L857.8 219.9L858.8 220.0L859.8 220.0L860.8 220.0L861.8 220.0L862.8 220.0L863.8 220.0L864.8 220.0L865.8 220.0L866.8 220.0L867.8 220.0L868.8 219.9L869.8 219.9L870.8 219.9L871.8 219.9L872.8 219.9L873.8 219.8L874.8 219.8L875.8 219.7L876.8 219.7L877.8 219.6L878.8 219.6L879.8 219.5L880.8 219.5L881.8 219.4L882.8 219.4L883.8 219.3L884.8 219.2L885.8 219.2L886.8 219.1L887.8 219.0L888.8 218.9L889.8 218.8L890.8 218.7L891.8 218.6L892.8 218.5L893.8 218.4L894.8 218.3L895.8 218.2L896.8 218.1L897.8 218.0L898.8 217.8L899.8 217.7L900.8 217.6L901.8 217.4L902.8 217.3L903.8 217.2L904.8 217.0L905.8 216.9L906.8 216.7L907.8 216.5L908.8 216.4L909.8 216.2L910.8 216.0L911.8 215.8L912.8 215.7L913.8 215.5L914.8 215.3L915.8 215.1L916.8 214.9L917.8 214.7L918.8 214.4L919.8 214.2L920.8 214.0L921.8 213.8L922.8 213.5L923.8 213.3L924.8 213.0L925.8 212.8L926.8 212.5L927.8 212.3L928.8 212.0L929.8 211.7L930.8 211.4L931.8 211.1L932.8 210.8L933.8 210.5L934.8 210.2L935.8 209.9L936.8 209.5L937.8 209.2L938.8 208.9L939.8 208.5L940.8 208.1L941.8 207.8L942.8 207.4L943.8 207.0L944.8 206.6L945.8 206.2L946.8 205.8L947.8 205.3L948.8 204.9L949.8 204.5L950.8 204.0L951.8 203.5L952.8 203.0L953.8 202.5L954.8 202.0L955.8 201.5L956.8 201.0L957.8 200.4L958.8 199.8L959.8 199.2L960.8 198.6L961.8 198.0L962.8 197.4L963.8 196.7L964.8 196.1L965.8 195.4L966.8 194.6L967.8 193.9L968.8 193.1L969.8 192.3L970.8 191.5L971.8 190.7L972.8 189.8L973.8 188.9L974.8 187.9L975.8 187.0L976.8 185.9L977.8 184.9L978.8 183.7L979.8 182.6L980.8 181.3L981.8 180.0L982.8 178.7L983.8 177.2L984.8 175.6L985.8 174.0L986.8 172.2L987.8 170.2L988.8 168.1L989.8 165.7L990.8 162.9L991.0 162.3L991.1 162.0L991.2 161.7L991.3 161.4L991.4 161.0L991.5 160.7L991.6 160.3L991.7 160.0L991.8 159.6L991.8 159.6L991.9 159.2L992.0 158.8L992.1 158.4L992.2 158.0L992.3 157.6L992.4 157.1L992.5 156.5L992.6 155.5L992.7 154.3L992.8 153.0L992.8 153.0L992.9 151.6L993.0 150.1L993.1 148.6L993.2 147.3L993.3 145.8L993.4 144.1L993.5 142.4L993.6 140.6L993.7 138.8L993.8 137.0L993.8 137.0L993.9 135.2L994.0 133.3L994.1 131.5L994.2 129.6L994.3 128.0L994.4 126.4L994.5 124.7L994.6 123.0L994.7 121.2L994.8 119.5L994.8 119.5L994.9 117.7L995.0 116.0L995.1 114.3L995.2 112.7L995.3 111.1L995.4 109.5L995.5 108.4L995.6 107.1L995.7 105.8L995.8 104.5L995.8 104.5L995.9 103.2L996.0 102.0L996.1 101.0L996.2 100.0L996.3 99.2L996.4 98.5L996.5 98.0L996.6 97.8L996.7 97.8L996.8 97.8L996.8 97.8L996.9 97.8L997.0 97.8L997.1 97.8L997.2 97.8L997.3 97.8L997.4 97.8L997.5 97.8L997.6 97.8L997.7 97.8L997.8 97.8L997.8 97.8L997.9 97.8L998.0 97.8L998.1 97.8L998.2 97.8L998.3 97.8L998.4 97.8L998.5 97.8L998.6 97.8L998.7 97.8L998.8 97.8L998.8 97.8L998.9 97.8L999.8 97.8L1000.8 97.8L1001.8 97.8L1002.8 97.8L1003.8 97.8L1004.8 97.8L1005.8 97.8L1006.8 97.8L1007.8 97.8L1008.8 97.8L1009.8 97.8L1010.8 97.8L1011.8 97.8L1012.8 97.8L1013.8 97.8L1014.8 97.8L1015.8 97.8L1016.8 97.8L1017.8 97.8L1018.8 97.8L1019.8 97.8L1020.8 97.8L1021.8 97.8L1022.8 97.8L1023.8 97.8L1024.8 97.8L1025.8 97.8L1026.8 97.8L1027.8 97.8L1028.8 97.8L1029.8 97.8L1030.8 97.8L1031.8 97.8L1032.8 97.8L1033.8 97.8L1034.8 97.8L1035.8 97.8L1036.8 97.8L1037.8 97.8L1038.8 97.8L1039.8 97.8L1040.8 97.8L1041.8 97.8L1042.8 97.8L1043.8 97.8L1044.8 97.8L1045.8 97.8L1046.8 97.8L1047.8 97.8L1048.8 97.8L1049.8 97.8L1050.8 97.8L1051.8 97.8L1052.8 97.8L1053.8 97.8L1054.8 97.8L1055.8 97.8L1056.8 97.8L1057.8 97.8L1058.8 97.8L1059.8 97.8L1060.8 97.8L1061.8 97.8L1062.8 97.8L1063.8 97.8L1064.8 97.8L1065.8 97.8L1066.8 97.8L1067.8 97.8L1068.8 97.8L1069.8 97.8L1070.8 97.8L1071.8 97.8L1072.8 97.8L1073.8 97.8L1074.8 97.8L1075.8 97.8L1076.8 97.8L1077.8 97.8L1078.8 97.8L1079.8 97.8L1080.8 97.8L1081.8 97.8L1082.8 97.8L1083.8 97.8L1084.8 97.8L1085.8 97.8L1086.8 97.8L1087.8 97.8L1088.8 97.8L1089.8 97.8L1090.8 97.8L1091.8 97.8L1092.8 97.8L1093.8 97.8L1094.8 97.8L1095.8 97.8L1096.8 97.8L1097.8 97.8L1098.8 97.8L1099.8 97.8L1100.8 97.8L1101.8 97.8L1102.8 97.8L1103.8 97.8L1104.8 97.8L1105.8 97.8L1106.8 97.8L1107.8 97.8L1108.8 97.8L1109.8 97.8L1110.8 97.8L1111.8 97.8L1112.8 97.8L1113.8 97.8L1114.8 97.8L1115.8 97.8L1116.8 97.8L1117.8 97.8L1118.8 97.8L1119.8 97.8L1120.8 97.8L1121.8 97.8L1122.8 97.8L1123.8 97.8L1124.8 97.8L1125.8 97.8L1126.8 97.8L1127.8 97.8L1128.8 97.8L1129.8 97.8L1130.8 97.8L1131.8 97.8L1132.8 97.8L1133.8 97.8L1134.8 97.8L1135.8 97.8L1136.8 97.8L1137.8 97.8L1138.8 97.8L1139.8 97.8L1140.8 97.8L1141.8 97.8L1142.8 97.8L1143.8 97.8L1144.8 97.8L1145.8 97.8L1146.8 97.8L1147.8 97.8L1148.8 97.8L1149.8 97.8L1150.8 97.8L1151.8 97.8L1152.8 97.8L1153.8 97.8L1154.8 97.8L1155.8 97.8L1156.8 97.8L1157.8 97.8L1158.8 97.8L1159.8 97.8L1160.8 97.8L1161.8 97.8L1162.8 97.8L1163.8 97.8L1164.8 97.8L1165.8 97.8L1166.8 97.8L1167.8 97.8L1168.8 97.8L1169.8 97.8L1170.8 97.8L1171.8 97.8L1172.8 97.8L1173.8 97.8L1174.8 97.8L1175.8 97.8L1176.8 97.8L1177.8 97.8L1178.8 97.8L1179.8 97.8L1180.8 97.8L1181.8 97.8L1182.8 97.8L1183.8 97.8L1184.8 97.8L1185.8 97.8L1186.8 97.8L1187.8 97.8L1188.8 97.8L1189.8 97.8L1190.8 97.8L1191.8 97.8L1192.8 97.8L1193.8 97.8L1194.8 97.8L1195.8 97.8L1196.8 97.8L1197.8 97.8L1198.8 97.8L1199.8 97.8L1200.8 97.8L1201.8 97.8L1202.8 97.8L1203.8 97.8L1204.8 97.8L1205.8 97.8L1206.8 97.8L1207.8 97.8L1208.8 97.8L1209.8 97.8L1210.8 97.8L1211.8 97.8L1212.8 97.8L1213.8 97.8L1214.8 97.8L1215.8 97.8L1216.8 97.8L1217.8 97.8L1218.8 97.8L1219.8 97.8L1220.8 97.8L1221.8 97.8L1222.8 97.8L1223.8 97.8L1224.8 97.8L1225.8 97.8L1226.8 97.8L1227.8 97.8L1228.8 97.8L1229.8 97.8L1230.8 97.8L1231.8 97.8L1232.8 97.8L1233.8 97.8L1234.8 97.8L1235.8 97.8L1236.8 97.8L1237.8 97.8L1238.8 97.8L1239.8 97.8L1240.8 97.8L1241.8 97.8L1242.8 97.8L1243.8 97.8L1244.8 97.8L1245.8 97.8L1246.8 97.8L1247.8 97.8L1248.8 97.8L1249.8 97.8L1250.8 97.8L1251.8 97.8L1252.8 97.8L1253.8 97.8L1254.8 97.8L1255.8 97.8L1256.8 97.8L1257.8 97.8L1258.8 97.8L1259.8 97.8L1260.8 97.8L1261.8 97.8L1262.8 97.8L1263.8 97.8L1264.8 97.8L1265.8 97.8L1266.8 97.8L1267.8 97.8L1268.8 97.8L1269.8 97.8L1270.8 97.8L1271.8 97.8L1272.8 97.8L1273.8 97.8L1274.8 97.8L1275.8 97.8L1276.8 97.8L1277.8 97.8L1278.8 97.8L1279.8 97.8L1280.8 97.8L1281.8 97.8L1282.8 97.8L1283.8 97.8L1284.8 97.8L1285.8 97.8L1286.8 97.8L1287.8 97.8L1288.8 97.8L1289.8 97.8L1290.8 97.8L1291.8 97.8L1292.8 97.8L1293.8 97.8L1294.8 97.8L1295.8 97.8L1296.8 97.8L1297.8 97.8L1298.8 97.8L1299.8 97.8L1300.8 97.8L1301.8 97.8L1302.8 97.8L1303.8 97.8L1304.8 97.8L1305.8 97.8L1306.8 97.8L1307.8 97.8L1308.8 97.8L1309.8 97.8L1310.8 97.8L1311.8 97.8L1312.8 97.8L1313.8 97.8L1314.8 97.8L1315.8 97.8L1316.8 97.8L1317.8 97.8L1318.8 97.8L1319.8 97.8L1320.8 97.8L1321.8 97.8L1322.8 97.8L1323.8 97.8L1324.8 97.8L1325.8 97.8L1326.8 97.8L1327.8 97.8L1328.8 97.8L1329.8 97.8L1330.8 97.8L1331.8 97.8L1332.8 97.8L1333.8 97.8L1334.8 97.8L1335.8 97.8L1336.8 97.8L1337.8 97.8L1338.8 97.8L1339.8 97.8L1340.8 97.8L1341.8 97.8L1342.8 97.8L1343.8 97.8L1344.8 97.8L1345.8 97.8L1346.8 97.8L1347.8 97.8L1348.8 97.8L1349.8 97.8L1350.8 97.8L1351.8 97.8L1352.8 97.8L1353.8 97.8L1354.8 97.8L1355.8 97.8L1356.8 97.8L1357.8 97.8L1358.8 97.8L1359.8 97.8L1360.8 97.8L1361.8 97.8L1362.8 97.8L1363.8 97.8L1364.8 97.8L1365.8 97.8L1366.8 97.8L1367.8 97.8L1368.8 97.8L1369.8 97.8L1370.8 97.8L1371.8 97.8L1372.8 97.8L1373.8 97.8L1374.8 97.8L1375.8 97.8L1376.8 97.8L1377.8 97.8L1378.8 97.8L1379.8 97.8L1380.8 97.8L1381.8 97.8L1382.8 97.8L1383.8 97.8L1384.8 97.8L1385.8 97.8L1386.8 97.8L1387.8 97.8L1388.8 97.8L1389.8 97.8L1390.8 97.8L1391.8 97.8L1392.8 97.8L1393.8 97.8L1394.8 97.8L1395.8 97.8L1396.8 97.8L1397.8 97.8L1398.8 97.8L1399.8 97.8L1400.8 97.8L1401.8 97.8L1402.8 97.8L1403.8 97.8L1404.8 97.8L1405.8 97.8L1406.8 97.8L1407.8 97.8L1408.8 97.8L1409.8 97.8L1410.8 97.8L1411.8 97.8L1412.8 97.8L1413.8 97.8L1414.8 97.8L1415.8 97.8L1416.8 97.8L1417.8 97.8L1418.8 97.8L1419.8 97.8L1420.8 97.8L1421.8 97.8L1422.8 97.8L1423.8 97.8L1424.8 97.8L1425.8 97.8L1426.8 97.8L1427.8 97.8L1428.8 97.8L1429.8 97.8L1430.8 97.8L1431.8 97.8L1432.8 97.8L1433.8 97.8L1434.8 97.8L1435.8 97.8L1436.8 97.8L1437.8 97.8L1438.8 97.8L1439.8 97.8L1440.8 97.8L1441.8 97.8L1442.8 97.8L1443.8 97.8L1444.8 97.8L1445.8 97.8L1446.8 97.8L1447.8 97.8L1448.8 97.8L1449.8 97.8L1450.8 97.8L1451.8 97.8L1452.8 97.8L1453.8 97.8L1454.8 97.8L1455.8 97.8L1456.8 97.8L1457.8 97.8L1458.8 97.8L1459.8 97.8L1460.8 97.8L1461.8 97.8L1462.8 97.8L1463.8 97.8L1464.8 97.8L1465.8 97.8L1466.8 97.8L1467.8 97.8L1468.8 97.8L1469.8 97.8L1470.8 97.8L1471.8 97.8L1472.8 97.8L1473.8 97.8L1474.8 97.8L1475.8 97.8L1476.8 97.8L1477.8 97.8L1478.8 97.8L1479.8 97.8L1480.8 97.8L1481.8 97.8L1482.8 97.8L1483.8 97.8L1484.8 97.8L1485.8 97.8L1486.8 97.8L1487.8 97.8L1488.8 97.8L1489.8 97.8L1490.8 97.8L1491.8 97.8L1492.8 97.8L1493.8 97.8L1494.8 97.8L1495.8 97.8L1496.8 97.8L1497.8 97.8L1498.8 97.8L1499.8 97.8L1500.8 97.8L1501.8 97.8L1502.8 97.8L1503.8 97.8L1504.8 97.8L1505.8 97.8L1506.8 97.8L1507.8 97.8L1508.8 97.8L1509.8 97.8L1510.8 97.8L1511.8 97.8L1512.8 97.8L1513.8 97.8L1514.8 97.8L1515.8 97.8L1516.8 97.8L1517.8 97.8L1518.8 97.8L1519.8 97.8L1520.8 97.8L1521.8 97.8L1522.8 97.8L1523.8 97.8L1524.8 97.8L1525.8 97.8L1526.8 97.8L1527.8 97.8L1528.8 97.8L1529.8 97.8L1530.8 97.8L1531.8 97.8L1532.8 97.8L1533.8 97.8L1534.8 97.8L1535.8 97.8L1536.8 97.8L1537.8 97.8L1538.8 97.8L1539.8 97.8L1540.8 97.8L1541.8 97.8L1542.8 97.8L1543.8 97.8L1544.8 97.8L1545.8 97.8L1546.8 97.8L1547.8 97.8L1548.8 97.8L1549.8 97.8L1550.8 97.8L1551.8 97.8L1552.8 97.8L1553.8 97.8L1554.8 97.8L1555.8 97.8L1556.8 97.8L1557.8 97.8L1558.8 97.8L1559.8 97.8L1560.8 97.8L1561.8 97.8L1562.8 97.8L1563.8 97.8L1564.8 97.8L1565.8 97.8L1566.8 97.8L1567.8 97.8L1568.8 97.8L1569.8 97.8L1570.8 97.8L1571.8 97.8L1572.8 97.8L1573.8 97.8"/>
<path clip-path="url(#c2)" d="M154.8 396.4L155.8 396.4L156.8 396.4L157.8 396.4L158.8 396.4L159.8 396.4L160.8 396.4L161.8 396.4L162.8 396.4L163.8 396.4L164.8 396.4L165.8 396.4L166.8 396.4L167.8 396.4L168.8 396.4L169.8 396.4L170.8 396.4L171.8 396.4L172.8 396.4L173.8 396.4L174.8 396.4L175.8 396.4L176.8 396.4L177.8 396.4L178.8 396.4L179.8 396.4L180.8 396.4L181.8 396.4L182.8 396.4L183.8 396.4L184.8 396.4L185.8 396.4L186.8 396.4L187.8 396.4L188.8 396.4L189.8 396.4L190.8 396.4L191.8 396.4L192.8 396.4L193.8 396.4L194.8 396.4L195.8 396.4L196.8 396.4L197.8 396.4L198.8 396.4L199.8 396.4L200.8 396.4L201.8 396.4L202.8 396.4L203.8 396.4L204.8 396.4L205.8 396.4L206.8 396.4L207.8 396.4L208.8 396.4L209.8 396.4L210.8 396.4L211.8 396.4L212.8 396.4L213.8 396.4L214.8 396.4L215.8 396.4L216.8 396.4L217.8 396.4L218.8 396.4L219.8 396.4L220.8 396.4L221.8 396.4L222.8 396.4L223.8 396.4L224.8 396.4L225.8 396.4L226.8 396.4L227.8 396.4L228.8 396.4L229.8 396.4L230.8 396.4L231.8 396.4L232.8 396.4L233.8 396.4L234.8 396.4L235.8 396.4L236.8 396.4L237.8 396.4L238.8 396.4L239.8 396.4L240.8 396.4L241.8 396.4L242.8 396.4L243.8 396.4L244.8 396.4L245.8 396.4L246.8 396.4L247.8 396.4L248.8 396.4L249.8 396.4L250.8 396.4L251.8 396.4L252.8 396.4L253.8 396.4L254.8 396.4L255.8 396.4L256.8 396.4L257.8 396.4L258.8 396.4L259.8 396.4L260.8 396.4L261.8 396.4L262.8 396.4L263.8 396.4L264.8 396.4L265.8 396.4L266.8 396.4L267.8 396.4L268.8 396.4L269.8 396.4L270.8 396.4L271.8 396.4L272.8 396.4L273.8 396.4L274.8 396.4L275.8 396.4L276.8 396.4L277.8 396.4L278.8 396.4L279.8 396.4L280.8 396.4L281.8 396.4L282.8 396.4L283.8 396.4L284.8 396.4L285.8 396.4L286.8 396.4L287.8 396.4L288.8 396.4L289.8 396.4L290.8 396.4L291.8 396.4L292.8 396.4L293.8 396.4L294.8 396.4L295.8 396.4L296.8 396.4L297.8 396.4L298.8 396.4L299.8 396.4L300.8 396.4L301.8 396.4L302.8 396.4L303.8 396.4L304.8 396.4L305.8 396.4L306.8 396.4L307.8 396.4L308.8 396.4L309.8 396.4L310.8 396.4L311.8 396.4L312.8 396.4L313.8 396.4L314.8 396.4L315.8 396.4L316.8 396.4L317.8 396.4L318.8 396.4L319.8 396.4L320.8 396.4L321.8 396.4L322.8 396.4L323.8 396.4L324.8 396.4L325.8 396.4L326.8 396.4L327.8 396.4L328.8 396.4L329.8 396.4L330.8 396.4L331.8 396.4L332.8 396.4L333.8 396.4L334.8 396.4L335.8 396.4L336.8 396.4L337.8 396.4L338.8 396.4L339.8 396.4L340.8 396.4L341.8 396.4L342.8 396.4L343.8 396.4L344.8 396.4L345.8 396.4L346.8 396.4L347.8 396.4L348.8 396.4L349.8 396.4L350.8 396.4L351.8 396.4L352.8 396.4L353.8 396.4L354.8 396.4L355.8 396.4L356.8 396.4L357.8 396.4L358.8 396.4L359.8 396.4L360.8 396.4L361.8 396.4L362.8 396.4L363.8 396.4L364.8 396.4L365.8 396.4L366.8 396.4L367.8 396.4L368.8 396.4L369.8 396.4L370.8 396.4L371.8 396.4L372.8 396.4L373.8 396.4L374.8 396.4L375.8 396.4L376.8 396.4L377.8 396.4L378.8 396.4L379.8 396.4L380.8 396.4L381.8 396.4L382.8 396.4L383.8 396.4L384.8 396.4L385.8 396.4L386.8 396.4L387.8 396.4L388.8 396.4L389.8 396.4L390.8 396.4L391.8 396.4L392.8 396.4L393.8 396.4L394.8 396.4L395.8 396.4L396.8 396.4L397.8 396.4L398.8 396.4L399.8 396.4L400.8 396.4L401.8 396.4L402.8 396.4L403.8 396.4L404.8 396.4L405.8 396.4L406.8 396.4L407.8 396.4L408.8 396.4L409.8 396.4L410.8 396.4L411.8 396.4L412.8 396.4L413.8 396.4L414.8 396.4L415.8 396.4L416.8 396.4L417.8 396.4L418.8 396.4L419.8 396.4L420.8 396.4L421.8 396.4L422.8 396.4L423.8 396.4L424.8 396.4L425.8 396.4L426.8 396.4L427.8 396.4L428.8 396.4L429.8 396.4L430.8 396.4L431.8 396.4L432.8 396.4L433.8 396.4L434.8 396.4L435.8 396.4L436.8 396.4L437.8 396.4L438.8 396.4L439.8 396.4L440.8 396.4L441.8 396.4L442.8 396.4L443.8 396.4L444.8 396.4L445.8 396.4L446.8 396.4L447.8 396.4L448.8 396.4L449.8 396.4L450.8 396.4L451.8 396.4L452.8 396.4L453.8 396.4L454.8 396.4L455.8 396.4L456.8 396.4L457.8 396.4L458.8 396.4L459.8 396.4L460.8 396.4L461.8 396.4L462.8 396.4L463.8 396.4L464.8 396.4L465.8 396.4L466.8 396.4L467.8 396.4L468.8 396.4L469.8 396.4L470.8 396.4L471.8 396.4L472.8 396.4L473.8 396.4L474.8 396.4L475.8 396.4L476.8 396.4L477.8 396.4L478.8 396.4L479.8 396.4L480.8 396.4L481.8 396.4L482.8 396.4L483.8 396.4L484.8 396.4L485.8 396.4L486.8 396.4L487.8 396.4L488.8 396.4L489.8 396.4L490.8 396.4L491.8 396.4L492.8 396.4L493.8 396.4L494.8 396.4L495.8 396.4L496.8 396.4L497.8 396.4L498.8 396.4L499.8 396.4L500.8 396.4L501.8 396.4L502.8 396.4L503.8 396.4L504.8 396.4L505.8 396.4L506.8 396.4L507.8 396.4L508.8 396.4L509.8 396.4L510.8 396.4L511.8 396.4L512.8 396.4L513.8 396.4L514.8 396.4L515.8 396.4L516.8 396.4L517.8 396.4L518.8 396.4L519.8 396.4L520.8 396.4L521.8 396.4L522.8 396.4L523.8 396.4L524.8 396.4L525.8 396.4L526.8 396.4L527.8 396.4L528.8 396.4L529.8 396.4L530.8 396.4L531.8 396.4L532.8 396.4L533.8 396.4L534.8 396.4L535.8 396.4L536.8 396.4L537.8 396.4L538.8 396.4L539.8 396.4L540.8 396.4L541.8 396.4L542.8 396.4L543.8 396.4L544.8 396.4L545.8 396.4L546.8 396.4L547.8 396.4L548.8 396.4L549.8 396.4L550.8 396.4L551.8 396.4L552.8 396.4L553.8 396.4L554.8 396.4L555.8 396.4L556.8 396.4L557.8 396.4L558.8 396.4L559.8 396.4L560.8 396.4L561.8 396.4L562.8 396.4L563.8 396.4L564.8 396.4L565.8 396.4L566.8 396.4L567.8 396.4L568.8 396.4L569.8 396.4L570.8 396.4L571.8 396.4L572.8 396.4L573.8 396.4L574.8 396.4L575.8 396.4L576.8 396.4L577.8 396.4L578.8 396.4L579.8 396.4L580.8 396.4L581.8 396.4L582.8 396.4L583.8 396.4L584.8 396.4L585.8 396.4L586.8 396.4L587.8 396.4L588.8 396.4L589.8 396.4L590.8 396.4L591.8 396.4L592.8 396.4L593.8 396.4L594.8 396.4L595.8 396.4L596.8 396.4L597.8 396.4L598.8 396.4L599.8 396.4L600.8 396.4L601.8 396.4L602.8 396.4L603.8 396.4L604.8 396.4L605.8 396.4L606.8 396.4L607.8 396.4L608.8 396.4L609.8 396.4L610.8 396.4L611.8 396.4L612.8 396.7L613.8 397.5L614.8 398.3L615.8 399.7L616.8 401.1L617.8 402.7L618.8 404.5L619.8 406.5L620.8 408.7L621.8 410.7L622.8 413.2L623.8 415.8L624.8 418.2L625.8 421.0L626.8 423.9L627.8 426.8L628.8 429.7L629.8 432.9L630.8 436.1L631.8 439.2L632.8 442.6L633.8 446.0L634.8 449.5L635.8 452.8L636.8 456.4L637.8 460.0L638.8 463.4L639.8 467.1L640.8 470.9L641.8 474.4L642.8 478.1L643.8 481.9L644.8 485.5L645.8 489.1L646.8 492.8L647.8 496.5L648.8 499.8L649.8 503.4L650.8 507.0L651.8 510.3L652.8 513.5L653.8 516.7L654.8 519.8L655.8 522.5L656.8 525.3L657.8 527.8L658.8 529.7L659.8 531.2L660.8 532.6L661.8 534.0L662.8 535.3L663.8 536.5L664.8 537.7L665.8 538.8L666.8 540.0L667.8 541.0L668.8 542.1L669.8 543.1L670.8 544.1L671.8 545.0L672.8 546.0L673.8 546.9L674.8 547.8L675.8 548.6L676.8 549.5L677.8 550.3L678.8 551.1L679.8 551.9L680.8 552.7L681.8 553.5L682.8 554.2L683.8 554.9L684.8 555.7L685.8 556.4L686.8 557.0L687.8 557.7L688.8 558.4L689.8 559.0L690.8 559.7L691.8 560.3L692.8 560.9L693.8 561.5L694.8 562.1L695.8 562.7L696.8 563.3L697.8 563.9L698.8 564.4L699.8 565.0L700.8 565.5L701.8 566.0L702.8 566.5L703.8 567.1L704.8 567.6L705.8 568.1L706.8 568.6L707.8 569.0L708.8 569.5L709.8 570.0L710.8 570.4L711.8 570.9L712.8 571.3L713.8 571.8L714.8 572.2L715.8 572.6L716.8 573.1L717.8 573.5L718.8 573.9L719.8 574.3L720.8 574.7L721.8 575.1L722.8 575.5L723.8 575.8L724.8 576.2L725.8 576.6L726.8 577.0L727.8 577.3L728.8 577.7L729.8 578.0L730.8 578.4L731.8 578.7L732.8 579.0L733.8 579.4L734.8 579.7L735.8 580.0L736.8 580.3L737.8 580.7L738.8 581.0L739.8 581.3L740.8 581.6L741.8 581.9L742.8 582.2L743.8 582.4L744.8 582.7L745.8 583.0L746.8 583.3L747.8 583.6L748.8 583.8L749.8 584.1L750.8 584.4L751.8 584.6L752.8 584.9L753.8 585.1L754.8 585.4L755.8 585.6L756.8 585.9L757.8 586.1L758.8 586.3L759.8 586.6L760.8 586.8L761.8 587.0L762.8 587.2L763.8 587.4L764.8 587.7L765.8 587.9L766.8 588.1L767.8 588.3L768.8 588.5L769.8 588.7L770.8 588.9L771.8 589.1L772.8 589.3L773.8 589.5L774.8 589.7L775.8 589.8L776.8 590.0L777.8 590.2L778.8 590.4L779.8 590.5L780.8 590.7L781.8 590.9L782.8 591.0L783.8 591.2L784.8 591.4L785.8 591.5L786.8 591.7L787.8 591.8L788.8 592.0L789.8 592.1L790.8 592.3L791.8 592.4L792.8 592.6L793.8 592.7L794.8 592.8L795.8 593.0L796.8 593.1L797.8 593.2L798.8 593.3L799.8 593.5L800.8 593.6L801.8 593.7L802.8 593.8L803.8 593.9L804.8 594.1L805.8 594.2L806.8 594.3L807.8 594.4L808.8 594.5L809.8 594.6L810.8 594.7L811.8 594.8L812.8 594.9L813.8 595.0L814.8 595.1L815.8 595.2L816.8 595.2L817.8 595.3L818.8 595.4L819.8 595.5L820.8 595.6L821.8 595.7L822.8 595.7L823.8 595.8L824.8 595.9L825.8 595.9L826.8 596.0L827.8 596.1L828.8 596.1L829.8 596.2L830.8 596.3L831.8 596.3L832.8 596.4L833.8 596.4L834.8 596.5L835.8 596.5L836.8 596.6L837.8 596.6L838.8 596.7L839.8 596.7L840.8 596.8L841.8 596.8L842.8 596.8L843.8 596.9L844.8 596.9L845.8 596.9L846.8 597.0L847.8 597.0L848.8 597.0L849.8 597.0L850.8 597.1L851.8 597.1L852.8 597.1L853.8 597.1L854.8 597.1L855.8 597.2L856.8 597.2L857.8 597.2L858.8 597.2L859.8 597.2L860.8 597.2L861.8 597.2L862.8 597.2L863.8 597.2L864.8 597.2L865.8 597.2L866.8 597.2L867.8 597.2L868.8 597.2L869.8 597.2L870.8 597.1L871.8 597.1L872.8 597.1L873.8 597.1L874.8 597.1L875.8 597.0L876.8 597.0L877.8 597.0L878.8 597.0L879.8 596.9L880.8 596.9L881.8 596.9L882.8 596.8L883.8 596.8L884.8 596.8L885.8 596.7L886.8 596.7L887.8 596.6L888.8 596.6L889.8 596.5L890.8 596.5L891.8 596.4L892.8 596.4L893.8 596.3L894.8 596.3L895.8 596.2L896.8 596.2L897.8 596.1L898.8 596.0L899.8 596.0L900.8 595.9L901.8 595.8L902.8 595.7L903.8 595.7L904.8 595.6L905.8 595.5L906.8 595.4L907.8 595.3L908.8 595.3L909.8 595.2L910.8 595.1L911.8 595.0L912.8 594.9L913.8 594.8L914.8 594.7L915.8 594.6L916.8 594.5L917.8 594.4L918.8 594.3L919.8 594.2L920.8 594.1L921.8 594.0L922.8 593.8L923.8 593.7L924.8 593.6L925.8 593.5L926.8 593.4L927.8 593.2L928.8 593.1L929.8 593.0L930.8 592.9L931.8 592.7L932.8 592.6L933.8 592.4L934.8 592.3L935.8 592.2L936.8 592.0L937.8 591.9L938.8 591.7L939.8 591.6L940.8 591.4L941.8 591.2L942.8 591.1L943.8 590.9L944.8 590.7L945.8 590.6L946.8 590.4L947.8 590.2L948.8 590.1L949.8 589.9L950.8 589.7L951.8 589.5L952.8 589.3L953.8 589.1L954.8 588.9L955.8 588.7L956.8 588.5L957.8 588.3L958.8 588.1L959.8 587.9L960.8 587.7L961.8 587.5L962.8 587.3L963.8 587.1L964.8 586.8L965.8 586.6L966.8 586.4L967.8 586.1L968.8 585.9L969.8 585.7L970.8 585.4L971.8 585.2L972.8 584.9L973.8 584.7L974.8 584.4L975.8 584.1L976.8 583.9L977.8 583.6L978.8 583.3L979.8 583.1L980.8 582.8L981.8 582.5L982.8 582.2L983.8 581.9L984.8 581.6L985.8 581.3L986.8 581.0L987.8 580.7L988.8 580.4L989.8 580.1L990.8 579.8L991.8 579.4L992.8 579.1L993.8 578.8L994.8 578.4L995.8 578.1L996.8 577.7L997.8 577.4L998.8 577.0L999.8 576.7L1000.8 576.3L1001.8 575.9L1002.8 575.5L1003.8 575.2L1004.8 574.8L1005.8 574.4L1006.8 574.0L1007.8 573.6L1008.8 573.1L1009.8 572.7L1010.8 572.3L1011.8 571.9L1012.8 571.4L1013.8 571.0L1014.8 570.5L1015.8 570.1L1016.8 569.6L1017.8 569.1L1018.8 568.7L1019.8 568.2L1020.8 567.7L1021.8 567.2L1022.8 566.7L1023.8 566.1L1024.8 565.6L1025.8 565.1L1026.8 564.5L1027.8 564.0L1028.8 563.4L1029.8 562.8L1030.8 562.2L1031.8 561.6L1032.8 561.0L1033.8 560.4L1034.8 559.8L1035.8 559.2L1036.8 558.5L1037.8 557.9L1038.8 557.2L1039.8 556.5L1040.8 555.8L1041.8 555.1L1042.8 554.4L1043.8 553.6L1044.8 552.9L1045.8 552.1L1046.8 551.3L1047.8 550.5L1048.8 549.7L1049.8 548.8L1050.8 547.9L1051.8 547.1L1052.8 546.2L1053.8 545.2L1054.8 544.3L1055.8 543.3L1056.8 542.3L1057.8 541.2L1058.8 540.2L1059.8 539.1L1060.8 537.9L1061.8 536.7L1062.8 535.5L1063.8 534.3L1064.8 532.9L1065.8 531.5L1066.8 530.0L1067.8 528.2L1068.8 525.7L1069.8 523.2L1070.8 520.4L1071.8 517.3L1072.8 514.2L1073.8 511.0L1074.8 507.5L1075.8 504.0L1076.8 500.7L1077.8 497.1L1078.8 493.4L1079.8 489.9L1080.8 486.3L1081.8 482.5L1082.8 478.9L1083.8 475.3L1084.8 471.5L1085.8 467.8L1086.8 464.3L1087.8 460.7L1088.8 457.0L1089.8 453.6L1090.8 450.2L1091.8 446.6L1092.8 443.2L1093.8 440.0L1094.8 436.7L1095.8 433.4L1096.8 430.5L1097.8 427.4L1098.8 424.4L1099.8 421.6L1100.8 418.9L1101.8 416.2L1102.8 413.5L1103.8 411.4L1104.8 409.0L1105.8 406.8L1106.8 404.9L1107.8 403.1L1108.8 401.4L1109.8 399.8L1110.8 398.7L1111.8 397.6L1112.8 396.7L1113.8 396.4L1114.8 396.4L1115.8 396.4L1116.8 396.4L1117.8 396.4L1118.8 396.4L1119.8 396.4L1120.8 396.4L1121.8 396.4L1122.8 396.4L1123.8 396.4L1124.8 396.4L1125.8 396.4L1126.8 396.4L1127.8 396.4L1128.8 396.4L1129.8 396.4L1130.8 396.4L1131.8 396.4L1132.8 396.4L1133.8 396.4L1134.8 396.4L1135.8 396.4L1136.8 396.4L1137.8 396.4L1138.8 396.4L1139.8 396.4L1140.8 396.4L1141.8 396.4L1142.8 396.4L1143.8 396.4L1144.8 396.4L1145.8 396.4L1146.8 396.4L1147.8 396.4L1148.8 396.4L1149.8 396.4L1150.8 396.4L1151.8 396.4L1152.8 396.4L1153.8 396.4L1154.8 396.4L1155.8 396.4L1156.8 396.4L1157.8 396.4L1158.8 396.4L1159.8 396.4L1160.8 396.4L1161.8 396.4L1162.8 396.4L1163.8 396.4L1164.8 396.4L1165.8 396.4L1166.8 396.4L1167.8 396.4L1168.8 396.4L1169.8 396.4L1170.8 396.4L1171.8 396.4L1172.8 396.4L1173.8 396.4L1174.8 396.4L1175.8 396.4L1176.8 396.4L1177.8 396.4L1178.8 396.4L1179.8 396.4L1180.8 396.4L1181.8 396.4L1182.8 396.4L1183.8 396.4L1184.8 396.4L1185.8 396.4L1186.8 396.4L1187.8 396.4L1188.8 396.4L1189.8 396.4L1190.8 396.4L1191.8 396.4L1192.8 396.4L1193.8 396.4L1194.8 396.4L1195.8 396.4L1196.8 396.4L1197.8 396.4L1198.8 396.4L1199.8 396.4L1200.8 396.4L1201.8 396.4L1202.8 396.4L1203.8 396.4L1204.8 396.4L1205.8 396.4L1206.8 396.4L1207.8 396.4L1208.8 396.4L1209.8 396.4L1210.8 396.4L1211.8 396.4L1212.8 396.4L1213.8 396.4L1214.8 396.4L1215.8 396.4L1216.8 396.4L1217.8 396.4L1218.8 396.4L1219.8 396.4L1220.8 396.4L1221.8 396.4L1222.8 396.4L1223.8 396.4L1224.8 396.4L1225.8 396.4L1226.8 396.4L1227.8 396.4L1228.8 396.4L1229.8 396.4L1230.8 396.4L1231.8 396.4L1232.8 396.4L1233.8 396.4L1234.8 396.4L1235.8 396.4L1236.8 396.4L1237.8 396.4L1238.8 396.4L1239.8 396.4L1240.8 396.4L1241.8 396.4L1242.8 396.4L1243.8 396.4L1244.8 396.4L1245.8 396.4L1246.8 396.4L1247.8 396.4L1248.8 396.4L1249.8 396.4L1250.8 396.4L1251.8 396.4L1252.8 396.4L1253.8 396.4L1254.8 396.4L1255.8 396.4L1256.8 396.4L1257.8 396.4L1258.8 396.4L1259.8 396.4L1260.8 396.4L1261.8 396.4L1262.8 396.4L1263.8 396.4L1264.8 396.4L1265.8 396.4L1266.8 396.4L1267.8 396.4L1268.8 396.4L1269.8 396.4L1270.8 396.4L1271.8 396.4L1272.8 396.4L1273.8 396.4L1274.8 396.4L1275.8 396.4L1276.8 396.4L1277.8 396.4L1278.8 396.4L1279.8 396.4L1280.8 396.4L1281.8 396.4L1282.8 396.4L1283.8 396.4L1284.8 396.4L1285.8 396.4L1286.8 396.4L1287.8 396.4L1288.8 396.4L1289.8 396.4L1290.8 396.4L1291.8 396.4L1292.8 396.4L1293.8 396.4L1294.8 396.4L1295.8 396.4L1296.8 396.4L1297.8 396.4L1298.8 396.4L1299.8 396.4L1300.8 396.4L1301.8 396.4L1302.8 396.4L1303.8 396.4L1304.8 396.4L1305.8 396.4L1306.8 396.4L1307.8 396.4L1308.8 396.4L1309.8 396.4L1310.8 396.4L1311.8 396.4L1312.8 396.4L1313.8 396.4L1314.8 396.4L1315.8 396.4L1316.8 396.4L1317.8 396.4L1318.8 396.4L1319.8 396.4L1320.8 396.4L1321.8 396.4L1322.8 396.4L1323.8 396.4L1324.8 396.4L1325.8 396.4L1326.8 396.4L1327.8 396.4L1328.8 396.4L1329.8 396.4L1330.8 396.4L1331.8 396.4L1332.8 396.4L1333.8 396.4L1334.8 396.4L1335.8 396.4L1336.8 396.4L1337.8 396.4L1338.8 396.4L1339.8 396.4L1340.8 396.4L1341.8 396.4L1342.8 396.4L1343.8 396.4L1344.8 396.4L1345.8 396.4L1346.8 396.4L1347.8 396.4L1348.8 396.4L1349.8 396.4L1350.8 396.4L1351.8 396.4L1352.8 396.4L1353.8 396.4L1354.8 396.4L1355.8 396.4L1356.8 396.4L1357.8 396.4L1358.8 396.4L1359.8 396.4L1360.8 396.4L1361.8 396.4L1362.8 396.4L1363.8 396.4L1364.8 396.4L1365.8 396.4L1366.8 396.4L1367.8 396.4L1368.8 396.4L1369.8 396.4L1370.8 396.4L1371.8 396.4L1372.8 396.4L1373.8 396.4L1374.8 396.4L1375.8 396.4L1376.8 396.4L1377.8 396.4L1378.8 396.4L1379.8 396.4L1380.8 396.4L1381.8 396.4L1382.8 396.4L1383.8 396.4L1384.8 396.4L1385.8 396.4L1386.8 396.4L1387.8 396.4L1388.8 396.4L1389.8 396.4L1390.8 396.4L1391.8 396.4L1392.8 396.4L1393.8 396.4L1394.8 396.4L1395.8 396.4L1396.8 396.4L1397.8 396.4L1398.8 396.4L1399.8 396.4L1400.8 396.4L1401.8 396.4L1402.8 396.4L1403.8 396.4L1404.8 396.4L1405.8 396.4L1406.8 396.4L1407.8 396.4L1408.8 396.4L1409.8 396.4L1410.8 396.4L1411.8 396.4L1412.8 396.4L1413.8 396.4L1414.8 396.4L1415.8 396.4L1416.8 396.4L1417.8 396.4L1418.8 396.4L1419.8 396.4L1420.8 396.4L1421.8 396.4L1422.8 396.4L1423.8 396.4L1424.8 396.4L1425.8 396.4L1426.8 396.4L1427.8 396.4L1428.8 396.4L1429.8 396.4L1430.8 396.4L1431.8 396.4L1432.8 396.4L1433.8 396.4L1434.8 396.4L1435.8 396.4L1436.8 396.4L1437.8 396.4L1438.8 396.4L1439.8 396.4L1440.8 396.4L1441.8 396.4L1442.8 396.4L1443.8 396.4L1444.8 396.4L1445.8 396.4L1446.8 396.4L1447.8 396.4L1448.8 396.4L1449.8 396.4L1450.8 396.4L1451.8 396.4L1452.8 396.4L1453.8 396.4L1454.8 396.4L1455.8 396.4L1456.8 396.4L1457.8 396.4L1458.8 396.4L1459.8 396.4L1460.8 396.4L1461.8 396.4L1462.8 396.4L1463.8 396.4L1464.8 396.4L1465.8 396.4L1466.8 396.4L1467.8 396.4L1468.8 396.4L1469.8 396.4L1470.8 396.4L1471.8 396.4L1472.8 396.4L1473.8 396.4L1474.8 396.4L1475.8 396.4L1476.8 396.4L1477.8 396.4L1478.8 396.4L1479.8 396.4L1480.8 396.4L1481.8 396.4L1482.8 396.4L1483.8 396.4L1484.8 396.4L1485.8 396.4L1486.8 396.4L1487.8 396.4L1488.8 396.4L1489.8 396.4L1490.8 396.4L1491.8 396.4L1492.8 396.4L1493.8 396.4L1494.8 396.4L1495.8 396.4L1496.8 396.4L1497.8 396.4L1498.8 396.4L1499.8 396.4L1500.8 396.4L1501.8 396.4L1502.8 396.4L1503.8 396.4L1504.8 396.4L1505.8 396.4L1506.8 396.4L1507.8 396.4L1508.8 396.4L1509.8 396.4L1510.8 396.4L1511.8 396.4L1512.8 396.4L1513.8 396.4L1514.8 396.4L1515.8 396.4L1516.8 396.4L1517.8 396.4L1518.8 396.4L1519.8 396.4L1520.8 396.4L1521.8 396.4L1522.8 396.4L1523.8 396.4L1524.8 396.4L1525.8 396.4L1526.8 396.4L1527.8 396.4L1528.8 396.4L1529.8 396.4L1530.8 396.4L1531.8 396.4L1532.8 396.4L1533.8 396.4L1534.8 396.4L1535.8 396.4L1536.8 396.4L1537.8 396.4L1538.8 396.4L1539.8 396.4L1540.8 396.4L1541.8 396.4L1542.8 396.4L1543.8 396.4L1544.8 396.4L1545.8 396.4L1546.8 396.4L1547.8 396.4L1548.8 396.4L1549.8 396.4L1550.8 396.4L1551.8 396.4L1552.8 396.4L1553.8 396.4L1554.8 396.4L1555.8 396.4L1556.8 396.4L1557.8 396.4L1558.8 396.4L1559.8 396.4L1560.8 396.4L1561.8 396.4L1562.8 396.4L1563.8 396.4L1564.8 396.4L1565.8 396.4L1566.8 396.4L1567.8 396.4L1568.8 396.4L1569.8 396.4L1570.8 396.4L1571.8 396.4L1572.8 396.4L1573.8 396.4"/>
<path clip-path="url(#c3)" d="M154.8 773.3L155.8 773.3L156.8 773.3L157.8 773.3L158.8 773.3L159.8 773.3L160.8 773.3L161.8 773.3L162.8 773.3L163.8 773.3L164.8 773.3L165.8 773.3L166.8 773.3L167.8 773.3L168.8 773.3L169.8 773.3L170.8 773.3L171.8 773.3L172.8 773.3L173.8 773.3L174.8 773.3L175.8 773.3L176.8 773.3L177.8 773.3L178.8 773.3L179.8 773.3L180.8 773.3L181.8 773.3L182.8 773.3L183.8 773.3L184.8 773.3L185.8 773.3L186.8 773.3L187.8 773.3L188.8 773.3L189.8 773.3L190.8 773.3L191.8 773.3L192.8 773.3L193.8 773.3L194.8 773.3L195.8 773.3L196.8 773.3L197.8 773.3L198.8 773.3L199.8 773.3L200.8 773.3L201.8 773.3L202.8 773.3L203.8 773.3L204.8 773.3L205.8 773.3L206.8 773.3L207.8 773.3L208.8 773.3L209.8 773.3L210.8 773.3L211.8 773.3L212.8 773.3L213.8 773.3L214.8 773.3L215.8 773.3L216.8 773.3L217.8 773.3L218.8 773.3L219.8 773.3L220.8 773.3L221.8 773.3L222.8 773.3L223.8 773.3L224.8 773.3L225.8 773.3L226.8 773.3L227.8 773.3L228.8 773.3L229.8 773.3L230.8 773.3L231.8 773.3L232.8 773.3L233.8 773.3L234.8 773.3L235.8 773.3L236.8 773.3L237.8 773.3L238.8 773.3L239.8 773.3L240.8 773.3L241.8 773.3L242.8 773.3L243.8 773.3L244.8 773.3L245.8 773.3L246.8 773.3L247.8 773.3L248.8 773.3L249.8 773.3L250.8 773.3L251.8 773.3L252.8 773.3L253.8 773.3L254.8 773.3L255.8 773.3L256.8 773.3L257.8 773.3L258.8 773.3L259.8 773.3L260.8 773.3L261.8 773.3L262.8 773.3L263.8 773.3L264.8 773.3L265.8 773.3L266.8 773.3L267.8 773.3L268.8 773.3L269.8 773.3L270.8 773.3L271.8 773.3L272.8 773.3L273.8 773.3L274.8 773.3L275.8 773.3L276.8 773.3L277.8 773.3L278.8 773.3L279.8 773.3L280.8 773.3L281.8 773.3L282.8 773.3L283.8 773.3L284.8 773.3L285.8 773.3L286.8 773.3L287.8 773.3L288.8 773.3L289.8 773.3L290.8 773.3L291.8 773.3L292.8 773.3L293.8 773.3L294.8 773.3L295.8 773.3L296.8 773.3L297.8 773.3L298.8 773.3L299.8 773.3L300.8 773.3L301.8 773.3L302.8 773.3L303.8 773.3L304.8 773.3L305.8 773.3L306.8 773.3L307.8 773.3L308.8 773.3L309.8 773.3L310.8 773.3L311.8 773.3L312.8 773.3L313.8 773.3L314.8 773.3L315.8 773.3L316.8 773.3L317.8 773.3L318.8 773.3L319.8 773.3L320.8 773.3L321.8 773.3L322.8 773.3L323.8 773.3L324.8 773.3L325.8 773.3L326.8 773.3L327.8 773.3L328.8 773.3L329.8 773.3L330.8 773.3L331.8 773.3L332.8 773.3L333.8 773.3L334.8 773.3L335.8 773.3L336.8 773.3L337.8 773.3L338.8 773.3L339.8 773.3L340.8 773.3L341.8 773.3L342.8 773.3L343.8 773.3L344.8 773.3L345.8 773.3L346.8 773.3L347.8 773.3L348.8 773.3L349.8 773.3L350.8 773.3L351.8 773.3L352.8 773.3L353.8 773.3L354.8 773.3L355.8 773.3L356.8 773.3L357.8 773.3L358.8 773.3L359.8 773.3L360.8 773.3L361.8 773.3L362.8 773.3L363.8 773.3L364.8 773.3L365.8 773.3L366.8 773.3L367.8 773.3L368.8 773.3L369.8 773.3L370.8 773.3L371.8 773.3L372.8 773.3L373.8 773.3L374.8 773.3L375.8 773.3L376.8 773.3L377.8 773.3L378.8 773.3L379.8 773.3L380.8 773.3L381.8 773.3L382.8 773.3L383.8 773.3L384.8 773.3L385.8 773.3L386.8 773.3L387.8 773.3L388.8 773.3L389.8 773.3L390.8 773.3L391.8 773.3L392.8 773.3L393.8 773.3L394.8 773.3L395.8 773.3L396.8 773.3L397.8 773.3L398.8 773.3L399.8 773.3L400.8 773.3L401.8 773.3L402.8 773.3L403.8 773.3L404.8 773.3L405.8 773.3L406.8 773.3L407.8 773.3L408.8 773.3L409.8 773.3L410.8 773.3L411.8 773.3L412.8 773.3L413.8 773.3L414.8 773.3L415.8 773.3L416.8 773.3L417.8 773.3L418.8 773.3L419.8 773.3L420.8 773.3L421.8 773.3L422.8 773.3L423.8 773.3L424.8 773.3L425.8 773.3L426.8 773.3L427.8 773.3L428.8 773.3L429.8 773.3L430.8 773.3L431.8 773.3L432.8 773.3L433.8 773.3L434.8 773.3L435.8 773.3L436.8 773.3L437.8 773.3L438.8 773.3L439.8 773.3L440.8 773.3L441.8 773.3L442.8 773.3L443.8 773.3L444.8 773.3L445.8 773.3L446.8 773.3L447.8 773.3L448.8 773.3L449.8 773.3L450.8 773.3L451.8 773.3L452.8 773.3L453.8 773.3L454.8 773.3L455.8 773.3L456.8 773.3L457.8 773.3L458.8 773.3L459.8 773.3L460.8 773.3L461.8 773.3L462.8 773.3L463.8 773.3L464.8 773.3L465.8 773.3L466.8 773.3L467.8 773.3L468.8 773.3L469.8 773.3L470.8 773.3L471.8 773.3L472.8 773.3L473.8 773.3L474.8 773.3L475.8 773.3L476.8 773.3L477.8 773.3L478.8 773.3L479.8 773.3L480.8 773.3L481.8 773.3L482.8 773.3L483.8 773.3L484.8 773.3L485.8 773.3L486.8 773.3L487.8 773.3L488.8 773.3L489.8 773.3L490.8 773.3L491.8 773.3L492.8 773.3L493.8 773.3L494.8 773.3L495.8 773.3L496.8 773.3L497.8 773.3L498.8 773.3L499.8 773.3L500.8 773.3L501.8 773.3L502.8 773.3L503.8 773.3L504.8 773.3L505.8 773.3L506.8 773.3L507.8 773.3L508.8 773.3L509.8 773.3L510.8 773.3L511.8 773.3L512.8 773.3L513.8 773.3L514.8 773.3L515.8 773.3L516.8 773.3L517.8 773.3L518.8 773.3L519.8 773.3L520.8 773.3L521.8 773.3L522.8 773.3L523.8 773.3L524.8 773.3L525.8 773.3L526.8 773.3L527.8 773.3L528.8 773.3L529.8 773.3L530.8 773.3L531.8 773.3L532.8 773.3L533.8 773.3L534.8 773.3L535.8 773.3L536.8 773.3L537.8 773.3L538.8 773.3L539.8 773.3L540.8 773.3L541.8 773.3L542.8 773.3L543.8 773.3L544.8 773.3L545.8 773.3L546.8 773.3L547.8 773.3L548.8 773.3L549.8 773.3L550.8 773.3L551.8 773.3L552.8 773.3L553.8 773.3L554.8 773.3L555.8 773.3L556.8 773.3L557.8 773.3L558.8 773.3L559.8 773.3L560.8 773.3L561.8 774.5L562.8 776.4L563.8 779.1L564.8 781.8L565.8 785.4L566.8 789.2L567.8 792.9L568.8 797.3L569.8 801.4L570.8 805.8L571.8 810.3L572.8 814.4L573.8 818.9L574.8 823.0L575.8 826.7L576.8 830.2L577.8 833.0L578.8 834.4L579.8 835.6L580.8 836.7L581.8 837.8L582.8 838.7L583.8 839.7L584.8 840.6L585.8 841.4L586.8 842.2L587.8 843.0L588.8 843.7L589.8 844.5L590.8 845.2L591.8 845.8L592.8 846.5L593.8 847.1L594.8 847.7L595.8 848.3L596.8 848.9L597.8 849.5L598.8 850.1L599.8 850.6L600.8 851.1L601.8 851.6L602.8 852.1L603.8 852.6L604.8 853.1L605.8 853.6L606.8 854.1L607.8 854.5L608.8 855.0L609.8 855.4L610.8 855.8L611.8 856.2L612.8 856.7L613.8 857.1L614.8 857.5L615.8 857.9L616.8 858.2L617.8 858.6L618.8 859.0L619.8 859.4L620.8 859.7L621.8 860.1L622.8 860.4L623.8 860.8L624.8 861.1L625.8 861.4L626.8 861.8L627.8 862.1L628.8 862.4L629.8 862.7L630.8 863.0L631.8 863.3L632.8 863.6L633.8 863.9L634.8 864.2L635.8 864.5L636.8 864.8L637.8 865.1L638.8 865.4L639.8 865.6L640.8 865.9L641.8 866.2L642.8 866.4L643.8 866.7L644.8 866.9L645.8 867.2L646.8 867.4L647.8 867.7L648.8 867.9L649.8 868.2L650.8 868.4L651.8 868.6L652.8 868.9L653.8 869.1L654.8 869.3L655.8 869.6L656.8 869.8L657.8 870.0L658.8 870.2L659.8 870.4L660.8 870.6L661.8 870.8L662.8 871.0L663.8 871.3L664.8 871.5L665.8 871.7L666.8 871.8L667.8 872.0L668.8 872.2L669.8 872.4L670.8 872.6L671.8 872.8L672.8 873.0L673.8 873.2L674.8 873.3L675.8 873.5L676.8 873.7L677.8 873.9L678.8 874.0L679.8 874.2L680.8 874.4L681.8 874.6L682.8 874.7L683.8 874.9L684.8 875.0L685.8 875.2L686.8 875.4L687.8 875.5L688.8 875.7L689.8 875.8L690.8 876.0L691.8 876.1L692.8 876.3L693.8 876.4L694.8 876.6L695.8 876.7L696.8 876.8L697.8 877.0L698.8 877.1L699.8 877.3L700.8 877.4L701.8 877.5L702.8 877.7L703.8 877.8L704.8 877.9L705.8 878.1L706.8 878.2L707.8 878.3L708.8 878.4L709.8 878.6L710.8 878.7L711.8 878.8L712.8 878.9L713.8 879.0L714.8 879.2L715.8 879.3L716.8 879.4L717.8 879.5L718.8 879.6L719.8 879.7L720.8 879.8L721.8 880.0L722.8 880.1L723.8 880.2L724.8 880.3L725.8 880.4L726.8 880.5L727.8 880.6L728.8 880.7L729.8 880.8L730.8 880.9L731.8 881.0L732.8 881.1L733.8 881.2L734.8 881.3L735.8 881.4L736.8 881.5L737.8 881.5L738.8 881.6L739.8 881.7L740.8 881.8L741.8 881.9L742.8 882.0L743.8 882.1L744.8 882.2L745.8 882.2L746.8 882.3L747.8 882.4L748.8 882.5L749.8 882.6L750.8 882.7L751.8 882.7L752.8 882.8L753.8 882.9L754.8 883.0L755.8 883.0L756.8 883.1L757.8 883.2L758.8 883.3L759.8 883.3L760.8 883.4L761.8 883.5L762.8 883.5L763.8 883.6L764.8 883.7L765.8 883.7L766.8 883.8L767.8 883.9L768.8 883.9L769.8 884.0L770.8 884.1L771.8 884.1L772.8 884.2L773.8 884.2L774.8 884.3L775.8 884.4L776.8 884.4L777.8 884.5L778.8 884.5L779.8 884.6L780.8 884.6L781.8 884.7L782.8 884.7L783.8 884.8L784.8 884.9L785.8 884.9L786.8 885.0L787.8 885.0L788.8 885.1L789.8 885.1L790.8 885.1L791.8 885.2L792.8 885.2L793.8 885.3L794.8 885.3L795.8 885.4L796.8 885.4L797.8 885.5L798.8 885.5L799.8 885.5L800.8 885.6L801.8 885.6L802.8 885.7L803.8 885.7L804.8 885.7L805.8 885.8L806.8 885.8L807.8 885.8L808.8 885.9L809.8 885.9L810.8 885.9L811.8 886.0L812.8 886.0L813.8 886.0L814.8 886.1L815.8 886.1L816.8 886.1L817.8 886.2L818.8 886.2L819.8 886.2L820.8 886.2L821.8 886.3L822.8 886.3L823.8 886.3L824.8 886.3L825.8 886.4L826.8 886.4L827.8 886.4L828.8 886.4L829.8 886.5L830.8 886.5L831.8 886.5L832.8 886.5L833.8 886.5L834.8 886.5L835.8 886.6L836.8 886.6L837.8 886.6L838.8 886.6L839.8 886.6L840.8 886.6L841.8 886.7L842.8 886.7L843.8 886.7L844.8 886.7L845.8 886.7L846.8 886.7L847.8 886.7L848.8 886.7L849.8 886.7L850.8 886.8L851.8 886.8L852.8 886.8L853.8 886.8L854.8 886.8L855.8 886.8L856.8 886.8L857.8 886.8L858.8 886.8L859.8 886.8L860.8 886.8L861.8 886.8L862.8 886.8L863.8 886.8L864.8 886.8L865.8 886.8L866.8 886.8L867.8 886.8L868.8 886.8L869.8 886.8L870.8 886.8L871.8 886.8L872.8 886.8L873.8 886.8L874.8 886.8L875.8 886.8L876.8 886.7L877.8 886.7L878.8 886.7L879.8 886.7L880.8 886.7L881.8 886.7L882.8 886.7L883.8 886.7L884.8 886.7L885.8 886.6L886.8 886.6L887.8 886.6L888.8 886.6L889.8 886.6L890.8 886.6L891.8 886.6L892.8 886.5L893.8 886.5L894.8 886.5L895.8 886.5L896.8 886.5L897.8 886.4L898.8 886.4L899.8 886.4L900.8 886.4L901.8 886.4L902.8 886.3L903.8 886.3L904.8 886.3L905.8 886.3L906.8 886.2L907.8 886.2L908.8 886.2L909.8 886.1L910.8 886.1L911.8 886.1L912.8 886.1L913.8 886.0L914.8 886.0L915.8 886.0L916.8 885.9L917.8 885.9L918.8 885.9L919.8 885.8L920.8 885.8L921.8 885.7L922.8 885.7L923.8 885.7L924.8 885.6L925.8 885.6L926.8 885.6L927.8 885.5L928.8 885.5L929.8 885.4L930.8 885.4L931.8 885.3L932.8 885.3L933.8 885.3L934.8 885.2L935.8 885.2L936.8 885.1L937.8 885.1L938.8 885.0L939.8 885.0L940.8 884.9L941.8 884.9L942.8 884.8L943.8 884.8L944.8 884.7L945.8 884.7L946.8 884.6L947.8 884.6L948.8 884.5L949.8 884.4L950.8 884.4L951.8 884.3L952.8 884.3L953.8 884.2L954.8 884.1L955.8 884.1L956.8 884.0L957.8 884.0L958.8 883.9L959.8 883.8L960.8 883.8L961.8 883.7L962.8 883.6L963.8 883.6L964.8 883.5L965.8 883.4L966.8 883.4L967.8 883.3L968.8 883.2L969.8 883.1L970.8 883.1L971.8 883.0L972.8 882.9L973.8 882.8L974.8 882.8L975.8 882.7L976.8 882.6L977.8 882.5L978.8 882.4L979.8 882.4L980.8 882.3L981.8 882.2L982.8 882.1L983.8 882.0L984.8 881.9L985.8 881.9L986.8 881.8L987.8 881.7L988.8 881.6L989.8 881.5L990.8 881.4L991.8 881.3L992.8 881.2L993.8 881.1L994.8 881.0L995.8 880.9L996.8 880.8L997.8 880.7L998.8 880.6L999.8 880.5L1000.8 880.4L1001.8 880.3L1002.8 880.2L1003.8 880.1L1004.8 880.0L1005.8 879.9L1006.8 879.8L1007.8 879.7L1008.8 879.6L1009.8 879.4L1010.8 879.3L1011.8 879.2L1012.8 879.1L1013.8 879.0L1014.8 878.9L1015.8 878.7L1016.8 878.6L1017.8 878.5L1018.8 878.4L1019.8 878.2L1020.8 878.1L1021.8 878.0L1022.8 877.9L1023.8 877.7L1024.8 877.6L1025.8 877.5L1026.8 877.3L1027.8 877.2L1028.8 877.0L1029.8 876.9L1030.8 876.8L1031.8 876.6L1032.8 876.5L1033.8 876.3L1034.8 876.2L1035.8 876.0L1036.8 875.9L1037.8 875.7L1038.8 875.6L1039.8 875.4L1040.8 875.3L1041.8 875.1L1042.8 874.9L1043.8 874.8L1044.8 874.6L1045.8 874.5L1046.8 874.3L1047.8 874.1L1048.8 873.9L1049.8 873.8L1050.8 873.6L1051.8 873.4L1052.8 873.2L1053.8 873.1L1054.8 872.9L1055.8 872.7L1056.8 872.5L1057.8 872.3L1058.8 872.1L1059.8 871.9L1060.8 871.7L1061.8 871.5L1062.8 871.3L1063.8 871.1L1064.8 870.9L1065.8 870.7L1066.8 870.5L1067.8 870.3L1068.8 870.1L1069.8 869.9L1070.8 869.6L1071.8 869.4L1072.8 869.2L1073.8 869.0L1074.8 868.7L1075.8 868.5L1076.8 868.3L1077.8 868.0L1078.8 867.8L1079.8 867.5L1080.8 867.3L1081.8 867.0L1082.8 866.8L1083.8 866.5L1084.8 866.3L1085.8 866.0L1086.8 865.7L1087.8 865.5L1088.8 865.2L1089.8 864.9L1090.8 864.6L1091.8 864.3L1092.8 864.1L1093.8 863.8L1094.8 863.5L1095.8 863.2L1096.8 862.8L1097.8 862.5L1098.8 862.2L1099.8 861.9L1100.8 861.6L1101.8 861.2L1102.8 860.9L1103.8 860.6L1104.8 860.2L1105.8 859.9L1106.8 859.5L1107.8 859.1L1108.8 858.8L1109.8 858.4L1110.8 858.0L1111.8 857.6L1112.8 857.2L1113.8 856.8L1114.8 856.4L1115.8 856.0L1116.8 855.6L1117.8 855.1L1118.8 854.7L1119.8 854.2L1120.8 853.8L1121.8 853.3L1122.8 852.8L1123.8 852.3L1124.8 851.8L1125.8 851.3L1126.8 850.8L1127.8 850.3L1128.8 849.7L1129.8 849.2L1130.8 848.6L1131.8 848.0L1132.8 847.4L1133.8 846.7L1134.8 846.1L1135.8 845.4L1136.8 844.7L1137.8 844.0L1138.8 843.3L1139.8 842.5L1140.8 841.7L1141.8 840.9L1142.8 840.0L1143.8 839.1L1144.8 838.2L1145.8 837.1L1146.8 836.0L1147.8 834.9L1148.8 833.6L1149.8 831.5L1150.8 828.2L1151.8 824.4L1152.8 820.6L1153.8 816.2L1154.8 812.0L1155.8 807.6L1156.8 803.0L1157.8 798.9L1158.8 794.7L1159.8 790.6L1160.8 786.9L1161.8 783.2L1162.8 780.2L1163.8 777.4L1164.8 775.0L1165.8 773.7L1166.8 773.3L1167.8 773.3L1168.8 773.3L1169.8 773.3L1170.8 773.3L1171.8 773.3L1172.8 773.3L1173.8 773.3L1174.8 773.3L1175.8 773.3L1176.8 773.3L1177.8 773.3L1178.8 773.3L1179.8 773.3L1180.8 773.3L1181.8 773.3L1182.8 773.3L1183.8 773.3L1184.8 773.3L1185.8 773.3L1186.8 773.3L1187.8 773.3L1188.8 773.3L1189.8 773.3L1190.8 773.3L1191.8 773.3L1192.8 773.3L1193.8 773.3L1194.8 773.3L1195.8 773.3L1196.8 773.3L1197.8 773.3L1198.8 773.3L1199.8 773.3L1200.8 773.3L1201.8 773.3L1202.8 773.3L1203.8 773.3L1204.8 773.3L1205.8 773.3L1206.8 773.3L1207.8 773.3L1208.8 773.3L1209.8 773.3L1210.8 773.3L1211.8 773.3L1212.8 773.3L1213.8 773.3L1214.8 773.3L1215.8 773.3L1216.8 773.3L1217.8 773.3L1218.8 773.3L1219.8 773.3L1220.8 773.3L1221.8 773.3L1222.8 773.3L1223.8 773.3L1224.8 773.3L1225.8 773.3L1226.8 773.3L1227.8 773.3L1228.8 773.3L1229.8 773.3L1230.8 773.3L1231.8 773.3L1232.8 773.3L1233.8 773.3L1234.8 773.3L1235.8 773.3L1236.8 773.3L1237.8 773.3L1238.8 773.3L1239.8 773.3L1240.8 773.3L1241.8 773.3L1242.8 773.3L1243.8 773.3L1244.8 773.3L1245.8 773.3L1246.8 773.3L1247.8 773.3L1248.8 773.3L1249.8 773.3L1250.8 773.3L1251.8 773.3L1252.8 773.3L1253.8 773.3L1254.8 773.3L1255.8 773.3L1256.8 773.3L1257.8 773.3L1258.8 773.3L1259.8 773.3L1260.8 773.3L1261.8 773.3L1262.8 773.3L1263.8 773.3L1264.8 773.3L1265.8 773.3L1266.8 773.3L1267.8 773.3L1268.8 773.3L1269.8 773.3L1270.8 773.3L1271.8 773.3L1272.8 773.3L1273.8 773.3L1274.8 773.3L1275.8 773.3L1276.8 773.3L1277.8 773.3L1278.8 773.3L1279.8 773.3L1280.8 773.3L1281.8 773.3L1282.8 773.3L1283.8 773.3L1284.8 773.3L1285.8 773.3L1286.8 773.3L1287.8 773.3L1288.8 773.3L1289.8 773.3L1290.8 773.3L1291.8 773.3L1292.8 773.3L1293.8 773.3L1294.8 773.3L1295.8 773.3L1296.8 773.3L1297.8 773.3L1298.8 773.3L1299.8 773.3L1300.8 773.3L1301.8 773.3L1302.8 773.3L1303.8 773.3L1304.8 773.3L1305.8 773.3L1306.8 773.3L1307.8 773.3L1308.8 773.3L1309.8 773.3L1310.8 773.3L1311.8 773.3L1312.8 773.3L1313.8 773.3L1314.8 773.3L1315.8 773.3L1316.8 773.3L1317.8 773.3L1318.8 773.3L1319.8 773.3L1320.8 773.3L1321.8 773.3L1322.8 773.3L1323.8 773.3L1324.8 773.3L1325.8 773.3L1326.8 773.3L1327.8 773.3L1328.8 773.3L1329.8 773.3L1330.8 773.3L1331.8 773.3L1332.8 773.3L1333.8 773.3L1334.8 773.3L1335.8 773.3L1336.8 773.3L1337.8 773.3L1338.8 773.3L1339.8 773.3L1340.8 773.3L1341.8 773.3L1342.8 773.3L1343.8 773.3L1344.8 773.3L1345.8 773.3L1346.8 773.3L1347.8 773.3L1348.8 773.3L1349.8 773.3L1350.8 773.3L1351.8 773.3L1352.8 773.3L1353.8 773.3L1354.8 773.3L1355.8 773.3L1356.8 773.3L1357.8 773.3L1358.8 773.3L1359.8 773.3L1360.8 773.3L1361.8 773.3L1362.8 773.3L1363.8 773.3L1364.8 773.3L1365.8 773.3L1366.8 773.3L1367.8 773.3L1368.8 773.3L1369.8 773.3L1370.8 773.3L1371.8 773.3L1372.8 773.3L1373.8 773.3L1374.8 773.3L1375.8 773.3L1376.8 773.3L1377.8 773.3L1378.8 773.3L1379.8 773.3L1380.8 773.3L1381.8 773.3L1382.8 773.3L1383.8 773.3L1384.8 773.3L1385.8 773.3L1386.8 773.3L1387.8 773.3L1388.8 773.3L1389.8 773.3L1390.8 773.3L1391.8 773.3L1392.8 773.3L1393.8 773.3L1394.8 773.3L1395.8 773.3L1396.8 773.3L1397.8 773.3L1398.8 773.3L1399.8 773.3L1400.8 773.3L1401.8 773.3L1402.8 773.3L1403.8 773.3L1404.8 773.3L1405.8 773.3L1406.8 773.3L1407.8 773.3L1408.8 773.3L1409.8 773.3L1410.8 773.3L1411.8 773.3L1412.8 773.3L1413.8 773.3L1414.8 773.3L1415.8 773.3L1416.8 773.3L1417.8 773.3L1418.8 773.3L1419.8 773.3L1420.8 773.3L1421.8 773.3L1422.8 773.3L1423.8 773.3L1424.8 773.3L1425.8 773.3L1426.8 773.3L1427.8 773.3L1428.8 773.3L1429.8 773.3L1430.8 773.3L1431.8 773.3L1432.8 773.3L1433.8 773.3L1434.8 773.3L1435.8 773.3L1436.8 773.3L1437.8 773.3L1438.8 773.3L1439.8 773.3L1440.8 773.3L1441.8 773.3L1442.8 773.3L1443.8 773.3L1444.8 773.3L1445.8 773.3L1446.8 773.3L1447.8 773.3L1448.8 773.3L1449.8 773.3L1450.8 773.3L1451.8 773.3L1452.8 773.3L1453.8 773.3L1454.8 773.3L1455.8 773.3L1456.8 773.3L1457.8 773.3L1458.8 773.3L1459.8 773.3L1460.8 773.3L1461.8 773.3L1462.8 773.3L1463.8 773.3L1464.8 773.3L1465.8 773.3L1466.8 773.3L1467.8 773.3L1468.8 773.3L1469.8 773.3L1470.8 773.3L1471.8 773.3L1472.8 773.3L1473.8 773.3L1474.8 773.3L1475.8 773.3L1476.8 773.3L1477.8 773.3L1478.8 773.3L1479.8 773.3L1480.8 773.3L1481.8 773.3L1482.8 773.3L1483.8 773.3L1484.8 773.3L1485.8 773.3L1486.8 773.3L1487.8 773.3L1488.8 773.3L1489.8 773.3L1490.8 773.3L1491.8 773.3L1492.8 773.3L1493.8 773.3L1494.8 773.3L1495.8 773.3L1496.8 773.3L1497.8 773.3L1498.8 773.3L1499.8 773.3L1500.8 773.3L1501.8 773.3L1502.8 773.3L1503.8 773.3L1504.8 773.3L1505.8 773.3L1506.8 773.3L1507.8 773.3L1508.8 773.3L1509.8 773.3L1510.8 773.3L1511.8 773.3L1512.8 773.3L1513.8 773.3L1514.8 773.3L1515.8 773.3L1516.8 773.3L1517.8 773.3L1518.8 773.3L1519.8 773.3L1520.8 773.3L1521.8 773.3L1522.8 773.3L1523.8 773.3L1524.8 773.3L1525.8 773.3L1526.8 773.3L1527.8 773.3L1528.8 773.3L1529.8 773.3L1530.8 773.3L1531.8 773.3L1532.8 773.3L1533.8 773.3L1534.8 773.3L1535.8 773.3L1536.8 773.3L1537.8 773.3L1538.8 773.3L1539.8 773.3L1540.8 773.3L1541.8 773.3L1542.8 773.3L1543.8 773.3L1544.8 773.3L1545.8 773.3L1546.8 773.3L1547.8 773.3L1548.8 773.3L1549.8 773.3L1550.8 773.3L1551.8 773.3L1552.8 773.3L1553.8 773.3L1554.8 773.3L1555.8 773.3L1556.8 773.3L1557.8 773.3L1558.8 773.3L1559.8 773.3L1560.8 773.3L1561.8 773.3L1562.8 773.3L1563.8 773.3L1564.8 773.3L1565.8 773.3L1566.8 773.3L1567.8 773.3L1568.8 773.3L1569.8 773.3L1570.8 773.3L1571.8 773.3L1572.8 773.3L1573.8 773.3"/>
</g>
<g fill="#9932cc" stroke="#000" stroke-width="3.3">
<circle cx="194.0" cy="103.6" r="7.2"/><circle cx="247.6" cy="101.0" r="7.2"/><circle cx="301.2" cy="100.5" r="7.2"/><circle cx="354.7" cy="99.0" r="7.2"/><circle cx="408.3" cy="101.0" r="7.2"/><circle cx="461.9" cy="101.0" r="7.2"/><circle cx="515.5" cy="91.3" r="7.2"/><circle cx="569.1" cy="92.1" r="7.2"/><circle cx="622.6" cy="94.6" r="7.2"/><circle cx="676.2" cy="111.2" r="7.2"/><circle cx="729.8" cy="103.4" r="7.2"/><circle cx="783.4" cy="204.3" r="7.2"/><circle cx="837.0" cy="216.1" r="7.2"/><circle cx="890.5" cy="226.6" r="7.2"/><circle cx="944.1" cy="207.8" r="7.2"/><circle cx="997.7" cy="102.0" r="7.2"/><circle cx="1051.3" cy="95.7" r="7.2"/><circle cx="1104.9" cy="98.2" r="7.2"/><circle cx="1158.4" cy="102.9" r="7.2"/><circle cx="1212.0" cy="98.0" r="7.2"/><circle cx="1265.6" cy="101.9" r="7.2"/><circle cx="1319.2" cy="97.2" r="7.2"/><circle cx="1372.8" cy="96.5" r="7.2"/><circle cx="1426.3" cy="106.5" r="7.2"/><circle cx="1479.9" cy="85.1" r="7.2"/><circle cx="1533.5" cy="98.3" r="7.2"/>
<circle cx="181.8" cy="396.5" r="7.2"/><circle cx="228.8" cy="396.5" r="7.2"/><circle cx="275.8" cy="396.5" r="7.2"/><circle cx="322.9" cy="396.5" r="7.2"/><circle cx="369.9" cy="396.5" r="7.2"/><circle cx="416.9" cy="396.5" r="7.2"/><circle cx="463.9" cy="396.5" r="7.2"/><circle cx="510.9" cy="396.5" r="7.2"/><circle cx="558.0" cy="396.5" r="7.2"/><circle cx="605.0" cy="396.5" r="7.2"/><circle cx="652.0" cy="509.9" r="7.2"/><circle cx="699.0" cy="561.3" r="7.2"/><circle cx="746.0" cy="581.4" r="7.2"/><circle cx="793.1" cy="591.4" r="7.2"/><circle cx="840.1" cy="596.4" r="7.2"/><circle cx="887.1" cy="596.9" r="7.2"/><circle cx="934.1" cy="590.8" r="7.2"/><circle cx="981.1" cy="581.2" r="7.2"/><circle cx="1028.2" cy="562.4" r="7.2"/><circle cx="1075.2" cy="509.9" r="7.2"/><circle cx="1122.2" cy="396.5" r="7.2"/><circle cx="1169.2" cy="396.5" r="7.2"/><circle cx="1216.2" cy="396.5" r="7.2"/><circle cx="1263.3" cy="396.5" r="7.2"/><circle cx="1310.3" cy="396.5" r="7.2"/><circle cx="1357.3" cy="396.5" r="7.2"/><circle cx="1404.3" cy="396.5" r="7.2"/><circle cx="1451.3" cy="396.5" r="7.2"/><circle cx="1498.4" cy="396.5" r="7.2"/><circle cx="1545.4" cy="396.5" r="7.2"/>
<circle cx="175.0" cy="769.7" r="7.2"/><circle cx="226.1" cy="766.9" r="7.2"/><circle cx="277.2" cy="772.7" r="7.2"/><circle cx="328.2" cy="766.9" r="7.2"/><circle cx="379.3" cy="767.5" r="7.2"/><circle cx="430.4" cy="769.7" r="7.2"/><circle cx="481.5" cy="767.7" r="7.2"/><circle cx="532.6" cy="771.3" r="7.2"/><circle cx="583.6" cy="839.0" r="7.2"/><circle cx="634.7" cy="859.4" r="7.2"/><circle cx="685.8" cy="878.0" r="7.2"/><circle cx="736.9" cy="874.1" r="7.2"/><circle cx="788.0" cy="889.8" r="7.2"/><circle cx="839.0" cy="881.3" r="7.2"/><circle cx="890.1" cy="887.3" r="7.2"/><circle cx="941.2" cy="879.9" r="7.2"/><circle cx="992.3" cy="885.1" r="7.2"/><circle cx="1043.4" cy="872.7" r="7.2"/><circle cx="1094.4" cy="865.0" r="7.2"/><circle cx="1145.5" cy="834.6" r="7.2"/><circle cx="1196.6" cy="773.5" r="7.2"/><circle cx="1247.7" cy="768.6" r="7.2"/><circle cx="1298.8" cy="776.6" r="7.2"/><circle cx="1349.8" cy="776.3" r="7.2"/><circle cx="1400.9" cy="768.6" r="7.2"/><circle cx="1452.0" cy="771.6" r="7.2"/><circle cx="1503.1" cy="775.5" r="7.2"/><circle cx="1554.2" cy="777.1" r="7.2"/>
</g>
<g font-family='"Liberation Sans", sans-serif' fill="#000">
<text transform="translate(148.9 19.8) scale(1 1.075)" font-size="27.25" text-anchor="end" stroke="#000" stroke-width="0.40">1.0002</text>
<text transform="translate(148.9 60.1) scale(1 1.075)" font-size="27.25" text-anchor="end" stroke="#000" stroke-width="0.40">1.0001</text>
<text transform="translate(148.9 107.2) scale(1 1.075)" font-size="27.25" text-anchor="end" stroke="#000" stroke-width="0.40">1.0000</text>
<text transform="translate(148.9 154.3) scale(1 1.075)" font-size="27.25" text-anchor="end" stroke="#000" stroke-width="0.40">0.9999</text>
<text transform="translate(148.9 201.5) scale(1 1.075)" font-size="27.25" text-anchor="end" stroke="#000" stroke-width="0.40">0.9998</text>
<text transform="translate(148.9 248.6) scale(1 1.075)" font-size="27.25" text-anchor="end" stroke="#000" stroke-width="0.40">0.9997</text>
<text transform="translate(148.9 295.7) scale(1 1.075)" font-size="27.25" text-anchor="end" stroke="#000" stroke-width="0.40">0.9996</text>
<text transform="translate(148.9 333.9) scale(1 1.075)" font-size="27.25" text-anchor="end" stroke="#000" stroke-width="0.40">0.9995</text>
<text transform="translate(148.9 405.8) scale(1 1.075)" font-size="27.25" text-anchor="end" stroke="#000" stroke-width="0.40">1.000</text>
<text transform="translate(148.9 484.4) scale(1 1.075)" font-size="27.25" text-anchor="end" stroke="#000" stroke-width="0.40">0.995</text>
<text transform="translate(148.9 562.9) scale(1 1.075)" font-size="27.25" text-anchor="end" stroke="#000" stroke-width="0.40">0.990</text>
<text transform="translate(148.9 641.5) scale(1 1.075)" font-size="27.25" text-anchor="end" stroke="#000" stroke-width="0.40">0.985</text>
<text transform="translate(148.9 680.4) scale(1 1.075)" font-size="27.25" text-anchor="end" stroke="#000" stroke-width="0.40">1.0010</text>
<text transform="translate(148.9 727.7) scale(1 1.075)" font-size="27.25" text-anchor="end" stroke="#000" stroke-width="0.40">1.0005</text>
<text transform="translate(148.9 782.7) scale(1 1.075)" font-size="27.25" text-anchor="end" stroke="#000" stroke-width="0.40">1.0000</text>
<text transform="translate(148.9 837.7) scale(1 1.075)" font-size="27.25" text-anchor="end" stroke="#000" stroke-width="0.40">0.9995</text>
<text transform="translate(148.9 892.7) scale(1 1.075)" font-size="27.25" text-anchor="end" stroke="#000" stroke-width="0.40">0.9990</text>
<text transform="translate(148.9 947.7) scale(1 1.075)" font-size="27.25" text-anchor="end" stroke="#000" stroke-width="0.40">0.9985</text>
<text transform="translate(298.1 1027.6) scale(1 1.075)" font-size="27.25" text-anchor="middle" stroke="#000" stroke-width="0.40">−4</text>
<text transform="translate(580.9 1027.6) scale(1 1.075)" font-size="27.25" text-anchor="middle" stroke="#000" stroke-width="0.40">−2</text>
<text transform="translate(863.7 1027.6) scale(1 1.075)" font-size="27.25" text-anchor="middle" stroke="#000" stroke-width="0.40">0</text>
<text transform="translate(1146.5 1027.6) scale(1 1.075)" font-size="27.25" text-anchor="middle" stroke="#000" stroke-width="0.40">2</text>
<text transform="translate(1429.3 1027.6) scale(1 1.075)" font-size="27.25" text-anchor="middle" stroke="#000" stroke-width="0.40">4</text>
<text transform="translate(235.1 266.2) scale(1 1.040)" font-size="52.40" text-anchor="start" stroke="#000" stroke-width="1.00">WASP−47 e</text>
<text transform="translate(235.1 596.0) scale(1 1.040)" font-size="52.40" text-anchor="start" stroke="#000" stroke-width="1.00">WASP−47 b</text>
<text transform="translate(235.1 926.6) scale(1 1.040)" font-size="52.40" text-anchor="start" stroke="#000" stroke-width="1.00">WASP−47 d</text>
<text transform="translate(865.3 1084.0) scale(1 1.005)" font-size="46.60" text-anchor="middle" stroke="#000" stroke-width="0.90">Hours from Midtransit</text>
<text transform="translate(33.6 497.9) rotate(-90) scale(1 1.005)" font-size="46.40" text-anchor="middle" stroke="#000" stroke-width="0.90">Relative Brightness</text>
</g>
</svg>
</body></html>
